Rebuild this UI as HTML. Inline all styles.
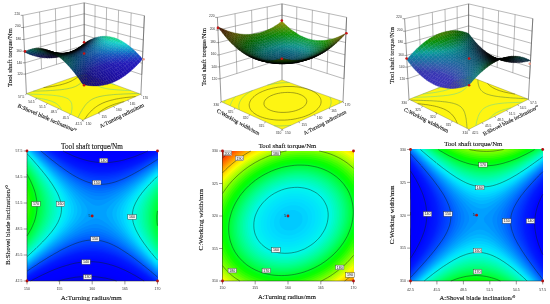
<!DOCTYPE html>
<html><head><meta charset="utf-8"><title>Response surfaces</title>
<style>
html,body{margin:0;padding:0;background:#fff}
body{width:550px;height:304px;overflow:hidden}
svg{display:block}
text{font-family:"Liberation Serif",serif;fill:#111;stroke:#111;stroke-width:.12px}
.sf path{fill:currentColor;stroke:currentColor;stroke-width:.35px}
.tk{font-family:"Liberation Sans",sans-serif;font-size:3.5px;fill:#333;stroke:none}
.tk3{font-family:"Liberation Sans",sans-serif;font-size:3.3px;fill:#333;stroke:none}
.lb{font-family:"Liberation Sans",sans-serif;font-size:3.6px;fill:#222;stroke:none}
</style></head><body>
<svg width="550" height="304" viewBox="0 0 550 304">
<rect width="550" height="304" fill="#fff"/>
<g>
<path d="M25.5,74.1L84.2,55.8L141.8,74.6M25,62.8L84.2,45.5L142.3,63.3M24.5,51.2L84.2,35.1L142.8,51.7M24,39.5L84.2,24.5L143.3,39.9M23.4,27.5L84.2,13.8L143.9,27.9M22.9,15.3L84.2,2.8L144.4,15.7M41.5,69.1L39.6,11.9M56.5,64.4L55.4,8.7M70.7,60L70.2,5.7M84.2,55.8L84.2,2.8M141.8,74.6L144.4,15.7M129.2,70.5L131.2,12.9M117.1,66.6L118.6,10.2M105.6,62.8L106.6,7.6M94.7,59.2L95.1,5.2" fill="none" stroke="#737373" stroke-width=".5"/>
<path d="M26.4,93.6L22.9,15.3M84.2,73.4L84.2,2.8M140.9,94.2L144.4,15.7" fill="none" stroke="#444" stroke-width=".55"/>
<path d="M82.8,120 140.9,94.2 84.2,73.4 26.4,93.6Z" fill="#fdf512" stroke="#6a6a30" stroke-width=".35"/>
<path d="M98.1,113.2l.4-.4 1.1-.9 2.4-1.6 1.1-.7 .1-.1 1.3-.8 2.6-1.4 1.4-.7 4.5-1.8 1.6-.6 1.7-.5 .6-.2 1.1-.3 1.7-.5 1.8-.5 1.9-.4 .8-.2" fill="none" stroke="#585816" stroke-width=".55"/>
<path d="M84.6,119.2l.7-1 2.4-3.3 .8-1 .9-1 .2-.2 .7-.8 1.9-1.9 1-.9 1-.8 .9-.7 .2-.2 1.1-.8 1.2-.8 1.2-.7 1.3-.7 2.8-1.4 3-1.2 3.2-1 1.8-.5 1.8-.4 1.1-.3 .7-.2 1.9-.4 2-.3 .8-.2 1.2-.2 2.1-.3 1.3-.2 .8-.1 2.2-.3 1.2-.1 1-.1 2.3-.2 .6-.1 1.6-.2 2.1-.1M80.4,74.8l-.1,0-.7,.7-.8,.7-.2,.1-.6,.5-.9,.7-.7,.5-.2,.1-.9,.7-1,.6-1.1,.6-.4,.2-.7,.4-1.1,.6-1.2,.5-1.3,.6-2.8,1-1.5,.5-1.5,.4-1.7,.5-1.7,.4-.5,.1-1.2,.3-1.8,.3-1.9,.4-1.2,.2-.8,.1-4,.6-.1,0-2.1,.3-2.1,.2" fill="none" stroke="#585816" stroke-width=".55"/>
<path d="M77.9,117.7l.6-1.2 .3-.5 .3-.7 .6-1.1 .6-1.2 .4-.6 .2-.5 .7-1.1 .1-.1 .5-1 .5-.8 .2-.3 .7-1 .4-.5 .3-.5 .7-1 .3-.4 .5-.6 .8-.9 1.8-1.8 1-.8 .3-.2 .8-.6 1.1-.7 1.3-.7 1.3-.6 1.5-.6 1.6-.5 1.7-.5 1.9-.4 .1,0 1.8-.4 2-.3 1.1-.2 1-.1 2.2-.3 .9,0 1.4-.2 2.3-.2 2.4-.2 1.1,0 1.3-.1 2.1-.1 .4,0 2.5-.2 .4,0 2.1-.1 1.1,0 1.5-.1 1.7,0 .9-.1 2.3-.1 3.1,0 2.4-.1M87.5,74.6l-.3,.5-.2,.3-.5,.8-.1,.1-.4,.6-.4,.7-.1,.1-.5,.8-.4,.4-.2,.3-.6,.8-.2,.2-.5,.6-2.2,2.2-.5,.4-.3,.3-1,.7-2,1.2-.1,.1-1.2,.6-1.3,.5-3,1-1.3,.3-.4,.1-1.8,.4-1.9,.4-1.7,.2-.4,.1-2.1,.3-1.8,.2-.4,0-2.2,.2-1.2,.1-1.1,.1-2.4,.2-.1,0-2.3,.1-1.1,.1-1.4,.1-2,.1-.5,0-2.6,.1-.1,0-2.4,.1-.8,0-1.8,.1-1.4,0-1.2,.1-1.9,0" fill="none" stroke="#64b273" stroke-width=".55"/>
<path d="M71,114.5l.2-.8 .1-.5 .2-.9 0-.5 .2-.9 0-.4 .2-1 0-.3 .1-1 0-1.7-.1-.9 0-.5-.1-.6-.2-.9-.1-.2-.4-1.1-.5-1-.7-.9-.3-.2-.6-.6-1-.8-1.3-.6-1.4-.6-1.6-.5-1.8-.5-.8-.1-1.1-.3-2.1-.3-1.3-.2-.8-.1-2.3-.2-.7-.1-1.6-.2-2-.1-.4,0-2.5-.2-.4,0-2.1-.1-1.1-.1-1.5-.1-1.7,0-.9-.1-2.2-.1-.4,0-2.6-.1-3.1,0-2.4-.1-.6,0M94.2,77.1l0,1.2 .1,.7 0,.3 .1,.8 0,.1 .2,.9 .3,.9 .1,.2 .3,.7 .4,.6 .1,.3 .7,.8 .5,.4 .3,.3 1,.7 1.1,.6 1.4,.6 1.5,.5 1.7,.4 1.8,.4 .7,.1 1.3,.3 2.1,.3 1,.1 1.2,.1 2.3,.2 .3,0 2,.2 1.5,.1 1,.1 2.3,.1 .1,0 2.6,.2 .5,0 2.1,.1 1,0 1.6,.1 1.5,0" fill="none" stroke="#69d496" stroke-width=".55"/>
<path d="M61.5,110.1l0-.2-.5-1.1-.5-1-.7-1-.5-.6-.3-.3-.8-.9-1-.8-1.1-.8-.8-.4-.4-.3-2.8-1.2-.6-.3-.9-.3-3.4-1-1.8-.4-1.2-.3-.7-.1-2-.4-2-.3-.1,0-2.1-.3-1.9-.2M108.7,82.4l.7,.3 1.3,.6 1.4,.5 1.5,.5 1.6,.5" fill="none" stroke="#69d496" stroke-width=".55"/>
<text x="22.7" y="75.2" class="tk3" text-anchor="end">120</text>
<text x="22.2" y="63.5" class="tk3" text-anchor="end">140</text>
<text x="21.7" y="51.6" class="tk3" text-anchor="end">160</text>
<text x="21.2" y="39.5" class="tk3" text-anchor="end">180</text>
<text x="20.6" y="27.2" class="tk3" text-anchor="end">200</text>
<text x="20.1" y="14.6" class="tk3" text-anchor="end">220</text>
<path d="M25.5,74.1h-2.2M25,62.8h-2.2M24.5,51.2h-2.2M24,39.5h-2.2M23.4,27.5h-2.2M22.9,15.3h-2.2" stroke="#444" stroke-width=".5"/>
<g class="sf">
<path color="#040604" d="M84.2,43.9l2-1.7-2,1.4-2,1.6z"/>
<path color="#040604" d="M82.1,45.5l2.1-1.6-2,1.3-2.1,1.6z"/>
<path color="#040706" d="M86.2,42.7l2-1.8-2,1.3-2,1.7z"/>
<path color="#040604" d="M80,47l2.1-1.5-2,1.3-2.1,1.5z"/>
<path color="#040604" d="M84.1,44.3l2.1-1.6-2,1.2-2.1,1.6z"/>
<path color="#040604" d="M77.9,48.4l2.1-1.4-2,1.3-2,1.4z"/>
<path color="#060b11" d="M88.2,41.6l2.1-1.8-2.1,1.1-2,1.8z"/>
<path color="#040604" d="M82,45.8l2.1-1.5-2,1.2-2.1,1.5z"/>
<path color="#040604" d="M75.8,49.7l2.1-1.3-1.9,1.3-2.1,1.2z"/>
<path color="#05080a" d="M86.1,43.2l2.1-1.6-2,1.1-2.1,1.6z"/>
<path color="#040604" d="M79.9,47.2l2.1-1.4-2,1.2-2.1,1.4z"/>
<path color="#091927" d="M90.3,40.6l2-1.7-2,.9-2.1,1.8z"/>
<path color="#040604" d="M73.7,50.9l2.1-1.2-1.9,1.2-2.2,1.2z"/>
<path color="#040706" d="M84.1,44.8l2-1.6-2,1.1-2.1,1.5z"/>
<path color="#040604" d="M77.8,48.5l2.1-1.3-2,1.2-2.1,1.3z"/>
<path color="#08111c" d="M88.2,42.3l2.1-1.7-2.1,1-2.1,1.6z"/>
<path color="#040604" d="M82,46.2l2.1-1.4-2.1,1-2.1,1.4z"/>
<path color="#040604" d="M71.6,51.9l2.1-1-2,1.2-2.1,1.1z"/>
<path color="#0c2f42" d="M92.4,39.9l2-1.8-2.1,.8-2,1.7z"/>
<path color="#040604" d="M75.7,49.7l2.1-1.2-2,1.2-2.1,1.2z"/>
<path color="#070c13" d="M86.1,43.9l2.1-1.6-2.1,.9-2,1.6z"/>
<path color="#040604" d="M79.9,47.5l2.1-1.3-2.1,1-2.1,1.3z"/>
<path color="#0b2337" d="M90.3,41.5l2.1-1.6-2.1,.7-2.1,1.7z"/>
<path color="#040604" d="M69.4,52.9l2.2-1-2,1.3-2.2,1z"/>
<path color="#05080b" d="M84,45.3l2.1-1.4-2,.9-2.1,1.4z"/>
<path color="#040604" d="M73.6,50.8l2.1-1.1-2,1.2-2.1,1z"/>
<path color="#104c5d" d="M94.5,39.2l2-1.8-2.1,.7-2,1.8z"/>
<path color="#0a192b" d="M88.2,43.1l2.1-1.6-2.1,.8-2.1,1.6z"/>
<path color="#040604" d="M77.7,48.8l2.2-1.3-2.1,1-2.1,1.2z"/>
<path color="#040605" d="M67.2,53.8l2.2-.9-2,1.3-2.1,.8z"/>
<path color="#0e3c53" d="M92.4,40.9l2.1-1.7-2.1,.7-2.1,1.6z"/>
<path color="#050707" d="M81.9,46.7l2.1-1.4-2,.9-2.1,1.3z"/>
<path color="#040604" d="M71.4,51.8l2.2-1-2,1.1-2.2,1z"/>
<path color="#091120" d="M86.1,44.6l2.1-1.5-2.1,.8-2.1,1.4z"/>
<path color="#136b76" d="M96.6,38.7l2.1-1.8-2.2,.5-2,1.8z"/>
<path color="#040604" d="M75.6,49.9l2.1-1.1-2,.9-2.1,1.1z"/>
<path color="#050608" d="M65,54.6l2.2-.8-1.9,1.2-2.2,.8z"/>
<path color="#0d2e47" d="M90.3,42.5l2.1-1.6-2.1,.6-2.1,1.6z"/>
<path color="#040604" d="M79.8,47.9l2.1-1.2-2,.8-2.2,1.3z"/>
<path color="#040604" d="M69.2,52.7l2.2-.9-2,1.1-2.2,.9z"/>
<path color="#12586d" d="M94.5,40.5l2.1-1.8-2.1,.5-2.1,1.7z"/>
<path color="#070c15" d="M84,46l2.1-1.4-2.1,.7-2.1,1.4z"/>
<path color="#040604" d="M73.4,50.9l2.2-1-2,.9-2.2,1z"/>
<path color="#168a8b" d="M98.8,38.4l2-1.9-2.1,.4-2.1,1.8z"/>
<path color="#0c223b" d="M88.2,44l2.1-1.5-2.1,.6-2.1,1.5z"/>
<path color="#06070d" d="M62.8,55.2l2.2-.6-1.9,1.2-2.2,.6z"/>
<path color="#040604" d="M77.6,49.1l2.2-1.2-2.1,.9-2.1,1.1z"/>
<path color="#104763" d="M92.4,42.1l2.1-1.6-2.1,.4-2.1,1.6z"/>
<path color="#040604" d="M67,53.5l2.2-.8-2,1.1-2.2,.8z"/>
<path color="#06090d" d="M81.8,47.2l2.2-1.2-2.1,.7-2.1,1.2z"/>
<path color="#040604" d="M71.2,51.8l2.2-.9-2,.9-2.2,.9z"/>
<path color="#147583" d="M96.7,40.2l2.1-1.8-2.2,.3-2.1,1.8z"/>
<path color="#0b192f" d="M86.1,45.4l2.1-1.4-2.1,.6-2.1,1.4z"/>
<path color="#070713" d="M60.6,55.8l2.2-.6-1.9,1.2-2.3,.6z"/>
<path color="#040604" d="M75.4,50.1l2.2-1-2,.8-2.2,1z"/>
<path color="#18a296" d="M100.9,38.2l2.1-1.9-2.2,.2-2,1.9z"/>
<path color="#0f3958" d="M90.3,43.6l2.1-1.5-2.1,.4-2.1,1.5z"/>
<path color="#040606" d="M64.8,54.2l2.2-.7-2,1.1-2.2,.6z"/>
<path color="#050707" d="M79.7,48.4l2.1-1.2-2,.7-2.2,1.2z"/>
<path color="#13627b" d="M94.6,41.8l2.1-1.6-2.2,.3-2.1,1.6z"/>
<path color="#040604" d="M69,52.6l2.2-.8-2,.9-2.2,.8z"/>
<path color="#091223" d="M83.9,46.7l2.2-1.3-2.1,.6-2.2,1.2z"/>
<path color="#179096" d="M98.8,40l2.1-1.8-2.1,.2-2.1,1.8z"/>
<path color="#040604" d="M73.3,51l2.1-.9-2,.8-2.2,.9z"/>
<path color="#0e2c4c" d="M88.2,45l2.1-1.4-2.1,.4-2.1,1.4z"/>
<path color="#08081b" d="M58.3,56.2l2.3-.4-2,1.2-2.2,.4z"/>
<path color="#19b192" d="M103.1,38.2l2.1-1.9-2.2,0-2.1,1.9z"/>
<path color="#040605" d="M77.5,49.5l2.2-1.1-2.1,.7-2.2,1z"/>
<path color="#050609" d="M62.5,54.8l2.3-.6-2,1-2.2,.6z"/>
<path color="#125171" d="M92.5,43.4l2.1-1.6-2.2,.3-2.1,1.5z"/>
<path color="#070d17" d="M81.8,47.9l2.1-1.2-2.1,.5-2.1,1.2z"/>
<path color="#040604" d="M66.8,53.3l2.2-.7-2,.9-2.2,.7z"/>
<path color="#157c8f" d="M96.7,41.7l2.1-1.7-2.1,.2-2.1,1.6z"/>
<path color="#0d223f" d="M86,46.3l2.2-1.3-2.1,.4-2.2,1.3z"/>
<path color="#040604" d="M71,51.9l2.3-.9-2.1,.8-2.2,.8z"/>
<path color="#18a8a5" d="M101,40l2.1-1.8-2.2,0-2.1,1.8z"/>
<path color="#0a0823" d="M56,56.6l2.3-.4-1.9,1.2-2.3,.3z"/>
<path color="#104367" d="M90.3,44.8l2.2-1.4-2.2,.2-2.1,1.4z"/>
<path color="#040604" d="M75.3,50.4l2.2-.9-2.1,.6-2.1,.9z"/>
<path color="#1abc8e" d="M105.3,38.4l2.1-2-2.2-.1-2.1,1.9z"/>
<path color="#06070f" d="M60.3,55.2l2.2-.4-1.9,1-2.3,.4z"/>
<path color="#06090e" d="M79.6,49l2.2-1.1-2.1,.5-2.2,1.1z"/>
<path color="#146a87" d="M94.6,43.3l2.1-1.6-2.1,.1-2.1,1.6z"/>
<path color="#040604" d="M64.5,53.9l2.3-.6-2,.9-2.3,.6z"/>
<path color="#0b1932" d="M83.9,47.5l2.1-1.2-2.1,.4-2.1,1.2z"/>
<path color="#17939f" d="M98.9,41.7l2.1-1.7-2.2,0-2.1,1.7z"/>
<path color="#040604" d="M68.8,52.6l2.2-.7-2,.7-2.2,.7z"/>
<path color="#0f365c" d="M88.2,46.1l2.1-1.3-2.1,.2-2.2,1.3z"/>
<path color="#19b8aa" d="M103.2,40.2l2.1-1.8-2.2-.2-2.1,1.8z"/>
<path color="#0b092a" d="M53.7,56.8l2.3-.2-1.9,1.1-2.3,.2z"/>
<path color="#040604" d="M73.1,51.2l2.2-.8-2,.6-2.3,.9z"/>
<path color="#13597e" d="M92.5,44.7l2.1-1.4-2.1,.1-2.2,1.4z"/>
<path color="#070816" d="M58,55.6l2.3-.4-2,1-2.3,.4z"/>
<path color="#1bc58a" d="M107.6,38.7l2-2-2.2-.3-2.1,2z"/>
<path color="#050708" d="M77.4,49.9l2.2-.9-2.1,.5-2.2,.9z"/>
<path color="#167f98" d="M96.8,43.3l2.1-1.6-2.2,0-2.1,1.6z"/>
<path color="#040606" d="M62.3,54.4l2.2-.5-2,.9-2.2,.4z"/>
<path color="#091326" d="M81.7,48.6l2.2-1.1-2.1,.4-2.2,1.1z"/>
<path color="#040604" d="M66.6,53.2l2.2-.6-2,.7-2.3,.6z"/>
<path color="#18a6ac" d="M101.1,41.9l2.1-1.7-2.2-.2-2.1,1.7z"/>
<path color="#0e2b50" d="M86,47.4l2.2-1.3-2.2,.2-2.1,1.2z"/>
<path color="#040604" d="M70.9,52l2.2-.8-2.1,.7-2.2,.7z"/>
<path color="#1ac1aa" d="M105.5,40.5l2.1-1.8-2.3-.3-2.1,1.8z"/>
<path color="#0d0a32" d="M51.4,56.9l2.3-.1-1.9,1.1-2.3,.1z"/>
<path color="#114b74" d="M90.3,46.1l2.2-1.4-2.2,.1-2.1,1.3z"/>
<path color="#040605" d="M75.2,50.8l2.2-.9-2.1,.5-2.2,.8z"/>
<path color="#09081e" d="M55.7,55.8l2.3-.2-2,1-2.3,.2z"/>
<path color="#1bcc88" d="M109.8,39.2l2.1-2-2.3-.5-2,2z"/>
<path color="#156e91" d="M94.7,44.8l2.1-1.5-2.2,0-2.1,1.4z"/>
<path color="#080e1a" d="M79.5,49.6l2.2-1-2.1,.4-2.2,.9z"/>
<path color="#05070b" d="M60,54.7l2.3-.3-2,.8-2.3,.4z"/>
<path color="#1792a7" d="M99,43.5l2.1-1.6-2.2-.2-2.1,1.6z"/>
<path color="#0d2243" d="M83.8,48.5l2.2-1.1-2.1,.1-2.2,1.1z"/>
<path color="#040604" d="M64.3,53.6l2.3-.4-2.1,.7-2.2,.5z"/>
<path color="#19b5b6" d="M103.3,42.3l2.2-1.8-2.3-.3-2.1,1.7z"/>
<path color="#113f6a" d="M88.2,47.3l2.1-1.2-2.1,0-2.2,1.3z"/>
<path color="#040604" d="M68.6,52.6l2.3-.6-2.1,.6-2.2,.6z"/>
<path color="#1ac8aa" d="M107.7,41.1l2.1-1.9-2.2-.5-2.1,1.8z"/>
<path color="#0e0b39" d="M49,56.9l2.4,0-1.9,1.1-2.4,0z"/>
<path color="#135f89" d="M92.5,46.2l2.2-1.4-2.2-.1-2.2,1.4z"/>
<path color="#040604" d="M72.9,51.5l2.3-.7-2.1,.4-2.2,.8z"/>
<path color="#1ad18a" d="M112.1,39.8l2.1-2-2.3-.6-2.1,2z"/>
<path color="#0a0926" d="M53.3,55.9l2.4-.1-2,1-2.3,.1z"/>
<path color="#060a0f" d="M77.3,50.5l2.2-.9-2.1,.3-2.2,.9z"/>
<path color="#1680a0" d="M96.9,45.1l2.1-1.6-2.2-.2-2.1,1.5z"/>
<path color="#060711" d="M57.7,55l2.3-.3-2,.9-2.3,.2z"/>
<path color="#0b1b35" d="M81.6,49.5l2.2-1-2.1,.1-2.2,1z"/>
<path color="#18a0b1" d="M101.2,43.9l2.1-1.6-2.2-.4-2.1,1.6z"/>
<path color="#040605" d="M62,54l2.3-.4-2,.8-2.3,.3z"/>
<path color="#10345e" d="M86,48.5l2.2-1.2-2.2,.1-2.2,1.1z"/>
<path color="#19bfbe" d="M105.6,42.8l2.1-1.7-2.2-.6-2.2,1.8z"/>
<path color="#040604" d="M66.3,53.1l2.3-.5-2,.6-2.3,.4z"/>
<path color="#125280" d="M90.3,47.5l2.2-1.3-2.2-.1-2.1,1.2z"/>
<path color="#1acead" d="M110,41.7l2.1-1.9-2.3-.6-2.1,1.9z"/>
<path color="#040604" d="M70.7,52.2l2.2-.7-2,.5-2.3,.6z"/>
<path color="#157099" d="M94.7,46.5l2.2-1.4-2.2-.3-2.2,1.4z"/>
<path color="#0f0c3f" d="M46.6,56.7l2.4,.2-1.9,1.1-2.4-.2z"/>
<path color="#1ad48f" d="M114.3,40.6l2.1-2-2.2-.8-2.1,2z"/>
<path color="#050708" d="M75,51.3l2.3-.8-2.1,.3-2.3,.7z"/>
<path color="#0c0a2e" d="M51,55.9l2.3,0-1.9,1-2.4,0z"/>
<path color="#178eac" d="M99.1,45.5l2.1-1.6-2.2-.4-2.1,1.6z"/>
<path color="#091428" d="M79.4,50.4l2.2-.9-2.1,.1-2.2,.9z"/>
<path color="#080819" d="M55.3,55.1l2.4-.1-2,.8-2.4,.1z"/>
<path color="#18aaba" d="M103.5,44.5l2.1-1.7-2.3-.5-2.1,1.6z"/>
<path color="#0e2b52" d="M83.8,49.5l2.2-1-2.2,0-2.2,1z"/>
<path color="#050607" d="M59.7,54.3l2.3-.3-2,.7-2.3,.3z"/>
<path color="#19c5c4" d="M107.8,43.5l2.2-1.8-2.3-.6-2.1,1.7z"/>
<path color="#114676" d="M88.1,48.6l2.2-1.1-2.1-.2-2.2,1.2z"/>
<path color="#040604" d="M64,53.5l2.3-.4-2,.5-2.3,.4z"/>
<path color="#19d1b4" d="M112.2,42.6l2.1-2-2.2-.8-2.1,1.9z"/>
<path color="#146291" d="M92.5,47.8l2.2-1.3-2.2-.3-2.2,1.3z"/>
<path color="#040604" d="M68.4,52.7l2.3-.5-2.1,.4-2.3,.5z"/>
<path color="#19d698" d="M116.6,41.6l2.1-2-2.3-1-2.1,2z"/>
<path color="#167da6" d="M96.9,46.9l2.2-1.4-2.2-.4-2.2,1.4z"/>
<path color="#040605" d="M72.8,51.9l2.2-.6-2.1,.2-2.2,.7z"/>
<path color="#100d45" d="M44.2,56.5l2.4,.2-1.9,1.1-2.4-.2z"/>
<path color="#1797b5" d="M101.3,46.1l2.2-1.6-2.3-.6-2.1,1.6z"/>
<path color="#070f1b" d="M77.2,51.2l2.2-.8-2.1,.1-2.3,.8z"/>
<path color="#0d0b35" d="M48.6,55.8l2.4,.1-2,1-2.4-.2z"/>
<path color="#0d2345" d="M81.6,50.4l2.2-.9-2.2,0-2.2,.9z"/>
<path color="#18afc0" d="M105.7,45.2l2.1-1.7-2.2-.7-2.1,1.7z"/>
<path color="#090a21" d="M53,55.1l2.3,0-2,.8-2.3,0z"/>
<path color="#103c6b" d="M85.9,49.7l2.2-1.1-2.1-.1-2.2,1z"/>
<path color="#19c6c7" d="M110.1,44.4l2.1-1.8-2.2-.9-2.2,1.8z"/>
<path color="#06070c" d="M57.3,54.4l2.4-.1-2,.7-2.4,.1z"/>
<path color="#125689" d="M90.3,48.9l2.2-1.1-2.2-.3-2.2,1.1z"/>
<path color="#040604" d="M61.7,53.8l2.3-.3-2,.5-2.3,.3z"/>
<path color="#19d3be" d="M114.5,43.6l2.1-2-2.3-1-2.1,2z"/>
<path color="#040604" d="M66.1,53.1l2.3-.4-2.1,.4-2.3,.4z"/>
<path color="#156f9f" d="M94.7,48.2l2.2-1.3-2.2-.4-2.2,1.3z"/>
<path color="#18d6a5" d="M119,42.8l2.1-2.1-2.4-1.1-2.1,2z"/>
<path color="#040604" d="M70.5,52.5l2.3-.6-2.1,.3-2.3,.5z"/>
<path color="#1686af" d="M99.2,47.5l2.1-1.4-2.2-.6-2.2,1.4z"/>
<path color="#060b10" d="M74.9,51.8l2.3-.6-2.2,.1-2.2,.6z"/>
<path color="#179cbb" d="M103.6,46.8l2.1-1.6-2.2-.7-2.2,1.6z"/>
<path color="#110e4a" d="M41.8,56.1l2.4,.4-1.9,1.1-2.4-.4z"/>
<path color="#0b1c37" d="M79.3,51.2l2.3-.8-2.2,0-2.2,.8z"/>
<path color="#18b0c4" d="M108,46.1l2.1-1.7-2.3-.9-2.1,1.7z"/>
<path color="#0e0d3b" d="M46.2,55.5l2.4,.3-2,.9-2.4-.2z"/>
<path color="#0f3460" d="M83.7,50.6l2.2-.9-2.1-.2-2.2,.9z"/>
<path color="#0b0c29" d="M50.6,55l2.4,.1-2,.8-2.4-.1z"/>
<path color="#18c3ca" d="M112.4,45.5l2.1-1.9-2.3-1-2.1,1.8z"/>
<path color="#124b80" d="M88.1,50l2.2-1.1-2.2-.3-2.2,1.1z"/>
<path color="#070913" d="M55,54.4l2.3,0-2,.7-2.3,0z"/>
<path color="#18d4cb" d="M116.9,44.8l2.1-2-2.4-1.2-2.1,2z"/>
<path color="#136298" d="M92.6,49.4l2.1-1.2-2.2-.4-2.2,1.1z"/>
<path color="#040605" d="M59.4,53.9l2.3-.1-2,.5-2.4,.1z"/>
<path color="#17d6b6" d="M121.3,44.2l2.1-2.2-2.3-1.3-2.1,2.1z"/>
<path color="#1577aa" d="M97,48.9l2.2-1.4-2.3-.6-2.2,1.3z"/>
<path color="#040604" d="M63.8,53.4l2.3-.3-2.1,.4-2.3,.3z"/>
<path color="#168bb6" d="M101.4,48.3l2.2-1.5-2.3-.7-2.1,1.4z"/>
<path color="#040604" d="M68.2,52.9l2.3-.4-2.1,.2-2.3,.4z"/>
<path color="#050809" d="M72.6,52.4l2.3-.6-2.1,.1-2.3,.6z"/>
<path color="#179dc0" d="M105.8,47.8l2.2-1.7-2.3-.9-2.1,1.6z"/>
<path color="#091629" d="M77,51.9l2.3-.7-2.1,0-2.3,.6z"/>
<path color="#17adc6" d="M110.3,47.2l2.1-1.7-2.3-1.1-2.1,1.7z"/>
<path color="#12114e" d="M39.3,55.6l2.5,.5-1.9,1.1-2.5-.5z"/>
<path color="#0e2c53" d="M81.5,51.4l2.2-.8-2.1-.2-2.3,.8z"/>
<path color="#17bccb" d="M114.7,46.7l2.2-1.9-2.4-1.2-2.1,1.9z"/>
<path color="#101241" d="M43.7,55.2l2.5,.3-2,1-2.4-.4z"/>
<path color="#114276" d="M85.9,51l2.2-1-2.2-.3-2.2,.9z"/>
<path color="#17cace" d="M119.2,46.2l2.1-2-2.3-1.4-2.1,2z"/>
<path color="#0c1030" d="M48.1,54.7l2.5,.3-2,.8-2.4-.3z"/>
<path color="#125790" d="M90.4,50.5l2.2-1.1-2.3-.5-2.2,1.1z"/>
<path color="#16d5cc" d="M123.6,45.7l2.1-2.2-2.3-1.5-2.1,2.2z"/>
<path color="#070c1b" d="M52.6,54.3l2.4,.1-2,.7-2.4-.1z"/>
<path color="#146aa3" d="M94.8,50.1l2.2-1.2-2.3-.7-2.1,1.2z"/>
<path color="#050708" d="M57,53.9l2.4,0-2.1,.5-2.3,0z"/>
<path color="#157cb1" d="M99.2,49.7l2.2-1.4-2.2-.8-2.2,1.4z"/>
<path color="#040604" d="M61.4,53.6l2.4-.2-2.1,.4-2.3,.1z"/>
<path color="#168cbb" d="M103.7,49.3l2.1-1.5-2.2-1-2.2,1.5z"/>
<path color="#040604" d="M65.9,53.2l2.3-.3-2.1,.2-2.3,.3z"/>
<path color="#169ac3" d="M108.1,48.9l2.2-1.7-2.3-1.1-2.2,1.7z"/>
<path color="#040605" d="M70.3,52.8l2.3-.4-2.1,.1-2.3,.4z"/>
<path color="#16a6c8" d="M112.6,48.5l2.1-1.8-2.3-1.2-2.1,1.7z"/>
<path color="#07111c" d="M74.8,52.5l2.2-.6-2.1-.1-2.3,.6z"/>
<path color="#16b2cb" d="M117.1,48.1l2.1-1.9-2.3-1.4-2.2,1.9z"/>
<path color="#0c2546" d="M79.2,52.2l2.3-.8-2.2-.2-2.3,.7z"/>
<path color="#15bccd" d="M121.5,47.7l2.1-2-2.3-1.5-2.1,2z"/>
<path color="#103b6b" d="M83.7,51.8l2.2-.8-2.2-.4-2.2,.8z"/>
<path color="#15c5ce" d="M126,47.4l2.1-2.2-2.4-1.7-2.1,2.2z"/>
<path color="#111853" d="M36.8,55l2.5,.6-1.9,1.1-2.5-.7z"/>
<path color="#124e87" d="M88.1,51.5l2.3-1-2.3-.5-2.2,1z"/>
<path color="#0e1747" d="M41.2,54.7l2.5,.5-1.9,.9-2.5-.5z"/>
<path color="#135f9c" d="M92.6,51.2l2.2-1.1-2.2-.7-2.2,1.1z"/>
<path color="#0b1437" d="M45.7,54.4l2.4,.3-1.9,.8-2.5-.3z"/>
<path color="#146fac" d="M97,50.9l2.2-1.2-2.2-.8-2.2,1.2z"/>
<path color="#080f23" d="M50.1,54.1l2.5,.2-2,.7-2.5-.3z"/>
<path color="#157cb7" d="M101.5,50.7l2.2-1.4-2.3-1-2.2,1.4z"/>
<path color="#05090d" d="M54.6,53.9l2.4,0-2,.5-2.4-.1z"/>
<path color="#1588bf" d="M106,50.4l2.1-1.5-2.3-1.1-2.1,1.5z"/>
<path color="#040604" d="M59.1,53.6l2.3,0-2,.3-2.4,0z"/>
<path color="#1592c4" d="M110.5,50.2l2.1-1.7-2.3-1.3-2.2,1.7z"/>
<path color="#040604" d="M63.5,53.4l2.4-.2-2.1,.2-2.4,.2z"/>
<path color="#159cc8" d="M114.9,49.9l2.2-1.8-2.4-1.4-2.1,1.8z"/>
<path color="#040604" d="M68,53.2l2.3-.4-2.1,.1-2.3,.3z"/>
<path color="#15a4ca" d="M119.4,49.7l2.1-2-2.3-1.5-2.1,1.9z"/>
<path color="#060c11" d="M72.5,53l2.3-.5-2.2-.1-2.3,.4z"/>
<path color="#14abcc" d="M123.9,49.5l2.1-2.1-2.4-1.7-2.1,2z"/>
<path color="#0a1f38" d="M76.9,52.8l2.3-.6-2.2-.3-2.2,.6z"/>
<path color="#14b1cc" d="M128.4,49.3l2.1-2.2-2.4-1.9-2.1,2.2z"/>
<path color="#0e345f" d="M81.4,52.6l2.3-.8-2.2-.4-2.3,.8z"/>
<path color="#11477e" d="M85.9,52.4l2.2-.9-2.2-.5-2.2,.8z"/>
<path color="#125695" d="M90.4,52.2l2.2-1-2.2-.7-2.3,1z"/>
<path color="#1363a6" d="M94.8,52.1l2.2-1.2-2.2-.8-2.2,1.1z"/>
<path color="#146fb2" d="M99.3,52l2.2-1.3-2.3-1-2.2,1.2z"/>
<path color="#0e1f56" d="M34.2,54.2l2.6,.8-1.9,1-2.6-.7z"/>
<path color="#1478ba" d="M103.8,51.8l2.2-1.4-2.3-1.1-2.2,1.4z"/>
<path color="#0c1d4c" d="M38.7,54l2.5,.7-1.9,.9-2.5-.6z"/>
<path color="#1480c0" d="M108.3,51.7l2.2-1.5-2.4-1.3-2.1,1.5z"/>
<path color="#0a193d" d="M43.2,53.9l2.5,.5-2,.8-2.5-.5z"/>
<path color="#1487c5" d="M112.8,51.6l2.1-1.7-2.3-1.4-2.1,1.7z"/>
<path color="#07142a" d="M47.7,53.8l2.4,.3-2,.6-2.4-.3z"/>
<path color="#148dc7" d="M117.3,51.5l2.1-1.8-2.3-1.6-2.2,1.8z"/>
<path color="#050c14" d="M52.2,53.6l2.4,.3-2,.4-2.5-.2z"/>
<path color="#1492c9" d="M121.8,51.5l2.1-2-2.4-1.8-2.1,2z"/>
<path color="#040605" d="M56.7,53.5l2.4,.1-2.1,.3-2.4,0z"/>
<path color="#1396ca" d="M126.3,51.4l2.1-2.1-2.4-1.9-2.1,2.1z"/>
<path color="#1299ca" d="M130.7,51.4l2.1-2.3-2.3-2-2.1,2.2z"/>
<path color="#040604" d="M61.1,53.4l2.4,0-2.1,.2-2.3,0z"/>
<path color="#040604" d="M65.6,53.4l2.4-.2-2.1,0-2.4,.2z"/>
<path color="#050809" d="M70.1,53.3l2.4-.3-2.2-.2-2.3,.4z"/>
<path color="#08192a" d="M74.6,53.2l2.3-.4-2.1-.3-2.3,.5z"/>
<path color="#0c2d53" d="M79.1,53.2l2.3-.6-2.2-.4-2.3,.6z"/>
<path color="#104074" d="M83.6,53.2l2.3-.8-2.2-.6-2.3,.8z"/>
<path color="#124f8d" d="M88.1,53.1l2.3-.9-2.3-.7-2.2,.9z"/>
<path color="#135b9f" d="M92.6,53.1l2.2-1-2.2-.9-2.2,1z"/>
<path color="#1464ac" d="M97.1,53.1l2.2-1.1-2.3-1.1-2.2,1.2z"/>
<path color="#146bb6" d="M101.6,53.2l2.2-1.4-2.3-1.1-2.2,1.3z"/>
<path color="#1471bc" d="M106.1,53.2l2.2-1.5-2.3-1.3-2.2,1.4z"/>
<path color="#1375c1" d="M110.6,53.2l2.2-1.6-2.3-1.4-2.2,1.5z"/>
<path color="#1379c4" d="M115.1,53.3l2.2-1.8-2.4-1.6-2.1,1.7z"/>
<path color="#137bc6" d="M119.6,53.3l2.2-1.8-2.4-1.8-2.1,1.8z"/>
<path color="#127dc7" d="M124.1,53.4l2.2-2-2.4-1.9-2.1,2z"/>
<path color="#127fc8" d="M128.6,53.5l2.1-2.1-2.3-2.1-2.1,2.1z"/>
<path color="#117fc7" d="M133.1,53.6l2.1-2.3-2.4-2.2-2.1,2.3z"/>
<path color="#0a275a" d="M31.7,53.3l2.5,.9-1.9,1.1-2.5-.9z"/>
<path color="#092550" d="M36.2,53.3l2.5,.7-1.9,1-2.6-.8z"/>
<path color="#082043" d="M40.7,53.3l2.5,.6-2,.8-2.5-.7z"/>
<path color="#061a32" d="M45.2,53.3l2.5,.5-2,.6-2.5-.5z"/>
<path color="#05111c" d="M49.7,53.3l2.5,.3-2.1,.5-2.4-.3z"/>
<path color="#040808" d="M54.2,53.3l2.5,.2-2.1,.4-2.4-.3z"/>
<path color="#040604" d="M58.7,53.4l2.4,0-2,.2-2.4-.1z"/>
<path color="#040604" d="M63.3,53.4l2.3,0-4.5,0z"/>
<path color="#040705" d="M67.8,53.5l2.3-.2-2.1-.1-2.4,.2z"/>
<path color="#06131d" d="M72.3,53.6l2.3-.4-2.1-.2-2.4,.3z"/>
<path color="#0a2745" d="M76.8,53.7l2.3-.5-2.2-.4-2.3,.4z"/>
<path color="#0e3a69" d="M81.3,53.8l2.3-.6-2.2-.6-2.3,.6z"/>
<path color="#114984" d="M85.8,53.9l2.3-.8-2.2-.7-2.3,.8z"/>
<path color="#125398" d="M90.4,54.1l2.2-1-2.2-.9-2.3,.9z"/>
<path color="#145ba6" d="M94.9,54.2l2.2-1.1-2.3-1-2.2,1z"/>
<path color="#1460b1" d="M99.4,54.4l2.2-1.2-2.3-1.2-2.2,1.1z"/>
<path color="#1564b8" d="M103.9,54.5l2.2-1.3-2.3-1.4-2.2,1.4z"/>
<path color="#1567bd" d="M108.4,54.7l2.2-1.5-2.3-1.5-2.2,1.5z"/>
<path color="#1568c1" d="M113,54.9l2.1-1.6-2.3-1.7-2.2,1.6z"/>
<path color="#1568c3" d="M117.5,55.1l2.1-1.8-2.3-1.8-2.2,1.8z"/>
<path color="#1568c4" d="M122,55.3l2.1-1.9-2.3-1.9-2.2,1.8z"/>
<path color="#1567c5" d="M126.5,55.6l2.1-2.1-2.3-2.1-2.2,2z"/>
<path color="#1465c5" d="M131,55.8l2.1-2.2-2.4-2.2-2.1,2.1z"/>
<path color="#1463c4" d="M135.5,56.1l2.1-2.4-2.4-2.4-2.1,2.3z"/>
<path color="#05345d" d="M29.1,52.3l2.6,1-1.9,1.1-2.6-1.1z"/>
<path color="#053054" d="M33.6,52.4l2.6,.9-2,.9-2.5-.9z"/>
<path color="#052a48" d="M38.1,52.5l2.6,.8-2,.7-2.5-.7z"/>
<path color="#052239" d="M42.7,52.7l2.5,.6-2,.6-2.5-.6z"/>
<path color="#041724" d="M47.2,52.8l2.5,.5-2,.5-2.5-.5z"/>
<path color="#040b0e" d="M51.8,53l2.4,.3-2,.3-2.5-.3z"/>
<path color="#040604" d="M56.3,53.2l2.4,.2-2,.1-2.5-.2z"/>
<path color="#040604" d="M60.8,53.4l2.5,0-4.6,0z"/>
<path color="#040604" d="M65.4,53.6l2.4-.1-2.2-.1-2.3,0z"/>
<path color="#1a49c1" d="M138,58.7l2.1-2.4-2.5-2.6-2.1,2.4z"/>
<path color="#050d12" d="M69.9,53.8l2.4-.2-2.2-.3-2.3,.2z"/>
<path color="#194dc2" d="M133.4,58.3l2.1-2.2-2.4-2.5-2.1,2.2z"/>
<path color="#092238" d="M74.5,54.1l2.3-.4-2.2-.5-2.3,.4z"/>
<path color="#194fc3" d="M128.9,57.9l2.1-2.1-2.4-2.3-2.1,2.1z"/>
<path color="#0c355d" d="M79,54.3l2.3-.5-2.2-.6-2.3,.5z"/>
<path color="#1952c2" d="M124.4,57.5l2.1-1.9-2.4-2.2-2.1,1.9z"/>
<path color="#0f437b" d="M83.6,54.6l2.2-.7-2.2-.7-2.3,.6z"/>
<path color="#1855c2" d="M119.9,57.1l2.1-1.8-2.4-2-2.1,1.8z"/>
<path color="#124d90" d="M88.1,54.9l2.3-.8-2.3-1-2.3,.8z"/>
<path color="#1857c0" d="M115.3,56.8l2.2-1.7-2.4-1.8-2.1,1.6z"/>
<path color="#1354a0" d="M92.6,55.2l2.3-1-2.3-1.1-2.2,1z"/>
<path color="#1759bd" d="M110.8,56.4l2.2-1.5-2.4-1.7-2.2,1.5z"/>
<path color="#1558ab" d="M97.2,55.5l2.2-1.1-2.3-1.3-2.2,1.1z"/>
<path color="#175ab9" d="M106.3,56.1l2.1-1.4-2.3-1.5-2.2,1.3z"/>
<path color="#165ab3" d="M101.7,55.8l2.2-1.3-2.3-1.3-2.2,1.2z"/>
<path color="#2134bf" d="M140.4,61.5l2.1-2.4-2.4-2.8-2.1,2.4z"/>
<path color="#1f38bf" d="M135.9,60.9l2.1-2.2-2.5-2.6-2.1,2.2z"/>
<path color="#1e3cc0" d="M131.3,60.4l2.1-2.1-2.4-2.5-2.1,2.1z"/>
<path color="#1d41c0" d="M126.8,59.9l2.1-2-2.4-2.3-2.1,1.9z"/>
<path color="#1c44bf" d="M122.2,59.3l2.2-1.8-2.4-2.2-2.1,1.8z"/>
<path color="#1b48be" d="M117.7,58.8l2.2-1.7-2.4-2-2.2,1.7z"/>
<path color="#1a4bbd" d="M113.1,58.3l2.2-1.5-2.3-1.9-2.2,1.5z"/>
<path color="#194db9" d="M108.6,57.8l2.2-1.4-2.4-1.7-2.1,1.4z"/>
<path color="#184fb5" d="M104,57.4l2.3-1.3-2.4-1.6-2.2,1.3z"/>
<path color="#1651af" d="M99.5,56.9l2.2-1.1-2.3-1.4-2.2,1.1z"/>
<path color="#1451a6" d="M94.9,56.4l2.3-.9-2.3-1.3-2.3,1z"/>
<path color="#134e99" d="M90.4,56l2.2-.8-2.2-1.1-2.3,.8z"/>
<path color="#104988" d="M85.8,55.6l2.3-.7-2.3-1-2.2,.7z"/>
<path color="#0e3f71" d="M81.2,55.1l2.4-.5-2.3-.8-2.3,.5z"/>
<path color="#0a3051" d="M76.7,54.7l2.3-.4-2.2-.6-2.3,.4z"/>
<path color="#071b2a" d="M72.1,54.3l2.4-.2-2.2-.5-2.4,.2z"/>
<path color="#04435f" d="M26.4,51.1l2.7,1.2-1.9,1-2.7-1.1z"/>
<path color="#040909" d="M67.6,54l2.3-.2-2.1-.3-2.4,.1z"/>
<path color="#043d57" d="M31,51.4l2.6,1-1.9,.9-2.6-1z"/>
<path color="#040604" d="M63,53.6l2.4,0-2.1-.2-2.5,0z"/>
<path color="#04364d" d="M35.6,51.7l2.5,.8-1.9,.8-2.6-.9z"/>
<path color="#040604" d="M58.4,53.2l2.4,.2-2.1,0-2.4-.2z"/>
<path color="#042c3f" d="M40.1,51.9l2.6,.8-2,.6-2.6-.8z"/>
<path color="#040705" d="M53.8,52.9l2.5,.3-2.1,.1-2.4-.3z"/>
<path color="#041f2c" d="M44.7,52.3l2.5,.5-2,.5-2.5-.6z"/>
<path color="#041015" d="M49.3,52.6l2.5,.4-2.1,.3-2.5-.5z"/>
<path color="#2422bd" d="M138.3,63.8l2.1-2.3-2.4-2.8-2.1,2.2z"/>
<path color="#2428bd" d="M133.7,63.1l2.2-2.2-2.5-2.6-2.1,2.1z"/>
<path color="#232ebd" d="M129.2,62.4l2.1-2-2.4-2.5-2.1,2z"/>
<path color="#2133bd" d="M124.6,61.7l2.2-1.8-2.4-2.4-2.2,1.8z"/>
<path color="#1f39bc" d="M120.1,61.1l2.1-1.8-2.3-2.2-2.2,1.7z"/>
<path color="#1d3dbb" d="M115.5,60.4l2.2-1.6-2.4-2-2.2,1.5z"/>
<path color="#1c42b9" d="M111,59.8l2.1-1.5-2.3-1.9-2.2,1.4z"/>
<path color="#1a45b5" d="M106.4,59.1l2.2-1.3-2.3-1.7-2.3,1.3z"/>
<path color="#1848b0" d="M101.8,58.5l2.2-1.1-2.3-1.6-2.2,1.1z"/>
<path color="#164aa9" d="M97.2,57.9l2.3-1-2.3-1.4-2.3,.9z"/>
<path color="#144b9f" d="M92.7,57.3l2.2-.9-2.3-1.2-2.2,.8z"/>
<path color="#114a92" d="M88.1,56.7l2.3-.7-2.3-1.1-2.3,.7z"/>
<path color="#0f457f" d="M83.5,56.1l2.3-.5-2.2-1-2.4,.5z"/>
<path color="#0c3b66" d="M78.9,55.6l2.3-.5-2.2-.8-2.3,.4z"/>
<path color="#092b44" d="M74.3,55l2.4-.3-2.2-.6-2.4,.2z"/>
<path color="#06151d" d="M69.7,54.5l2.4-.2-2.2-.5-2.3,.2z"/>
<path color="#040705" d="M65.1,54l2.5,0-2.2-.4-2.4,0z"/>
<path color="#231bbb" d="M136.2,66l2.1-2.2-2.4-2.9-2.2,2.2z"/>
<path color="#040604" d="M60.5,53.5l2.5,.1-2.2-.2-2.4-.2z"/>
<path color="#040604" d="M56,53l2.4,.2-2.1,0-2.5-.3z"/>
<path color="#040909" d="M51.4,52.5l2.4,.4-2,.1-2.5-.4z"/>
<path color="#04181d" d="M46.8,52l2.5,.6-2.1,.2-2.5-.5z"/>
<path color="#231cba" d="M131.6,65.1l2.1-2-2.4-2.7-2.1,2z"/>
<path color="#042933" d="M42.2,51.5l2.5,.8-2,.4-2.6-.8z"/>
<path color="#043744" d="M37.5,51.1l2.6,.8-2,.6-2.5-.8z"/>
<path color="#044351" d="M32.9,50.6l2.7,1.1-2,.7-2.6-1z"/>
<path color="#044c5b" d="M28.3,50.2l2.7,1.2-1.9,.9-2.7-1.2z"/>
<path color="#2320bb" d="M127,64.3l2.2-1.9-2.4-2.5-2.2,1.8z"/>
<path color="#2328ba" d="M122.5,63.5l2.1-1.8-2.4-2.4-2.1,1.8z"/>
<path color="#222eb9" d="M117.9,62.7l2.2-1.6-2.4-2.3-2.2,1.6z"/>
<path color="#1f34b8" d="M113.3,61.9l2.2-1.5-2.4-2.1-2.1,1.5z"/>
<path color="#1d3ab5" d="M108.7,61.1l2.3-1.3-2.4-2-2.2,1.3z"/>
<path color="#1b3fb1" d="M104.2,60.3l2.2-1.2-2.4-1.7-2.2,1.1z"/>
<path color="#1843ac" d="M99.6,59.5l2.2-1-2.3-1.6-2.3,1z"/>
<path color="#1645a4" d="M95,58.8l2.2-.9-2.3-1.5-2.2,.9z"/>
<path color="#134799" d="M90.4,58l2.3-.7-2.3-1.3-2.3,.7z"/>
<path color="#2218b9" d="M134,68.1l2.2-2.1-2.5-2.9-2.1,2z"/>
<path color="#10478a" d="M85.8,57.3l2.3-.6-2.3-1.1-2.3,.5z"/>
<path color="#0d4276" d="M81.2,56.6l2.3-.5-2.3-1-2.3,.5z"/>
<path color="#2219b8" d="M129.5,67.1l2.1-2-2.4-2.7-2.2,1.9z"/>
<path color="#0a375a" d="M76.6,55.9l2.3-.3-2.2-.9-2.4,.3z"/>
<path color="#072537" d="M71.9,55.2l2.4-.2-2.2-.7-2.4,.2z"/>
<path color="#231bb8" d="M124.9,66.1l2.1-1.8-2.4-2.6-2.1,1.8z"/>
<path color="#050f12" d="M67.3,54.5l2.4,0-2.1-.5-2.5,0z"/>
<path color="#040604" d="M62.7,53.8l2.4,.2-2.1-.4-2.5-.1z"/>
<path color="#231db7" d="M120.3,65.1l2.2-1.6-2.4-2.4-2.2,1.6z"/>
<path color="#040604" d="M58.1,53.2l2.4,.3-2.1-.3-2.4-.2z"/>
<path color="#2325b6" d="M115.7,64.2l2.2-1.5-2.4-2.3-2.2,1.5z"/>
<path color="#040604" d="M53.5,52.5l2.5,.5-2.2-.1-2.4-.4z"/>
<path color="#040e0e" d="M48.8,51.9l2.6,.6-2.1,.1-2.5-.6z"/>
<path color="#042124" d="M44.2,51.3l2.6,.7-2.1,.3-2.5-.8z"/>
<path color="#212db4" d="M111.1,63.2l2.2-1.3-2.3-2.1-2.3,1.3z"/>
<path color="#043439" d="M39.6,50.7l2.6,.8-2.1,.4-2.6-.8z"/>
<path color="#044549" d="M34.9,50.1l2.6,1-1.9,.6-2.7-1.1z"/>
<path color="#1e34b1" d="M106.5,62.3l2.2-1.2-2.3-2-2.2,1.2z"/>
<path color="#045255" d="M30.3,49.5l2.6,1.1-1.9,.8-2.7-1.2z"/>
<path color="#1b3aad" d="M101.9,61.4l2.3-1.1-2.4-1.8-2.2,1z"/>
<path color="#183ea6" d="M97.3,60.5l2.3-1-2.4-1.6-2.2,.9z"/>
<path color="#2216b6" d="M131.9,70l2.1-1.9-2.4-3-2.1,2z"/>
<path color="#15429e" d="M92.7,59.6l2.3-.8-2.3-1.5-2.3,.7z"/>
<path color="#2217b5" d="M127.3,68.9l2.2-1.8-2.5-2.8-2.1,1.8z"/>
<path color="#114592" d="M88.1,58.7l2.3-.7-2.3-1.3-2.3,.6z"/>
<path color="#0e4582" d="M83.4,57.8l2.4-.5-2.3-1.2-2.3,.5z"/>
<path color="#2219b5" d="M122.7,67.8l2.2-1.7-2.4-2.6-2.2,1.6z"/>
<path color="#0b3f6c" d="M78.8,56.9l2.4-.3-2.3-1-2.3,.3z"/>
<path color="#221ab4" d="M118.1,66.7l2.2-1.6-2.4-2.4-2.2,1.5z"/>
<path color="#08334e" d="M74.2,56.1l2.4-.2-2.3-.9-2.4,.2z"/>
<path color="#061f29" d="M69.5,55.2l2.4,0-2.2-.7-2.4,0z"/>
<path color="#221db2" d="M113.5,65.6l2.2-1.4-2.4-2.3-2.2,1.3z"/>
<path color="#040a0a" d="M64.9,54.4l2.4,.1-2.2-.5-2.4-.2z"/>
<path color="#2127b0" d="M108.9,64.5l2.2-1.3-2.4-2.1-2.2,1.2z"/>
<path color="#040604" d="M60.2,53.6l2.5,.2-2.2-.3-2.4-.3z"/>
<path color="#040604" d="M55.6,52.8l2.5,.4-2.1-.2-2.5-.5z"/>
<path color="#1e2fad" d="M104.3,63.4l2.2-1.1-2.3-2-2.3,1.1z"/>
<path color="#040705" d="M50.9,52l2.6,.5-2.1,0-2.6-.6z"/>
<path color="#2114b3" d="M129.7,71.9l2.2-1.9-2.4-2.9-2.2,1.8z"/>
<path color="#1b36a8" d="M99.7,62.3l2.2-.9-2.3-1.9-2.3,1z"/>
<path color="#041515" d="M46.3,51.2l2.5,.7-2,.1-2.6-.7z"/>
<path color="#042c2c" d="M41.6,50.4l2.6,.9-2,.2-2.6-.8z"/>
<path color="#173ca1" d="M95,61.3l2.3-.8-2.3-1.7-2.3,.8z"/>
<path color="#2116b2" d="M125.1,70.6l2.2-1.7-2.4-2.8-2.2,1.7z"/>
<path color="#04413e" d="M36.9,49.7l2.7,1-2.1,.4-2.6-1z"/>
<path color="#045047" d="M32.3,48.9l2.6,1.2-2,.5-2.6-1.1z"/>
<path color="#133f98" d="M90.4,60.2l2.3-.6-2.3-1.6-2.3,.7z"/>
<path color="#2117b2" d="M120.5,69.3l2.2-1.5-2.4-2.7-2.2,1.6z"/>
<path color="#10438b" d="M85.7,59.2l2.4-.5-2.3-1.4-2.4,.5z"/>
<path color="#2119b1" d="M115.9,68.1l2.2-1.4-2.4-2.5-2.2,1.4z"/>
<path color="#0c4379" d="M81.1,58.1l2.3-.3-2.2-1.2-2.4,.3z"/>
<path color="#093d61" d="M76.4,57.1l2.4-.2-2.2-1-2.4,.2z"/>
<path color="#211aaf" d="M111.3,66.8l2.2-1.2-2.4-2.4-2.2,1.3z"/>
<path color="#072e41" d="M71.8,56.1l2.4,0-2.3-.9-2.4,0z"/>
<path color="#2022ac" d="M106.7,65.6l2.2-1.1-2.4-2.2-2.2,1.1z"/>
<path color="#05181d" d="M67.1,55.1l2.4,.1-2.2-.7-2.4-.1z"/>
<path color="#2112b1" d="M127.6,73.6l2.1-1.7-2.4-3-2.2,1.7z"/>
<path color="#1e2ba8" d="M102,64.4l2.3-1-2.4-2-2.2,.9z"/>
<path color="#040705" d="M62.4,54.2l2.5,.2-2.2-.6-2.5-.2z"/>
<path color="#040604" d="M57.8,53.2l2.4,.4-2.1-.4-2.5-.4z"/>
<path color="#1a33a3" d="M97.4,63.1l2.3-.8-2.4-1.8-2.3,.8z"/>
<path color="#2014af" d="M123,72.2l2.1-1.6-2.4-2.8-2.2,1.5z"/>
<path color="#040604" d="M53.1,52.2l2.5,.6-2.1-.3-2.6-.5z"/>
<path color="#163a9b" d="M92.7,61.9l2.3-.6-2.3-1.7-2.3,.6z"/>
<path color="#040a08" d="M48.4,51.3l2.5,.7-2.1-.1-2.5-.7z"/>
<path color="#2016ae" d="M118.3,70.8l2.2-1.5-2.4-2.6-2.2,1.4z"/>
<path color="#041f1b" d="M43.7,50.4l2.6,.8-2.1,.1-2.6-.9z"/>
<path color="#123f91" d="M88.1,60.7l2.3-.5-2.3-1.5-2.4,.5z"/>
<path color="#2017ad" d="M113.7,69.4l2.2-1.3-2.4-2.5-2.2,1.2z"/>
<path color="#04352b" d="M39,49.4l2.6,1-2,.3-2.7-1z"/>
<path color="#0e4383" d="M83.4,59.6l2.3-.4-2.3-1.4-2.3,.3z"/>
<path color="#044734" d="M34.3,48.5l2.6,1.2-2,.4-2.6-1.2z"/>
<path color="#2019ab" d="M109.1,68l2.2-1.2-2.4-2.3-2.2,1.1z"/>
<path color="#0a4270" d="M78.7,58.4l2.4-.3-2.3-1.2-2.4,.2z"/>
<path color="#083a56" d="M74,57.2l2.4-.1-2.2-1-2.4,0z"/>
<path color="#201ea8" d="M104.4,66.6l2.3-1-2.4-2.2-2.3,1z"/>
<path color="#2011ae" d="M125.4,75.3l2.2-1.7-2.5-3-2.1,1.6z"/>
<path color="#062935" d="M69.3,56.1l2.5,0-2.3-.9-2.4-.1z"/>
<path color="#1d29a4" d="M99.7,65.2l2.3-.8-2.3-2.1-2.3,.8z"/>
<path color="#2013ac" d="M120.8,73.7l2.2-1.5-2.5-2.9-2.2,1.5z"/>
<path color="#051112" d="M64.6,54.9l2.5,.2-2.2-.7-2.5-.2z"/>
<path color="#19329e" d="M95.1,63.9l2.3-.8-2.4-1.8-2.3,.6z"/>
<path color="#040604" d="M59.9,53.8l2.5,.4-2.2-.6-2.4-.4z"/>
<path color="#2014ab" d="M116.1,72.1l2.2-1.3-2.4-2.7-2.2,1.3z"/>
<path color="#040604" d="M55.2,52.7l2.6,.5-2.2-.4-2.5-.6z"/>
<path color="#143995" d="M90.4,62.5l2.3-.6-2.3-1.7-2.3,.5z"/>
<path color="#1f16a9" d="M111.5,70.6l2.2-1.2-2.4-2.6-2.2,1.2z"/>
<path color="#040604" d="M50.5,51.6l2.6,.6-2.2-.2-2.5-.7z"/>
<path color="#103f8a" d="M85.7,61.2l2.4-.5-2.4-1.5-2.3,.4z"/>
<path color="#04100c" d="M45.8,50.5l2.6,.8-2.1-.1-2.6-.8z"/>
<path color="#1f18a7" d="M106.8,69l2.3-1-2.4-2.4-2.3,1z"/>
<path color="#0c437b" d="M81,59.8l2.4-.2-2.3-1.5-2.4,.3z"/>
<path color="#04261b" d="M41.1,49.4l2.6,1-2.1,0-2.6-1z"/>
<path color="#1f10ab" d="M123.2,76.8l2.2-1.5-2.4-3.1-2.2,1.5z"/>
<path color="#043b24" d="M36.3,48.3l2.7,1.1-2.1,.3-2.6-1.2z"/>
<path color="#094166" d="M76.3,58.5l2.4-.1-2.3-1.3-2.4,.1z"/>
<path color="#1f1ca4" d="M102.1,67.5l2.3-.9-2.4-2.2-2.3,.8z"/>
<path color="#07374a" d="M71.6,57.2l2.4,0-2.2-1.1-2.5,0z"/>
<path color="#1f11a9" d="M118.6,75.1l2.2-1.4-2.5-2.9-2.2,1.3z"/>
<path color="#1c279f" d="M97.4,66l2.3-.8-2.3-2.1-2.3,.8z"/>
<path color="#062228" d="M66.9,55.9l2.4,.2-2.2-1-2.5-.2z"/>
<path color="#1f13a8" d="M113.9,73.4l2.2-1.3-2.4-2.7-2.2,1.2z"/>
<path color="#173198" d="M92.7,64.5l2.4-.6-2.4-2-2.3,.6z"/>
<path color="#040b0a" d="M62.1,54.6l2.5,.3-2.2-.7-2.5-.4z"/>
<path color="#12388f" d="M88,62.9l2.4-.4-2.3-1.8-2.4,.5z"/>
<path color="#040604" d="M57.4,53.3l2.5,.5-2.1-.6-2.6-.5z"/>
<path color="#1f15a6" d="M109.2,71.7l2.3-1.1-2.4-2.6-2.3,1z"/>
<path color="#040604" d="M52.7,52l2.5,.7-2.1-.5-2.6-.6z"/>
<path color="#0e4083" d="M83.3,61.4l2.4-.2-2.3-1.6-2.4,.2z"/>
<path color="#1e17a3" d="M104.5,70l2.3-1-2.4-2.4-2.3,.9z"/>
<path color="#1f0fa8" d="M121,78.2l2.2-1.4-2.4-3.1-2.2,1.4z"/>
<path color="#040705" d="M47.9,50.8l2.6,.8-2.1-.3-2.6-.8z"/>
<path color="#094372" d="M78.6,60l2.4-.2-2.3-1.4-2.4,.1z"/>
<path color="#04160e" d="M43.2,49.5l2.6,1-2.1-.1-2.6-1z"/>
<path color="#1e1b9f" d="M99.8,68.3l2.3-.8-2.4-2.3-2.3,.8z"/>
<path color="#1e10a6" d="M116.3,76.3l2.3-1.2-2.5-3-2.2,1.3z"/>
<path color="#08405c" d="M73.9,58.5l2.4,0-2.3-1.3-2.4,0z"/>
<path color="#042d17" d="M38.4,48.3l2.7,1.1-2.1,0-2.7-1.1z"/>
<path color="#1b279a" d="M95.1,66.6l2.3-.6-2.3-2.1-2.4,.6z"/>
<path color="#07333e" d="M69.1,57l2.5,.2-2.3-1.1-2.4-.2z"/>
<path color="#1e13a4" d="M111.6,74.5l2.3-1.1-2.4-2.8-2.3,1.1z"/>
<path color="#153192" d="M90.4,64.9l2.3-.4-2.3-2-2.4,.4z"/>
<path color="#051b1c" d="M64.4,55.5l2.5,.4-2.3-1-2.5-.3z"/>
<path color="#1e15a2" d="M106.9,72.6l2.3-.9-2.4-2.7-2.3,1z"/>
<path color="#040705" d="M59.6,54.1l2.5,.5-2.2-.8-2.5-.5z"/>
<path color="#103989" d="M85.7,63.3l2.3-.4-2.3-1.7-2.4,.2z"/>
<path color="#1e0fa4" d="M118.8,79.5l2.2-1.3-2.4-3.1-2.3,1.2z"/>
<path color="#040604" d="M54.9,52.7l2.5,.6-2.2-.6-2.5-.7z"/>
<path color="#1d169f" d="M102.2,70.8l2.3-.8-2.4-2.5-2.3,.8z"/>
<path color="#0b417c" d="M80.9,61.6l2.4-.2-2.3-1.6-2.4,.2z"/>
<path color="#040604" d="M50.1,51.2l2.6,.8-2.2-.4-2.6-.8z"/>
<path color="#1d1b9a" d="M97.5,68.9l2.3-.6-2.4-2.3-2.3,.6z"/>
<path color="#08446a" d="M76.2,60l2.4,0-2.3-1.5-2.4,0z"/>
<path color="#1e10a2" d="M114.1,77.5l2.2-1.2-2.4-2.9-2.3,1.1z"/>
<path color="#040a06" d="M45.3,49.8l2.6,1-2.1-.3-2.6-1z"/>
<path color="#073e51" d="M71.4,58.3l2.5,.2-2.3-1.3-2.5-.2z"/>
<path color="#192895" d="M92.8,67.1l2.3-.5-2.4-2.1-2.3,.4z"/>
<path color="#041e0d" d="M40.5,48.4l2.7,1.1-2.1-.1-2.7-1.1z"/>
<path color="#1d12a0" d="M109.4,75.5l2.2-1-2.4-2.8-2.3,.9z"/>
<path color="#062d32" d="M66.6,56.7l2.5,.3-2.2-1.1-2.5-.4z"/>
<path color="#13328d" d="M88,65.3l2.4-.4-2.4-2-2.3,.4z"/>
<path color="#1d149e" d="M104.6,73.5l2.3-.9-2.4-2.6-2.3,.8z"/>
<path color="#051311" d="M61.9,55.1l2.5,.4-2.3-.9-2.5-.5z"/>
<path color="#0e3b82" d="M83.3,63.5l2.4-.2-2.4-1.9-2.4,.2z"/>
<path color="#1e0fa1" d="M116.5,80.7l2.3-1.2-2.5-3.2-2.2,1.2z"/>
<path color="#1d169a" d="M99.9,71.5l2.3-.7-2.4-2.5-2.3,.6z"/>
<path color="#040604" d="M57.1,53.5l2.5,.6-2.2-.8-2.5-.6z"/>
<path color="#094374" d="M78.5,61.6l2.4,0-2.3-1.6-2.4,0z"/>
<path color="#1d0f9f" d="M111.8,78.5l2.3-1-2.5-3-2.2,1z"/>
<path color="#040604" d="M52.3,51.9l2.6,.8-2.2-.7-2.6-.8z"/>
<path color="#1c1c96" d="M95.2,69.5l2.3-.6-2.4-2.3-2.3,.5z"/>
<path color="#074460" d="M73.7,59.8l2.5,.2-2.3-1.5-2.5-.2z"/>
<path color="#040604" d="M47.4,50.3l2.7,.9-2.2-.4-2.6-1z"/>
<path color="#1d119d" d="M107.1,76.4l2.3-.9-2.5-2.9-2.3,.9z"/>
<path color="#17298f" d="M90.4,67.5l2.4-.4-2.4-2.2-2.4,.4z"/>
<path color="#040f07" d="M42.6,48.7l2.7,1.1-2.1-.3-2.7-1.1z"/>
<path color="#063b46" d="M68.9,58.1l2.5,.2-2.3-1.3-2.5-.3z"/>
<path color="#1c149a" d="M102.3,74.2l2.3-.7-2.4-2.7-2.3,.7z"/>
<path color="#113487" d="M85.6,65.5l2.4-.2-2.3-2-2.4,.2z"/>
<path color="#052626" d="M64.1,56.3l2.5,.4-2.2-1.2-2.5-.4z"/>
<path color="#1d0f9e" d="M114.3,81.8l2.2-1.1-2.4-3.2-2.3,1z"/>
<path color="#040c09" d="M59.3,54.5l2.6,.6-2.3-1-2.5-.6z"/>
<path color="#0b3e7b" d="M80.8,63.5l2.5,0-2.4-1.9-2.4,0z"/>
<path color="#1c1696" d="M97.6,72l2.3-.5-2.4-2.6-2.3,.6z"/>
<path color="#1c0f9b" d="M109.5,79.4l2.3-.9-2.4-3-2.3,.9z"/>
<path color="#040604" d="M54.5,52.7l2.6,.8-2.2-.8-2.6-.8z"/>
<path color="#07456b" d="M76,61.6l2.5,0-2.3-1.6-2.5-.2z"/>
<path color="#1b1e91" d="M92.8,69.9l2.4-.4-2.4-2.4-2.4,.4z"/>
<path color="#040604" d="M49.6,51l2.7,.9-2.2-.7-2.7-.9z"/>
<path color="#1c1199" d="M104.8,77.1l2.3-.7-2.5-2.9-2.3,.7z"/>
<path color="#074456" d="M71.2,59.6l2.5,.2-2.3-1.5-2.5-.2z"/>
<path color="#152b8a" d="M88,67.7l2.4-.2-2.4-2.2-2.4,.2z"/>
<path color="#040704" d="M44.8,49.2l2.6,1.1-2.1-.5-2.7-1.1z"/>
<path color="#06373b" d="M66.4,57.6l2.5,.5-2.3-1.4-2.5-.4z"/>
<path color="#1c1396" d="M100,74.8l2.3-.6-2.4-2.7-2.3,.5z"/>
<path color="#1c0e9a" d="M112,82.7l2.3-.9-2.5-3.3-2.3,.9z"/>
<path color="#0e3680" d="M83.2,65.6l2.4-.1-2.3-2-2.5,0z"/>
<path color="#051d1a" d="M61.6,55.7l2.5,.6-2.2-1.2-2.6-.6z"/>
<path color="#1b1591" d="M95.2,72.5l2.4-.5-2.4-2.5-2.4,.4z"/>
<path color="#084174" d="M78.4,63.5l2.4,0-2.3-1.9-2.5,0z"/>
<path color="#1c0e97" d="M107.2,80.2l2.3-.8-2.4-3-2.3,.7z"/>
<path color="#040705" d="M56.7,53.8l2.6,.7-2.2-1-2.6-.8z"/>
<path color="#19218b" d="M90.4,70.2l2.4-.3-2.4-2.4-2.4,.2z"/>
<path color="#074763" d="M73.6,61.3l2.4,.3-2.3-1.8-2.5-.2z"/>
<path color="#040604" d="M51.8,51.8l2.7,.9-2.2-.8-2.7-.9z"/>
<path color="#1b1195" d="M102.4,77.7l2.4-.6-2.5-2.9-2.3,.6z"/>
<path color="#06434c" d="M68.7,59.2l2.5,.4-2.3-1.5-2.5-.5z"/>
<path color="#122e84" d="M85.6,67.9l2.4-.2-2.4-2.2-2.4,.1z"/>
<path color="#040604" d="M47,49.9l2.6,1.1-2.2-.7-2.6-1.1z"/>
<path color="#1b1391" d="M97.6,75.3l2.4-.5-2.4-2.8-2.4,.5z"/>
<path color="#1c0e97" d="M109.7,83.5l2.3-.8-2.5-3.3-2.3,.8z"/>
<path color="#05312f" d="M63.8,57.1l2.6,.5-2.3-1.3-2.5-.6z"/>
<path color="#0b3a7a" d="M80.8,65.6l2.4,0-2.4-2.1-2.4,0z"/>
<path color="#1a158c" d="M92.8,72.8l2.4-.3-2.4-2.6-2.4,.3z"/>
<path color="#04130e" d="M59,55l2.6,.7-2.3-1.2-2.6-.7z"/>
<path color="#1b0e94" d="M104.9,80.9l2.3-.7-2.4-3.1-2.4,.6z"/>
<path color="#07456c" d="M75.9,63.3l2.5,.2-2.4-1.9-2.4-.3z"/>
<path color="#040604" d="M54.1,52.9l2.6,.9-2.2-1.1-2.7-.9z"/>
<path color="#172486" d="M88,70.3l2.4-.1-2.4-2.5-2.4,.2z"/>
<path color="#1b1191" d="M100.1,78.3l2.3-.6-2.4-2.9-2.4,.5z"/>
<path color="#06485a" d="M71,61l2.6,.3-2.4-1.7-2.5-.4z"/>
<path color="#040604" d="M49.2,50.8l2.6,1-2.2-.8-2.6-1.1z"/>
<path color="#0f317e" d="M83.1,67.8l2.5,.1-2.4-2.3-2.4,0z"/>
<path color="#064042" d="M66.2,58.7l2.5,.5-2.3-1.6-2.6-.5z"/>
<path color="#1b0e93" d="M107.4,84.3l2.3-.8-2.5-3.3-2.3,.7z"/>
<path color="#1a138d" d="M95.3,75.6l2.3-.3-2.4-2.8-2.4,.3z"/>
<path color="#083f73" d="M78.3,65.4l2.5,.2-2.4-2.1-2.5-.2z"/>
<path color="#05261f" d="M61.3,56.4l2.5,.7-2.2-1.4-2.6-.7z"/>
<path color="#191888" d="M90.4,73l2.4-.2-2.4-2.6-2.4,.1z"/>
<path color="#1b0e90" d="M102.5,81.5l2.4-.6-2.5-3.2-2.3,.6z"/>
<path color="#040c07" d="M56.4,54.1l2.6,.9-2.3-1.2-2.6-.9z"/>
<path color="#064864" d="M73.4,62.9l2.5,.4-2.3-2-2.6-.3z"/>
<path color="#142881" d="M85.5,70.3l2.5,0-2.4-2.4-2.5-.1z"/>
<path color="#1a118d" d="M97.7,78.6l2.4-.3-2.5-3-2.3,.3z"/>
<path color="#040604" d="M51.4,51.9l2.7,1-2.3-1.1-2.6-1z"/>
<path color="#064951" d="M68.5,60.5l2.5,.5-2.3-1.8-2.5-.5z"/>
<path color="#1b0e90" d="M105,84.8l2.4-.5-2.5-3.4-2.4,.6z"/>
<path color="#0c3578" d="M80.7,67.7l2.4,.1-2.3-2.2-2.5-.2z"/>
<path color="#191388" d="M92.8,75.8l2.5-.2-2.5-2.8-2.4,.2z"/>
<path color="#053933" d="M63.6,58l2.6,.7-2.4-1.6-2.5-.7z"/>
<path color="#06436c" d="M75.8,65.1l2.5,.3-2.4-2.1-2.5-.4z"/>
<path color="#1a0f8c" d="M100.2,81.9l2.3-.4-2.4-3.2-2.4,.3z"/>
<path color="#191d83" d="M88,73l2.4,0-2.4-2.7-2.5,0z"/>
<path color="#041c12" d="M58.6,55.6l2.7,.8-2.3-1.4-2.6-.9z"/>
<path color="#064b5c" d="M70.8,62.5l2.6,.4-2.4-1.9-2.5-.5z"/>
<path color="#040805" d="M53.7,53.1l2.7,1-2.3-1.2-2.7-1z"/>
<path color="#1a1189" d="M95.3,78.9l2.4-.3-2.4-3-2.5,.2z"/>
<path color="#102c7b" d="M83.1,70.2l2.4,.1-2.4-2.5-2.4-.1z"/>
<path color="#054847" d="M65.9,59.8l2.6,.7-2.3-1.8-2.6-.7z"/>
<path color="#1a0d8c" d="M102.7,85.3l2.3-.5-2.5-3.3-2.3,.4z"/>
<path color="#093b72" d="M78.2,67.4l2.5,.3-2.4-2.3-2.5-.3z"/>
<path color="#191484" d="M90.4,75.9l2.4-.1-2.4-2.8-2.4,0z"/>
<path color="#052f21" d="M61,57.2l2.6,.8-2.3-1.6-2.7-.8z"/>
<path color="#1a0f88" d="M97.8,82.2l2.4-.3-2.5-3.3-2.4,.3z"/>
<path color="#064865" d="M73.2,64.6l2.6,.5-2.4-2.2-2.6-.4z"/>
<path color="#16227e" d="M85.5,73l2.5,0-2.5-2.7-2.4-.1z"/>
<path color="#041309" d="M56,54.6l2.6,1-2.2-1.5-2.7-1z"/>
<path color="#191284" d="M92.9,79l2.4-.1-2.5-3.1-2.4,.1z"/>
<path color="#054d54" d="M68.3,61.8l2.5,.7-2.3-2-2.6-.7z"/>
<path color="#0d3076" d="M80.6,70l2.5,.2-2.4-2.5-2.5-.3z"/>
<path color="#1a0d88" d="M100.3,85.6l2.4-.3-2.5-3.4-2.4,.3z"/>
<path color="#054035" d="M63.3,59.1l2.6,.7-2.3-1.8-2.6-.8z"/>
<path color="#18157f" d="M88,75.9l2.4,0-2.4-2.9-2.5,0z"/>
<path color="#05416b" d="M75.6,67l2.6,.4-2.4-2.3-2.6-.5z"/>
<path color="#190f84" d="M95.4,82.3l2.4-.1-2.5-3.3-2.4,.1z"/>
<path color="#042413" d="M58.3,56.3l2.7,.9-2.4-1.6-2.6-1z"/>
<path color="#122679" d="M83,72.8l2.5,.2-2.4-2.8-2.5-.2z"/>
<path color="#054d5e" d="M70.7,64.1l2.5,.5-2.4-2.1-2.5-.7z"/>
<path color="#181280" d="M90.4,79l2.5,0-2.5-3.1-2.4,0z"/>
<path color="#054e4b" d="M65.7,61.1l2.6,.7-2.4-2-2.6-.7z"/>
<path color="#093770" d="M78,69.6l2.6,.4-2.4-2.6-2.6-.4z"/>
<path color="#190d85" d="M97.8,85.9l2.5-.3-2.5-3.4-2.4,.1z"/>
<path color="#181b7b" d="M85.5,75.7l2.5,.2-2.5-2.9-2.5-.2z"/>
<path color="#053622" d="M60.6,58.1l2.7,1-2.3-1.9-2.7-.9z"/>
<path color="#054765" d="M73.1,66.5l2.5,.5-2.4-2.4-2.5-.5z"/>
<path color="#191080" d="M92.9,82.4l2.5-.1-2.5-3.3-2.5,0z"/>
<path color="#0e2c73" d="M80.5,72.4l2.5,.4-2.4-2.8-2.6-.4z"/>
<path color="#055056" d="M68,63.3l2.7,.8-2.4-2.3-2.6-.7z"/>
<path color="#18137c" d="M87.9,78.9l2.5,.1-2.4-3.1-2.5-.2z"/>
<path color="#053e6a" d="M75.5,69.1l2.5,.5-2.4-2.6-2.5-.5z"/>
<path color="#054535" d="M63,60.2l2.7,.9-2.4-2-2.7-1z"/>
<path color="#190d81" d="M95.4,85.9l2.4,0-2.4-3.6-2.5,.1z"/>
<path color="#142176" d="M82.9,75.4l2.6,.3-2.5-2.9-2.5-.4z"/>
<path color="#054d5e" d="M70.5,65.8l2.6,.7-2.4-2.4-2.7-.8z"/>
<path color="#18107c" d="M90.4,82.3l2.5,.1-2.5-3.4-2.5-.1z"/>
<path color="#0a326e" d="M77.9,71.9l2.6,.5-2.5-2.8-2.5-.5z"/>
<path color="#05514b" d="M65.4,62.5l2.6,.8-2.3-2.2-2.7-.9z"/>
<path color="#171377" d="M85.4,78.6l2.5,.3-2.4-3.2-2.6-.3z"/>
<path color="#180e7d" d="M92.9,85.9l2.5,0-2.5-3.5-2.5-.1z"/>
<path color="#054564" d="M72.9,68.5l2.6,.6-2.4-2.6-2.6-.7z"/>
<path color="#102771" d="M80.4,75l2.5,.4-2.4-3-2.6-.5z"/>
<path color="#055258" d="M67.8,65l2.7,.8-2.5-2.5-2.6-.8z"/>
<path color="#181178" d="M87.9,82.1l2.5,.2-2.5-3.4-2.5-.3z"/>
<path color="#063a69" d="M75.3,71.3l2.6,.6-2.4-2.8-2.6-.6z"/>
<path color="#171b73" d="M82.9,78.2l2.5,.4-2.5-3.2-2.5-.4z"/>
<path color="#180f79" d="M90.4,85.7l2.5,.2-2.5-3.6-2.5-.2z"/>
<path color="#054d5f" d="M70.3,67.7l2.6,.8-2.4-2.7-2.7-.8z"/>
<path color="#0c2d6c" d="M77.8,74.4l2.6,.6-2.5-3.1-2.6-.6z"/>
<path color="#171274" d="M85.4,81.7l2.5,.4-2.5-3.5-2.5-.4z"/>
<path color="#044364" d="M72.7,70.6l2.6,.7-2.4-2.8-2.6-.8z"/>
<path color="#12226e" d="M80.3,77.7l2.6,.5-2.5-3.2-2.6-.6z"/>
<path color="#181076" d="M87.9,85.4l2.5,.3-2.5-3.6-2.5-.4z"/>
<path color="#073668" d="M75.2,73.7l2.6,.7-2.5-3.1-2.6-.7z"/>
<path color="#171470" d="M82.8,81.2l2.6,.5-2.5-3.5-2.6-.5z"/>
<path color="#0e286a" d="M77.7,77l2.6,.7-2.5-3.3-2.6-.7z"/>
<path color="#171172" d="M85.3,84.9l2.6,.5-2.5-3.7-2.6-.5z"/>
<path color="#151d6c" d="M80.2,80.5l2.6,.7-2.5-3.5-2.6-.7z"/>
<path color="#17126e" d="M82.7,84.3l2.6,.6-2.5-3.7-2.6-.7z"/>
</g>
<circle cx="25" cy="51.4" r="1.3" fill="#c81414"/>
<circle cx="84.1" cy="42.2" r="1.3" fill="#c81414"/>
<circle cx="84.1" cy="53.5" r="1.3" fill="#c81414"/>
<circle cx="84.1" cy="85.2" r="1.3" fill="#c81414"/>
<circle cx="143.5" cy="59.3" r="1.3" fill="#e89a8a"/>
<text transform="translate(12.4,57.5) rotate(-90)" font-size="6.85" text-anchor="middle">Tool shaft torque/Nm</text>
<text x="82" y="124.9" class="tk3" text-anchor="end">42.5</text>
<text x="69.2" y="119" class="tk3" text-anchor="end">45.5</text>
<text x="57.1" y="113.3" class="tk3" text-anchor="end">48.5</text>
<text x="45.7" y="108" class="tk3" text-anchor="end">51.5</text>
<text x="34.7" y="102.9" class="tk3" text-anchor="end">54.5</text>
<text x="24.4" y="98.1" class="tk3" text-anchor="end">57.5</text>
<text x="85.8" y="124.8" class="tk3" text-anchor="start">150</text>
<text x="101.4" y="117.6" class="tk3" text-anchor="start">155</text>
<text x="116.1" y="110.8" class="tk3" text-anchor="start">160</text>
<text x="129.8" y="104.5" class="tk3" text-anchor="start">165</text>
<text x="142.7" y="98.5" class="tk3" text-anchor="start">170</text>
<path d="M82.8,120l-.9,1.5M70.3,114.1l-.9,1.5M58.4,108.6l-.9,1.5M47.2,103.4l-.9,1.5M36.5,98.4l-.9,1.5M26.4,93.6l-.9,1.5M82.8,120l.9,1.5M98.7,112.9l.9,1.5M113.7,106.3l.9,1.5M127.7,100l.9,1.5M140.9,94.2l.9,1.5" stroke="#444" stroke-width=".5"/>
<text transform="translate(121.9,115.8) rotate(-26.5)" font-size="5.6" text-anchor="middle" y="1.5">A:Turning radius/mm</text>
<text transform="translate(47,118.3) rotate(23.5)" font-size="5.6" text-anchor="middle" y="1.5">B:Shovel blade inclination/°</text>
</g>
<g>
<path d="M220.1,78.8L282,59.1L344,78.8M219.6,66.9L282,48.4L344.5,66.9M219.1,54.9L282,37.5L345,54.8M218.5,42.6L282,26.4L345.5,42.5M218,30.1L282,15.2L346.1,30.1M217.4,17.4L282,3.8L346.6,17.3M236.9,73.5L235,13.7M252.8,68.4L251.6,10.2M267.8,63.7L267.2,6.9M282,59.1L282,3.8M344,78.8L346.6,17.3M327.1,73.4L329,13.7M311.2,68.4L312.4,10.2M296.2,63.6L296.8,6.9" fill="none" stroke="#737373" stroke-width=".5"/>
<path d="M221.1,101.7L217.4,17.4M282,79.9L282,3.8M343,101.7L346.6,17.3" fill="none" stroke="#444" stroke-width=".55"/>
<path d="M282.1,129.3 343,101.7 282,79.9 221.1,101.7Z" fill="#fdf512" stroke="#6a6a30" stroke-width=".35"/>
<path d="M293.3,111.3l-.4,.1-1.7,.3-2.4,.4-1,.1-1.6,.1-2.2,.1-3.1,0-1.1-.1-1.5-.1-2.4-.4-.9-.2-1.2-.2-1.9-.6-1.7-.6-1.4-.7-1.3-.7-1.1-.8-.9-.9-.8-1-.5-1-.2-.7 0-1.6 .2-.9 .2-.5 .3-.6 .6-.9 0-.1 .9-.9 .9-.8 1.1-.8 1.1-.7 1.3-.7 1.4-.6 1.5-.6 1.5-.5 1.8-.5 1.8-.4 1.9-.3 .1-.1 2.2-.2 1.8-.2 .6,0 2.5-.1 .2,0 2.5,.1 .9,.1 1.5,.1 2.1,.3 1.2,.3 .7,.1 1.7,.5 3,1.2 1.2,.7 .1,0 1,.7 1,.8 .5,.5 .3,.4 .6,1 .1,.1 .3,1 .1,.3 .1,.9-.1,.3-.2,1.1-.4,1-.5,.7-.1,.3-.8,.9-.9,.8-.4,.3-.7,.5-1.2,.8-1.4,.7-1.5,.7-1.6,.6-1.8,.6-1.9,.5" fill="none" stroke="#585816" stroke-width=".55"/>
<path d="M303.5,116.8l-1.2,.4-.7,.2-2,.5-2.1,.5-2.2,.5-.2,0-2.1,.4-2.5,.3-.3,0-2.4,.3-1.8,.1-1.1,.1-6.6,0-2.1-.1-1.9-.2-.8-.1-2.6-.3-1.4-.2-.9-.2-2.2-.5-2-.5-1.9-.6-1.8-.6-1.6-.7-1.5-.7-1.3-.7-.1-.1-1.3-.8-1.1-.8-1.1-.9-.9-.9-.7-.9-.7-1 0-.1-.5-.9-.3-.8-.1-.3-.2-1.1 0-.1-.1-1.1 0-.3 .1-.9 .1-.3 .3-1 0-.2 .5-1.1 0-.1 .6-.9 .3-.5 .4-.5 .8-.9 .2-.2 .6-.7 1-.9 .3-.3 .7-.5 1-.7 1.1-.8 .6-.3 .6-.4 1.3-.7 2.6-1.2 1.4-.6 1.5-.5 1.5-.6 1.6-.5 1.7-.4 1.7-.5 1.7-.4 .1,0 1.9-.3 1.9-.4 1.4-.2 .7,0 2.2-.3 1.1-.1 1.2-.1 2.1-.1 6.1,0 2,.1 1.5,.2 .8,0 2.2,.3 1.4,.2 .6,.1 1.9,.4 1.8,.4 1.7,.4 1.6,.5 1.6,.6 1.4,.5 1.4,.6 1.2,.7 1.3,.7 1.1,.7 2,1.6 .3,.3 .5,.6 .8,.9 .1,.1 .6,.9 .2,.5 .3,.5 .3,.8 .1,.3 .2,.9 0,.3 .1,.9 0,.4-.2,1.4-.1,.3-.3,1.1-.5,1-.6,.9 0,.1-1.4,1.8-.9,.9-.9,.8-1.1,.9-1.1,.8-.2,.1-1,.7-1.4,.7-1.4,.8-1.5,.7-1.5,.6-1.7,.7-1.8,.6" fill="none" stroke="#585816" stroke-width=".55"/>
<path d="M291,125.3l-.7,.1-2.8,.2-.7,.1-2.3,.1-1.5,0-1.8,.1-1.7,0-1.7-.1-1.5,0-2.3-.1M329.8,97l.5,.9 .1,.4 .3,.7 .1,.5 .2,.7 0,.4 .1,.9 0,1.4-.2,1.1-.1,.4-.2,.6-.3,1-.9,1.8M239.4,110l0-.1-.3-1.1-.1-.4-.1-.7-.1-.8 0-1.4 .1-.2 .1-1.1 .1-.1 .3-1.1 .1-.2 .3-.9 .2-.4 .4-.7 .4-.8 .2-.2 .7-1 .2-.3 .6-.7 .8-.9 .9-.8 1-.9 2-1.6 .8-.5 .3-.2 3.6-2.1 .7-.4M267.4,85.1l.7-.2 1.8-.3 1.8-.4 1.9-.4 .2,0 1.8-.3 2-.2 2.1-.3 2.2-.2 .2,0 2.2-.1 1.1-.1 1.3,0 1.7-.1 1,0" fill="none" stroke="#66be80" stroke-width=".55"/>
<path d="M339.1,100.3l.1,.3 .1,.8 0,1.9M230.3,105.9l.2-.9 .1-.4 .4-1.2 .4-1 .1-.2 .5-1.1 .1-.1 .6-.9 .3-.5 .4-.5 .7-1 .8-.9 .6-.7" fill="none" stroke="#69d496" stroke-width=".55"/>
<path d="M224,103l.1-.2 .4-.9 .2-.4 .4-.7 .5-.7" fill="none" stroke="#69d496" stroke-width=".55"/>
<text x="217.3" y="79.9" class="tk3" text-anchor="end">120</text>
<text x="216.8" y="67.7" class="tk3" text-anchor="end">140</text>
<text x="216.3" y="55.2" class="tk3" text-anchor="end">160</text>
<text x="215.7" y="42.6" class="tk3" text-anchor="end">180</text>
<text x="215.2" y="29.7" class="tk3" text-anchor="end">200</text>
<text x="214.6" y="16.7" class="tk3" text-anchor="end">220</text>
<path d="M220.1,78.8h-2.2M219.6,66.9h-2.2M219.1,54.9h-2.2M218.5,42.6h-2.2M218,30.1h-2.2M217.4,17.4h-2.2" stroke="#444" stroke-width=".5"/>
<g class="sf">
<path color="#8d8d06" d="M282,25.1l2.2-1.7-2.2-2.2-2.2,1.6z"/>
<path color="#748e06" d="M284.2,27.3l2.2-1.8-2.2-2.1-2.2,1.7z"/>
<path color="#798b06" d="M279.8,26.7l2.2-1.6-2.2-2.3-2.2,1.6z"/>
<path color="#5c9107" d="M286.4,29.3l2.2-1.8-2.2-2-2.2,1.8z"/>
<path color="#608c06" d="M282,28.9l2.2-1.6-2.2-2.2-2.2,1.6z"/>
<path color="#688806" d="M277.6,28.2l2.2-1.5-2.2-2.3-2.2,1.4z"/>
<path color="#479307" d="M288.7,31.1l2.1-1.7-2.2-1.9-2.2,1.8z"/>
<path color="#488f07" d="M284.2,30.9l2.2-1.6-2.2-2-2.2,1.6z"/>
<path color="#4e8a06" d="M279.8,30.4l2.2-1.5-2.2-2.2-2.2,1.5z"/>
<path color="#598606" d="M275.3,29.5l2.3-1.3-2.2-2.4-2.3,1.4z"/>
<path color="#339607" d="M290.9,32.9l2.2-1.8-2.3-1.7-2.1,1.7z"/>
<path color="#329107" d="M286.5,32.8l2.2-1.7-2.3-1.8-2.2,1.6z"/>
<path color="#368d06" d="M282,32.5l2.2-1.6-2.2-2-2.2,1.5z"/>
<path color="#3f8806" d="M277.5,31.8l2.3-1.4-2.2-2.2-2.3,1.3z"/>
<path color="#4b8406" d="M273.1,30.8l2.2-1.3-2.2-2.3-2.2,1.2z"/>
<path color="#1f9407" d="M288.7,34.6l2.2-1.7-2.2-1.8-2.2,1.7z"/>
<path color="#229807" d="M293.2,34.5l2.2-1.9-2.3-1.5-2.2,1.8z"/>
<path color="#208f07" d="M284.2,34.4l2.3-1.6-2.3-1.9-2.2,1.6z"/>
<path color="#278a06" d="M279.8,33.9l2.2-1.4-2.2-2.1-2.3,1.4z"/>
<path color="#328506" d="M275.3,33.1l2.2-1.3-2.2-2.3-2.2,1.3z"/>
<path color="#418106" d="M270.8,31.9l2.3-1.1-2.2-2.4-2.3,1.1z"/>
<path color="#0f960a" d="M291,36.2l2.2-1.7-2.3-1.6-2.2,1.7z"/>
<path color="#0e9109" d="M286.5,36.2l2.2-1.6-2.2-1.8-2.3,1.6z"/>
<path color="#139a08" d="M295.5,36l2.1-1.9-2.2-1.5-2.2,1.9z"/>
<path color="#118c06" d="M282,35.9l2.2-1.5-2.2-1.9-2.2,1.4z"/>
<path color="#1a8806" d="M277.5,35.2l2.3-1.3-2.3-2.1-2.2,1.3z"/>
<path color="#278306" d="M273,34.3l2.3-1.2-2.2-2.3-2.3,1.1z"/>
<path color="#387e05" d="M268.5,33l2.3-1.1-2.2-2.4-2.3,1z"/>
<path color="#0e931f" d="M288.8,37.9l2.2-1.7-2.3-1.6-2.2,1.6z"/>
<path color="#10981e" d="M293.3,37.7l2.2-1.7-2.3-1.5-2.2,1.7z"/>
<path color="#0d8f1a" d="M284.3,37.7l2.2-1.5-2.3-1.8-2.2,1.5z"/>
<path color="#119b16" d="M297.8,37.3l2.1-1.9-2.3-1.3-2.1,1.9z"/>
<path color="#0c8a10" d="M279.8,37.2l2.2-1.3-2.2-2-2.3,1.3z"/>
<path color="#0f8506" d="M275.2,36.4l2.3-1.2-2.2-2.1-2.3,1.2z"/>
<path color="#1e8006" d="M270.7,35.3l2.3-1-2.2-2.4-2.3,1.1z"/>
<path color="#317c05" d="M266.2,33.9l2.3-.9-2.2-2.5-2.3,.9z"/>
<path color="#0f9533" d="M291,39.4l2.3-1.7-2.3-1.5-2.2,1.7z"/>
<path color="#0e9131" d="M286.5,39.4l2.3-1.5-2.3-1.7-2.2,1.5z"/>
<path color="#11992f" d="M295.6,39.1l2.2-1.8-2.3-1.3-2.2,1.7z"/>
<path color="#0c8c29" d="M282,39.1l2.3-1.4-2.3-1.8-2.2,1.3z"/>
<path color="#129d23" d="M300.1,38.5l2.2-2-2.4-1.1-2.1,1.9z"/>
<path color="#0b871c" d="M277.5,38.5l2.3-1.3-2.3-2-2.3,1.2z"/>
<path color="#0a820a" d="M273,37.5l2.2-1.1-2.2-2.1-2.3,1z"/>
<path color="#177d05" d="M268.4,36.3l2.3-1-2.2-2.3-2.3,.9z"/>
<path color="#2c7905" d="M263.9,34.7l2.3-.8-2.2-2.5-2.3,.8z"/>
<path color="#0f9345" d="M288.8,41l2.2-1.6-2.2-1.5-2.3,1.5z"/>
<path color="#109744" d="M293.3,40.8l2.3-1.7-2.3-1.4-2.3,1.7z"/>
<path color="#0d8e40" d="M284.3,40.8l2.2-1.4-2.2-1.7-2.3,1.4z"/>
<path color="#129b3c" d="M297.9,40.3l2.2-1.8-2.3-1.2-2.2,1.8z"/>
<path color="#0c8935" d="M279.7,40.4l2.3-1.3-2.2-1.9-2.3,1.3z"/>
<path color="#139e2e" d="M302.4,39.5l2.2-1.9-2.3-1.1-2.2,2z"/>
<path color="#0a8425" d="M275.2,39.6l2.3-1.1-2.3-2.1-2.2,1.1z"/>
<path color="#097f11" d="M270.7,38.5l2.3-1-2.3-2.2-2.3,1z"/>
<path color="#137a05" d="M266.1,37.1l2.3-.8-2.2-2.4-2.3,.8z"/>
<path color="#0e9054" d="M286.6,42.4l2.2-1.4-2.3-1.6-2.2,1.4z"/>
<path color="#109457" d="M291.1,42.4l2.2-1.6-2.3-1.4-2.2,1.6z"/>
<path color="#297605" d="M261.5,35.4l2.4-.7-2.2-2.5-2.4,.7z"/>
<path color="#0d8b4c" d="M282,42.1l2.3-1.3-2.3-1.7-2.3,1.3z"/>
<path color="#119853" d="M295.7,42.1l2.2-1.8-2.3-1.2-2.3,1.7z"/>
<path color="#0b863e" d="M277.5,41.5l2.2-1.1-2.2-1.9-2.3,1.1z"/>
<path color="#129c47" d="M300.2,41.4l2.2-1.9-2.3-1-2.2,1.8z"/>
<path color="#0a812c" d="M272.9,40.6l2.3-1-2.2-2.1-2.3,1z"/>
<path color="#149f35" d="M304.8,40.4l2.2-2-2.4-.8-2.2,1.9z"/>
<path color="#097c15" d="M268.3,39.4l2.4-.9-2.3-2.2-2.3,.8z"/>
<path color="#107705" d="M263.7,37.9l2.4-.8-2.2-2.4-2.4,.7z"/>
<path color="#0f9166" d="M288.9,43.9l2.2-1.5-2.3-1.4-2.2,1.4z"/>
<path color="#0d8d60" d="M284.3,43.8l2.3-1.4-2.3-1.6-2.3,1.3z"/>
<path color="#109565" d="M293.4,43.7l2.3-1.6-2.4-1.3-2.2,1.6z"/>
<path color="#0c8855" d="M279.7,43.3l2.3-1.2-2.3-1.7-2.2,1.1z"/>
<path color="#12995e" d="M298,43.2l2.2-1.8-2.3-1.1-2.2,1.8z"/>
<path color="#277305" d="M259.1,36l2.4-.6-2.2-2.5-2.4,.5z"/>
<path color="#0b8345" d="M275.2,42.6l2.3-1.1-2.3-1.9-2.3,1z"/>
<path color="#139c4f" d="M302.6,42.3l2.2-1.9-2.4-.9-2.2,1.9z"/>
<path color="#097e30" d="M270.6,41.5l2.3-.9-2.2-2.1-2.4,.9z"/>
<path color="#149f39" d="M307.2,41.2l2.2-2-2.4-.8-2.2,2z"/>
<path color="#087918" d="M266,40.2l2.3-.8-2.2-2.3-2.4,.8z"/>
<path color="#0f7405" d="M261.4,38.5l2.3-.6-2.2-2.5-2.4,.6z"/>
<path color="#0e8e72" d="M286.6,45.3l2.3-1.4-2.3-1.5-2.3,1.4z"/>
<path color="#109375" d="M291.2,45.2l2.2-1.5-2.3-1.3-2.2,1.5z"/>
<path color="#0d8a6a" d="M282,45l2.3-1.2-2.3-1.7-2.3,1.2z"/>
<path color="#119671" d="M295.8,44.8l2.2-1.6-2.3-1.1-2.3,1.6z"/>
<path color="#0b855c" d="M277.4,44.4l2.3-1.1-2.2-1.8-2.3,1.1z"/>
<path color="#139a66" d="M300.4,44.1l2.2-1.8-2.4-.9-2.2,1.8z"/>
<path color="#0a8049" d="M272.8,43.5l2.4-.9-2.3-2-2.3,.9z"/>
<path color="#287005" d="M256.8,36.5l2.3-.5-2.2-2.6-2.4,.4z"/>
<path color="#149d53" d="M305,43.1l2.2-1.9-2.4-.8-2.2,1.9z"/>
<path color="#097b32" d="M268.2,42.3l2.4-.8-2.3-2.1-2.3,.8z"/>
<path color="#159f3a" d="M309.6,41.8l2.2-2-2.4-.6-2.2,2z"/>
<path color="#087618" d="M263.6,40.8l2.4-.6-2.3-2.3-2.3,.6z"/>
<path color="#0f8f81" d="M288.9,46.6l2.3-1.4-2.3-1.3-2.3,1.4z"/>
<path color="#0e8b7c" d="M284.3,46.5l2.3-1.2-2.3-1.5-2.3,1.2z"/>
<path color="#119381" d="M293.5,46.4l2.3-1.6-2.4-1.1-2.2,1.5z"/>
<path color="#0c8670" d="M279.7,46.1l2.3-1.1-2.3-1.7-2.3,1.1z"/>
<path color="#0f7105" d="M259,39l2.4-.5-2.3-2.5-2.3,.5z"/>
<path color="#129779" d="M298.1,45.8l2.3-1.7-2.4-.9-2.2,1.6z"/>
<path color="#0b8260" d="M275.1,45.4l2.3-1-2.2-1.8-2.4,.9z"/>
<path color="#139a6a" d="M302.8,45l2.2-1.9-2.4-.8-2.2,1.8z"/>
<path color="#097d4b" d="M270.5,44.4l2.3-.9-2.2-2-2.4,.8z"/>
<path color="#159c54" d="M307.4,43.8l2.2-2-2.4-.6-2.2,1.9z"/>
<path color="#296d05" d="M254.3,36.8l2.5-.3-2.3-2.7-2.4,.4z"/>
<path color="#087832" d="M265.9,43l2.3-.7-2.2-2.1-2.4,.6z"/>
<path color="#159e37" d="M312,42.3l2.2-2.1-2.4-.4-2.2,2z"/>
<path color="#077316" d="M261.2,41.4l2.4-.6-2.2-2.3-2.4,.5z"/>
<path color="#0e8b88" d="M286.6,47.9l2.3-1.3-2.3-1.3-2.3,1.2z"/>
<path color="#108f8c" d="M291.3,47.8l2.2-1.4-2.3-1.2-2.3,1.4z"/>
<path color="#0d8882" d="M282,47.7l2.3-1.2-2.3-1.5-2.3,1.1z"/>
<path color="#119489" d="M295.9,47.4l2.2-1.6-2.3-1-2.3,1.6z"/>
<path color="#0b8374" d="M277.4,47.1l2.3-1-2.3-1.7-2.3,1z"/>
<path color="#13977e" d="M300.5,46.7l2.3-1.7-2.4-.9-2.3,1.7z"/>
<path color="#116e05" d="M256.6,39.4l2.4-.4-2.2-2.5-2.5,.3z"/>
<path color="#0a7e61" d="M272.8,46.3l2.3-.9-2.3-1.9-2.3,.9z"/>
<path color="#14996c" d="M305.2,45.7l2.2-1.9-2.4-.7-2.2,1.9z"/>
<path color="#09794a" d="M268.1,45.1l2.4-.7-2.3-2.1-2.3,.7z"/>
<path color="#159b52" d="M309.8,44.3l2.2-2-2.4-.5-2.2,2z"/>
<path color="#2c6a05" d="M251.9,37.1l2.4-.3-2.2-2.6-2.4,.2z"/>
<path color="#087430" d="M263.5,43.6l2.4-.6-2.3-2.2-2.4,.6z"/>
<path color="#169c31" d="M314.5,42.6l2.2-2.1-2.5-.3-2.2,2.1z"/>
<path color="#0f8589" d="M289,49.1l2.3-1.3-2.4-1.2-2.3,1.3z"/>
<path color="#0e8185" d="M284.3,49.1l2.3-1.2-2.3-1.4-2.3,1.2z"/>
<path color="#118b8c" d="M293.6,48.9l2.3-1.5-2.4-1-2.2,1.4z"/>
<path color="#076f13" d="M258.8,41.8l2.4-.4-2.2-2.4-2.4,.4z"/>
<path color="#0c8180" d="M279.7,48.7l2.3-1-2.3-1.6-2.3,1z"/>
<path color="#12948e" d="M298.3,48.3l2.2-1.6-2.4-.9-2.2,1.6z"/>
<path color="#0b7f75" d="M275,48l2.4-.9-2.3-1.7-2.3,.9z"/>
<path color="#13967f" d="M302.9,47.4l2.3-1.7-2.4-.7-2.3,1.7z"/>
<path color="#0a7a60" d="M270.4,47l2.4-.7-2.3-1.9-2.4,.7z"/>
<path color="#146b05" d="M254.1,39.6l2.5-.2-2.3-2.6-2.4,.3z"/>
<path color="#149869" d="M307.6,46.2l2.2-1.9-2.4-.5-2.2,1.9z"/>
<path color="#087648" d="M265.7,45.7l2.4-.6-2.2-2.1-2.4,.6z"/>
<path color="#159a4c" d="M312.3,44.7l2.2-2.1-2.5-.3-2.2,2z"/>
<path color="#306704" d="M249.4,37.2l2.5-.1-2.2-2.7-2.5,0z"/>
<path color="#07712c" d="M261,44.1l2.5-.5-2.3-2.2-2.4,.4z"/>
<path color="#0e7b85" d="M286.7,50.4l2.3-1.3-2.4-1.2-2.3,1.2z"/>
<path color="#108089" d="M291.3,50.2l2.3-1.3-2.3-1.1-2.3,1.3z"/>
<path color="#169a29" d="M317,42.8l2.2-2.2-2.5-.1-2.2,2.1z"/>
<path color="#0d7981" d="M282,50.2l2.3-1.1-2.3-1.4-2.3,1z"/>
<path color="#11878c" d="M296,49.8l2.3-1.5-2.4-.9-2.3,1.5z"/>
<path color="#0b7b7d" d="M277.4,49.6l2.3-.9-2.3-1.6-2.4,.9z"/>
<path color="#066c0e" d="M256.4,42.1l2.4-.3-2.2-2.4-2.5,.2z"/>
<path color="#13928e" d="M300.7,49l2.2-1.6-2.4-.7-2.2,1.6z"/>
<path color="#0a7c74" d="M272.7,48.8l2.3-.8-2.2-1.7-2.4,.7z"/>
<path color="#14957d" d="M305.4,48l2.2-1.8-2.4-.5-2.3,1.7z"/>
<path color="#09775d" d="M268,47.7l2.4-.7-2.3-1.9-2.4,.6z"/>
<path color="#196705" d="M251.6,39.8l2.5-.2-2.2-2.5-2.5,.1z"/>
<path color="#159764" d="M310.1,46.6l2.2-1.9-2.5-.4-2.2,1.9z"/>
<path color="#087243" d="M263.3,46.2l2.4-.5-2.2-2.1-2.5,.5z"/>
<path color="#159744" d="M314.8,44.9l2.2-2.1-2.5-.2-2.2,2.1z"/>
<path color="#0f7685" d="M289,51.5l2.3-1.3-2.3-1.1-2.3,1.3z"/>
<path color="#076d27" d="M258.6,44.4l2.4-.3-2.2-2.3-2.4,.3z"/>
<path color="#0e7381" d="M284.4,51.5l2.3-1.1-2.4-1.3-2.3,1.1z"/>
<path color="#356404" d="M246.9,37.2l2.5,0-2.2-2.8-2.5,0z"/>
<path color="#107c88" d="M293.7,51.2l2.3-1.4-2.4-.9-2.3,1.3z"/>
<path color="#0c737d" d="M279.7,51.1l2.3-.9-2.3-1.5-2.3,.9z"/>
<path color="#12858b" d="M298.4,50.6l2.3-1.6-2.4-.7-2.3,1.5z"/>
<path color="#0b7579" d="M275,50.5l2.4-.9-2.4-1.6-2.3,.8z"/>
<path color="#16981d" d="M319.5,42.8l2.2-2.2-2.5,0-2.2,2.2z"/>
<path color="#13918d" d="M303.1,49.6l2.3-1.6-2.5-.6-2.2,1.6z"/>
<path color="#0a7871" d="M270.3,49.5l2.4-.7-2.3-1.8-2.4,.7z"/>
<path color="#066908" d="M253.9,42.3l2.5-.2-2.3-2.5-2.5,.2z"/>
<path color="#149378" d="M307.8,48.4l2.3-1.8-2.5-.4-2.2,1.8z"/>
<path color="#087358" d="M265.6,48.2l2.4-.5-2.3-2-2.4,.5z"/>
<path color="#15945b" d="M312.6,46.8l2.2-1.9-2.5-.2-2.2,1.9z"/>
<path color="#1f6404" d="M249.1,39.8l2.5,0-2.2-2.6-2.5,0z"/>
<path color="#076e3d" d="M260.9,46.6l2.4-.4-2.3-2.1-2.4,.3z"/>
<path color="#0e6e81" d="M286.7,52.6l2.3-1.1-2.3-1.1-2.3,1.1z"/>
<path color="#107284" d="M291.4,52.5l2.3-1.3-2.4-1-2.3,1.3z"/>
<path color="#0d6c7d" d="M282,52.5l2.4-1-2.4-1.3-2.3,.9z"/>
<path color="#159438" d="M317.3,44.9l2.2-2.1-2.5,0-2.2,2.1z"/>
<path color="#117987" d="M296.1,52l2.3-1.4-2.4-.8-2.3,1.4z"/>
<path color="#0b6d79" d="M277.3,52l2.4-.9-2.3-1.5-2.4,.9z"/>
<path color="#066920" d="M256.1,44.6l2.5-.2-2.2-2.3-2.5,.2z"/>
<path color="#3b6004" d="M244.4,37l2.5,.2-2.2-2.8-2.6-.2z"/>
<path color="#128489" d="M300.9,51.2l2.2-1.6-2.4-.6-2.3,1.6z"/>
<path color="#0a7175" d="M272.6,51.2l2.4-.7-2.3-1.7-2.4,.7z"/>
<path color="#138f88" d="M305.6,50.1l2.2-1.7-2.4-.4-2.3,1.6z"/>
<path color="#16940f" d="M322.1,42.7l2.2-2.2-2.6,.1-2.2,2.2z"/>
<path color="#09746b" d="M267.9,50l2.4-.5-2.3-1.8-2.4,.5z"/>
<path color="#0a6505" d="M251.4,42.3l2.5,0-2.3-2.5-2.5,0z"/>
<path color="#14916f" d="M310.3,48.7l2.3-1.9-2.5-.2-2.3,1.8z"/>
<path color="#086f52" d="M263.2,48.6l2.4-.4-2.3-2-2.4,.4z"/>
<path color="#15914f" d="M315.1,46.9l2.2-2-2.5,0-2.2,1.9z"/>
<path color="#256104" d="M246.6,39.7l2.5,.1-2.2-2.6-2.5-.2z"/>
<path color="#076a36" d="M258.4,46.8l2.5-.2-2.3-2.2-2.5,.2z"/>
<path color="#0f6a80" d="M289.1,53.6l2.3-1.1-2.4-1-2.3,1.1z"/>
<path color="#0d677d" d="M284.4,53.6l2.3-1-2.3-1.1-2.4,1z"/>
<path color="#106f83" d="M293.8,53.3l2.3-1.3-2.4-.8-2.3,1.3z"/>
<path color="#0c6779" d="M279.7,53.3l2.3-.8-2.3-1.4-2.4,.9z"/>
<path color="#117885" d="M298.6,52.7l2.3-1.5-2.5-.6-2.3,1.4z"/>
<path color="#0b6975" d="M274.9,52.7l2.4-.7-2.3-1.5-2.4,.7z"/>
<path color="#159129" d="M319.9,44.8l2.2-2.1-2.6,.1-2.2,2.1z"/>
<path color="#066617" d="M253.6,44.7l2.5-.1-2.2-2.3-2.5,0z"/>
<path color="#128387" d="M303.3,51.7l2.3-1.6-2.5-.5-2.2,1.6z"/>
<path color="#096e71" d="M270.2,51.7l2.4-.5-2.3-1.7-2.4,.5z"/>
<path color="#425d04" d="M241.8,36.8l2.6,.2-2.3-2.8-2.5-.3z"/>
<path color="#138d7f" d="M308.1,50.4l2.2-1.7-2.5-.3-2.2,1.7z"/>
<path color="#086f64" d="M265.5,50.5l2.4-.5-2.3-1.8-2.4,.4z"/>
<path color="#1f9009" d="M324.7,42.4l2.2-2.3-2.6,.4-2.2,2.2z"/>
<path color="#116104" d="M248.9,42.3l2.5,0-2.3-2.5-2.5-.1z"/>
<path color="#148d63" d="M312.8,48.8l2.3-1.9-2.5-.1-2.3,1.9z"/>
<path color="#076b4a" d="M260.7,48.9l2.5-.3-2.3-2-2.5,.2z"/>
<path color="#0e627c" d="M286.8,54.7l2.3-1.1-2.4-1-2.3,1z"/>
<path color="#0f667e" d="M291.5,54.5l2.3-1.2-2.4-.8-2.3,1.1z"/>
<path color="#0d6178" d="M282,54.5l2.4-.9-2.4-1.1-2.3,.8z"/>
<path color="#158d41" d="M317.6,46.8l2.3-2-2.6,.1-2.2,2z"/>
<path color="#06662d" d="M255.9,46.9l2.5-.1-2.3-2.2-2.5,.1z"/>
<path color="#106d81" d="M296.3,54l2.3-1.3-2.5-.7-2.3,1.3z"/>
<path color="#0b6275" d="M277.3,54.1l2.4-.8-2.4-1.3-2.4,.7z"/>
<path color="#2c5d04" d="M244.1,39.5l2.5,.2-2.2-2.7-2.6-.2z"/>
<path color="#127782" d="M301,53.2l2.3-1.5-2.4-.5-2.3,1.5z"/>
<path color="#0a6671" d="M272.5,53.3l2.4-.6-2.3-1.5-2.4,.5z"/>
<path color="#138483" d="M305.8,52l2.3-1.6-2.5-.3-2.3,1.6z"/>
<path color="#158c19" d="M322.4,44.6l2.3-2.2-2.6,.3-2.2,2.1z"/>
<path color="#096b6c" d="M267.8,52.2l2.4-.5-2.3-1.7-2.4,.5z"/>
<path color="#06620e" d="M251.1,44.7l2.5,0-2.2-2.4-2.5,0z"/>
<path color="#495a04" d="M239.2,36.4l2.6,.4-2.2-2.9-2.6-.4z"/>
<path color="#138973" d="M310.6,50.5l2.2-1.7-2.5-.1-2.2,1.7z"/>
<path color="#086b5b" d="M263,50.8l2.5-.3-2.3-1.9-2.5,.3z"/>
<path color="#2e8b09" d="M327.3,41.9l2.2-2.3-2.6,.5-2.2,2.3z"/>
<path color="#185e04" d="M246.3,42.1l2.6,.2-2.3-2.6-2.5-.2z"/>
<path color="#148954" d="M315.4,48.7l2.2-1.9-2.5,.1-2.3,1.9z"/>
<path color="#076740" d="M258.2,49l2.5-.1-2.3-2.1-2.5,.1z"/>
<path color="#0d5c77" d="M284.4,55.6l2.4-.9-2.4-1.1-2.4,.9z"/>
<path color="#0e5f7a" d="M289.2,55.6l2.3-1.1-2.4-.9-2.3,1.1z"/>
<path color="#0c5c74" d="M279.6,55.3l2.4-.8-2.3-1.2-2.4,.8z"/>
<path color="#10647c" d="M293.9,55.2l2.4-1.2-2.5-.7-2.3,1.2z"/>
<path color="#0b5e70" d="M274.9,54.7l2.4-.6-2.4-1.4-2.4,.6z"/>
<path color="#116c7e" d="M298.7,54.5l2.3-1.3-2.4-.5-2.3,1.3z"/>
<path color="#148830" d="M320.2,46.6l2.2-2-2.5,.2-2.3,2z"/>
<path color="#066223" d="M253.4,46.9l2.5,0-2.3-2.2-2.5,0z"/>
<path color="#09636c" d="M270.1,53.8l2.4-.5-2.3-1.6-2.4,.5z"/>
<path color="#345a04" d="M241.5,39.1l2.6,.4-2.3-2.7-2.6-.4z"/>
<path color="#12777f" d="M303.5,53.5l2.3-1.5-2.5-.3-2.3,1.5z"/>
<path color="#086968" d="M265.3,52.5l2.5-.3-2.3-1.7-2.5,.3z"/>
<path color="#12847f" d="M308.3,52.2l2.3-1.7-2.5-.1-2.3,1.6z"/>
<path color="#168709" d="M325,44.1l2.3-2.2-2.6,.5-2.3,2.2z"/>
<path color="#065e04" d="M248.6,44.5l2.5,.2-2.2-2.4-2.6-.2z"/>
<path color="#076751" d="M260.5,50.9l2.5-.1-2.3-1.9-2.5,.1z"/>
<path color="#138464" d="M313.1,50.5l2.3-1.8-2.6,.1-2.2,1.7z"/>
<path color="#515704" d="M236.6,35.9l2.6,.5-2.2-2.9-2.7-.6z"/>
<path color="#0d5875" d="M286.8,56.5l2.4-.9-2.4-.9-2.4,.9z"/>
<path color="#0c5772" d="M282,56.4l2.4-.8-2.4-1.1-2.4,.8z"/>
<path color="#3d8509" d="M329.9,41.3l2.2-2.3-2.6,.6-2.2,2.3z"/>
<path color="#0f5c77" d="M291.6,56.3l2.3-1.1-2.4-.7-2.3,1.1z"/>
<path color="#215a04" d="M243.7,41.7l2.6,.4-2.2-2.6-2.6-.4z"/>
<path color="#066236" d="M255.7,49l2.5,0-2.3-2.1-2.5,0z"/>
<path color="#148343" d="M317.9,48.5l2.3-1.9-2.6,.2-2.2,1.9z"/>
<path color="#0b586e" d="M277.2,56l2.4-.7-2.3-1.2-2.4,.6z"/>
<path color="#106278" d="M296.4,55.8l2.3-1.3-2.4-.5-2.4,1.2z"/>
<path color="#0a5c6b" d="M272.4,55.2l2.5-.5-2.4-1.4-2.4,.5z"/>
<path color="#116b7a" d="M301.2,54.9l2.3-1.4-2.5-.3-2.3,1.3z"/>
<path color="#096167" d="M267.6,54.2l2.5-.4-2.3-1.6-2.5,.3z"/>
<path color="#065e18" d="M250.9,46.8l2.5,.1-2.3-2.2-2.5-.2z"/>
<path color="#12777a" d="M306,53.7l2.3-1.5-2.5-.2-2.3,1.5z"/>
<path color="#14821e" d="M322.8,46.2l2.2-2.1-2.6,.5-2.2,2z"/>
<path color="#3d5704" d="M238.8,38.6l2.7,.5-2.3-2.7-2.6-.5z"/>
<path color="#086660" d="M262.8,52.8l2.5-.3-2.3-1.7-2.5,.1z"/>
<path color="#127f6f" d="M310.8,52.2l2.3-1.7-2.5,0-2.3,1.7z"/>
<path color="#0f5a04" d="M246,44.2l2.6,.3-2.3-2.4-2.6-.4z"/>
<path color="#268009" d="M327.7,43.5l2.2-2.2-2.6,.6-2.3,2.2z"/>
<path color="#076246" d="M258,51l2.5-.1-2.3-1.9-2.5,0z"/>
<path color="#137e52" d="M315.7,50.4l2.2-1.9-2.5,.2-2.3,1.8z"/>
<path color="#0d536f" d="M284.4,57.4l2.4-.9-2.4-.9-2.4,.8z"/>
<path color="#0e5571" d="M289.2,57.3l2.4-1-2.4-.7-2.4,.9z"/>
<path color="#524e04" d="M233.9,35.2l2.7,.7-2.3-3-2.6-.7z"/>
<path color="#0b536c" d="M279.6,57.1l2.4-.7-2.4-1.1-2.4,.7z"/>
<path color="#0f5a73" d="M294.1,56.9l2.3-1.1-2.5-.6-2.3,1.1z"/>
<path color="#0a5569" d="M274.8,56.6l2.4-.6-2.3-1.3-2.5,.5z"/>
<path color="#106174" d="M298.9,56.2l2.3-1.3-2.5-.4-2.3,1.3z"/>
<path color="#065e2a" d="M253.2,48.9l2.5,.1-2.3-2.1-2.5-.1z"/>
<path color="#2a5704" d="M241.1,41.3l2.6,.4-2.2-2.6-2.7-.5z"/>
<path color="#137d30" d="M320.6,48.2l2.2-2-2.6,.4-2.3,1.9z"/>
<path color="#4d7e09" d="M332.6,40.5l2.2-2.3-2.7,.8-2.2,2.3z"/>
<path color="#095a66" d="M270,55.6l2.4-.4-2.3-1.4-2.5,.4z"/>
<path color="#116b74" d="M303.7,55.2l2.3-1.5-2.5-.2-2.3,1.4z"/>
<path color="#086062" d="M265.2,54.4l2.4-.2-2.3-1.7-2.5,.3z"/>
<path color="#117774" d="M308.6,53.8l2.2-1.6-2.5,0-2.3,1.5z"/>
<path color="#055a0d" d="M248.3,46.5l2.6,.3-2.3-2.3-2.6-.3z"/>
<path color="#137b0a" d="M325.4,45.7l2.3-2.2-2.7,.6-2.2,2.1z"/>
<path color="#076154" d="M260.3,52.8l2.5,0-2.3-1.9-2.5,.1z"/>
<path color="#455304" d="M236.2,38l2.6,.6-2.2-2.7-2.7-.7z"/>
<path color="#12785e" d="M313.4,52.1l2.3-1.7-2.6,.1-2.3,1.7z"/>
<path color="#185604" d="M243.4,43.8l2.6,.4-2.3-2.5-2.6-.4z"/>
<path color="#065d3a" d="M255.5,50.9l2.5,.1-2.3-2-2.5-.1z"/>
<path color="#0d4f6b" d="M286.9,58.2l2.3-.9-2.4-.8-2.4,.9z"/>
<path color="#0c4e69" d="M282,58.1l2.4-.7-2.4-1-2.4,.7z"/>
<path color="#357909" d="M330.4,42.8l2.2-2.3-2.7,.8-2.2,2.2z"/>
<path color="#0e536d" d="M291.7,58l2.4-1.1-2.5-.6-2.4,1z"/>
<path color="#127740" d="M318.3,50l2.3-1.8-2.7,.3-2.2,1.9z"/>
<path color="#0b5067" d="M277.2,57.7l2.4-.6-2.4-1.1-2.4,.6z"/>
<path color="#0f586e" d="M296.5,57.4l2.4-1.2-2.5-.4-2.3,1.1z"/>
<path color="#095364" d="M272.4,57l2.4-.4-2.4-1.4-2.4,.4z"/>
<path color="#10606e" d="M301.4,56.5l2.3-1.3-2.5-.3-2.3,1.3z"/>
<path color="#4e4304" d="M231.2,34.4l2.7,.8-2.2-3-2.7-.8z"/>
<path color="#06591e" d="M250.6,48.7l2.6,.2-2.3-2.1-2.6-.3z"/>
<path color="#085860" d="M267.5,55.9l2.5-.3-2.4-1.4-2.4,.2z"/>
<path color="#335304" d="M238.5,40.7l2.6,.6-2.3-2.7-2.6-.6z"/>
<path color="#12751d" d="M323.2,47.7l2.2-2-2.6,.5-2.2,2z"/>
<path color="#106a6e" d="M306.2,55.2l2.4-1.4-2.6-.1-2.3,1.5z"/>
<path color="#5b7708" d="M335.3,39.6l2.2-2.4-2.7,1-2.2,2.3z"/>
<path color="#075f5d" d="M262.7,54.5l2.5-.1-2.4-1.6-2.5,0z"/>
<path color="#117266" d="M311.1,53.7l2.3-1.6-2.6,.1-2.2,1.6z"/>
<path color="#085604" d="M245.7,46.1l2.6,.4-2.3-2.3-2.6-.4z"/>
<path color="#217308" d="M328.1,44.9l2.3-2.1-2.7,.7-2.3,2.2z"/>
<path color="#075c47" d="M257.8,52.8l2.5,0-2.3-1.8-2.5-.1z"/>
<path color="#4e5004" d="M233.5,37.3l2.7,.7-2.3-2.8-2.7-.8z"/>
<path color="#11714b" d="M316,51.8l2.3-1.8-2.6,.4-2.3,1.7z"/>
<path color="#0c4a65" d="M284.5,59l2.4-.8-2.5-.8-2.4,.7z"/>
<path color="#0d4c66" d="M289.3,58.9l2.4-.9-2.5-.7-2.3,.9z"/>
<path color="#0b4b63" d="M279.6,58.7l2.4-.6-2.4-1-2.4,.6z"/>
<path color="#0e5167" d="M294.2,58.4l2.3-1-2.4-.5-2.4,1.1z"/>
<path color="#0a4d60" d="M274.8,58.2l2.4-.5-2.4-1.1-2.4,.4z"/>
<path color="#06582d" d="M252.9,50.8l2.6,.1-2.3-2-2.6-.2z"/>
<path color="#215204" d="M240.7,43.2l2.7,.6-2.3-2.5-2.6-.6z"/>
<path color="#0e5768" d="M299,57.7l2.4-1.2-2.5-.3-2.4,1.2z"/>
<path color="#116f2c" d="M320.9,49.5l2.3-1.8-2.6,.5-2.3,1.8z"/>
<path color="#09515e" d="M269.9,57.3l2.5-.3-2.4-1.4-2.5,.3z"/>
<path color="#447108" d="M333.1,41.9l2.2-2.3-2.7,.9-2.2,2.3z"/>
<path color="#0f5f67" d="M303.9,56.6l2.3-1.4-2.5,0-2.3,1.3z"/>
<path color="#08575b" d="M265,56.1l2.5-.2-2.3-1.5-2.5,.1z"/>
<path color="#4b3704" d="M228.5,33.5l2.7,.9-2.2-3-2.7-1z"/>
<path color="#055512" d="M248,48.4l2.6,.3-2.3-2.2-2.6-.4z"/>
<path color="#106966" d="M308.8,55.2l2.3-1.5-2.5,.1-2.4,1.4z"/>
<path color="#3c4f04" d="M235.8,40l2.7,.7-2.3-2.7-2.7-.7z"/>
<path color="#116d0a" d="M325.9,47l2.2-2.1-2.7,.8-2.2,2z"/>
<path color="#075a51" d="M260.1,54.5l2.6,0-2.4-1.7-2.5,0z"/>
<path color="#686e08" d="M338.1,38.5l2.2-2.5-2.8,1.2-2.2,2.4z"/>
<path color="#106952" d="M313.7,53.4l2.3-1.6-2.6,.3-2.3,1.6z"/>
<path color="#125204" d="M243,45.6l2.7,.5-2.3-2.3-2.7-.6z"/>
<path color="#06573a" d="M255.2,52.6l2.6,.2-2.3-1.9-2.6-.1z"/>
<path color="#0c475f" d="M286.9,59.6l2.4-.7-2.4-.7-2.4,.8z"/>
<path color="#0b465e" d="M282,59.6l2.5-.6-2.5-.9-2.4,.6z"/>
<path color="#2f6a08" d="M330.8,44l2.3-2.1-2.7,.9-2.3,2.1z"/>
<path color="#0d4960" d="M291.8,59.4l2.4-1-2.5-.4-2.4,.9z"/>
<path color="#0a475c" d="M277.2,59.2l2.4-.5-2.4-1-2.4,.5z"/>
<path color="#106837" d="M318.6,51.3l2.3-1.8-2.6,.5-2.3,1.8z"/>
<path color="#0d4e60" d="M296.7,58.7l2.3-1-2.5-.3-2.3,1z"/>
<path color="#4a4404" d="M230.8,36.4l2.7,.9-2.3-2.9-2.7-.9z"/>
<path color="#094a5a" d="M272.3,58.5l2.5-.3-2.4-1.2-2.5,.3z"/>
<path color="#0e5560" d="M301.6,57.8l2.3-1.2-2.5-.1-2.4,1.2z"/>
<path color="#065420" d="M250.3,50.4l2.6,.4-2.3-2.1-2.6-.3z"/>
<path color="#2b4e04" d="M238.1,42.5l2.6,.7-2.2-2.5-2.7-.7z"/>
<path color="#084f58" d="M267.4,57.5l2.5-.2-2.4-1.4-2.5,.2z"/>
<path color="#106518" d="M323.6,48.9l2.3-1.9-2.7,.7-2.3,1.8z"/>
<path color="#0e5d5f" d="M306.5,56.5l2.3-1.3-2.6,0-2.3,1.4z"/>
<path color="#506808" d="M335.8,40.8l2.3-2.3-2.8,1.1-2.2,2.3z"/>
<path color="#075555" d="M262.5,56.1l2.5,0-2.3-1.6-2.6,0z"/>
<path color="#055005" d="M245.3,47.9l2.7,.5-2.3-2.3-2.7-.5z"/>
<path color="#0f6255" d="M311.4,54.9l2.3-1.5-2.6,.3-2.3,1.5z"/>
<path color="#482c04" d="M225.8,32.4l2.7,1.1-2.2-3.1-2.8-1.1z"/>
<path color="#065443" d="M257.6,54.4l2.5,.1-2.3-1.7-2.6-.2z"/>
<path color="#454b04" d="M233.1,39.1l2.7,.9-2.3-2.7-2.7-.9z"/>
<path color="#1e6308" d="M328.6,46.1l2.2-2.1-2.7,.9-2.2,2.1z"/>
<path color="#0f603e" d="M316.3,53l2.3-1.7-2.6,.5-2.3,1.6z"/>
<path color="#0b4258" d="M284.5,60.3l2.4-.7-2.4-.6-2.5,.6z"/>
<path color="#695e08" d="M340.9,37.2l2.2-2.5-2.8,1.3-2.2,2.5z"/>
<path color="#0c4358" d="M289.4,60.2l2.4-.8-2.5-.5-2.4,.7z"/>
<path color="#0a4257" d="M279.6,60.1l2.4-.5-2.4-.9-2.4,.5z"/>
<path color="#1c4d04" d="M240.4,45l2.6,.6-2.3-2.4-2.6-.7z"/>
<path color="#0c4658" d="M294.3,59.7l2.4-1-2.5-.3-2.4,1z"/>
<path color="#06512c" d="M252.6,52.4l2.6,.2-2.3-1.8-2.6-.4z"/>
<path color="#094455" d="M274.7,59.6l2.5-.4-2.4-1-2.5,.3z"/>
<path color="#0d4b58" d="M299.2,58.9l2.4-1.1-2.6-.1-2.3,1z"/>
<path color="#084853" d="M269.8,58.7l2.5-.2-2.4-1.2-2.5,.2z"/>
<path color="#0f5d23" d="M321.3,50.7l2.3-1.8-2.7,.6-2.3,1.8z"/>
<path color="#3b6008" d="M333.6,43l2.2-2.2-2.7,1.1-2.3,2.1z"/>
<path color="#0d5157" d="M304.1,57.8l2.4-1.3-2.6,.1-2.3,1.2z"/>
<path color="#473804" d="M228,35.3l2.8,1.1-2.3-2.9-2.7-1.1z"/>
<path color="#074d51" d="M264.9,57.5l2.5,0-2.4-1.4-2.5,0z"/>
<path color="#054e13" d="M247.7,50l2.6,.4-2.3-2-2.7-.5z"/>
<path color="#344a04" d="M235.4,41.7l2.7,.8-2.3-2.5-2.7-.9z"/>
<path color="#0d5955" d="M309.1,56.3l2.3-1.4-2.6,.3-2.3,1.3z"/>
<path color="#105b07" d="M326.3,48.1l2.3-2-2.7,.9-2.3,1.9z"/>
<path color="#07514a" d="M259.9,56l2.6,.1-2.4-1.6-2.5-.1z"/>
<path color="#5a5e07" d="M338.6,39.5l2.3-2.3-2.8,1.3-2.3,2.3z"/>
<path color="#0e5740" d="M314,54.5l2.3-1.5-2.6,.4-2.3,1.5z"/>
<path color="#0e4c04" d="M242.7,47.2l2.6,.7-2.3-2.3-2.6-.6z"/>
<path color="#064f35" d="M255,54.1l2.6,.3-2.4-1.8-2.6-.2z"/>
<path color="#442104" d="M223,31.2l2.8,1.2-2.3-3.1-2.8-1.2z"/>
<path color="#0a3d50" d="M287,60.9l2.4-.7-2.5-.6-2.4,.7z"/>
<path color="#0a3d50" d="M282,60.9l2.5-.6-2.5-.7-2.4,.5z"/>
<path color="#464204" d="M230.3,38.1l2.8,1-2.3-2.7-2.8-1.1z"/>
<path color="#0b3f50" d="M291.9,60.6l2.4-.9-2.5-.3-2.4,.8z"/>
<path color="#2a5807" d="M331.3,45.1l2.3-2.1-2.8,1-2.2,2.1z"/>
<path color="#093e4f" d="M277.1,60.5l2.5-.4-2.4-.9-2.5,.4z"/>
<path color="#0e542a" d="M319,52.4l2.3-1.7-2.7,.6-2.3,1.7z"/>
<path color="#0c424f" d="M296.8,59.9l2.4-1-2.5-.2-2.4,1z"/>
<path color="#08414e" d="M272.2,59.8l2.5-.2-2.4-1.1-2.5,.2z"/>
<path color="#054c1f" d="M250,51.9l2.6,.5-2.3-2-2.6-.4z"/>
<path color="#254904" d="M237.7,44.2l2.7,.8-2.3-2.5-2.7-.8z"/>
<path color="#0c474d" d="M301.8,58.9l2.3-1.1-2.5,0-2.4,1.1z"/>
<path color="#5f4807" d="M343.7,35.7l2.2-2.5-2.8,1.5-2.2,2.5z"/>
<path color="#07464c" d="M267.2,58.8l2.6-.1-2.4-1.2-2.5,0z"/>
<path color="#0e5211" d="M324,49.9l2.3-1.8-2.7,.8-2.3,1.8z"/>
<path color="#0c4c4c" d="M306.7,57.6l2.4-1.3-2.6,.2-2.4,1.3z"/>
<path color="#074b4a" d="M262.3,57.5l2.6,0-2.4-1.4-2.6-.1z"/>
<path color="#455607" d="M336.4,41.7l2.2-2.2-2.8,1.3-2.2,2.2z"/>
<path color="#054907" d="M245,49.4l2.7,.6-2.4-2.1-2.6-.7z"/>
<path color="#432c04" d="M225.2,34.1l2.8,1.2-2.2-2.9-2.8-1.2z"/>
<path color="#0c4d40" d="M311.7,55.9l2.3-1.4-2.6,.4-2.3,1.4z"/>
<path color="#3d4604" d="M232.6,40.7l2.8,1-2.3-2.6-2.8-1z"/>
<path color="#064b3b" d="M257.3,55.8l2.6,.2-2.3-1.6-2.6-.3z"/>
<path color="#1b4f07" d="M329,47l2.3-1.9-2.7,1-2.3,2z"/>
<path color="#0c4b2c" d="M316.7,53.9l2.3-1.5-2.7,.6-2.3,1.5z"/>
<path color="#184704" d="M240,46.5l2.7,.7-2.3-2.2-2.7-.8z"/>
<path color="#093747" d="M284.5,61.4l2.5-.5-2.5-.6-2.5,.6z"/>
<path color="#564c07" d="M341.5,38.1l2.2-2.4-2.8,1.5-2.3,2.3z"/>
<path color="#0a3846" d="M289.5,61.3l2.4-.7-2.5-.4-2.4,.7z"/>
<path color="#093847" d="M279.6,61.3l2.4-.4-2.4-.8-2.5,.4z"/>
<path color="#064927" d="M252.3,53.7l2.7,.4-2.4-1.7-2.6-.5z"/>
<path color="#0a3a45" d="M294.4,60.8l2.4-.9-2.5-.2-2.4,.9z"/>
<path color="#083a47" d="M274.6,60.8l2.5-.3-2.4-.9-2.5,.2z"/>
<path color="#411604" d="M220.1,29.8l2.9,1.4-2.3-3.1-2.9-1.4z"/>
<path color="#0b3c43" d="M299.4,59.9l2.4-1-2.6,0-2.4,1z"/>
<path color="#073e46" d="M269.7,59.9l2.5-.1-2.4-1.1-2.6,.1z"/>
<path color="#423604" d="M227.5,37l2.8,1.1-2.3-2.8-2.8-1.2z"/>
<path color="#324c07" d="M334.1,43.9l2.3-2.2-2.8,1.3-2.3,2.1z"/>
<path color="#0c4818" d="M321.7,51.6l2.3-1.7-2.7,.8-2.3,1.7z"/>
<path color="#0b4042" d="M304.4,58.8l2.3-1.2-2.6,.2-2.3,1.1z"/>
<path color="#054612" d="M247.3,51.4l2.7,.5-2.3-1.9-2.7-.6z"/>
<path color="#074345" d="M264.7,58.8l2.5,0-2.3-1.3-2.6,0z"/>
<path color="#2e4404" d="M234.9,43.2l2.8,1-2.3-2.5-2.8-1z"/>
<path color="#0b433b" d="M309.4,57.2l2.3-1.3-2.6,.4-2.4,1.3z"/>
<path color="#06463e" d="M259.7,57.3l2.6,.2-2.4-1.5-2.6-.2z"/>
<path color="#104506" d="M326.7,48.9l2.3-1.9-2.7,1.1-2.3,1.8z"/>
<path color="#0d4404" d="M242.3,48.7l2.7,.7-2.3-2.2-2.7-.7z"/>
<path color="#4a4a07" d="M339.2,40.3l2.3-2.2-2.9,1.4-2.2,2.2z"/>
<path color="#0b402c" d="M314.4,55.4l2.3-1.5-2.7,.6-2.3,1.4z"/>
<path color="#402104" d="M222.4,32.8l2.8,1.3-2.2-2.9-2.9-1.4z"/>
<path color="#06442d" d="M254.7,55.4l2.6,.4-2.3-1.7-2.7-.4z"/>
<path color="#403f04" d="M229.8,39.6l2.8,1.1-2.3-2.6-2.8-1.1z"/>
<path color="#09313c" d="M287,61.9l2.5-.6-2.5-.4-2.5,.5z"/>
<path color="#08313d" d="M282,61.9l2.5-.5-2.5-.5-2.4,.4z"/>
<path color="#09313b" d="M292,61.5l2.4-.7-2.5-.2-2.4,.7z"/>
<path color="#234306" d="M331.8,45.9l2.3-2-2.8,1.2-2.3,1.9z"/>
<path color="#08333e" d="M277.1,61.6l2.5-.3-2.5-.8-2.5,.3z"/>
<path color="#0b3d1b" d="M319.4,53.2l2.3-1.6-2.7,.8-2.3,1.5z"/>
<path color="#093339" d="M297,60.8l2.4-.9-2.6,0-2.4,.9z"/>
<path color="#07363e" d="M272.1,60.9l2.5-.1-2.4-1-2.5,.1z"/>
<path color="#214204" d="M237.2,45.6l2.8,.9-2.3-2.3-2.8-1z"/>
<path color="#05421a" d="M249.7,53.2l2.6,.5-2.3-1.8-2.7-.5z"/>
<path color="#093537" d="M302,59.8l2.4-1-2.6,.1-2.4,1z"/>
<path color="#073a3d" d="M267.1,59.9l2.6,0-2.5-1.1-2.5,0z"/>
<path color="#0b3b09" d="M324.4,50.7l2.3-1.8-2.7,1-2.3,1.7z"/>
<path color="#093734" d="M307,58.4l2.4-1.2-2.7,.4-2.3,1.2z"/>
<path color="#3e2b04" d="M224.7,35.7l2.8,1.3-2.3-2.9-2.8-1.3z"/>
<path color="#063f3d" d="M262.1,58.6l2.6,.2-2.4-1.3-2.6-.2z"/>
<path color="#364006" d="M336.9,42.5l2.3-2.2-2.8,1.4-2.3,2.2z"/>
<path color="#054106" d="M244.6,50.7l2.7,.7-2.3-2-2.7-.7z"/>
<path color="#374004" d="M232.1,42.2l2.8,1-2.3-2.5-2.8-1.1z"/>
<path color="#093527" d="M312,56.7l2.4-1.3-2.7,.5-2.3,1.3z"/>
<path color="#063e2f" d="M257.1,56.9l2.6,.4-2.4-1.5-2.6-.4z"/>
<path color="#173806" d="M329.5,47.8l2.3-1.9-2.8,1.1-2.3,1.9z"/>
<path color="#163f04" d="M239.6,47.8l2.7,.9-2.3-2.2-2.8-.9z"/>
<path color="#09321a" d="M317.1,54.7l2.3-1.5-2.7,.7-2.3,1.5z"/>
<path color="#053d20" d="M252,54.9l2.7,.5-2.4-1.7-2.6-.5z"/>
<path color="#082a31" d="M284.6,62.3l2.4-.4-2.5-.5-2.5,.5z"/>
<path color="#072b33" d="M279.5,62.2l2.5-.3-2.4-.6-2.5,.3z"/>
<path color="#082930" d="M289.6,62.1l2.4-.6-2.5-.2-2.5,.6z"/>
<path color="#072e34" d="M274.5,61.7l2.6-.1-2.5-.8-2.5,.1z"/>
<path color="#08292e" d="M294.6,61.6l2.4-.8-2.6,0-2.4,.7z"/>
<path color="#3c3304" d="M227,38.4l2.8,1.2-2.3-2.6-2.8-1.3z"/>
<path color="#073135" d="M269.5,60.9l2.6,0-2.4-1-2.6,0z"/>
<path color="#082a2b" d="M299.6,60.7l2.4-.9-2.6,.1-2.4,.9z"/>
<path color="#263506" d="M334.6,44.5l2.3-2-2.8,1.4-2.3,2z"/>
<path color="#092f0d" d="M322.1,52.3l2.3-1.6-2.7,.9-2.3,1.6z"/>
<path color="#053c0e" d="M247,52.5l2.7,.7-2.4-1.8-2.7-.7z"/>
<path color="#293d04" d="M234.5,44.5l2.7,1.1-2.3-2.4-2.8-1z"/>
<path color="#063635" d="M264.5,59.8l2.6,.1-2.4-1.1-2.6-.2z"/>
<path color="#082b29" d="M304.6,59.5l2.4-1.1-2.6,.4-2.4,1z"/>
<path color="#06372e" d="M259.5,58.3l2.6,.3-2.4-1.3-2.6-.4z"/>
<path color="#082920" d="M309.6,57.9l2.4-1.2-2.6,.5-2.4,1.2z"/>
<path color="#0e2d05" d="M327.2,49.5l2.3-1.7-2.8,1.1-2.3,1.8z"/>
<path color="#0d3b04" d="M241.9,49.8l2.7,.9-2.3-2-2.7-.9z"/>
<path color="#053722" d="M254.4,56.5l2.7,.4-2.4-1.5-2.7-.5z"/>
<path color="#082617" d="M314.7,56l2.4-1.3-2.7,.7-2.4,1.3z"/>
<path color="#3a3904" d="M229.3,40.9l2.8,1.3-2.3-2.6-2.8-1.2z"/>
<path color="#072227" d="M282.1,62.7l2.5-.4-2.6-.4-2.5,.3z"/>
<path color="#072124" d="M287.1,62.6l2.5-.5-2.6-.2-2.4,.4z"/>
<path color="#062428" d="M277,62.4l2.5-.2-2.4-.6-2.6,.1z"/>
<path color="#072022" d="M292.1,62.3l2.5-.7-2.6-.1-2.4,.6z"/>
<path color="#192a05" d="M332.3,46.4l2.3-1.9-2.8,1.4-2.3,1.9z"/>
<path color="#1e3904" d="M236.8,46.8l2.8,1-2.4-2.2-2.7-1.1z"/>
<path color="#053614" d="M249.4,54.3l2.6,.6-2.3-1.7-2.7-.7z"/>
<path color="#08240d" d="M319.8,53.8l2.3-1.5-2.7,.9-2.3,1.5z"/>
<path color="#06272a" d="M272,61.8l2.5-.1-2.4-.8-2.6,0z"/>
<path color="#071f20" d="M297.1,61.5l2.5-.8-2.6,.1-2.4,.8z"/>
<path color="#062b2b" d="M266.9,60.8l2.6,.1-2.4-1-2.6-.1z"/>
<path color="#071f1d" d="M302.2,60.5l2.4-1-2.6,.3-2.4,.9z"/>
<path color="#062e29" d="M261.9,59.5l2.6,.3-2.4-1.2-2.6-.3z"/>
<path color="#053504" d="M244.3,51.7l2.7,.8-2.4-1.8-2.7-.9z"/>
<path color="#082105" d="M324.9,51.2l2.3-1.7-2.8,1.2-2.3,1.6z"/>
<path color="#071d18" d="M307.3,59l2.3-1.1-2.6,.5-2.4,1.1z"/>
<path color="#313804" d="M231.6,43.4l2.9,1.1-2.4-2.3-2.8-1.3z"/>
<path color="#052f20" d="M256.8,57.8l2.7,.5-2.4-1.4-2.7-.4z"/>
<path color="#061b11" d="M312.3,57.3l2.4-1.3-2.7,.7-2.4,1.2z"/>
<path color="#143504" d="M239.1,48.9l2.8,.9-2.3-2-2.8-1z"/>
<path color="#101f05" d="M330,48.2l2.3-1.8-2.8,1.4-2.3,1.7z"/>
<path color="#052f16" d="M251.7,55.8l2.7,.7-2.4-1.6-2.6-.6z"/>
<path color="#06180b" d="M317.4,55.2l2.4-1.4-2.7,.9-2.4,1.3z"/>
<path color="#06181a" d="M284.6,63l2.5-.4-2.5-.3-2.5,.4z"/>
<path color="#061a1c" d="M279.5,62.9l2.6-.2-2.6-.5-2.5,.2z"/>
<path color="#061717" d="M289.6,62.8l2.5-.5-2.5-.2-2.5,.5z"/>
<path color="#061d1e" d="M274.5,62.5l2.5-.1-2.5-.7-2.5,.1z"/>
<path color="#061515" d="M294.7,62.2l2.4-.7-2.5,.1-2.5,.7z"/>
<path color="#052020" d="M269.4,61.7l2.6,.1-2.5-.9-2.6-.1z"/>
<path color="#051412" d="M299.8,61.3l2.4-.8-2.6,.2-2.5,.8z"/>
<path color="#052f09" d="M246.6,53.5l2.8,.8-2.4-1.8-2.7-.8z"/>
<path color="#253404" d="M234,45.6l2.8,1.2-2.3-2.3-2.9-1.1z"/>
<path color="#061606" d="M322.5,52.7l2.4-1.5-2.8,1.1-2.3,1.5z"/>
<path color="#052421" d="M264.3,60.6l2.6,.2-2.4-1-2.6-.3z"/>
<path color="#05130f" d="M304.8,60l2.5-1-2.7,.5-2.4,1z"/>
<path color="#05251c" d="M259.2,59.1l2.7,.4-2.4-1.2-2.7-.5z"/>
<path color="#05110b" d="M309.9,58.4l2.4-1.1-2.7,.6-2.3,1.1z"/>
<path color="#0d2f04" d="M241.5,50.8l2.8,.9-2.4-1.9-2.8-.9z"/>
<path color="#091505" d="M327.7,49.9l2.3-1.7-2.8,1.3-2.3,1.7z"/>
<path color="#052615" d="M254.1,57.3l2.7,.5-2.4-1.3-2.7-.7z"/>
<path color="#050f08" d="M315.1,56.5l2.3-1.3-2.7,.8-2.4,1.3z"/>
<path color="#051010" d="M282.1,63.3l2.5-.3-2.5-.3-2.6,.2z"/>
<path color="#050f0e" d="M287.1,63.2l2.5-.4-2.5-.2-2.5,.4z"/>
<path color="#1a2f04" d="M236.3,47.7l2.8,1.2-2.3-2.1-2.8-1.2z"/>
<path color="#051312" d="M277,63l2.5-.1-2.5-.5-2.5,.1z"/>
<path color="#050d0c" d="M292.2,62.8l2.5-.6-2.6,.1-2.5,.5z"/>
<path color="#05270c" d="M249,55.1l2.7,.7-2.3-1.5-2.8-.8z"/>
<path color="#051514" d="M271.9,62.4l2.6,.1-2.5-.7-2.6-.1z"/>
<path color="#050e05" d="M320.2,54.1l2.3-1.4-2.7,1.1-2.4,1.4z"/>
<path color="#050c0a" d="M297.3,62l2.5-.7-2.7,.2-2.4,.7z"/>
<path color="#051916" d="M266.8,61.5l2.6,.2-2.5-.9-2.6-.2z"/>
<path color="#040b08" d="M302.4,60.9l2.4-.9-2.6,.5-2.4,.8z"/>
<path color="#072804" d="M243.9,52.6l2.7,.9-2.3-1.8-2.8-.9z"/>
<path color="#051b15" d="M261.7,60.2l2.6,.4-2.4-1.1-2.7-.4z"/>
<path color="#060d04" d="M325.4,51.5l2.3-1.6-2.8,1.3-2.4,1.5z"/>
<path color="#040a07" d="M307.5,59.4l2.4-1-2.6,.6-2.5,1z"/>
<path color="#051d11" d="M256.6,58.5l2.6,.6-2.4-1.3-2.7-.5z"/>
<path color="#040905" d="M312.7,57.6l2.4-1.1-2.8,.8-2.4,1.1z"/>
<path color="#122904" d="M238.7,49.7l2.8,1.1-2.4-1.9-2.8-1.2z"/>
<path color="#051e0c" d="M251.4,56.5l2.7,.8-2.4-1.5-2.7-.7z"/>
<path color="#040805" d="M317.8,55.4l2.4-1.3-2.8,1.1-2.3,1.3z"/>
<path color="#040907" d="M284.6,63.5l2.5-.3-2.5-.2-2.5,.3z"/>
<path color="#040a09" d="M279.5,63.4l2.6-.1-2.6-.4-2.5,.1z"/>
<path color="#040806" d="M289.7,63.2l2.5-.4-2.6,0-2.5,.4z"/>
<path color="#040c0a" d="M274.4,63l2.6,0-2.5-.5-2.6-.1z"/>
<path color="#040705" d="M294.8,62.6l2.5-.6-2.6,.2-2.5,.6z"/>
<path color="#040e0c" d="M269.3,62.2l2.6,.2-2.5-.7-2.6-.2z"/>
<path color="#042005" d="M246.3,54.2l2.7,.9-2.4-1.6-2.7-.9z"/>
<path color="#040705" d="M300,61.6l2.4-.7-2.6,.4-2.5,.7z"/>
<path color="#040804" d="M323,52.9l2.4-1.4-2.9,1.2-2.3,1.4z"/>
<path color="#04100d" d="M264.1,61.1l2.7,.4-2.5-.9-2.6-.4z"/>
<path color="#040704" d="M305.1,60.3l2.4-.9-2.7,.6-2.4,.9z"/>
<path color="#04130c" d="M259,59.6l2.7,.6-2.5-1.1-2.6-.6z"/>
<path color="#0c2104" d="M241.1,51.5l2.8,1.1-2.4-1.8-2.8-1.1z"/>
<path color="#040604" d="M310.2,58.6l2.5-1-2.8,.8-2.4,1z"/>
<path color="#04150a" d="M253.8,57.8l2.8,.7-2.5-1.2-2.7-.8z"/>
<path color="#040604" d="M315.4,56.6l2.4-1.2-2.7,1.1-2.4,1.1z"/>
<path color="#040604" d="M282.1,63.6l2.5-.1-2.5-.2-2.6,.1z"/>
<path color="#040604" d="M287.2,63.5l2.5-.3-2.6,0-2.5,.3z"/>
<path color="#041706" d="M248.7,55.7l2.7,.8-2.4-1.4-2.7-.9z"/>
<path color="#040705" d="M276.9,63.4l2.6,0-2.5-.4-2.6,0z"/>
<path color="#040604" d="M292.3,63l2.5-.4-2.6,.2-2.5,.4z"/>
<path color="#040806" d="M271.8,62.8l2.6,.2-2.5-.6-2.6-.2z"/>
<path color="#040604" d="M320.6,54.2l2.4-1.3-2.8,1.2-2.4,1.3z"/>
<path color="#040604" d="M297.5,62.2l2.5-.6-2.7,.4-2.5,.6z"/>
<path color="#040906" d="M266.6,61.9l2.7,.3-2.5-.7-2.7-.4z"/>
<path color="#040604" d="M302.6,61l2.5-.7-2.7,.6-2.4,.7z"/>
<path color="#071804" d="M243.5,53.2l2.8,1-2.4-1.6-2.8-1.1z"/>
<path color="#040a07" d="M261.5,60.6l2.6,.5-2.4-.9-2.7-.6z"/>
<path color="#040604" d="M307.8,59.5l2.4-.9-2.7,.8-2.4,.9z"/>
<path color="#040c07" d="M256.3,59l2.7,.6-2.4-1.1-2.8-.7z"/>
<path color="#040604" d="M313,57.7l2.4-1.1-2.7,1-2.5,1z"/>
<path color="#040e06" d="M251.1,57l2.7,.8-2.4-1.3-2.7-.8z"/>
<path color="#040604" d="M284.6,63.6l2.6-.1-2.6,0-2.5,.1z"/>
<path color="#040604" d="M318.2,55.4l2.4-1.2-2.8,1.2-2.4,1.2z"/>
<path color="#040604" d="M279.5,63.6l2.6,0-2.6-.2-2.6,0z"/>
<path color="#040604" d="M289.8,63.3l2.5-.3-2.6,.2-2.5,.3z"/>
<path color="#040604" d="M274.3,63.2l2.6,.2-2.5-.4-2.6-.2z"/>
<path color="#040604" d="M295,62.7l2.5-.5-2.7,.4-2.5,.4z"/>
<path color="#051004" d="M245.9,54.7l2.8,1-2.4-1.5-2.8-1z"/>
<path color="#040604" d="M269.1,62.5l2.7,.3-2.5-.6-2.7-.3z"/>
<path color="#040604" d="M300.2,61.7l2.4-.7-2.6,.6-2.5,.6z"/>
<path color="#040604" d="M264,61.4l2.6,.5-2.5-.8-2.6-.5z"/>
<path color="#040604" d="M305.4,60.3l2.4-.8-2.7,.8-2.5,.7z"/>
<path color="#040705" d="M258.8,60l2.7,.6-2.5-1-2.7-.6z"/>
<path color="#040604" d="M310.6,58.6l2.4-.9-2.8,.9-2.4,.9z"/>
<path color="#040805" d="M253.5,58.2l2.8,.8-2.5-1.2-2.7-.8z"/>
<path color="#040604" d="M315.8,56.5l2.4-1.1-2.8,1.2-2.4,1.1z"/>
<path color="#040904" d="M248.3,56l2.8,1-2.4-1.3-2.8-1z"/>
<path color="#040604" d="M282.1,63.7l2.5-.1-5.1,0z"/>
<path color="#040604" d="M287.3,63.5l2.5-.2-2.6,.2-2.6,.1z"/>
<path color="#040604" d="M276.9,63.5l2.6,.1-5.2-.4z"/>
<path color="#040604" d="M292.5,63l2.5-.3-2.7,.3-2.5,.3z"/>
<path color="#040604" d="M271.7,62.9l2.6,.3-2.5-.4-2.7-.3z"/>
<path color="#040604" d="M297.7,62.2l2.5-.5-2.7,.5-2.5,.5z"/>
<path color="#040604" d="M266.5,62l2.6,.5-2.5-.6-2.6-.5z"/>
<path color="#040604" d="M302.9,60.9l2.5-.6-2.8,.7-2.4,.7z"/>
<path color="#040604" d="M261.2,60.8l2.8,.6-2.5-.8-2.7-.6z"/>
<path color="#040604" d="M308.1,59.4l2.5-.8-2.8,.9-2.4,.8z"/>
<path color="#040604" d="M256,59.2l2.8,.8-2.5-1-2.8-.8z"/>
<path color="#040604" d="M313.4,57.5l2.4-1-2.8,1.2-2.4,.9z"/>
<path color="#040604" d="M250.8,57.2l2.7,1-2.4-1.2-2.8-1z"/>
<path color="#040604" d="M284.7,63.6l2.6-.1-2.7,.1-2.5,.1z"/>
<path color="#040604" d="M279.5,63.6l2.6,.1-5.2-.2z"/>
<path color="#040604" d="M289.9,63.2l2.6-.2-2.7,.3-2.5,.2z"/>
<path color="#040604" d="M274.2,63.2l2.7,.3-5.2-.6z"/>
<path color="#040604" d="M295.1,62.5l2.6-.3-2.7,.5-2.5,.3z"/>
<path color="#040604" d="M269,62.5l2.7,.4-2.6-.4-2.6-.5z"/>
<path color="#040604" d="M300.4,61.5l2.5-.6-2.7,.8-2.5,.5z"/>
<path color="#040604" d="M263.8,61.4l2.7,.6-2.5-.6-2.8-.6z"/>
<path color="#040604" d="M305.6,60.1l2.5-.7-2.7,.9-2.5,.6z"/>
<path color="#040604" d="M258.5,60l2.7,.8-2.4-.8-2.8-.8z"/>
<path color="#040604" d="M310.9,58.3l2.5-.8-2.8,1.1-2.5,.8z"/>
<path color="#040604" d="M253.2,58.2l2.8,1-2.5-1-2.7-1z"/>
<path color="#040604" d="M282.1,63.5l2.6,.1-2.6,.1-2.6-.1z"/>
<path color="#040604" d="M287.3,63.3l2.6-.1-2.6,.3-2.6,.1z"/>
<path color="#040604" d="M276.8,63.3l2.7,.3-2.6-.1-2.7-.3z"/>
<path color="#040604" d="M292.6,62.8l2.5-.3-2.6,.5-2.6,.2z"/>
<path color="#040604" d="M271.6,62.8l2.6,.4-2.5-.3-2.7-.4z"/>
<path color="#040604" d="M297.8,61.9l2.6-.4-2.7,.7-2.6,.3z"/>
<path color="#040604" d="M266.3,61.9l2.7,.6-2.5-.5-2.7-.6z"/>
<path color="#040604" d="M303.1,60.6l2.5-.5-2.7,.8-2.5,.6z"/>
<path color="#040604" d="M261,60.7l2.8,.7-2.6-.6-2.7-.8z"/>
<path color="#040604" d="M308.4,59l2.5-.7-2.8,1.1-2.5,.7z"/>
<path color="#040604" d="M255.7,59.1l2.8,.9-2.5-.8-2.8-1z"/>
<path color="#040604" d="M284.7,63.2l2.6,.1-2.6,.3-2.6-.1z"/>
<path color="#040604" d="M279.4,63.3l2.7,.2-2.6,.1-2.7-.3z"/>
<path color="#040604" d="M290,62.8l2.6,0-2.7,.4-2.6,.1z"/>
<path color="#040604" d="M274.1,62.9l2.7,.4-2.6-.1-2.6-.4z"/>
<path color="#040604" d="M295.3,62.1l2.5-.2-2.7,.6-2.5,.3z"/>
<path color="#040604" d="M268.8,62.3l2.8,.5-2.6-.3-2.7-.6z"/>
<path color="#040604" d="M300.6,61l2.5-.4-2.7,.9-2.6,.4z"/>
<path color="#040604" d="M263.5,61.2l2.8,.7-2.5-.5-2.8-.7z"/>
<path color="#040704" d="M305.9,59.5l2.5-.5-2.8,1.1-2.5,.5z"/>
<path color="#040604" d="M258.2,59.8l2.8,.9-2.5-.7-2.8-.9z"/>
<path color="#040704" d="M282.1,63l2.6,.2-2.6,.3-2.7-.2z"/>
<path color="#040704" d="M276.8,62.9l2.6,.4-2.6,0-2.7-.4z"/>
<path color="#040805" d="M287.4,62.8l2.6,0-2.7,.5-2.6-.1z"/>
<path color="#040604" d="M271.4,62.4l2.7,.5-2.5-.1-2.8-.5z"/>
<path color="#040905" d="M292.7,62.2l2.6-.1-2.7,.7-2.6,0z"/>
<path color="#040604" d="M266.1,61.6l2.7,.7-2.5-.4-2.8-.7z"/>
<path color="#040905" d="M298,61.3l2.6-.3-2.8,.9-2.5,.2z"/>
<path color="#040604" d="M260.8,60.3l2.7,.9-2.5-.5-2.8-.9z"/>
<path color="#040a04" d="M303.4,60l2.5-.5-2.8,1.1-2.5,.4z"/>
<path color="#040b05" d="M279.4,62.7l2.7,.3-2.7,.3-2.6-.4z"/>
<path color="#040c06" d="M284.8,62.6l2.6,.2-2.7,.4-2.6-.2z"/>
<path color="#040905" d="M274.1,62.4l2.7,.5-2.7,0-2.7-.5z"/>
<path color="#040e06" d="M290.1,62.2l2.6,0-2.7,.6-2.6,0z"/>
<path color="#040804" d="M268.7,61.7l2.7,.7-2.6-.1-2.7-.7z"/>
<path color="#040f05" d="M295.5,61.4l2.5-.1-2.7,.8-2.6,.1z"/>
<path color="#040704" d="M263.3,60.7l2.8,.9-2.6-.4-2.7-.9z"/>
<path color="#040f04" d="M300.8,60.3l2.6-.3-2.8,1-2.6,.3z"/>
<path color="#041305" d="M282.1,62.3l2.7,.3-2.7,.4-2.7-.3z"/>
<path color="#041105" d="M276.7,62.2l2.7,.5-2.6,.2-2.7-.5z"/>
<path color="#041505" d="M287.5,62l2.6,.2-2.7,.6-2.6-.2z"/>
<path color="#040e04" d="M271.3,61.7l2.8,.7-2.7,0-2.7-.7z"/>
<path color="#041604" d="M292.8,61.4l2.7,0-2.8,.8-2.6,0z"/>
<path color="#040c04" d="M265.9,60.9l2.8,.8-2.6-.1-2.8-.9z"/>
<path color="#061704" d="M298.2,60.4l2.6-.1-2.8,1-2.5,.1z"/>
<path color="#051a04" d="M279.4,61.8l2.7,.5-2.7,.4-2.7-.5z"/>
<path color="#051c04" d="M284.8,61.7l2.7,.3-2.7,.6-2.7-.3z"/>
<path color="#051804" d="M274,61.6l2.7,.6-2.6,.2-2.8-.7z"/>
<path color="#061e04" d="M290.2,61.3l2.6,.1-2.7,.8-2.6-.2z"/>
<path color="#061504" d="M268.5,60.9l2.8,.8-2.6,0-2.8-.8z"/>
<path color="#091f04" d="M295.6,60.4l2.6,0-2.7,1-2.7,0z"/>
<path color="#0a2404" d="M282.1,61.3l2.7,.4-2.7,.6-2.7-.5z"/>
<path color="#092104" d="M276.6,61.2l2.8,.6-2.7,.4-2.7-.6z"/>
<path color="#0b2504" d="M287.5,61l2.7,.3-2.7,.7-2.7-.3z"/>
<path color="#0a1f04" d="M271.2,60.8l2.8,.8-2.7,.1-2.8-.8z"/>
<path color="#0d2604" d="M293,60.3l2.6,.1-2.8,1-2.6-.1z"/>
<path color="#102a04" d="M279.3,60.7l2.8,.6-2.7,.5-2.8-.6z"/>
<path color="#112c04" d="M284.8,60.5l2.7,.5-2.7,.7-2.7-.4z"/>
<path color="#102804" d="M273.9,60.5l2.7,.7-2.6,.4-2.8-.8z"/>
<path color="#142d04" d="M290.3,60l2.7,.3-2.8,1-2.7-.3z"/>
<path color="#1a3204" d="M282.1,60l2.7,.5-2.7,.8-2.8-.6z"/>
<path color="#193104" d="M276.6,59.9l2.7,.8-2.7,.5-2.7-.7z"/>
<path color="#1c3304" d="M287.6,59.6l2.7,.4-2.8,1-2.7-.5z"/>
<path color="#243804" d="M279.3,59.2l2.8,.8-2.8,.7-2.7-.8z"/>
<path color="#263904" d="M284.9,59.1l2.7,.5-2.8,.9-2.7-.5z"/>
<path color="#323e04" d="M282.1,58.3l2.8,.8-2.8,.9-2.8-.8z"/>
</g>
<circle cx="217.9" cy="27.9" r="1.3" fill="#c81414"/>
<circle cx="281.8" cy="20.6" r="1.3" fill="#c81414"/>
<circle cx="281.8" cy="58.8" r="1.3" fill="#c81414"/>
<circle cx="346.4" cy="33.2" r="1.3" fill="#c81414"/>
<text transform="translate(206.4,57.1) rotate(-90)" font-size="6.75" text-anchor="middle">Tool shaft torque/Nm</text>
<text x="281.3" y="134.2" class="tk3" text-anchor="end">310</text>
<text x="264.3" y="126.6" class="tk3" text-anchor="end">315</text>
<text x="248.3" y="119.4" class="tk3" text-anchor="end">320</text>
<text x="233.3" y="112.6" class="tk3" text-anchor="end">325</text>
<text x="219.1" y="106.2" class="tk3" text-anchor="end">330</text>
<text x="285.1" y="134.1" class="tk3" text-anchor="start">150</text>
<text x="301.5" y="126.4" class="tk3" text-anchor="start">155</text>
<text x="316.8" y="119.2" class="tk3" text-anchor="start">160</text>
<text x="331.2" y="112.4" class="tk3" text-anchor="start">165</text>
<text x="344.8" y="106" class="tk3" text-anchor="start">170</text>
<path d="M282.1,129.3l-.9,1.5M265.4,121.8l-.9,1.5M249.7,114.7l-.9,1.5M235,108l-.9,1.5M221.1,101.7l-.9,1.5M282.1,129.3l.9,1.5M298.8,121.7l.9,1.5M314.4,114.6l.9,1.5M329.1,107.9l.9,1.5M343,101.7l.9,1.5" stroke="#444" stroke-width=".5"/>
<text transform="translate(325.1,122.7) rotate(-27.9)" font-size="5.45" text-anchor="middle" y="1.5">A:Turning radius/mm</text>
<text transform="translate(238.1,122.3) rotate(29)" font-size="5.5" text-anchor="middle" y="1.5">C:Working width/mm</text>
</g>
<g>
<path d="M407.9,78.6L468.6,57.5L529.5,78.5M407.3,67.1L468.6,47.2L530.1,67M406.6,55.4L468.6,36.6L530.8,55.3M406,43.4L468.6,25.9L531.4,43.3M405.3,31.2L468.6,15L532.1,31.1M404.6,18.7L468.6,3.9L532.8,18.6M421.3,74L418.8,15.4M434,69.5L432.3,12.3M446.1,65.3L445,9.4M457.6,61.3L457.1,6.6M468.6,57.5L468.6,3.9M529.5,78.5L532.8,18.6M512.8,72.8L515.1,14.6M497.2,67.4L498.6,10.8M482.5,62.3L483.1,7.2" fill="none" stroke="#737373" stroke-width=".5"/>
<path d="M409,99.3L404.6,18.7M468.6,76.1L468.6,3.9M528.4,99.2L532.8,18.6" fill="none" stroke="#444" stroke-width=".55"/>
<path d="M468.9,129.3 528.4,99.2 468.6,76.1 409,99.3Z" fill="#fdf512" stroke="#6a6a30" stroke-width=".35"/>
<path d="M435.4,112.5l1.5,.8" fill="none" stroke="#585816" stroke-width=".55"/>
<path d="M515.1,94.1l-2-.3-2.1-.4-1-.2-1.1-.2-2-.4-1.9-.4-1.6-.4-.3-.1-1.8-.5-1.7-.5-1.6-.6-1.5-.6-1.4-.6-2.6-1.3-.2-.2-.9-.6-1.1-.7-1-.8-1.9-1.9M417.7,103.7l3.6,.3 .3,.1 2.1,.2 2,.3 .3,0 2.2,.3 1.9,.4 .3,0 2.2,.4 2,.4 2,.5 1.9,.5 1.8,.6 1.7,.6 1.6,.6 1.5,.7 1.5,.8 1.3,.8 1.2,.8 1.2,1 1.1,.9 .2,.3 .7,.7 .9,1.1 .7,.9 .2,.2 .7,1.2 .6,.9 .1,.3 .7,1.2 .2,.7 .3,.6 .6,1.4 0,.1" fill="none" stroke="#585816" stroke-width=".55"/>
<path d="M527.5,98.8l-1.2,0-2.3-.2-.4,0-2.7-.1-.4-.1-2.2-.1-1.4-.1-1.2-.1-2.3-.1-.3,0-2.6-.2-.8-.1-1.7-.1-2-.2-.5,0-2.5-.3-1-.1-1.4-.1-2.3-.3-.5-.1-1.7-.2-2.2-.4-2-.4-2-.5-1.7-.5-1.6-.5-1.5-.7-1.3-.7-1.1-.8-.6-.5-1.2-1.2-.6-.9-.6-1-.5-1-.2-.6-.1-.4-.3-.9 0-.1-.3-1.1-.2-1 0-.1-.1-1 0-.2-.1-.9 0-.2-.1-.8 0-.3M410.7,100.2l3.2,0 1.7,.1 2.8,0 1.8,.1 1,0 2.2,.1 .6,0 2.6,.1 .1,0 2.7,.1 .5,0 2.2,.1 1.2,.1 1.5,.1 2,.1 .6,.1 2.5,.1 .5,.1 2,.2 1.8,.2 .6,0 2.3,.3 1.4,.3 .8,.1 2.1,.4 1.9,.4 1.1,.4 .8,.2 1.6,.6 1.5,.7 1.3,.8 .4,.2 .8,.6 1,1 .8,1 .1,.1 .7,1 .5,1.1 .1,.1 .5,1.2 .2,.5 .2,.7 .3,1.1 .1,.3 .3,1.3 0,.1 .3,1.4 .1,.3 .2,1.1 0,.6 .2,.9 0,.8 .1,.7 .1,1.1 .1,.5 .1,1.2 0,.3 .1,1.4 .1,.2 .1,1.6" fill="none" stroke="#5d7f3e" stroke-width=".55"/>
<path d="M522.2,102.3l-.8,0-2.3,.1-.7,0-2.5,.1-.3,0-2.8,.1-.1,0-2.7,.1-.7,0-2,.1-1.4,.1-1.2,.1-2.5,.2-4.8,.6-2.2,.3-1.7,.4-.3,.1-2,.4-1.8,.6-1.6,.6-1.5,.7-1.4,.8-1.2,.8-1,.9-1,1-.8,1.1-.6,.8-.2,.3-.7,1.1-.3,.7-.3,.5-.5,1.3-.1,.2-.4,1.1-.2,.8-.2,.5-.4,1.4-.3,1.4-.1,.5-.4,1.8-.1,.6-.2,1.3M414,97.4l2.8-.1 .4,0 2.4-.1 .9-.1 1.8,0 1.4-.1 1.4,0 1.9-.1 .8-.1 2.6-.1 2.7-.1 .7-.1 1.9-.1 1.6-.1 .9-.1 2.5-.2 .2,0 2.3-.2 2.4-.3 2.2-.2 1.3-.2 .9-.2 2.1-.4 2-.4 .6-.1 1.2-.4 1.7-.5 1.5-.6 1.4-.6 1.3-.7 1-.6 .1-.1 1.1-.8 .9-.8 .8-.8 .8-.9 .5-.7 .1-.2 .6-.8 .3-.6 .3-.3 .5-1 .1-.1 .7-1.4 .1-.3 .4-.9 .1-.1 .3-.8 .2-.5 .2-.4 .3-.9 .4-.9" fill="none" stroke="#69d496" stroke-width=".55"/>
<path d="M511.1,107.9l-.4,.1-2.1,.4-2,.5-1.1,.3-.9,.2-1.8,.6-1.7,.6-1.7,.7-3,1.4-1.3,.8-1.3,.9-1.2,.9-.9,.8-1.2,1.2-.9,1-.7,.9M422.8,94l1.5-.2 2.3-.2 .1-.1 2.2-.2 2-.3 .3,0 2.2-.3 2.1-.3 .1-.1 2.1-.3 2-.4 1.2-.3 .7-.1 1.9-.4 1.8-.5 3.4-1 3-1.2 1.4-.6 1.3-.6 2.4-1.4 1.1-.7 .6-.5 .4-.2 .9-.8 .9-.7 .4-.4 .5-.4 .7-.8 .8-.8 .7-.8 .5-.6 .1-.2 .7-.8 .3-.4" fill="none" stroke="#69d496" stroke-width=".55"/>
<path d="M437.3,88.3l.4-.1 1.8-.5 1.6-.5 1.7-.5 1.5-.5 1.5-.6 2.8-1.2 1.3-.6 1.2-.6 1.2-.7 .2-.1" fill="none" stroke="#69d496" stroke-width=".55"/>
<text x="405.1" y="79.7" class="tk3" text-anchor="end">120</text>
<text x="404.5" y="67.9" class="tk3" text-anchor="end">140</text>
<text x="403.8" y="55.8" class="tk3" text-anchor="end">160</text>
<text x="403.2" y="43.4" class="tk3" text-anchor="end">180</text>
<text x="402.5" y="30.9" class="tk3" text-anchor="end">200</text>
<text x="401.8" y="18" class="tk3" text-anchor="end">220</text>
<path d="M407.9,78.6h-2.2M407.3,67.1h-2.2M406.6,55.4h-2.2M406,43.4h-2.2M405.3,31.2h-2.2M404.6,18.7h-2.2" stroke="#444" stroke-width=".5"/>
<g class="sf">
<path color="#04432c" d="M468.6,35.5l2.1,.8-2.1-2.8-2.1-.8z"/>
<path color="#043f3c" d="M470.8,38.2l2.1,.8-2.2-2.7-2.1-.8z"/>
<path color="#04333a" d="M472.9,40.7l2.1,.9-2.1-2.6-2.1-.8z"/>
<path color="#044921" d="M466.5,34.8l2.1,.7-2.1-2.8-2.1-.7z"/>
<path color="#044635" d="M468.6,37.5l2.2,.7-2.2-2.7-2.1-.7z"/>
<path color="#072935" d="M475.1,43.1l2.1,.8-2.2-2.3-2.1-.9z"/>
<path color="#044f16" d="M464.3,34.3l2.2,.5-2.1-2.8-2.2-.6z"/>
<path color="#044041" d="M470.8,40.1l2.1,.6-2.1-2.5-2.2-.7z"/>
<path color="#0b222f" d="M477.2,45.3l2.1,.9-2.1-2.3-2.1-.8z"/>
<path color="#044d2d" d="M466.5,37l2.1,.5-2.1-2.7-2.2-.5z"/>
<path color="#04343d" d="M473,42.4l2.1,.7-2.2-2.4-2.1-.6z"/>
<path color="#0d1c28" d="M479.4,47.4l2.1,.8-2.2-2-2.1-.9z"/>
<path color="#04550a" d="M462.1,33.9l2.2,.4-2.1-2.9-2.2-.4z"/>
<path color="#044a40" d="M468.6,39.5l2.2,.6-2.2-2.6-2.1-.5z"/>
<path color="#082b38" d="M475.1,44.7l2.1,.6-2.1-2.2-2.1-.7z"/>
<path color="#0d1620" d="M481.7,49.4l2,.8-2.2-2-2.1-.8z"/>
<path color="#045323" d="M464.3,36.6l2.2,.4-2.2-2.7-2.2-.4z"/>
<path color="#044245" d="M470.8,41.9l2.2,.5-2.2-2.3-2.2-.6z"/>
<path color="#0b2432" d="M477.3,46.7l2.1,.7-2.2-2.1-2.1-.6z"/>
<path color="#0a0f17" d="M483.9,51.1l2.1,.9-2.3-1.8-2-.8z"/>
<path color="#0a5a04" d="M459.9,33.6l2.2,.3-2.1-2.9-2.2-.3z"/>
<path color="#055139" d="M466.5,39.1l2.1,.4-2.1-2.5-2.2-.4z"/>
<path color="#053541" d="M473,44.1l2.1,.6-2.1-2.3-2.2-.5z"/>
<path color="#0d1d2b" d="M479.6,48.7l2.1,.7-2.3-2-2.1-.7z"/>
<path color="#055919" d="M462.1,36.3l2.2,.3-2.2-2.7-2.2-.3z"/>
<path color="#054f4b" d="M468.6,41.5l2.2,.4-2.2-2.4-2.1-.4z"/>
<path color="#070a0f" d="M486.1,52.8l2.1,.8-2.2-1.6-2.1-.9z"/>
<path color="#092d3c" d="M475.2,46.2l2.1,.5-2.2-2-2.1-.6z"/>
<path color="#146004" d="M457.7,33.4l2.2,.2-2.1-2.9-2.3-.1z"/>
<path color="#055831" d="M464.3,38.8l2.2,.3-2.2-2.5-2.2-.3z"/>
<path color="#0d1722" d="M481.8,50.5l2.1,.6-2.2-1.7-2.1-.7z"/>
<path color="#05434a" d="M470.8,43.7l2.2,.4-2.2-2.2-2.2-.4z"/>
<path color="#050708" d="M488.4,54.3l2.1,.8-2.3-1.5-2.1-.8z"/>
<path color="#0c2636" d="M477.4,48.1l2.2,.6-2.3-2-2.1-.5z"/>
<path color="#055f0f" d="M459.9,36.1l2.2,.2-2.2-2.7-2.2-.2z"/>
<path color="#055645" d="M466.5,41.2l2.1,.3-2.1-2.4-2.2-.3z"/>
<path color="#0b1119" d="M484,52.1l2.1,.7-2.2-1.7-2.1-.6z"/>
<path color="#053746" d="M473.1,45.8l2.1,.4-2.2-2.1-2.2-.4z"/>
<path color="#1e6504" d="M455.4,33.4l2.3,0-2.2-2.8-2.2,0z"/>
<path color="#055e28" d="M462,38.7l2.3,.1-2.2-2.5-2.2-.2z"/>
<path color="#0d1f2e" d="M479.7,49.9l2.1,.6-2.2-1.8-2.2-.6z"/>
<path color="#040604" d="M490.7,55.6l2.1,.9-2.3-1.4-2.1-.8z"/>
<path color="#055152" d="M468.7,43.4l2.1,.3-2.2-2.2-2.1-.3z"/>
<path color="#056505" d="M457.6,36.1l2.3,0-2.2-2.7-2.3,0z"/>
<path color="#080b10" d="M486.3,53.6l2.1,.7-2.3-1.5-2.1-.7z"/>
<path color="#0a3040" d="M475.3,47.7l2.1,.4-2.2-1.9-2.1-.4z"/>
<path color="#055d3f" d="M464.2,41.1l2.3,.1-2.2-2.4-2.3-.1z"/>
<path color="#0d1825" d="M481.9,51.5l2.1,.6-2.2-1.6-2.1-.6z"/>
<path color="#05444e" d="M470.9,45.5l2.2,.3-2.3-2.1-2.1-.3z"/>
<path color="#276a04" d="M453.2,33.6l2.2-.2-2.1-2.8-2.3,.1z"/>
<path color="#040604" d="M493,56.9l2.1,.8-2.3-1.2-2.1-.9z"/>
<path color="#056421" d="M459.8,38.7l2.2,0-2.1-2.6-2.3,0z"/>
<path color="#0c293a" d="M477.5,49.5l2.2,.4-2.3-1.8-2.1-.4z"/>
<path color="#050808" d="M488.6,54.9l2.1,.7-2.3-1.3-2.1-.7z"/>
<path color="#055b53" d="M466.4,43.3l2.3,.1-2.2-2.2-2.3-.1z"/>
<path color="#0c6a04" d="M455.3,36.3l2.3-.2-2.2-2.7-2.2,.2z"/>
<path color="#073a4a" d="M473.1,47.4l2.2,.3-2.2-1.9-2.2-.3z"/>
<path color="#0b121b" d="M484.2,53l2.1,.6-2.3-1.5-2.1-.6z"/>
<path color="#066439" d="M462,41l2.2,.1-2.2-2.4-2.2,0z"/>
<path color="#040604" d="M495.4,57.9l2,.9-2.3-1.1-2.1-.8z"/>
<path color="#2f6f04" d="M450.9,33.8l2.3-.2-2.2-2.9-2.3,.3z"/>
<path color="#065257" d="M468.7,45.4l2.2,.1-2.2-2.1-2.3-.1z"/>
<path color="#0d2131" d="M479.8,51.1l2.1,.4-2.2-1.6-2.2-.4z"/>
<path color="#066a19" d="M457.5,38.8l2.3-.1-2.2-2.6-2.3,.2z"/>
<path color="#040604" d="M490.9,56.1l2.1,.8-2.3-1.3-2.1-.7z"/>
<path color="#0a3344" d="M475.4,49.2l2.1,.3-2.2-1.8-2.2-.3z"/>
<path color="#06634f" d="M464.2,43.3l2.2,0-2.2-2.2-2.2-.1z"/>
<path color="#080c11" d="M486.5,54.4l2.1,.5-2.3-1.3-2.1-.6z"/>
<path color="#136f05" d="M453.1,36.5l2.2-.2-2.1-2.7-2.3,.2z"/>
<path color="#040604" d="M497.7,58.9l2.1,.8-2.4-.9-2-.9z"/>
<path color="#064653" d="M470.9,47.3l2.2,.1-2.2-1.9-2.2-.1z"/>
<path color="#066a34" d="M459.7,41.2l2.3-.2-2.2-2.3-2.3,.1z"/>
<path color="#0d1a28" d="M482.1,52.6l2.1,.4-2.3-1.5-2.1-.4z"/>
<path color="#357305" d="M448.6,34.3l2.3-.5-2.2-2.8-2.3,.4z"/>
<path color="#040604" d="M493.3,57.2l2.1,.7-2.4-1-2.1-.8z"/>
<path color="#06605e" d="M466.4,45.3l2.3,.1-2.3-2.1-2.2,0z"/>
<path color="#0d2b3d" d="M477.6,50.8l2.2,.3-2.3-1.6-2.1-.3z"/>
<path color="#066f13" d="M455.2,39.1l2.3-.3-2.2-2.5-2.2,.2z"/>
<path color="#050808" d="M488.8,55.6l2.1,.5-2.3-1.2-2.1-.5z"/>
<path color="#06694b" d="M461.9,43.4l2.3-.1-2.2-2.3-2.3,.2z"/>
<path color="#083d4f" d="M473.2,49l2.2,.2-2.3-1.8-2.2-.1z"/>
<path color="#187405" d="M450.7,37l2.4-.5-2.2-2.7-2.3,.5z"/>
<path color="#040604" d="M500.1,59.7l2,.8-2.3-.8-2.1-.8z"/>
<path color="#0b131d" d="M484.4,53.9l2.1,.5-2.3-1.4-2.1-.4z"/>
<path color="#06702f" d="M457.4,41.5l2.3-.3-2.2-2.4-2.3,.3z"/>
<path color="#06535c" d="M468.7,47.3l2.2,0-2.2-1.9-2.3-.1z"/>
<path color="#3a7805" d="M446.2,34.8l2.4-.5-2.2-2.9-2.4,.6z"/>
<path color="#040604" d="M495.7,58.1l2,.8-2.3-1-2.1-.7z"/>
<path color="#0d2435" d="M479.9,52.3l2.2,.3-2.3-1.5-2.2-.3z"/>
<path color="#07685f" d="M464.2,45.5l2.2-.2-2.2-2-2.3,.1z"/>
<path color="#07750f" d="M452.9,39.5l2.3-.4-2.1-2.6-2.4,.5z"/>
<path color="#040604" d="M491.2,56.6l2.1,.6-2.4-1.1-2.1-.5z"/>
<path color="#0b3649" d="M475.4,50.7l2.2,.1-2.2-1.6-2.2-.2z"/>
<path color="#077048" d="M459.7,43.7l2.2-.3-2.2-2.2-2.3,.3z"/>
<path color="#080d12" d="M486.7,55.1l2.1,.5-2.3-1.2-2.1-.5z"/>
<path color="#1c7805" d="M448.4,37.6l2.3-.6-2.1-2.7-2.4,.5z"/>
<path color="#074858" d="M470.9,49l2.3,0-2.3-1.7-2.2,0z"/>
<path color="#040604" d="M502.5,60.3l2.1,.9-2.5-.7-2-.8z"/>
<path color="#0c1c2a" d="M482.2,53.6l2.2,.3-2.3-1.3-2.2-.3z"/>
<path color="#07752c" d="M455.1,41.9l2.3-.4-2.2-2.4-2.3,.4z"/>
<path color="#040604" d="M498.1,58.9l2,.8-2.4-.8-2-.8z"/>
<path color="#076064" d="M466.4,47.4l2.3-.1-2.3-2-2.2,.2z"/>
<path color="#3c7c05" d="M443.9,35.6l2.3-.8-2.2-2.8-2.3,.7z"/>
<path color="#0d2e41" d="M477.7,52.1l2.2,.2-2.3-1.5-2.2-.1z"/>
<path color="#040604" d="M493.6,57.6l2.1,.5-2.4-.9-2.1-.6z"/>
<path color="#077a0c" d="M450.6,40.1l2.3-.6-2.2-2.5-2.3,.6z"/>
<path color="#076f5e" d="M461.9,45.8l2.3-.3-2.3-2.1-2.2,.3z"/>
<path color="#094054" d="M473.2,50.7l2.2,0-2.2-1.7-2.3,0z"/>
<path color="#050809" d="M489.1,56.2l2.1,.4-2.4-1-2.1-.5z"/>
<path color="#1e7d05" d="M446,38.3l2.4-.7-2.2-2.8-2.3,.8z"/>
<path color="#077646" d="M457.4,44.1l2.3-.4-2.3-2.2-2.3,.4z"/>
<path color="#050706" d="M505,60.9l2,.9-2.4-.6-2.1-.9z"/>
<path color="#075461" d="M468.7,49.2l2.2-.2-2.2-1.7-2.3,.1z"/>
<path color="#0b151f" d="M484.6,54.8l2.1,.3-2.3-1.2-2.2-.3z"/>
<path color="#077b2b" d="M452.8,42.5l2.3-.6-2.2-2.4-2.3,.6z"/>
<path color="#3d8005" d="M441.5,36.4l2.4-.8-2.2-2.9-2.4,.9z"/>
<path color="#040604" d="M500.5,59.6l2,.7-2.4-.6-2-.8z"/>
<path color="#086b6b" d="M464.1,47.7l2.3-.3-2.2-1.9-2.3,.3z"/>
<path color="#0d2738" d="M480,53.5l2.2,.1-2.3-1.3-2.2-.2z"/>
<path color="#040604" d="M496,58.3l2.1,.6-2.4-.8-2.1-.5z"/>
<path color="#077e0c" d="M448.2,40.8l2.4-.7-2.2-2.5-2.4,.7z"/>
<path color="#0c394d" d="M475.5,52.1l2.2,0-2.3-1.4-2.2,0z"/>
<path color="#08765d" d="M459.6,46.2l2.3-.4-2.2-2.1-2.3,.4z"/>
<path color="#040605" d="M491.4,57.1l2.2,.5-2.4-1-2.1-.4z"/>
<path color="#1d8105" d="M443.7,39.2l2.3-.9-2.1-2.7-2.4,.8z"/>
<path color="#084a5d" d="M471,50.8l2.2-.1-2.3-1.7-2.2,.2z"/>
<path color="#087c46" d="M455,44.7l2.4-.6-2.3-2.2-2.3,.6z"/>
<path color="#080e13" d="M486.9,55.9l2.2,.3-2.4-1.1-2.1-.3z"/>
<path color="#07090d" d="M507.5,61.3l2,.9-2.5-.4-2-.9z"/>
<path color="#086069" d="M466.4,49.5l2.3-.3-2.3-1.8-2.3,.3z"/>
<path color="#3a8405" d="M439.1,37.5l2.4-1.1-2.2-2.8-2.4,1z"/>
<path color="#08802b" d="M450.5,43.2l2.3-.7-2.2-2.4-2.4,.7z"/>
<path color="#0c1f2d" d="M482.4,54.7l2.2,.1-2.4-1.2-2.2-.1z"/>
<path color="#040604" d="M502.9,60.1l2.1,.8-2.5-.6-2-.7z"/>
<path color="#087571" d="M461.8,48.1l2.3-.4-2.2-1.9-2.3,.4z"/>
<path color="#0d3146" d="M477.8,53.5l2.2,0-2.3-1.4-2.2,0z"/>
<path color="#040604" d="M498.4,59l2.1,.6-2.4-.7-2.1-.6z"/>
<path color="#08830e" d="M445.9,41.7l2.3-.9-2.2-2.5-2.3,.9z"/>
<path color="#087c5f" d="M457.3,46.8l2.3-.6-2.2-2.1-2.4,.6z"/>
<path color="#0b4358" d="M473.3,52.3l2.2-.2-2.3-1.4-2.2,.1z"/>
<path color="#040604" d="M493.9,57.9l2.1,.4-2.4-.7-2.2-.5z"/>
<path color="#1a8505" d="M441.3,40.2l2.4-1-2.2-2.8-2.4,1.1z"/>
<path color="#098148" d="M452.7,45.5l2.3-.8-2.2-2.2-2.3,.7z"/>
<path color="#050909" d="M489.3,56.8l2.1,.3-2.3-.9-2.2-.3z"/>
<path color="#085667" d="M468.7,51.1l2.3-.3-2.3-1.6-2.3,.3z"/>
<path color="#368705" d="M436.7,38.7l2.4-1.2-2.2-2.9-2.4,1.2z"/>
<path color="#0a0d15" d="M510,61.5l2,1-2.5-.3-2-.9z"/>
<path color="#0a1721" d="M484.7,55.7l2.2,.2-2.3-1.1-2.2-.1z"/>
<path color="#09852f" d="M448.1,44.1l2.4-.9-2.3-2.4-2.3,.9z"/>
<path color="#096b71" d="M464.1,49.9l2.3-.4-2.3-1.8-2.3,.4z"/>
<path color="#050707" d="M505.4,60.5l2.1,.8-2.5-.4-2.1-.8z"/>
<path color="#0d2a3c" d="M480.2,54.6l2.2,.1-2.4-1.2-2.2,0z"/>
<path color="#097c74" d="M459.5,48.7l2.3-.6-2.2-1.9-2.3,.6z"/>
<path color="#098714" d="M443.5,42.8l2.4-1.1-2.2-2.5-2.4,1z"/>
<path color="#040604" d="M500.9,59.5l2,.6-2.4-.5-2.1-.6z"/>
<path color="#0d3c52" d="M475.6,53.6l2.2-.1-2.3-1.4-2.2,.2z"/>
<path color="#098262" d="M454.9,47.5l2.4-.7-2.3-2.1-2.3,.8z"/>
<path color="#158905" d="M438.8,41.4l2.5-1.2-2.2-2.7-2.4,1.2z"/>
<path color="#040604" d="M496.3,58.5l2.1,.5-2.4-.7-2.1-.4z"/>
<path color="#0a4d63" d="M471,52.5l2.3-.2-2.3-1.5-2.3,.3z"/>
<path color="#09864c" d="M450.3,46.3l2.4-.8-2.2-2.3-2.4,.9z"/>
<path color="#040605" d="M491.7,57.5l2.2,.4-2.5-.8-2.1-.3z"/>
<path color="#2e8b05" d="M434.2,40l2.5-1.3-2.2-2.9-2.5,1.3z"/>
<path color="#09606f" d="M466.4,51.5l2.3-.4-2.3-1.6-2.3,.4z"/>
<path color="#080f14" d="M487.1,56.6l2.2,.2-2.4-.9-2.2-.2z"/>
<path color="#098935" d="M445.7,45.2l2.4-1.1-2.2-2.4-2.4,1.1z"/>
<path color="#0e101e" d="M512.5,61.7l2,.9-2.5-.1-2-1z"/>
<path color="#0a7478" d="M461.8,50.5l2.3-.6-2.3-1.8-2.3,.6z"/>
<path color="#0c2130" d="M482.5,55.7l2.2,0-2.3-1-2.2-.1z"/>
<path color="#098b1c" d="M441.1,44l2.4-1.2-2.2-2.6-2.5,1.2z"/>
<path color="#070a0d" d="M507.9,60.7l2.1,.8-2.5-.2-2.1-.8z"/>
<path color="#0a8278" d="M457.2,49.5l2.3-.8-2.2-1.9-2.4,.7z"/>
<path color="#0d354a" d="M477.9,54.8l2.3-.2-2.4-1.1-2.2,.1z"/>
<path color="#040604" d="M503.3,59.9l2.1,.6-2.5-.4-2-.6z"/>
<path color="#0c8d06" d="M436.4,42.7l2.4-1.3-2.1-2.7-2.5,1.3z"/>
<path color="#0a8767" d="M452.5,48.4l2.4-.9-2.2-2-2.4,.8z"/>
<path color="#0c475d" d="M473.3,53.9l2.3-.3-2.3-1.3-2.3,.2z"/>
<path color="#040604" d="M498.7,59l2.2,.5-2.5-.5-2.1-.5z"/>
<path color="#0a8b53" d="M447.9,47.4l2.4-1.1-2.2-2.2-2.4,1.1z"/>
<path color="#238e06" d="M431.8,41.5l2.4-1.5-2.2-2.9-2.4,1.5z"/>
<path color="#09576c" d="M468.7,53l2.3-.5-2.3-1.4-2.3,.4z"/>
<path color="#040604" d="M494.1,58.2l2.2,.3-2.4-.6-2.2-.4z"/>
<path color="#0a6977" d="M464.1,52.1l2.3-.6-2.3-1.6-2.3,.6z"/>
<path color="#0a8d3e" d="M443.3,46.4l2.4-1.2-2.2-2.4-2.4,1.2z"/>
<path color="#05090a" d="M489.5,57.4l2.2,.1-2.4-.7-2.2-.2z"/>
<path color="#0a7b7f" d="M459.4,51.2l2.4-.7-2.3-1.8-2.3,.8z"/>
<path color="#0a1923" d="M484.9,56.6l2.2,0-2.4-.9-2.2,0z"/>
<path color="#0a8f27" d="M438.6,45.3l2.5-1.3-2.3-2.6-2.4,1.3z"/>
<path color="#111527" d="M515.1,61.7l2,.9-2.6,0-2-.9z"/>
<path color="#0b887f" d="M454.8,50.3l2.4-.8-2.3-2-2.4,.9z"/>
<path color="#0d2d3f" d="M480.3,55.8l2.2-.1-2.3-1.1-2.3,.2z"/>
<path color="#0a900f" d="M434,44.3l2.4-1.6-2.2-2.7-2.4,1.5z"/>
<path color="#0b0f16" d="M510.5,60.9l2,.8-2.5-.2-2.1-.8z"/>
<path color="#0d4056" d="M475.7,55l2.2-.2-2.3-1.2-2.3,.3z"/>
<path color="#0b8c6f" d="M450.2,49.5l2.3-1.1-2.2-2.1-2.4,1.1z"/>
<path color="#050807" d="M505.9,60.1l2,.6-2.5-.2-2.1-.6z"/>
<path color="#169106" d="M429.3,43.2l2.5-1.7-2.2-2.9-2.5,1.7z"/>
<path color="#0c5068" d="M471,54.3l2.3-.4-2.3-1.4-2.3,.5z"/>
<path color="#0b8f5d" d="M445.5,48.6l2.4-1.2-2.2-2.2-2.4,1.2z"/>
<path color="#040604" d="M501.2,59.4l2.1,.5-2.4-.4-2.2-.5z"/>
<path color="#0a6075" d="M466.4,53.6l2.3-.6-2.3-1.5-2.3,.6z"/>
<path color="#040604" d="M496.6,58.7l2.1,.3-2.4-.5-2.2-.3z"/>
<path color="#0b914a" d="M440.8,47.7l2.5-1.3-2.2-2.4-2.5,1.3z"/>
<path color="#0b717e" d="M461.7,52.8l2.4-.7-2.3-1.6-2.4,.7z"/>
<path color="#040605" d="M492,58l2.1,.2-2.4-.7-2.2-.1z"/>
<path color="#0a9336" d="M436.2,46.8l2.4-1.5-2.2-2.6-2.4,1.6z"/>
<path color="#0b8085" d="M457.1,52.1l2.3-.9-2.2-1.7-2.4,.8z"/>
<path color="#071116" d="M487.3,57.3l2.2,.1-2.4-.8-2.2,0z"/>
<path color="#0a9321" d="M431.5,45.9l2.5-1.6-2.2-2.8-2.5,1.7z"/>
<path color="#0b8e88" d="M452.4,51.4l2.4-1.1-2.3-1.9-2.3,1.1z"/>
<path color="#0b2533" d="M482.7,56.7l2.2-.1-2.4-.9-2.2,.1z"/>
<path color="#141b2e" d="M517.7,61.5l2,1-2.6,.1-2-.9z"/>
<path color="#0a940b" d="M426.8,45l2.5-1.8-2.2-2.9-2.5,1.8z"/>
<path color="#0d394e" d="M478,56.1l2.3-.3-2.4-1-2.2,.2z"/>
<path color="#0b917a" d="M447.7,50.7l2.5-1.2-2.3-2.1-2.4,1.2z"/>
<path color="#0e151f" d="M513.1,60.8l2,.9-2.6,0-2-.8z"/>
<path color="#0d4a62" d="M473.4,55.5l2.3-.5-2.4-1.1-2.3,.4z"/>
<path color="#0b946b" d="M443.1,50l2.4-1.4-2.2-2.2-2.5,1.3z"/>
<path color="#080c0e" d="M508.4,60.2l2.1,.7-2.6-.2-2-.6z"/>
<path color="#0c5971" d="M468.7,54.9l2.3-.6-2.3-1.3-2.3,.6z"/>
<path color="#0b955a" d="M438.4,49.2l2.4-1.5-2.2-2.4-2.4,1.5z"/>
<path color="#040604" d="M503.8,59.6l2.1,.5-2.6-.2-2.1-.5z"/>
<path color="#0b687c" d="M464,54.3l2.4-.7-2.3-1.5-2.4,.7z"/>
<path color="#0b9648" d="M433.7,48.5l2.5-1.7-2.2-2.5-2.5,1.6z"/>
<path color="#040604" d="M499.1,59l2.1,.4-2.5-.4-2.1-.3z"/>
<path color="#0c7685" d="M459.4,53.7l2.3-.9-2.3-1.6-2.3,.9z"/>
<path color="#040604" d="M494.4,58.5l2.2,.2-2.5-.5-2.1-.2z"/>
<path color="#0b9636" d="M429,47.8l2.5-1.9-2.2-2.7-2.5,1.8z"/>
<path color="#0c848b" d="M454.7,53.2l2.4-1.1-2.3-1.8-2.4,1.1z"/>
<path color="#050a0a" d="M489.8,57.9l2.2,.1-2.5-.6-2.2-.1z"/>
<path color="#0c908f" d="M450,52.6l2.4-1.2-2.2-1.9-2.5,1.2z"/>
<path color="#0b9723" d="M424.3,47l2.5-2-2.2-2.9-2.5,2z"/>
<path color="#091b25" d="M485.1,57.4l2.2-.1-2.4-.7-2.2,.1z"/>
<path color="#0c9688" d="M445.3,52l2.4-1.3-2.2-2.1-2.4,1.4z"/>
<path color="#0d3143" d="M480.4,56.9l2.3-.2-2.4-.9-2.3,.3z"/>
<path color="#0c987b" d="M440.6,51.5l2.5-1.5-2.3-2.3-2.4,1.5z"/>
<path color="#0e435b" d="M475.7,56.5l2.3-.4-2.3-1.1-2.3,.5z"/>
<path color="#172235" d="M520.3,61.2l2,1-2.6,.3-2-1z"/>
<path color="#0c996d" d="M435.9,50.9l2.5-1.7-2.2-2.4-2.5,1.7z"/>
<path color="#0e536d" d="M471.1,56l2.3-.5-2.4-1.2-2.3,.6z"/>
<path color="#111c27" d="M515.7,60.7l2,.8-2.6,.2-2-.9z"/>
<path color="#0c617a" d="M466.4,55.6l2.3-.7-2.3-1.3-2.4,.7z"/>
<path color="#0c995e" d="M431.2,50.3l2.5-1.8-2.2-2.6-2.5,1.9z"/>
<path color="#0a1116" d="M511,60.2l2.1,.6-2.6,.1-2.1-.7z"/>
<path color="#0c6e84" d="M461.7,55.2l2.3-.9-2.3-1.5-2.3,.9z"/>
<path color="#0b994f" d="M426.5,49.8l2.5-2-2.2-2.8-2.5,2z"/>
<path color="#050807" d="M506.3,59.7l2.1,.5-2.5-.1-2.1-.5z"/>
<path color="#0d7a8b" d="M457,54.8l2.4-1.1-2.3-1.6-2.4,1.1z"/>
<path color="#0b9a3f" d="M421.8,49.2l2.5-2.2-2.2-2.9-2.5,2.1z"/>
<path color="#040604" d="M501.6,59.2l2.2,.4-2.6-.2-2.1-.4z"/>
<path color="#0d8590" d="M452.3,54.4l2.4-1.2-2.3-1.8-2.4,1.2z"/>
<path color="#040604" d="M496.9,58.8l2.2,.2-2.5-.3-2.2-.2z"/>
<path color="#0d8f94" d="M447.6,54l2.4-1.4-2.3-1.9-2.4,1.3z"/>
<path color="#040605" d="M492.2,58.4l2.2,.1-2.4-.5-2.2-.1z"/>
<path color="#0d9896" d="M442.9,53.6l2.4-1.6-2.2-2-2.5,1.5z"/>
<path color="#071217" d="M487.5,58l2.3-.1-2.5-.6-2.2,.1z"/>
<path color="#0d9b8f" d="M438.2,53.2l2.4-1.7-2.2-2.3-2.5,1.7z"/>
<path color="#0b2836" d="M482.8,57.7l2.3-.3-2.4-.7-2.3,.2z"/>
<path color="#0c9c84" d="M433.4,52.8l2.5-1.9-2.2-2.4-2.5,1.8z"/>
<path color="#0d3c52" d="M478.1,57.4l2.3-.5-2.4-.8-2.3,.4z"/>
<path color="#0c9c78" d="M428.7,52.3l2.5-2-2.2-2.5-2.5,2z"/>
<path color="#0e4e67" d="M473.4,57.1l2.3-.6-2.3-1-2.3,.5z"/>
<path color="#0e5b76" d="M468.7,56.8l2.4-.8-2.4-1.1-2.3,.7z"/>
<path color="#0c9c6c" d="M424,51.9l2.5-2.1-2.2-2.8-2.5,2.2z"/>
<path color="#0d6782" d="M464,56.5l2.4-.9-2.4-1.3-2.3,.9z"/>
<path color="#18283b" d="M523,60.8l2,1-2.7,.4-2-1z"/>
<path color="#0c9c5f" d="M419.3,51.5l2.5-2.3-2.2-3-2.5,2.3z"/>
<path color="#0d718a" d="M459.3,56.2l2.4-1-2.3-1.5-2.4,1.1z"/>
<path color="#12212f" d="M518.3,60.4l2,.8-2.6,.3-2-.8z"/>
<path color="#0e7b90" d="M454.6,56l2.4-1.2-2.3-1.6-2.4,1.2z"/>
<path color="#0e8395" d="M449.8,55.7l2.5-1.3-2.3-1.8-2.4,1.4z"/>
<path color="#0c171f" d="M513.6,60l2.1,.7-2.6,.1-2.1-.6z"/>
<path color="#0e8b98" d="M445.1,55.5l2.5-1.5-2.3-2-2.4,1.6z"/>
<path color="#060c0e" d="M508.9,59.6l2.1,.6-2.6,0-2.1-.5z"/>
<path color="#0e929a" d="M440.4,55.3l2.5-1.7-2.3-2.1-2.4,1.7z"/>
<path color="#040604" d="M504.2,59.3l2.1,.4-2.5-.1-2.2-.4z"/>
<path color="#0d989b" d="M435.7,55l2.5-1.8-2.3-2.3-2.5,1.9z"/>
<path color="#040604" d="M499.5,59l2.1,.2-2.5-.2-2.2-.2z"/>
<path color="#0d9d9b" d="M430.9,54.8l2.5-2-2.2-2.5-2.5,2z"/>
<path color="#040604" d="M494.8,58.7l2.1,.1-2.5-.3-2.2-.1z"/>
<path color="#0d9f96" d="M426.2,54.5l2.5-2.2-2.2-2.5-2.5,2.1z"/>
<path color="#050b0b" d="M490,58.5l2.2-.1-2.4-.5-2.3,.1z"/>
<path color="#0c9f8c" d="M421.5,54.3l2.5-2.4-2.2-2.7-2.5,2.3z"/>
<path color="#091e27" d="M485.3,58.3l2.2-.3-2.4-.6-2.3,.3z"/>
<path color="#0c9f83" d="M416.7,54l2.6-2.5-2.2-3-2.6,2.5z"/>
<path color="#0c3546" d="M480.6,58.1l2.2-.4-2.4-.8-2.3,.5z"/>
<path color="#0e475f" d="M475.8,57.9l2.3-.5-2.4-.9-2.3,.6z"/>
<path color="#0f5671" d="M471.1,57.8l2.3-.7-2.3-1.1-2.4,.8z"/>
<path color="#10627f" d="M466.4,57.7l2.3-.9-2.3-1.2-2.4,.9z"/>
<path color="#0f6b89" d="M461.6,57.6l2.4-1.1-2.3-1.3-2.4,1z"/>
<path color="#0f7390" d="M456.9,57.5l2.4-1.3-2.3-1.4-2.4,1.2z"/>
<path color="#0f7a96" d="M452.1,57.4l2.5-1.4-2.3-1.6-2.5,1.3z"/>
<path color="#0f8099" d="M447.4,57.3l2.4-1.6-2.2-1.7-2.5,1.5z"/>
<path color="#0f859c" d="M442.7,57.2l2.4-1.7-2.2-1.9-2.5,1.7z"/>
<path color="#0e899d" d="M437.9,57.1l2.5-1.8-2.2-2.1-2.5,1.8z"/>
<path color="#142c40" d="M525.8,60.3l1.9,1-2.7,.5-2-1z"/>
<path color="#0e8c9e" d="M433.2,57l2.5-2-2.3-2.2-2.5,2z"/>
<path color="#0e909e" d="M428.4,56.9l2.5-2.1-2.2-2.5-2.5,2.2z"/>
<path color="#102636" d="M521,60l2,.8-2.7,.4-2-.8z"/>
<path color="#0d939e" d="M423.7,56.9l2.5-2.4-2.2-2.6-2.5,2.4z"/>
<path color="#0d959d" d="M418.9,56.8l2.6-2.5-2.2-2.8-2.6,2.5z"/>
<path color="#0c1e28" d="M516.3,59.7l2,.7-2.6,.3-2.1-.7z"/>
<path color="#0c999d" d="M414.2,56.6l2.5-2.6-2.2-3-2.5,2.7z"/>
<path color="#071317" d="M511.5,59.4l2.1,.6-2.6,.2-2.1-.6z"/>
<path color="#050807" d="M506.8,59.2l2.1,.4-2.6,.1-2.1-.4z"/>
<path color="#040604" d="M502,59l2.2,.3-2.6-.1-2.1-.2z"/>
<path color="#040604" d="M497.3,58.9l2.2,.1-2.6-.2-2.1-.1z"/>
<path color="#040705" d="M492.5,58.8l2.3-.1-2.6-.3-2.2,.1z"/>
<path color="#071418" d="M487.8,58.7l2.2-.2-2.5-.5-2.2,.3z"/>
<path color="#0a2c39" d="M483,58.7l2.3-.4-2.5-.6-2.2,.4z"/>
<path color="#0d4055" d="M478.2,58.7l2.4-.6-2.5-.7-2.3,.5z"/>
<path color="#10516b" d="M473.5,58.7l2.3-.8-2.4-.8-2.3,.7z"/>
<path color="#115e7b" d="M468.7,58.7l2.4-.9-2.4-1-2.3,.9z"/>
<path color="#126787" d="M464,58.7l2.4-1-2.4-1.2-2.4,1.1z"/>
<path color="#126e8f" d="M459.2,58.8l2.4-1.2-2.3-1.4-2.4,1.3z"/>
<path color="#127496" d="M454.4,58.8l2.5-1.3-2.3-1.5-2.5,1.4z"/>
<path color="#12789a" d="M449.7,58.9l2.4-1.5-2.3-1.7-2.4,1.6z"/>
<path color="#117b9d" d="M444.9,59l2.5-1.7-2.3-1.8-2.4,1.7z"/>
<path color="#117d9f" d="M440.2,59l2.5-1.8-2.3-1.9-2.5,1.8z"/>
<path color="#107ea0" d="M435.4,59.1l2.5-2-2.2-2.1-2.5,2z"/>
<path color="#0f7fa1" d="M430.6,59.2l2.6-2.2-2.3-2.2-2.5,2.1z"/>
<path color="#0e80a1" d="M425.9,59.3l2.5-2.4-2.2-2.4-2.5,2.4z"/>
<path color="#0e80a0" d="M421.1,59.4l2.6-2.5-2.2-2.6-2.6,2.5z"/>
<path color="#0d819f" d="M416.4,59.4l2.5-2.6-2.2-2.8-2.5,2.6z"/>
<path color="#0d829f" d="M411.6,59.5l2.6-2.9-2.2-2.9-2.6,2.8z"/>
<path color="#0f3144" d="M528.5,59.6l2,1.1-2.8,.6-1.9-1z"/>
<path color="#0d2c3b" d="M523.8,59.4l2,.9-2.8,.5-2-.8z"/>
<path color="#0a242f" d="M519,59.2l2,.8-2.7,.4-2-.7z"/>
<path color="#071920" d="M514.2,59.1l2.1,.6-2.7,.3-2.1-.6z"/>
<path color="#050d0e" d="M509.4,59l2.1,.4-2.6,.2-2.1-.4z"/>
<path color="#040604" d="M504.6,59l2.2,.2-2.6,.1-2.2-.3z"/>
<path color="#040604" d="M499.9,58.9l2.1,.1-2.5,0-2.2-.1z"/>
<path color="#1872a1" d="M409,62.5l2.6-3-2.2-3-2.5,3z"/>
<path color="#1873a1" d="M413.8,62.3l2.6-2.9-2.2-2.8-2.6,2.9z"/>
<path color="#1874a2" d="M418.6,62l2.5-2.6-2.2-2.6-2.5,2.6z"/>
<path color="#1875a3" d="M423.3,61.8l2.6-2.5-2.2-2.4-2.6,2.5z"/>
<path color="#040604" d="M495.1,59l2.2-.1-2.5-.2-2.3,.1z"/>
<path color="#1876a3" d="M428.1,61.6l2.5-2.4-2.2-2.3-2.5,2.4z"/>
<path color="#1876a3" d="M432.9,61.3l2.5-2.2-2.2-2.1-2.6,2.2z"/>
<path color="#1876a3" d="M437.7,61.1l2.5-2.1-2.3-1.9-2.5,2z"/>
<path color="#050c0c" d="M490.3,59l2.2-.2-2.5-.3-2.2,.2z"/>
<path color="#1776a1" d="M442.4,60.8l2.5-1.8-2.2-1.8-2.5,1.8z"/>
<path color="#08212a" d="M485.5,59.1l2.3-.4-2.5-.4-2.3,.4z"/>
<path color="#17759f" d="M447.2,60.6l2.5-1.7-2.3-1.6-2.5,1.7z"/>
<path color="#16739b" d="M452,60.4l2.4-1.6-2.3-1.4-2.4,1.5z"/>
<path color="#0c3949" d="M480.7,59.2l2.3-.5-2.4-.6-2.4,.6z"/>
<path color="#166f95" d="M456.8,60.1l2.4-1.3-2.3-1.3-2.5,1.3z"/>
<path color="#0f4b63" d="M475.9,59.4l2.3-.7-2.4-.8-2.3,.8z"/>
<path color="#146a8e" d="M461.6,59.9l2.4-1.2-2.4-1.1-2.4,1.2z"/>
<path color="#115976" d="M471.1,59.5l2.4-.8-2.4-.9-2.4,.9z"/>
<path color="#136384" d="M466.3,59.7l2.4-1-2.3-1-2.4,1z"/>
<path color="#2564a3" d="M411.2,65.3l2.6-3-2.2-2.8-2.6,3z"/>
<path color="#2466a4" d="M416,64.9l2.6-2.9-2.2-2.6-2.6,2.9z"/>
<path color="#2368a5" d="M420.8,64.5l2.5-2.7-2.2-2.4-2.5,2.6z"/>
<path color="#226aa6" d="M425.6,64.1l2.5-2.5-2.2-2.3-2.6,2.5z"/>
<path color="#216da6" d="M430.4,63.7l2.5-2.4-2.3-2.1-2.5,2.4z"/>
<path color="#206ea6" d="M435.1,63.3l2.6-2.2-2.3-2-2.5,2.2z"/>
<path color="#1f70a4" d="M439.9,62.9l2.5-2.1-2.2-1.8-2.5,2.1z"/>
<path color="#1d70a3" d="M444.7,62.5l2.5-1.9-2.3-1.6-2.5,1.8z"/>
<path color="#1c709f" d="M449.5,62.1l2.5-1.7-2.3-1.5-2.5,1.7z"/>
<path color="#1a6f9b" d="M454.3,61.7l2.5-1.6-2.4-1.3-2.4,1.6z"/>
<path color="#186c94" d="M459.1,61.3l2.5-1.4-2.4-1.1-2.4,1.3z"/>
<path color="#083240" d="M526.5,58.7l2,.9-2.7,.7-2-.9z"/>
<path color="#16678b" d="M463.9,60.9l2.4-1.2-2.3-1-2.4,1.2z"/>
<path color="#135f7f" d="M468.7,60.6l2.4-1.1-2.4-.8-2.4,1z"/>
<path color="#062b36" d="M521.7,58.6l2.1,.8-2.8,.6-2-.8z"/>
<path color="#11546f" d="M473.5,60.3l2.4-.9-2.4-.7-2.4,.8z"/>
<path color="#052128" d="M516.9,58.6l2.1,.6-2.7,.5-2.1-.6z"/>
<path color="#0d4559" d="M478.4,59.9l2.3-.7-2.5-.5-2.3,.7z"/>
<path color="#051417" d="M512.1,58.7l2.1,.4-2.7,.3-2.1-.4z"/>
<path color="#0a2f3b" d="M483.2,59.7l2.3-.6-2.5-.4-2.3,.5z"/>
<path color="#040807" d="M507.3,58.7l2.1,.3-2.6,.2-2.2-.2z"/>
<path color="#06171a" d="M488,59.4l2.3-.4-2.5-.3-2.3,.4z"/>
<path color="#040604" d="M502.5,58.8l2.1,.2-2.6,0-2.1-.1z"/>
<path color="#040705" d="M492.8,59.2l2.3-.2-2.6-.2-2.2,.2z"/>
<path color="#040604" d="M497.6,59l2.3-.1-2.6,0-2.2,.1z"/>
<path color="#3159a6" d="M413.4,67.9l2.6-3-2.2-2.6-2.6,3z"/>
<path color="#2f5ca7" d="M418.2,67.3l2.6-2.8-2.2-2.5-2.6,2.9z"/>
<path color="#2d5ea8" d="M423,66.8l2.6-2.7-2.3-2.3-2.5,2.7z"/>
<path color="#2b61a8" d="M427.8,66.2l2.6-2.5-2.3-2.1-2.5,2.5z"/>
<path color="#2964a8" d="M432.6,65.6l2.5-2.3-2.2-2-2.5,2.4z"/>
<path color="#2767a8" d="M437.4,65.1l2.5-2.2-2.2-1.8-2.6,2.2z"/>
<path color="#246aa6" d="M442.2,64.5l2.5-2-2.3-1.7-2.5,2.1z"/>
<path color="#226ba4" d="M447,63.9l2.5-1.8-2.3-1.5-2.5,1.9z"/>
<path color="#1f6ca0" d="M451.8,63.4l2.5-1.7-2.3-1.3-2.5,1.7z"/>
<path color="#1c6b9a" d="M456.7,62.8l2.4-1.5-2.3-1.2-2.5,1.6z"/>
<path color="#196992" d="M461.5,62.3l2.4-1.4-2.3-1-2.5,1.4z"/>
<path color="#166488" d="M466.3,61.8l2.4-1.2-2.4-.9-2.4,1.2z"/>
<path color="#344ca9" d="M415.6,70.3l2.6-3-2.2-2.4-2.6,3z"/>
<path color="#135c7a" d="M471.2,61.3l2.3-1-2.4-.8-2.4,1.1z"/>
<path color="#0f4f66" d="M476,60.8l2.4-.9-2.5-.5-2.4,.9z"/>
<path color="#3452aa" d="M420.4,69.6l2.6-2.8-2.2-2.3-2.6,2.8z"/>
<path color="#0b3d4c" d="M480.8,60.4l2.4-.7-2.5-.5-2.3,.7z"/>
<path color="#08252c" d="M485.7,60l2.3-.6-2.5-.3-2.3,.6z"/>
<path color="#050d0d" d="M490.5,59.6l2.3-.4-2.5-.2-2.3,.4z"/>
<path color="#3557ab" d="M425.2,68.9l2.6-2.7-2.2-2.1-2.6,2.7z"/>
<path color="#040604" d="M495.4,59.2l2.2-.2-2.5,0-2.3,.2z"/>
<path color="#040604" d="M500.2,58.9l2.3-.1-2.6,.1-2.3,.1z"/>
<path color="#040604" d="M505.1,58.6l2.2,.1-2.7,.3-2.1-.2z"/>
<path color="#04333b" d="M524.5,57.9l2,.8-2.7,.7-2.1-.8z"/>
<path color="#040e0e" d="M509.9,58.4l2.2,.3-2.7,.3-2.1-.3z"/>
<path color="#04292f" d="M519.7,58l2,.6-2.7,.6-2.1-.6z"/>
<path color="#041c1f" d="M514.8,58.2l2.1,.4-2.7,.5-2.1-.4z"/>
<path color="#335bab" d="M430.1,68.2l2.5-2.6-2.2-1.9-2.6,2.5z"/>
<path color="#305eaa" d="M434.9,67.4l2.5-2.3-2.3-1.8-2.5,2.3z"/>
<path color="#2c61a9" d="M439.7,66.7l2.5-2.2-2.3-1.6-2.5,2.2z"/>
<path color="#2964a7" d="M444.5,66l2.5-2.1-2.3-1.4-2.5,2z"/>
<path color="#2567a4" d="M449.4,65.2l2.4-1.8-2.3-1.3-2.5,1.8z"/>
<path color="#22699f" d="M454.2,64.5l2.5-1.7-2.4-1.1-2.5,1.7z"/>
<path color="#353dab" d="M417.9,72.6l2.5-3-2.2-2.3-2.6,3z"/>
<path color="#1e6999" d="M459,63.8l2.5-1.5-2.4-1-2.4,1.5z"/>
<path color="#3545ac" d="M422.7,71.8l2.5-2.9-2.2-2.1-2.6,2.8z"/>
<path color="#1a6690" d="M463.9,63.2l2.4-1.4-2.4-.9-2.4,1.4z"/>
<path color="#166183" d="M468.7,62.5l2.5-1.2-2.5-.7-2.4,1.2z"/>
<path color="#354dad" d="M427.5,70.9l2.6-2.7-2.3-2-2.6,2.7z"/>
<path color="#115872" d="M473.6,61.9l2.4-1.1-2.5-.5-2.3,1z"/>
<path color="#3654ad" d="M432.3,70l2.6-2.6-2.3-1.8-2.5,2.6z"/>
<path color="#0d495c" d="M478.5,61.2l2.3-.8-2.4-.5-2.4,.9z"/>
<path color="#09333e" d="M483.4,60.7l2.3-.7-2.5-.3-2.4,.7z"/>
<path color="#355aac" d="M437.1,69.1l2.6-2.4-2.3-1.6-2.5,2.3z"/>
<path color="#06191c" d="M488.2,60.1l2.3-.5-2.5-.2-2.3,.6z"/>
<path color="#040705" d="M493.1,59.6l2.3-.4-2.6,0-2.3,.4z"/>
<path color="#315dab" d="M442,68.2l2.5-2.2-2.3-1.5-2.5,2.2z"/>
<path color="#040604" d="M498,59.1l2.2-.2-2.6,.1-2.2,.2z"/>
<path color="#040604" d="M502.9,58.6l2.2,0-2.6,.2-2.3,.1z"/>
<path color="#040907" d="M507.8,58.2l2.1,.2-2.6,.3-2.2-.1z"/>
<path color="#2c60a8" d="M446.8,67.3l2.6-2.1-2.4-1.3-2.5,2.1z"/>
<path color="#041716" d="M512.7,57.9l2.1,.3-2.7,.5-2.2-.3z"/>
<path color="#042728" d="M517.6,57.5l2.1,.5-2.8,.6-2.1-.4z"/>
<path color="#043536" d="M522.4,57.3l2.1,.6-2.8,.7-2-.6z"/>
<path color="#3636ae" d="M420.1,74.8l2.6-3-2.3-2.2-2.5,3z"/>
<path color="#2864a4" d="M451.7,66.4l2.5-1.9-2.4-1.1-2.4,1.8z"/>
<path color="#363aaf" d="M424.9,73.7l2.6-2.8-2.3-2-2.5,2.9z"/>
<path color="#23669e" d="M456.6,65.5l2.4-1.7-2.3-1-2.5,1.7z"/>
<path color="#1e6796" d="M461.4,64.7l2.5-1.5-2.4-.9-2.5,1.5z"/>
<path color="#3643af" d="M429.7,72.7l2.6-2.7-2.2-1.8-2.6,2.7z"/>
<path color="#19648c" d="M466.3,63.9l2.4-1.4-2.4-.7-2.4,1.4z"/>
<path color="#364caf" d="M434.6,71.6l2.5-2.5-2.2-1.7-2.6,2.6z"/>
<path color="#145e7d" d="M471.2,63.1l2.4-1.2-2.4-.6-2.5,1.2z"/>
<path color="#0f5369" d="M476.1,62.3l2.4-1.1-2.5-.4-2.4,1.1z"/>
<path color="#3655ae" d="M439.4,70.5l2.6-2.3-2.3-1.5-2.6,2.4z"/>
<path color="#0b414f" d="M481,61.5l2.4-.8-2.6-.3-2.3,.8z"/>
<path color="#345bac" d="M444.3,69.5l2.5-2.2-2.3-1.3-2.5,2.2z"/>
<path color="#08292e" d="M485.9,60.8l2.3-.7-2.5-.1-2.3,.7z"/>
<path color="#3735b1" d="M422.3,76.8l2.6-3.1-2.2-1.9-2.6,3z"/>
<path color="#050f0e" d="M490.8,60.1l2.3-.5-2.6,0-2.3,.5z"/>
<path color="#2f5ea8" d="M449.2,68.4l2.5-2-2.3-1.2-2.6,2.1z"/>
<path color="#040604" d="M495.7,59.4l2.3-.3-2.6,.1-2.3,.4z"/>
<path color="#3736b1" d="M427.2,75.5l2.5-2.8-2.2-1.8-2.6,2.8z"/>
<path color="#040604" d="M500.6,58.8l2.3-.2-2.7,.3-2.2,.2z"/>
<path color="#2962a3" d="M454.1,67.4l2.5-1.9-2.4-1-2.5,1.9z"/>
<path color="#040604" d="M505.6,58.2l2.2,0-2.7,.4-2.2,0z"/>
<path color="#040f0d" d="M510.5,57.7l2.2,.2-2.8,.5-2.1-.2z"/>
<path color="#23659d" d="M459,66.4l2.4-1.7-2.4-.9-2.4,1.7z"/>
<path color="#373bb1" d="M432,74.3l2.6-2.7-2.3-1.6-2.6,2.7z"/>
<path color="#04211d" d="M515.4,57.2l2.2,.3-2.8,.7-2.1-.3z"/>
<path color="#04312b" d="M520.3,56.8l2.1,.5-2.7,.7-2.1-.5z"/>
<path color="#1e6593" d="M463.9,65.4l2.4-1.5-2.4-.7-2.5,1.5z"/>
<path color="#3746b0" d="M436.9,73.1l2.5-2.6-2.3-1.4-2.5,2.5z"/>
<path color="#186287" d="M468.8,64.4l2.4-1.3-2.5-.6-2.4,1.4z"/>
<path color="#3750af" d="M441.8,71.9l2.5-2.4-2.3-1.3-2.6,2.3z"/>
<path color="#125b75" d="M473.7,63.5l2.4-1.2-2.5-.4-2.4,1.2z"/>
<path color="#3834b3" d="M424.6,78.6l2.6-3.1-2.3-1.8-2.6,3.1z"/>
<path color="#0d4d5e" d="M478.6,62.6l2.4-1.1-2.5-.3-2.4,1.1z"/>
<path color="#3659ac" d="M446.6,70.7l2.6-2.3-2.4-1.1-2.5,2.2z"/>
<path color="#0a3940" d="M483.5,61.7l2.4-.9-2.5-.1-2.4,.8z"/>
<path color="#305ca8" d="M451.5,69.5l2.6-2.1-2.4-1-2.5,2z"/>
<path color="#3836b3" d="M429.4,77.2l2.6-2.9-2.3-1.6-2.5,2.8z"/>
<path color="#061d1d" d="M488.5,60.8l2.3-.7-2.6,0-2.3,.7z"/>
<path color="#040806" d="M493.4,60l2.3-.6-2.6,.2-2.3,.5z"/>
<path color="#2961a2" d="M456.5,68.3l2.5-1.9-2.4-.9-2.5,1.9z"/>
<path color="#3837b3" d="M434.3,75.8l2.6-2.7-2.3-1.5-2.6,2.7z"/>
<path color="#040604" d="M498.4,59.2l2.2-.4-2.6,.3-2.3,.3z"/>
<path color="#23649a" d="M461.4,67.1l2.5-1.7-2.5-.7-2.4,1.7z"/>
<path color="#040604" d="M503.3,58.4l2.3-.2-2.7,.4-2.3,.2z"/>
<path color="#3841b2" d="M439.2,74.4l2.6-2.5-2.4-1.4-2.5,2.6z"/>
<path color="#040806" d="M508.3,57.7l2.2,0-2.7,.5-2.2,0z"/>
<path color="#1c648f" d="M466.3,66l2.5-1.6-2.5-.5-2.4,1.5z"/>
<path color="#041712" d="M513.2,57.1l2.2,.1-2.7,.7-2.2-.2z"/>
<path color="#04291e" d="M518.2,56.4l2.1,.4-2.7,.7-2.2-.3z"/>
<path color="#374daf" d="M444.1,73l2.5-2.3-2.3-1.2-2.5,2.4z"/>
<path color="#166080" d="M471.2,64.8l2.5-1.3-2.5-.4-2.4,1.3z"/>
<path color="#3833b5" d="M426.8,80.3l2.6-3.1-2.2-1.7-2.6,3.1z"/>
<path color="#0f576c" d="M476.2,63.7l2.4-1.1-2.5-.3-2.4,1.2z"/>
<path color="#3657ac" d="M449,71.7l2.5-2.2-2.3-1.1-2.6,2.3z"/>
<path color="#3935b5" d="M431.7,78.7l2.6-2.9-2.3-1.5-2.6,2.9z"/>
<path color="#0c4751" d="M481.1,62.7l2.4-1-2.5-.2-2.4,1.1z"/>
<path color="#305ca7" d="M453.9,70.3l2.6-2-2.4-.9-2.6,2.1z"/>
<path color="#082e30" d="M486.1,61.6l2.4-.8-2.6,0-2.4,.9z"/>
<path color="#3937b4" d="M436.6,77.1l2.6-2.7-2.3-1.3-2.6,2.7z"/>
<path color="#2861a0" d="M458.9,69l2.5-1.9-2.4-.7-2.5,1.9z"/>
<path color="#05110f" d="M491.1,60.6l2.3-.6-2.6,.1-2.3,.7z"/>
<path color="#040604" d="M496.1,59.7l2.3-.5-2.7,.2-2.3,.6z"/>
<path color="#383eb2" d="M441.5,75.6l2.6-2.6-2.3-1.1-2.6,2.5z"/>
<path color="#216496" d="M463.8,67.7l2.5-1.7-2.4-.6-2.5,1.7z"/>
<path color="#040604" d="M501,58.8l2.3-.4-2.7,.4-2.2,.4z"/>
<path color="#1a6389" d="M468.8,66.4l2.4-1.6-2.4-.4-2.5,1.6z"/>
<path color="#040604" d="M506,57.9l2.3-.2-2.7,.5-2.3,.2z"/>
<path color="#3933b7" d="M429.1,81.8l2.6-3.1-2.3-1.5-2.6,3.1z"/>
<path color="#384baf" d="M446.4,74.1l2.6-2.4-2.4-1-2.5,2.3z"/>
<path color="#040e0a" d="M511,57l2.2,.1-2.7,.6-2.2,0z"/>
<path color="#135e78" d="M473.7,65.1l2.5-1.4-2.5-.2-2.5,1.3z"/>
<path color="#042013" d="M516,56.3l2.2,.1-2.8,.8-2.2-.1z"/>
<path color="#3657ab" d="M451.4,72.5l2.5-2.2-2.4-.8-2.5,2.2z"/>
<path color="#3935b6" d="M434,80l2.6-2.9-2.3-1.3-2.6,2.9z"/>
<path color="#0e5361" d="M478.7,63.9l2.4-1.2-2.5-.1-2.4,1.1z"/>
<path color="#2f5ba5" d="M456.3,71l2.6-2-2.4-.7-2.6,2z"/>
<path color="#0a3f42" d="M483.7,62.7l2.4-1.1-2.6,.1-2.4,1z"/>
<path color="#3937b5" d="M438.9,78.3l2.6-2.7-2.3-1.2-2.6,2.7z"/>
<path color="#27619d" d="M461.3,69.5l2.5-1.8-2.4-.6-2.5,1.9z"/>
<path color="#07211f" d="M488.7,61.5l2.4-.9-2.6,.2-2.4,.8z"/>
<path color="#393db3" d="M443.9,76.6l2.5-2.5-2.3-1.1-2.6,2.6z"/>
<path color="#040806" d="M493.7,60.3l2.4-.6-2.7,.3-2.3,.6z"/>
<path color="#1e6492" d="M466.3,68.1l2.5-1.7-2.5-.4-2.5,1.7z"/>
<path color="#3a32b8" d="M431.4,83.1l2.6-3.1-2.3-1.3-2.6,3.1z"/>
<path color="#040604" d="M498.7,59.2l2.3-.4-2.6,.4-2.3,.5z"/>
<path color="#384baf" d="M448.8,74.9l2.6-2.4-2.4-.8-2.6,2.4z"/>
<path color="#176283" d="M471.3,66.6l2.4-1.5-2.5-.3-2.4,1.6z"/>
<path color="#040604" d="M503.8,58.2l2.2-.3-2.7,.5-2.3,.4z"/>
<path color="#3a35b7" d="M436.3,81.2l2.6-2.9-2.3-1.2-2.6,2.9z"/>
<path color="#040805" d="M508.8,57.2l2.2-.2-2.7,.7-2.3,.2z"/>
<path color="#3657aa" d="M453.8,73.3l2.5-2.3-2.4-.7-2.5,2.2z"/>
<path color="#105b6e" d="M476.3,65.2l2.4-1.3-2.5-.2-2.5,1.4z"/>
<path color="#04160b" d="M513.8,56.2l2.2,.1-2.8,.8-2.2-.1z"/>
<path color="#0d4d54" d="M481.3,63.8l2.4-1.1-2.6,0-2.4,1.2z"/>
<path color="#3a37b5" d="M441.3,79.4l2.6-2.8-2.4-1-2.6,2.7z"/>
<path color="#2d5ca3" d="M458.8,71.6l2.5-2.1-2.4-.5-2.6,2z"/>
<path color="#093332" d="M486.3,62.5l2.4-1-2.6,.1-2.4,1.1z"/>
<path color="#246299" d="M463.8,70l2.5-1.9-2.5-.4-2.5,1.8z"/>
<path color="#393cb2" d="M446.2,77.5l2.6-2.6-2.4-.8-2.5,2.5z"/>
<path color="#05120f" d="M491.4,61.2l2.3-.9-2.6,.3-2.4,.9z"/>
<path color="#3b32b9" d="M433.7,84.3l2.6-3.1-2.3-1.2-2.6,3.1z"/>
<path color="#1b648c" d="M468.8,68.3l2.5-1.7-2.5-.2-2.5,1.7z"/>
<path color="#040604" d="M496.4,59.9l2.3-.7-2.6,.5-2.4,.6z"/>
<path color="#384cae" d="M451.2,75.6l2.6-2.3-2.4-.8-2.6,2.4z"/>
<path color="#040604" d="M501.5,58.7l2.3-.5-2.8,.6-2.3,.4z"/>
<path color="#3a35b8" d="M438.7,82.3l2.6-2.9-2.4-1.1-2.6,2.9z"/>
<path color="#13617a" d="M473.8,66.8l2.5-1.6-2.6-.1-2.4,1.5z"/>
<path color="#3558a8" d="M456.2,73.8l2.6-2.2-2.5-.6-2.5,2.3z"/>
<path color="#040604" d="M506.5,57.5l2.3-.3-2.8,.7-2.2,.3z"/>
<path color="#0f5863" d="M478.8,65.2l2.5-1.4-2.6,.1-2.4,1.3z"/>
<path color="#3a36b5" d="M443.6,80.2l2.6-2.7-2.3-.9-2.6,2.8z"/>
<path color="#040d06" d="M511.6,56.3l2.2-.1-2.8,.8-2.2,.2z"/>
<path color="#2b5e9f" d="M461.2,72l2.6-2-2.5-.5-2.5,2.1z"/>
<path color="#0b4445" d="M483.9,63.7l2.4-1.2-2.6,.2-2.4,1.1z"/>
<path color="#393eb1" d="M448.6,78.2l2.6-2.6-2.4-.7-2.6,2.6z"/>
<path color="#216494" d="M466.3,70.2l2.5-1.9-2.5-.2-2.5,1.9z"/>
<path color="#07241f" d="M489,62.2l2.4-1-2.7,.3-2.4,1z"/>
<path color="#3b32ba" d="M436.1,85.4l2.6-3.1-2.4-1.1-2.6,3.1z"/>
<path color="#040906" d="M494,60.7l2.4-.8-2.7,.4-2.3,.9z"/>
<path color="#176485" d="M471.3,68.5l2.5-1.7-2.5-.2-2.5,1.7z"/>
<path color="#374eac" d="M453.7,76.2l2.5-2.4-2.4-.5-2.6,2.3z"/>
<path color="#3b35b8" d="M441,83.2l2.6-3-2.3-.8-2.6,2.9z"/>
<path color="#040604" d="M499.1,59.3l2.4-.6-2.8,.5-2.3,.7z"/>
<path color="#115f70" d="M476.4,66.7l2.4-1.5-2.5,0-2.5,1.6z"/>
<path color="#3259a5" d="M458.7,74.2l2.5-2.2-2.4-.4-2.6,2.2z"/>
<path color="#040604" d="M504.2,57.9l2.3-.4-2.7,.7-2.3,.5z"/>
<path color="#3a37b5" d="M446,81l2.6-2.8-2.4-.7-2.6,2.7z"/>
<path color="#0d5356" d="M481.4,65l2.5-1.3-2.6,.1-2.5,1.4z"/>
<path color="#040704" d="M509.3,56.6l2.3-.3-2.8,.9-2.3,.3z"/>
<path color="#27609b" d="M463.7,72.3l2.6-2.1-2.5-.2-2.6,2z"/>
<path color="#093731" d="M486.5,63.3l2.5-1.1-2.7,.3-2.4,1.2z"/>
<path color="#3941b0" d="M451.1,78.8l2.6-2.6-2.5-.6-2.6,2.6z"/>
<path color="#3b32ba" d="M438.4,86.3l2.6-3.1-2.3-.9-2.6,3.1z"/>
<path color="#1d658e" d="M468.8,70.3l2.5-1.8-2.5-.2-2.5,1.9z"/>
<path color="#05140e" d="M491.6,61.7l2.4-1-2.6,.5-2.4,1z"/>
<path color="#3752aa" d="M456.1,76.6l2.6-2.4-2.5-.4-2.5,2.4z"/>
<path color="#3b35b7" d="M443.4,83.9l2.6-2.9-2.4-.8-2.6,3z"/>
<path color="#13647c" d="M473.9,68.4l2.5-1.7-2.6,.1-2.5,1.7z"/>
<path color="#040604" d="M496.8,60.1l2.3-.8-2.7,.6-2.4,.8z"/>
<path color="#2e5aa1" d="M461.2,74.5l2.5-2.2-2.5-.3-2.5,2.2z"/>
<path color="#040604" d="M501.9,58.6l2.3-.7-2.7,.8-2.4,.6z"/>
<path color="#0f5d65" d="M479,66.5l2.4-1.5-2.6,.2-2.4,1.5z"/>
<path color="#3a37b3" d="M448.5,81.5l2.6-2.7-2.5-.6-2.6,2.8z"/>
<path color="#040604" d="M507,57.1l2.3-.5-2.8,.9-2.3,.4z"/>
<path color="#0c4a46" d="M484.1,64.7l2.4-1.4-2.6,.4-2.5,1.3z"/>
<path color="#236396" d="M466.3,72.4l2.5-2.1-2.5-.1-2.6,2.1z"/>
<path color="#3c33ba" d="M440.8,87l2.6-3.1-2.4-.7-2.6,3.1z"/>
<path color="#3845ae" d="M453.5,79.2l2.6-2.6-2.4-.4-2.6,2.6z"/>
<path color="#07261c" d="M489.2,62.9l2.4-1.2-2.6,.5-2.5,1.1z"/>
<path color="#186686" d="M471.4,70.3l2.5-1.9-2.6,.1-2.5,1.8z"/>
<path color="#3656a7" d="M458.6,76.9l2.6-2.4-2.5-.3-2.6,2.4z"/>
<path color="#040a06" d="M494.4,61.1l2.4-1-2.8,.6-2.4,1z"/>
<path color="#3b35b6" d="M445.8,84.5l2.7-3-2.5-.5-2.6,2.9z"/>
<path color="#116472" d="M476.5,68.2l2.5-1.7-2.6,.2-2.5,1.7z"/>
<path color="#040604" d="M499.5,59.4l2.4-.8-2.8,.7-2.3,.8z"/>
<path color="#2a5e9d" d="M463.7,74.6l2.6-2.2-2.6-.1-2.5,2.2z"/>
<path color="#3937b2" d="M450.9,82l2.6-2.8-2.4-.4-2.6,2.7z"/>
<path color="#0e5958" d="M481.6,66.2l2.5-1.5-2.7,.3-2.4,1.5z"/>
<path color="#040604" d="M504.7,57.7l2.3-.6-2.8,.8-2.3,.7z"/>
<path color="#1e658f" d="M468.8,72.3l2.6-2-2.6,0-2.5,2.1z"/>
<path color="#3c33b9" d="M443.2,87.6l2.6-3.1-2.4-.6-2.6,3.1z"/>
<path color="#0a392d" d="M486.8,64.2l2.4-1.3-2.7,.4-2.4,1.4z"/>
<path color="#374aab" d="M456,79.5l2.6-2.6-2.5-.3-2.6,2.6z"/>
<path color="#06160d" d="M491.9,62.3l2.5-1.2-2.8,.6-2.4,1.2z"/>
<path color="#13667e" d="M473.9,70.1l2.6-1.9-2.6,.2-2.5,1.9z"/>
<path color="#3a35b5" d="M448.3,84.9l2.6-2.9-2.4-.5-2.7,3z"/>
<path color="#3158a3" d="M461.1,77l2.6-2.4-2.5-.1-2.6,2.4z"/>
<path color="#040604" d="M497.1,60.4l2.4-1-2.7,.7-2.4,1z"/>
<path color="#106367" d="M479.1,67.9l2.5-1.7-2.6,.3-2.5,1.7z"/>
<path color="#246297" d="M466.2,74.6l2.6-2.3-2.5,.1-2.6,2.2z"/>
<path color="#393baf" d="M453.4,82.3l2.6-2.8-2.5-.3-2.6,2.8z"/>
<path color="#040604" d="M502.3,58.5l2.4-.8-2.8,.9-2.4,.8z"/>
<path color="#0c4c40" d="M484.3,65.7l2.5-1.5-2.7,.5-2.5,1.5z"/>
<path color="#3b33b8" d="M445.6,88l2.7-3.1-2.5-.4-2.6,3.1z"/>
<path color="#186888" d="M471.4,72.2l2.5-2.1-2.5,.2-2.6,2z"/>
<path color="#3750a8" d="M458.5,79.6l2.6-2.6-2.5-.1-2.6,2.6z"/>
<path color="#082819" d="M489.5,63.6l2.4-1.3-2.7,.6-2.4,1.3z"/>
<path color="#126874" d="M476.6,69.8l2.5-1.9-2.6,.3-2.6,1.9z"/>
<path color="#3a36b3" d="M450.7,85.2l2.7-2.9-2.5-.3-2.6,2.9z"/>
<path color="#050b06" d="M494.7,61.5l2.4-1.1-2.7,.7-2.5,1.2z"/>
<path color="#2c5c9e" d="M463.6,77l2.6-2.4-2.5,0-2.6,2.4z"/>
<path color="#040604" d="M499.9,59.4l2.4-.9-2.8,.9-2.4,1z"/>
<path color="#0e5d56" d="M481.8,67.4l2.5-1.7-2.7,.5-2.5,1.7z"/>
<path color="#3842ac" d="M455.9,82.4l2.6-2.8-2.5-.1-2.6,2.8z"/>
<path color="#1f6691" d="M468.8,74.4l2.6-2.2-2.6,.1-2.6,2.3z"/>
<path color="#0a3b28" d="M487,65.1l2.5-1.5-2.7,.6-2.5,1.5z"/>
<path color="#3b34b6" d="M448.1,88.3l2.6-3.1-2.4-.3-2.7,3.1z"/>
<path color="#14697f" d="M474,71.8l2.6-2-2.7,.3-2.5,2.1z"/>
<path color="#3456a4" d="M461,79.6l2.6-2.6-2.5,0-2.6,2.6z"/>
<path color="#06180b" d="M492.2,62.8l2.5-1.3-2.8,.8-2.4,1.3z"/>
<path color="#3936b0" d="M453.2,85.3l2.7-2.9-2.5-.1-2.7,2.9z"/>
<path color="#116868" d="M479.2,69.3l2.6-1.9-2.7,.5-2.5,1.9z"/>
<path color="#266198" d="M466.2,76.8l2.6-2.4-2.6,.2-2.6,2.4z"/>
<path color="#040604" d="M497.5,60.6l2.4-1.2-2.8,1-2.4,1.1z"/>
<path color="#0d4e3b" d="M484.5,66.8l2.5-1.7-2.7,.6-2.5,1.7z"/>
<path color="#374aa9" d="M458.4,82.4l2.6-2.8-2.5,0-2.6,2.8z"/>
<path color="#196989" d="M471.4,74.1l2.6-2.3-2.6,.4-2.6,2.2z"/>
<path color="#3a34b4" d="M450.5,88.5l2.7-3.2-2.5-.1-2.6,3.1z"/>
<path color="#082a15" d="M489.7,64.3l2.5-1.5-2.7,.8-2.5,1.5z"/>
<path color="#2e599f" d="M463.6,79.4l2.6-2.6-2.6,.2-2.6,2.6z"/>
<path color="#126d75" d="M476.7,71.3l2.5-2-2.6,.5-2.6,2z"/>
<path color="#050c05" d="M495,61.9l2.5-1.3-2.8,.9-2.5,1.3z"/>
<path color="#393bad" d="M455.7,85.3l2.7-2.9-2.5,0-2.7,2.9z"/>
<path color="#0f5f50" d="M481.9,68.6l2.6-1.8-2.7,.6-2.6,1.9z"/>
<path color="#206691" d="M468.8,76.5l2.6-2.4-2.6,.3-2.6,2.4z"/>
<path color="#3652a4" d="M461,82.2l2.6-2.8-2.6,.2-2.6,2.8z"/>
<path color="#0b3e23" d="M487.2,66l2.5-1.7-2.7,.8-2.5,1.7z"/>
<path color="#146d80" d="M474.1,73.6l2.6-2.3-2.7,.5-2.6,2.3z"/>
<path color="#3a35b1" d="M453.1,88.5l2.6-3.2-2.5,0-2.7,3.2z"/>
<path color="#061a09" d="M492.5,63.4l2.5-1.5-2.8,.9-2.5,1.5z"/>
<path color="#276099" d="M466.2,79.1l2.6-2.6-2.6,.3-2.6,2.6z"/>
<path color="#116e69" d="M479.4,70.7l2.5-2.1-2.7,.7-2.5,2z"/>
<path color="#3744a9" d="M458.3,85.1l2.7-2.9-2.6,.2-2.7,2.9z"/>
<path color="#196a8a" d="M471.5,76l2.6-2.4-2.7,.5-2.6,2.4z"/>
<path color="#0d5035" d="M484.7,67.9l2.5-1.9-2.7,.8-2.6,1.8z"/>
<path color="#30579f" d="M463.6,81.9l2.6-2.8-2.6,.3-2.6,2.8z"/>
<path color="#092d11" d="M490,65.1l2.5-1.7-2.8,.9-2.5,1.7z"/>
<path color="#137176" d="M476.8,72.9l2.6-2.2-2.7,.6-2.6,2.3z"/>
<path color="#3936ae" d="M455.6,88.3l2.7-3.2-2.6,.2-2.6,3.2z"/>
<path color="#206692" d="M468.8,78.6l2.7-2.6-2.7,.5-2.6,2.6z"/>
<path color="#0f614a" d="M482.1,69.9l2.6-2-2.8,.7-2.5,2.1z"/>
<path color="#364ea5" d="M460.9,84.8l2.7-2.9-2.6,.3-2.7,2.9z"/>
<path color="#157081" d="M474.2,75.3l2.6-2.4-2.7,.7-2.6,2.4z"/>
<path color="#0b401d" d="M487.5,66.9l2.5-1.8-2.8,.9-2.5,1.9z"/>
<path color="#285e99" d="M466.2,81.4l2.6-2.8-2.6,.5-2.6,2.8z"/>
<path color="#383eaa" d="M458.2,88l2.7-3.2-2.6,.3-2.7,3.2z"/>
<path color="#117064" d="M479.5,72.1l2.6-2.2-2.7,.8-2.6,2.2z"/>
<path color="#196c8b" d="M471.5,78l2.7-2.7-2.7,.7-2.7,2.6z"/>
<path color="#0e522e" d="M484.9,69l2.6-2.1-2.8,1-2.6,2z"/>
<path color="#3256a0" d="M463.5,84.4l2.7-3-2.6,.5-2.7,2.9z"/>
<path color="#137677" d="M476.9,74.6l2.6-2.5-2.7,.8-2.6,2.4z"/>
<path color="#216693" d="M468.9,80.7l2.6-2.7-2.7,.6-2.6,2.8z"/>
<path color="#364aa5" d="M460.8,87.5l2.7-3.1-2.6,.4-2.7,3.2z"/>
<path color="#106344" d="M482.3,71.2l2.6-2.2-2.8,.9-2.6,2.2z"/>
<path color="#157382" d="M474.2,77.2l2.7-2.6-2.7,.7-2.7,2.7z"/>
<path color="#2a5d9a" d="M466.2,83.7l2.7-3-2.7,.7-2.7,3z"/>
<path color="#12715e" d="M479.7,73.6l2.6-2.4-2.8,.9-2.6,2.5z"/>
<path color="#196d8b" d="M471.6,80l2.6-2.8-2.7,.8-2.6,2.7z"/>
<path color="#3354a0" d="M463.5,86.9l2.7-3.2-2.7,.7-2.7,3.1z"/>
<path color="#147a78" d="M477,76.2l2.7-2.6-2.8,1-2.7,2.6z"/>
<path color="#216693" d="M468.9,83l2.7-3-2.7,.7-2.7,3z"/>
<path color="#157683" d="M474.3,79l2.7-2.8-2.8,1-2.6,2.8z"/>
<path color="#2a5c9a" d="M466.1,86.1l2.8-3.1-2.7,.7-2.7,3.2z"/>
<path color="#196e8c" d="M471.6,82l2.7-3-2.7,1-2.7,3z"/>
<path color="#216693" d="M468.9,85.2l2.7-3.2-2.7,1-2.8,3.1z"/>
</g>
<circle cx="406.6" cy="58.5" r="1.3" fill="#c81414"/>
<circle cx="469.1" cy="58.5" r="1.3" fill="#c81414"/>
<circle cx="469.1" cy="85.2" r="1.3" fill="#c81414"/>
<circle cx="529.8" cy="63.8" r="1.3" fill="#e89a8a"/>
<text transform="translate(394.2,55.4) rotate(-90)" font-size="6.6" text-anchor="middle">Tool shaft torque/Nm</text>
<text x="468.1" y="134.2" class="tk3" text-anchor="end">310</text>
<text x="451.2" y="125.8" class="tk3" text-anchor="end">315</text>
<text x="435.5" y="118" class="tk3" text-anchor="end">320</text>
<text x="420.8" y="110.7" class="tk3" text-anchor="end">325</text>
<text x="407" y="103.8" class="tk3" text-anchor="end">330</text>
<text x="471.9" y="134.1" class="tk3" text-anchor="start">42.5</text>
<text x="484.9" y="127.3" class="tk3" text-anchor="start">45.5</text>
<text x="497.2" y="120.8" class="tk3" text-anchor="start">48.5</text>
<text x="508.8" y="114.7" class="tk3" text-anchor="start">51.5</text>
<text x="519.8" y="109" class="tk3" text-anchor="start">54.5</text>
<text x="530.2" y="103.5" class="tk3" text-anchor="start">57.5</text>
<path d="M468.9,129.3l-.9,1.5M452.3,121l-.9,1.5M436.9,113.3l-.9,1.5M422.5,106.1l-.9,1.5M409,99.3l-.9,1.5M468.9,129.3l.9,1.5M482.2,122.6l.9,1.5M494.7,116.2l.9,1.5M506.6,110.2l.9,1.5M517.8,104.6l.9,1.5M528.4,99.2l.9,1.5" stroke="#444" stroke-width=".5"/>
<text transform="translate(510.9,120.6) rotate(-26.6)" font-size="5.45" text-anchor="middle" y="1.5">B:Shovel blade inclination/°</text>
<text transform="translate(426.2,120.4) rotate(26.7)" font-size="5.6" text-anchor="middle" y="1.5">C:Working width/mm</text>
</g>
<g>
<rect x="27" y="151" width="130.5" height="130" fill="#0000f0"/>
<path d="M27,281l44.3,0 1.4-.2 3.2-.5 3.3-.3 3.3-.2 3.2-.2 3.3,0 3.2,.1 6.6,.6 3.2,.5 1.4,.2 54.1,0 0-130-130.5,0 0,126.8z" fill="#0000f0"/>
<path d="M27,281l36.8,0 2.4-.5 3.2-.7 3.3-.6 3.2-.4 3.3-.4 3.3-.2 3.2-.1 3.3,0 3.2,.1 3.3,.2 3.3,.3 3.2,.5 3.3,.5 3.3,.7 2.3,.6 46.6,0 0-130-130.5,0 0,126.8z" fill="#0000f3"/>
<path d="M27,281l31.2,0 1.4-.4 3.3-.9 3.3-.8 3.2-.6 3-.5 .3-.1 3.2-.5 6.6-.6 3.2-.1 3.3-.1 3.2,.1 6.6,.6 3.2,.5 1.1,.2 2.2,.3 3.3,.7 3.2,.8 3.3,.9 1.4,.5 41,0 0-130-130.5,0 0,126.8z" fill="#0000f7"/>
<path d="M27,281l26.5,0 2.9-.9 3.2-1 3.3-.9 1.9-.4 1.4-.4 3.2-.7 3.3-.6 3.2-.5 3.3-.4 3.3-.2 3.2-.2 3.3,0 3.2,.1 3.3,.2 3.3,.3 3.2,.5 3.3,.6 3.3,.7 2.2,.6 1,.2 3.3,.9 3.3,1.1 2.8,1 36.3,0 0-130-130.5,0 0,126.8z" fill="#0000fa"/>
<path d="M27,281l22.4,0 .4-.2 3.3-1.2 3.3-1 2.7-.8 .5-.2 3.3-1 3.3-.8 3.2-.7 3.3-.6 3.2-.5 3.3-.4 3.3-.3 3.2-.2 3.3,0 3.2,.1 3.3,.2 3.3,.3 3.2,.5 1.7,.3 1.6,.3 3.3,.7 3.2,.8 3.3,1 1.4,.5 1.9,.5 3.2,1.2 3.3,1.3 .4,.2 32.2,0 0-130-46.4,0-2.5,.1-3.3,.1-3.3-.1-2.1-.1-72.9,0 0,126.8z" fill="#0000fd"/>
<path d="M27,281l18.7,0 .9-.4 3.2-1.3 4.5-1.5 2.1-.8 3.2-1 6.6-1.8 3.2-.7 3.3-.7 3.2-.5 3.3-.4 3.3-.3 3.2-.2 6.5,0 3.3,.2 3.3,.4 3.2,.4 3.3,.6 3.3,.7 2.8,.8 .4,.1 6.6,2 2.9,1.2 .3,.1 3.3,1.2 3.2,1.5 .9,.4 28.5,0 0-130-34,0-1.9,.4-3.2,.6-3.3,.4-3.3,.3-3.2,.2-3.3,.1-3.3-.1-3.2-.2-3.3-.3-3.3-.5-4.8-.9-60.4,0 0,126.8z" fill="#00f"/>
<path d="M27,281l15.3,0 1-.5 3.3-1.4 3.2-1.2 .3-.1 3-1.2 6.3-2.1 .2-.1 3.3-1 3.3-.8 3.2-.8 2.7-.6 .6-.1 3.2-.5 3.3-.5 3.3-.3 3.2-.2 3.3-.1 3.2,.1 3.3,.2 3.3,.3 3.2,.5 3.3,.6 .1,0 6.4,1.6 3.3,1 2,.7 1.3,.4 3.2,1.2 3.3,1.4 .6,.3 2.6,1.1 3.3,1.6 1,.5 25.1,0 0-130-27.1,0-2.3,.6-3.2,.8-3.3,.7-3.2,.6-3.3,.4-1.3,.1-2,.3-3.2,.2-3.3,.1-3.3-.1-3.2-.2-2.6-.3-.7,0-3.3-.5-3.2-.5-3.3-.8-3.2-.8-2-.6-53.5,0 0,126.8z" fill="#0001ff"/>
<path d="M27,281l12.1,0 .9-.5 3.3-1.4 3.1-1.3 .2-.1 3.2-1.4 3.3-1.2 1.6-.6 1.7-.6 3.2-1.1 3.3-1 1.9-.6 1.4-.3 3.2-.9 3.3-.7 3.2-.5 3.3-.5 3.1-.3 .2,0 3.2-.2 3.3-.1 3.2,0 3.3,.2 .5,.1 2.8,.3 3.2,.4 6.6,1.4 3.2,.9 .8,.2 2.5,.8 3.3,1.1 3.2,1.3 .3,.1 3,1.2 3.2,1.5 1.1,.6 2.2,1 3.3,1.7 .9,.5 21.9,0 0-130-21.7,0-1.1,.4-3.3,1-3.3,.9-3.2,.8-.5,.1-2.8,.7-3.2,.6-3.3,.5-3.3,.3-3.2,.2-3.3,.1-3.3,0-3.2-.2-3.3-.3-3.3-.5-3.2-.6-3.3-.7 0-.1-3.2-.8-3.3-1-3.3-1.1-.7-.3-48.2,0 0,126.8z" fill="#0001ff"/>
<path d="M27,281l9.1,0 .7-.3 3.2-1.6 3-1.3 .3-.2 3.3-1.5 3.2-1.3 .7-.3 2.6-1 3.3-1.3 2.8-1 .4-.1 6.6-2 3.2-.8 1.3-.3 2-.5 3.2-.6 3.3-.5 3.3-.3 3.2-.3 6.5,0 3.3,.2 3.3,.3 3.2,.5 3.3,.6 2.3,.6 1,.2 3.2,.9 3.3,1 3.1,1.1 .2,.1 3.2,1.3 3.3,1.4 1.1,.5 2.1,1 3.3,1.6 1.2,.7 2.1,1 3.2,1.8 .7,.4 18.9,0 0-130-17.2,0-5.6,2.1-3.3,1-.5,.1-2.8,.9-3.2,.8-3.3,.8-3.2,.6-1.4,.2-1.9,.3-3.3,.4-3.2,.2-3.3,.1-3.3,0-3.2-.2-3.3-.3-3.3-.5-.1,0-3.1-.6-3.3-.7-3.2-.9-3.3-1-.1-.1-3.2-1-3.2-1.3-2.1-.9-43.6,0 0,126.8z" fill="#0002ff"/>
<path d="M27,281l6.3,0 .2-.1 3.3-1.7 3-1.4 .2-.2 6.6-3 .2-.1 3-1.3 3.3-1.4 1.5-.6 1.8-.6 3.2-1.2 3.3-1.1 1-.3 2.3-.7 3.2-.9 3.3-.7 3.2-.7 1.9-.2 1.4-.3 3.3-.4 3.2-.2 3.3-.1 3.2,0 3.3,.2 3.3,.3 2.7,.5 .5,0 3.3,.6 3.3,.8 3.2,.9 2.6,.9 .7,.2 3.3,1.2 3.2,1.3 1.2,.5 2.1,.9 4.8,2.4 1.7,.8 3.3,1.8 1.1,.7 2.1,1.1 3.3,2 .2,.1 16.1,0 0-130-13.1,0-3.2,1.3-3.3,1.3-1.8,.6-1.4,.6-3.3,1.1-3.3,1-2.3,.6-.9,.3-3.3,.7-3.2,.7-3.3,.5-3.3,.4-3.2,.3-3.3,.1-3.3,0-3.2-.2-3.3-.3-3.3-.4-3.2-.7-3.3-.7-2.3-.7-.9-.2-6.6-2.2-1.9-.9-1.3-.5-3.3-1.4-2.8-1.3-39.6,0 0,126.8z" fill="#0003ff"/>
<path d="M27,281l3.6,0 2.9-1.6 3.3-1.6 3.2-1.7 3.3-1.6 .1,0 6.4-3 .7-.3 2.6-1.1 3.3-1.3 2.2-.8 1-.4 3.3-1.1 3.3-1 2.5-.7 .7-.3 3.3-.8 3.2-.7 3.3-.5 3.3-.4 3.2-.3 3.3-.1 3.2,0 3.3,.2 3.3,.3 3.2,.5 3.3,.7 3.3,.8 1.9,.6 1.3,.3 3.3,1.1 3.3,1.2 1.3,.6 1.9,.8 3.3,1.4 3.2,1.6 3.3,1.7 1.7,1 1.6,.8 3.2,1.9 .9,.6 2.4,1.4 2.9,1.8 13.4,0 0-130-9.5,0-.3,.1-3.3,1.5-3.2,1.4-.7,.2-2.6,1.1-3.2,1.3-2.8,.9-.5,.2-3.3,1-3.2,1-3.3,.8-1.4,.3-1.8,.4-6.6,1-3.2,.3-3.3,.1-3.3,0-3.2-.2-3.3-.3-3.3-.5-3.2-.6-1-.2-2.3-.6-3.2-.9-3.3-1.1-1.9-.7-1.4-.5-3.2-1.3-3.2-1.5-.1,0-3.2-1.5-3.2-1.7-36,0 0,126.8z" fill="#0006ff"/>
<path d="M27,281l1.1,0 2.2-1.2 3.2-1.8 .5-.2 2.8-1.6 3.4-1.7 3.1-1.6 3.3-1.5 .2-.2 3-1.4 3.3-1.4 1-.4 2.3-1 3.2-1.2 2.9-1 .4-.2 3.3-1.1 3.2-.9 3.3-.9 1.1-.2 2.1-.5 3.3-.6 3.3-.4 3.2-.3 3.3-.2 3.2,0 3.3,.2 3.3,.3 3.2,.5 3.3,.7 1.1,.3 2.2,.5 3.2,1 3.3,1.1 1.6,.7 1.7,.6 3.2,1.4 2.6,1.2 .7,.3 3.2,1.6 2.5,1.3 .8,.5 3.3,1.8 1.6,1 1.6,.9 3.3,2.1 .4,.3 2.8,1.7 2.2,1.5 10.9,0 0-130-6.2,0-.3,.2-3.3,1.6-3.2,1.4-.1,.1-3.2,1.4-3.3,1.4-1.1,.4-2.1,.9-3.3,1.2-3.3,1-.4,.2-2.8,.8-3.3,.9-3.2,.7-3.3,.6-1.4,.2-1.9,.3-3.2,.3-3.3,.2-3.3,0-3.2-.2-3.3-.3-1.8-.3-1.5-.2-3.2-.6-3.3-.8-3.2-1-1.9-.6-1.4-.5-3.3-1.2-3.2-1.4-.4-.2-2.9-1.3-3.2-1.6-.6-.4-2.7-1.3-3.3-1.9-32.6,0 0,126.8z" fill="#000bff"/>
<path d="M27,277.8l0,3.1 3.3-1.9 2.3-1.2 .9-.6 3.3-1.7 1.9-1 1.3-.7 3.3-1.7 1.8-.9 1.5-.7 3.2-1.5 2.3-1 1-.5 3.3-1.4 3.2-1.2 .3-.1 3-1.2 3.3-1.1 3.2-.9 .3-.1 3-.8 3.2-.8 3.3-.6 3.3-.4 3.2-.3 3.3-.2 3.2,0 3.3,.2 3.3,.3 3.2,.5 3.3,.7 3.3,.8 1.8,.6 1.4,.4 3.3,1.1 3.3,1.3 .9,.5 2.3,.9 3.3,1.6 3.2,1.6 3.3,1.8 .9,.5 2.4,1.4 3.2,1.9 3.3,2.1 1.8,1.2 1.4,.9 3.3,2.2 .2,.1 9.6,0 0-130-4.6,0-1.9,1-3.3,1.6-1.4,.6-1.9,.9-3.2,1.5-2.1,.9-1.2,.5-3.2,1.3-3.3,1.2-.7,.3-2.6,.8-3.2,1-3.3,.9-2.2,.5-1,.3-3.3,.6-3.3,.5-3.2,.3-3.3,.2-3.3,0-3.2-.2-3.3-.3-3.3-.5-3.2-.6-1.1-.3-2.2-.5-3.2-1-3.3-1.1-1.6-.6-1.7-.7-3.2-1.4-2.6-1.2-.7-.3-3.2-1.6-2.4-1.4-.9-.4-3.3-1.8-1.5-1-31.1,0 0,123.5z" fill="#000eff"/>
<path d="M27,277.8l0,2.4 3.3-1.9 1-.5 2.2-1.3 3.3-1.8 .4-.2 2.8-1.5 3.3-1.7 .1-.1 3.2-1.5 3.2-1.6 .3-.1 3-1.4 3.3-1.4 1.2-.4 2-.9 3.3-1.2 3.3-1.1 .2-.1 3-1 3.3-.9 3.2-.7 3.3-.6 .1-.1 6.4-.8 3.3-.1 3.2,0 3.3,.1 3.3,.4 2.9,.4 .3,.1 3.3,.7 3.3,.8 3.2,1 2,.7 1.3,.5 3.3,1.2 3.2,1.5 .1,.1 3.2,1.4 3.2,1.7 .1,.1 3.2,1.7 2.6,1.5 .7,.4 3.2,2 1.4,.9 1.9,1.2 3.1,2.1 .1,0 3.3,2.2 1.3,1 8.5,0 0-130-3.1,0-.2,.1-3.2,1.7-2.9,1.4-.4,.2-3.3,1.6-3.2,1.5-3.3,1.4-3.2,1.3-1.4,.6-1.9,.7-3.3,1.1-3.2,1-1.3,.4-2,.6-3.2,.8-3.3,.6-3.3,.5-3.2,.3-3.3,.2-3.3,0-3.2-.1-3.3-.3-3.3-.5-3.2-.7-3.3-.8-1.9-.6-1.3-.4-3.3-1.1-3.3-1.3-1-.4-2.2-1-3.3-1.6-3.2-1.6-3.3-1.8-.9-.6-2.4-1.3-3.1-1.9-29.5,0 0,123.5z" fill="#01f"/>
<path d="M27,277.8l0,1.7 3-1.7 .3-.2 3.2-1.9 2.3-1.2 1-.6 3.2-1.7 1.8-1 1.5-.7 3.3-1.7 1.7-.8 1.5-.8 3.3-1.5 2.2-.9 1.1-.5 3.2-1.4 3.3-1.2 .5-.2 2.8-1 3.2-1 3.3-.9 1.3-.4 1.9-.4 3.3-.7 3.3-.5 3.2-.3 3.3-.2 3.2,0 3.3,.1 3.3,.4 3.2,.5 3.3,.7 1.7,.4 1.6,.4 3.2,1 3.3,1.2 1.6,.7 1.7,.7 3.2,1.4 2.3,1.2 1,.4 3.2,1.7 2,1.1 1.3,.7 3.3,2 .9,.5 2.3,1.5 2.8,1.8 .5,.3 3.2,2.1 1.2,.9 2.1,1.4 2.5,1.8 7.3,0 0-130-1.6,0-1.7,.9-3.2,1.7-1.3,.6-2,1.1-3.3,1.6-1.3,.6-1.9,.9-3.3,1.5-2.2,.9-1,.4-3.3,1.3-3.3,1.1-1.1,.4-2.1,.7-3.3,.9-3.2,.8-3.3,.7-1,.1-2.3,.4-3.2,.4-3.3,.2-3.3,0-3.2-.1-3.3-.3-3.3-.6-3.2-.6-3.3-.8-3.2-1-2.1-.8-1.2-.4-3.3-1.3-3.2-1.5-.2,0-3.1-1.5-3.2-1.7-.2-.1-3.1-1.7-2.6-1.6-.7-.3-3.2-2-1.4-.9-28,0 0,123.5z" fill="#0014ff"/>
<path d="M27,277.8l0,1 1.8-1 1.5-1 3.2-1.8 .9-.5 2.4-1.4 3.2-1.7 .3-.2 3-1.6 3.2-1.6 .1,0 3.2-1.7 3.3-1.5 .1,0 3.2-1.5 3.2-1.4 1.2-.4 2.1-.8 3.3-1.2 3.2-1.1 .6-.2 2.7-.7 3.2-.9 6.6-1.2 3.2-.3 1.7-.1 1.6-.1 3.2,0 2.4,.1 .9,0 3.3,.4 3.2,.5 3.3,.7 3.3,.8 2.4,.8 .8,.3 3.3,1.2 3.3,1.3 .9,.5 2.3,1 3.3,1.6 1.1,.7 2.1,1.1 3.3,1.8 .4,.3 2.9,1.7 3.2,2 3.3,2.1 .9,.7 2.3,1.5 2.5,1.8 .8,.5 3.3,2.4 .4,.3 6.1,0 0-130-.1,0-3.2,1.7-2.8,1.5-.4,.3-3.3,1.7-2.7,1.3-.6,.3-6.4,3-.1,0-3.2,1.4-3.3,1.3-1.4,.5-1.9,.7-3.2,1.1-3.3,.9-2.1,.5-1.1,.4-3.3,.7-3.3,.5-3.2,.4-3.3,.2-3.3,0-3.2-.1-3.3-.3-3.3-.5-3.2-.7-2.1-.6-1.2-.3-3.2-.9-3.3-1.2-1.8-.8-1.5-.6-3.2-1.4-2.4-1.2-.9-.4-3.2-1.8-2-1.1-1.3-.7-3.3-1.9-.9-.7-2.3-1.4-2.8-1.8-26.6,0 0,123.5z" fill="#0017ff"/>
<path d="M27,277.8l0,.2 .5-.2 2.8-1.7 2.7-1.6 .5-.3 3.3-1.9 2-1.1 1.2-.7 3.3-1.7 1.5-.8 1.8-.9 3.2-1.7 1.5-.6 1.8-1 3.3-1.5 2-.8 1.2-.6 3.3-1.3 3.3-1.2 .5-.2 2.7-.9 3.3-1 3.2-.8 2.4-.5 .9-.2 3.3-.6 3.2-.4 3.3-.2 3.2,0 3.3,.2 3.3,.3 3.2,.5 1.7,.4 1.6,.3 3.3,.9 3.2,1.1 2.6,.9 .7,.3 3.3,1.4 3.2,1.5 .2,.1 3.1,1.5 3.1,1.8 .1,0 3.3,1.9 2.1,1.3 1.2,.7 3.2,2.1 .8,.4 2.5,1.7 2.3,1.6 .9,.6 3.3,2.4 .4,.3 2.9,2 1.5,1.2 5,0 0-129.3-3.3,1.9-1.3,.6-1.9,1.1-3.3,1.7-.9,.5-5.6,2.8-3.3,1.5-3.2,1.4-2.1,.8-1.2,.5-3.3,1.3-3.2,1.1-1.4,.3-1.9,.7-3.2,.8-3.3,.7-3.3,.6-3.2,.4-1.7,.1-1.6,.1-3.3,.1-3.2-.2-.4,0-2.9-.3-3.3-.5-3.2-.6-3.3-.9-2.9-1-3.6-1.2-3.3-1.4-1.2-.6-2-.9-3.3-1.6-1.3-.7-1.9-1.1-3.3-1.9-.5-.3-2.8-1.6-2.5-1.7-.7-.4-4.2-2.8-25.2,0 0,123.5z" fill="#001aff"/>
<path d="M149.3,277.8l1.7,1.1 2.7,2.1 3.8,0 0-128.4-3,1.6-.3,.2-3.2,1.8-2.5,1.3-.8,.4-3.3,1.7-2.3,1.2-.9,.4-3.3,1.6-2.8,1.2-.4,.2-3.3,1.4-3.3,1.2-1.2,.4-2,.8-3.3,1-3.2,.9-2.7,.6-.6,.1-3.3,.6-3.2,.5-3.3,.2-3.3,.1-3.2-.1-3.3-.4-3.3-.5-2.3-.5-.9-.2-3.3-.8-3.2-1.1-3-1.2-.3-.1-3.3-1.3-3.2-1.6-.5-.2-2.8-1.4-3.2-1.8-.1,0-3.2-1.9-2.2-1.4-1.1-.6-3.2-2.1-.8-.6-2.5-1.6-2.3-1.6-23.8,0 0,126.3 3.3-2 1.4-.8 1.8-1.1 3.3-1.9 .5-.3 2.7-1.5 3.2-1.7 .1-.1 3.3-1.7 2.8-1.4 .4-.3 3.3-1.6 3-1.4 .3-.1 3.2-1.5 3.3-1.3 .9-.4 2.4-.9 3.2-1.1 3.3-1 .7-.2 2.5-.7 3.3-.7 3.3-.6 3.2-.4 3.3-.2 3.2-.1 3.3,.2 3.3,.3 3.2,.5 3.3,.8 3.3,.9 3.2,1 3.3,1.3 2.2,.9 1.1,.5 3.2,1.5 2.4,1.3 .9,.4 3.2,1.8 1.8,1.1 1.5,.8 3.3,2.1 .5,.3 2.7,1.8 2.2,1.4 1.1,.8 3.2,2.2 .4,.3 2.9,2z" fill="#001fff"/>
<path d="M150.5,277.8l.5,.3 3.2,2.5 .6,.4 2.7,0 0-127.6-1.6,.8-1.7,1-3.2,1.9-.9,.4-2.4,1.3-3.3,1.7-.4,.3-2.8,1.4-3.3,1.6-.5,.2-2.7,1.3-3.3,1.4-1.6,.5-1.7,.8-3.2,1.1-3.3,1.1-1.1,.3-2.1,.6-3.3,.8-3.3,.6-3.2,.5-3.3,.2-3.3,.1-3.2-.1-3.3-.3-3.3-.5-3.2-.7-3.3-1-.7-.2-2.5-.8-3.3-1.3-2.6-1.2-.7-.2-3.2-1.6-2.7-1.4-.6-.3-3.2-1.8-2-1.1-1.3-.8-3.3-2.1-.6-.4-2.6-1.7-2.3-1.6-1-.6-3.3-2.3-.3-.3-22.5,0 0,125.6 3.3-2 .1-.1 3.1-1.9 2.4-1.4 .9-.5 3.2-1.9 1.6-.8 1.7-1 3.3-1.7 1-.5 2.2-1.3 3.3-1.6 .9-.4 2.4-1.2 3.2-1.4 1.5-.7 1.8-.7 3.3-1.3 3.2-1.2 .2,0 3.1-1 3.2-.9 3.3-.8 3.2-.5 .1-.1 3.2-.4 3.3-.3 3.2,0 3.3,.1 3.3,.4 1.5,.3 1.7,.2 3.3,.7 3.3,1 3.2,1.1 .6,.2 2.7,1 3.3,1.5 1.5,.7 1.7,.8 3.3,1.8 1.2,.7 2,1.1 3.3,2 .3,.2 3,1.8 2,1.4 4.8,3.2 2.9,2.1 1.7,1.2 1.6,1.1z" fill="#0026ff"/>
<path d="M151.7,277.8l2.5,1.9 1.7,1.3 1.6,0 0-126.8-.1,0-3.2,1.9-2.5,1.4-.7,.4-3.3,1.9-1.9,1-1.4,.7-3.2,1.7-1.7,.8-1.6,.8-3.2,1.5-2.2,.9-1.1,.6-3.3,1.3-3.2,1.2-3.3,1.1-3.2,1-3.3,.8-3,.6-.3,0-3.2,.5-3.3,.3-3.3,.1-3.2-.1-3.3-.3-3-.5-.3-.1-3.2-.7-3.3-.9-3.2-1.1-1.2-.5-2.1-.8-3.3-1.4-2-1.1-1.2-.5-3.3-1.8-1.5-.9-1.7-.9-3.3-2-.5-.3-2.8-1.8-2.2-1.5-1-.7-3.3-2.2-.4-.4-2.9-2-1.6-1.2-21.2,0 0,124.8 2.2-1.3 1.1-.7 3.2-2 1-.6 2.3-1.3 3.2-1.9 3.3-1.9 2.6-1.3 .7-.5 3.2-1.7 2.2-1.1 1.1-.6 3.3-1.6 2.3-1.1 .9-.4 3.3-1.4 3.3-1.3 .2-.1 3-1.2 3.3-1 3.2-1 .4,0 2.9-.8 3.3-.6 3.2-.5 3.3-.2 3.2-.1 3.3,.1 3.3,.4 3.2,.5 3.3,.8 1.2,.4 2.1,.5 3.2,1.1 3.3,1.4 .5,.2 2.8,1.2 3.2,1.6 .7,.4 2.6,1.4 3.2,1.9 .1,0 3.2,2 2,1.3 1.3,.7 3.2,2.2 .4,.3 2.9,2 1.7,1.2 4.5,3.3 .3,.2 3.3,2.5z" fill="#002cff"/>
<path d="M152.8,277.8l1.4,1 2.7,2.2 .6,0 0-126-3.3,2-.9,.5-2.3,1.4-3.3,1.8-.1,.1-3.2,1.7-2.9,1.5-.3,.2-3.3,1.6-3,1.4-.2,.2-3.3,1.5-3.3,1.3-.6,.3-2.6,1-3.3,1.2-3.2,.9-.5,.2-2.8,.7-3.3,.7-3.2,.5-3.3,.3-3.3,.1-3.2-.1-3.3-.3-3.3-.5-3.2-.8-2.3-.6-1-.3-3.2-1.1-3.3-1.4-1.1-.5-2.2-.9-3.2-1.7-1.2-.7-2.1-1.1-3.2-1.9-.4-.2-2.9-1.8-3.3-2.1-3.2-2.2-.5-.4-2.8-1.9-1.8-1.4-1.5-1-2.9-2.2-19.9,0 0,124.1 .9-.6 2.4-1.5 2.9-1.8 .3-.2 3.3-2 1.8-1 1.4-.9 3.3-1.9 .9-.4 2.4-1.4 3.2-1.8 .3-.1 3-1.6 3.3-1.6 .1-.1 3.1-1.5 3.3-1.4 .6-.3 2.7-1.1 3.2-1.3 2.7-.8 .6-.3 3.2-1 3.3-.8 3.3-.7 3.2-.4 .9-.1 2.4-.2 3.2-.1 3.3,.1 1.6,.2 1.7,.2 3.2,.5 3.3,.8 3.3,.9 2.2,.9 1,.3 3.3,1.3 3.3,1.5 0,.1 3.2,1.6 3,1.6 .3,.2 3.2,1.9 1.9,1.2 1.4,.8 3.3,2.2 .3,.3 2.9,1.9 1.8,1.3 1.5,1 3.1,2.2 .1,.2 3.3,2.4 .9,.7 2.4,1.8z" fill="#03f"/>
<path d="M154,277.8l.2,.2 3.3,2.6 0-124.7-2.7,1.6-.6,.3-3.2,2-1.8,1-1.5,.8-3.3,1.9-1,.5-2.2,1.2-3.3,1.7-.7,.3-2.5,1.3-6.6,3-3.2,1.3-2.8,1-.5,.1-3.2,1.1-3.3,.9-3.3,.7-2.6,.4-.6,.1-3.3,.4-3.3,.1-3.2-.1-3.3-.3-1-.2-2.3-.4-3.2-.7-3.3-1-3.2-1.1 0-.1-3.3-1.3-3.3-1.5-.7-.4-2.5-1.3-3.3-1.8-.2-.2-3-1.8-2.3-1.4-1-.6-3.9-2.6-2.6-1.9-2-1.4-1.3-.9-3.2-2.4-.1,0-3.2-2.5-.9-.7-18.7,0 0,123.3 3.3-2.1 3.2-2 3.3-2 .3-.2 2.9-1.8 2.6-1.4 .7-.5 3.3-1.9 1.7-.9 1.5-.9 3.3-1.7 1.3-.7 5.2-2.6 1.4-.6 1.9-.9 3.3-1.4 2.4-.9 .8-.4 3.3-1.2 3.2-1 2.7-.7 .6-.2 3.3-.7 3.2-.5 3.3-.3 3.2-.1 3.3,.1 3.3,.3 3.2,.6 3.2,.8 .1,0 3.3,1 3.2,1.2 2.5,1.1 .8,.3 3.3,1.5 2.6,1.4 .6,.3 3.3,1.8 1.8,1.1 1.4,.9 3.3,2.1 .4,.3 2.9,1.8 1.9,1.5 1.3,.8 3.3,2.4 3.2,2.4 1.2,.8 2.1,1.6 2.1,1.7 1.2,.9z" fill="#0039ff"/>
<path d="M155.1,277.8l2.4,1.9 0-123-1.3,.8-2,1.2-3.2,2-.1,.1-3.2,1.8-2.5,1.4-.8,.5-3.2,1.8-1.9,.9-1.4,.8-3.2,1.7-1.9,.8-1.4,.7-3.3,1.5-2.6,1.1-.6,.2-3.3,1.3-3.2,1.1-2.3,.6-1,.3-3.3,.8-3.2,.6-3.3,.3-3.3,.2-3.2-.1-3.3-.3-3.3-.6-3.2-.8-1.3-.4-2-.6-3.2-1.2-3.3-1.4-.1,0-3.2-1.5-3.2-1.8-.1,0-3.2-1.8-2.2-1.5-1-.5-3.3-2.2-.8-.5-2.5-1.7-2.2-1.5-1-.8-3.3-2.4-.2-.1-3.1-2.3-1.2-1-2-1.5-2.2-1.7-17.4,0 0,122.5 3.3-2.1 .3-.2 2.9-1.8 3.3-2.1 3.2-2 1.1-.5 2.2-1.4 3.3-1.9 3.2-1.9 2.6-1.4 .7-.4 3.3-1.7 3.2-1.6 3.3-1.6 2.6-1.1 .7-.3 3.2-1.4 3.3-1.2 1.2-.4 2-.7 3.3-.9 3.3-.8 3.2-.5 4.4-.4 4.6,0 .8,.1 3.3,.3 3.2,.6 3.3,.8 3.3,1 1.3,.5 1.9,.7 3.3,1.4 2.2,1.2 1.1,.4 3.2,1.8 1.7,1 1.6,.9 3.2,2 .6,.3 2.7,1.8 2.2,1.5 1.1,.7 3.2,2.3 .3,.3 3,2.1 1.4,1.1 1.8,1.4 2.5,1.8 .8,.7 3.3,2.6 3.2,2.6z" fill="#0040ff"/>
<path d="M156.1,277.8l1.4,1 0-121.2-3.3,2-1.8,1.2-1.4,.8-3.3,2-.7,.4-2.6,1.5-3.1,1.7-.1,.1-3.3,1.8-2.7,1.4-.5,.3-3.3,1.6-2.9,1.4-.4,.1-3.2,1.5-3.3,1.2-1,.4-2.2,.8-3.3,1-3.3,.8-3.2,.6-.6,0-2.7,.4-3.3,.2-3.2-.1-3.3-.3-.7-.2-2.6-.4-3.2-.7-3.3-1.1-2.6-1-.6-.2-3.3-1.5-3.1-1.5-.2-.1-3.2-1.8-2.4-1.4-.9-.5-3.2-2.1-1-.7-2.3-1.4-2.5-1.8-.8-.5-3.2-2.3-.6-.4-2.7-2.1-1.6-1.2-1.7-1.3-2.5-2-.7-.5-3.3-2.6-.1-.1-16.2,0 0,121.7 2.3-1.5 1-.6 3.2-2.1 .9-.5 2.4-1.6 2.8-1.6 .4-.4 3.3-2 1.6-.9 1.7-1 3.2-1.9 .7-.4 2.6-1.5 3.3-1.7 3.2-1.7 3.2-1.5 .1-.1 3.3-1.5 3.2-1.4 .8-.3 2.5-1 3.2-1.1 3.3-1 .8-.2 2.5-.6 3.2-.6 3.3-.4 3.2-.1 3.3,.1 3.3,.3 3.2,.6 2.7,.7 .6,.2 3.3,1 3.2,1.3 1.8,.8 1.5,.6 3.3,1.7 1.6,1 1.6,.8 3.3,1.9 .7,.5 5,3.2 .8,.6 3.3,2.3 .5,.4 2.7,1.9 1.8,1.4 1.5,1 2.8,2.2 .4,.4 3.3,2.5 .4,.3 2.9,2.3 1.2,1 2,1.6z" fill="#0046ff"/>
<path d="M157.2,277.8l.3,.2 0-119.5-3.3,2.1-.3,.2-2.9,1.8-2.4,1.4-.9,.6-3.3,1.9-1.2,.7-2,1.2-3.3,1.8-.5,.3-2.7,1.5-3.3,1.7-.2,.1-3.1,1.5-3.2,1.4-.7,.3-2.6,1.1-3.2,1.2-3.1,.9-.2,.1-3.3,.9-3.2,.7-3.3,.4-3.3,.2-3.2,0-3.3-.4-3.3-.5-3.2-.9-1.4-.5-1.9-.5-3.2-1.3-3-1.4-.3-.1-3.3-1.7-2.5-1.4-.7-.5-3.3-1.9-1.3-.9-1.9-1.2-3-2.1-.3-.2-3.3-2.3-.9-.7-2.3-1.7-2.1-1.5-1.2-1-3-2.3-.3-.2-3.2-2.6-.6-.5-2.7-2.1-1.2-1.1-15.1,0 0,120.9 3.3-2.1 2.7-1.8 .5-.3 3.3-2.1 1.3-.8 1.9-1.3 6.6-4 2.1-1.3 1.1-.7 3.3-1.8 1.2-.7 2.1-1.2 3.2-1.7 .7-.3 2.6-1.4 3.3-1.5 .8-.4 2.4-1.1 3.3-1.3 2.3-.9 4.2-1.4 3.3-.8 3.2-.6 3.2-.4 .1,0 3.2-.2 3.3,.1 .9,.1 2.4,.2 3.2,.6 3.3,.9 3.3,1.1 1.1,.4 2.1,.9 3.3,1.5 1.7,.9 1.6,.8 3.2,1.9 .9,.6 2.4,1.4 2.7,1.8 .5,.3 3.3,2.2 1,.7 2.3,1.6 2.1,1.7 1.1,.8 6.6,5 .8,.7 2.4,1.9 1.6,1.3 1.7,1.3 2.3,2 .9,.7z" fill="#004dff"/>
<path d="M154.5,274.5l3,2.6 0-117.7-2.1,1.4-1.2,.7-3.2,2.1-.7,.4-2.6,1.6-2.7,1.6-.6,.4-3.2,1.9-1.7,1-4.8,2.7-3.3,1.8-3.3,1.6-3.2,1.6-3.3,1.4-1.8,.6-1.4,.6-3.3,1.2-3.3,.9-2.9,.6-.3,.1-3.3,.5-3.3,.2-3.2,0-3.3-.3-2.4-.5-.9-.1-3.2-.9-3.3-1.1-2.7-1.2-.5-.2-3.3-1.5-2.8-1.5-.5-.3-3.2-1.8-1.7-1.1-1.6-1-3.2-2.2-.2-.1-3.1-2.2-1.4-1.1-1.9-1.2-2.5-2-.7-.5-3.3-2.6-.2-.1-3.1-2.4-1-.9-2.2-1.8-1.8-1.5-1.5-1.2-2.4-2-13.9,0 0,120.2 3.3-2.2 1.4-1 1.8-1.2 3.2-2 .1-.1 3.2-2.2 1.8-1 1.5-1 3.3-2 .3-.3 2.9-1.7 2.6-1.5 .7-.5 3.3-1.8 1.7-.9 1.5-1 3.3-1.7 1.3-.6 2-1 3.2-1.5 1.8-.8 1.5-.6 3.2-1.3 3.3-1.1 .9-.2 2.4-.7 3.2-.7 3.3-.4 3.2-.2 3.3,0 3.3,.4 3.2,.6 3.3,.9 .2,.1 3.1,1 3.2,1.4 1.7,.8 1.6,.8 3.3,1.7 1.2,.8 2,1.2 3.2,2.1 .1,0 3.2,2.1 1.5,1.1 1.8,1.2 2.7,2 .6,.4 3.2,2.5 .5,.4 2.8,2.1 1.3,1.2 1.9,1.4 3.3,2.7 2.9,2.3 .4,.4 3.2,2.7z" fill="#05f"/>
<path d="M155.5,274.5l2,1.6 0-115.8-.7,.5-2.6,1.7-2.4,1.5-.8,.6-3.3,2.1-1,.5-2.3,1.5-2.9,1.8-.3,.2-3.3,1.9-2,1.2-1.2,.7-3.3,1.8-1.4,.7-1.9,1-3.2,1.6-1.4,.6-1.9,.9-3.2,1.4-2.9,1-.4,.1-3.3,1.1-3.2,.8-3.3,.5-3.3,.3-3.2-.1-3.3-.3-3.3-.6-3.2-.9-2.5-.9-.8-.2-3.2-1.4-3.2-1.7-.1,0-3.3-1.8-2.2-1.4-1-.6-3.3-2.1-.7-.5-2.5-1.8-2.1-1.5-1.2-.8-3.2-2.5-.1,0-3.2-2.5-.9-.7-2.4-1.9-1.6-1.3-1.7-1.3-2.3-2-.9-.7-3-2.6-.3-.2-3.3-2.7-.2-.3-12.8,0 0,119.3 3.3-2.2 .2-.1 3-2.1 1.8-1.1 1.5-1.1 3.2-2.1 .2-.1 3.1-2 2-1.3 1.3-.8 3.2-2 .7-.4 2.6-1.6 2.8-1.6 .5-.3 3.2-1.9 2.1-1.1 1.2-.7 3.3-1.7 1.7-.9 1.5-.7 3.3-1.5 2.5-1 .7-.3 3.3-1.2 3.3-1 3.2-.7 .4,0 2.9-.5 3.2-.3 3.3,.1 3.3,.3 1.5,.4 1.7,.3 3.3,.9 3.3,1.2 1.8,.8 1.4,.6 3.3,1.7 1.7,.9 1.6,.9 3.2,2 .5,.4 2.8,1.8 2.1,1.5 1.1,.7 3.3,2.4 .1,.1 3.2,2.4 1.1,.8 2.1,1.7 2,1.6 1.3,1 2.7,2.3 .5,.3 3.3,2.7 .2,.2 3.1,2.6 .7,.6 2.5,2.1z" fill="#0060ff"/>
<path d="M156.6,274.5l.9,.7 0-114-4.2,2.8-2.3,1.6-2.6,1.6-.7,.5-4.4,2.8-2.1,1.4-3.1,1.9-.2,.1-3.2,1.9-2.2,1.2-1.1,.7-3.3,1.8-1.5,.7-1.7,1-3.3,1.6-1.8,.7-1.4,.7-3.3,1.3-3.3,1-.8,.3-2.4,.6-3.3,.7-3.3,.3-3.2,0-3.3-.3-3.3-.7-2.2-.6-1-.3-3.3-1.2-3.2-1.6-.5-.2-2.8-1.4-3-1.9-.3-.1-3.2-2-1.5-1.1-1.8-1.2-2.8-2-.4-.3-3.3-2.4-.7-.6-2.6-2-1.5-1.3-1.7-1.2-2.4-2-.9-.7-3-2.5-.3-.2-3.2-2.8-.4-.3-2.9-2.4-.9-.9-2.4-1.9-1.3-1.3-11.7,0 0,118.5 2.2-1.5 1.1-.7 3.2-2.3 .5-.2 2.8-2 2-1.3 1.2-.9 3.3-2.1 .4-.3 2.9-1.9 2.1-1.3 1.1-.8 3.3-2 .8-.4 2.5-1.6 2.9-1.7 .3-.2 3.3-1.9 3.3-1.8 3.2-1.7 2-.9 1.3-.6 3.2-1.5 3.2-1.1 .1-.1 3.3-1.1 3.2-.8 3.3-.6 3.2-.3 3.3,.1 3.3,.3 3.2,.6 3.3,1 2,.9 1.3,.4 3.2,1.5 2.4,1.3 .9,.5 3.3,1.9 1.2,.8 2,1.3 2.9,2 .4,.2 3.2,2.4 .9,.7 2.4,1.7 1.9,1.5 1.4,1.1 2.7,2.1 .5,.5 3.3,2.6 .2,.2 3,2.5 .9,.8 2.4,2 1.4,1.2 3.8,3.2 1.3,1.2z" fill="#006bff"/>
<path d="M154.1,271.2l.1,.2 3.3,2.9 0-112.1-3.3,2.2-3.2,2.2-1,.6-2.3,1.6-2.6,1.7-.7,.5-3.2,2.1-3.3,2.1-3,1.8-.2,.1-3.3,2-2,1.1-1.3,.8-3.2,1.8-1.5,.7-1.8,1-3.2,1.5-1.9,.8-1.4,.6-3.3,1.2-3.2,1-2.2,.4-1.1,.3-3.3,.4-3.2,0-3.3-.3-1.8-.4-1.5-.3-3.2-.9-3.3-1.4-1.3-.6-1.9-1-3.3-1.8-.7-.5-2.6-1.5-2.5-1.8-.7-.4-3.3-2.3-.6-.5-2.6-2-1.6-1.2-1.7-1.3-2.5-2-.8-.6-3.2-2.7-3.3-2.7-.6-.5-2.7-2.3-1.1-.9-2.1-1.9-1.6-1.4-1.7-1.4-2.1-1.9-1.2-1-2.4-2.2-10.6,0 0,117.7 1-.7 2.3-1.6 2.4-1.6 .8-.7 3.9-2.6 2.6-1.9 3.3-2.2 3.3-2.1 .4-.3 2.8-1.9 2.2-1.3 1.1-.8 3.3-2.1 .7-.4 2.5-1.6 2.9-1.7 .4-.2 3.3-1.9 2-1.1 1.2-.7 3.3-1.7 2-.8 1.2-.7 3.3-1.4 3.6-1.2 2.9-.9 3.3-.7 3.2-.3 3.3,0 3.3,.3 3.2,.7 2.6,.9 .7,.2 3.3,1.3 3.2,1.7 .1,.1 3.2,1.7 2.3,1.5 1,.6 3.2,2.2 .6,.4 2.7,1.9 1.8,1.4 4.2,3.3 .5,.3 3.3,2.6 .3,.3 2.9,2.4 1,.8 2.3,1.9 3.2,2.8 2.2,1.9 1.1,.9 2.6,2.3 .7,.5z" fill="#0075ff"/>
<path d="M155.2,271.2l2.3,2.1 0-110.2-1.3,.9-2,1.4-2.7,1.8-.5,.5-6.6,4.4-2.4,1.7-.8,.5-3.3,2.2-.9,.5-2.3,1.6-2.8,1.6-.5,.4-3.3,2-1.6,.9-1.6,1-3.3,1.8-1,.5-2.2,1.2-3.3,1.5-1.4,.5-1.9,.8-3.2,1.2-3.3,.7-3.3,.5-2.1,0-1.1,.1-.4-.1-2.9-.2-3.3-.7-3.2-1.1-2.7-1.2-.6-.2-3.2-1.7-2.1-1.3-1.2-.7-3.3-2.2-.5-.4-2.7-1.9-1.8-1.4-1.5-1-2.7-2.2-.5-.4-3.3-2.6-.3-.2-3-2.5-.9-.8-2.3-1.9-1.5-1.4-1.8-1.4-2-1.8-1.3-1.1-3.2-2.8-2.9-2.6-.4-.3-3.2-3-.1,0-3.2-2.9-.3-.3-9.5,0 0,116.8 3.3-2.3 1.1-.7 2.1-1.6 2.5-1.7 .8-.6 3.2-2.3 3.3-2.2 2-1.4 1.3-.9 3.2-2.2 .3-.1 3-2.1 1.9-1.2 1.4-.9 3.2-2.1 .5-.3 2.8-1.8 2.5-1.4 .8-.5 3.2-1.9 1.6-.8 1.7-1 3.2-1.7 1.5-.6 1.8-.9 3.3-1.3 3.2-1 .2-.1 3.1-.7 3.2-.5 3.3,0 3.3,.3 3.6,.9 2.9,1 3.3,1.5 1.4,.8 1.8,.9 3.3,2.1 .4,.3 2.9,1.8 1.8,1.4 1.4,.9 3,2.3 .3,.2 3.2,2.6 .6,.5 2.7,2.1 1.3,1.2 2,1.5 1.9,1.7 1.3,1.1 2.5,2.1 .8,.7 3,2.6 .2,.2 3.3,2.9 .2,.2 3.1,2.7 .5,.5 2.7,2.4z" fill="#0080ff"/>
<path d="M156.3,271.2l1.2,1.1 0-108.2-3.3,2.3-1.2,.8-2,1.6-2.5,1.7-.8,.6-3.3,2.2-.6,.5-2.6,1.8-3.3,2.2-3.2,2.2-.5,.2-2.8,2-2.2,1.3-1.1,.8-3.2,2-.9,.5-2.4,1.5-3.2,1.7-3.3,1.8-3.2,1.4-.1,.1-3.2,1.3-3.3,1-3.3,.6-3.2,.1-3.3-.2-3.3-.8-3.2-1.2-1.6-.9-1.7-.7-4-2.5-2.5-1.6-2.2-1.6-1.1-.7-3.2-2.5-.1-.1-3.2-2.5-.8-.8-2.4-1.9-1.5-1.3-1.8-1.4-2.1-1.8-1.2-1-2.5-2.3-.7-.6-3-2.7-.3-.2-3.3-2.9-.1-.1-3.1-2.8-.5-.4-2.8-2.6-.8-.7-2.5-2.2-1-1.1-2.2-1.9-1.4-1.3-8.4,0 0,116 3.1-2.2 .2-.2 3.2-2.3 3.3-2.4 2.4-1.7 .8-.6 3.3-2.3 .4-.3 2.9-2 1.8-1.2 1.4-1.1 3.3-2.2 3.3-2.3 1.5-1 1.7-1.2 3.2-2 .1-.1 3.3-2.1 1.7-1 1.5-1 3.3-1.9 .7-.4 2.5-1.5 3.3-1.6 .3-.2 3-1.4 3.2-1.2 2.2-.6 1.1-.4 3.2-.6 3.3-.1 3.3,.4 2.6,.7 .6,.2 3.3,1.2 3.3,1.7 .2,.1 3,1.8 2.2,1.5 1.1,.7 3.3,2.3 .2,.3 3,2.2 1.2,1 2.1,1.6 1.9,1.6 3.9,3.3 .7,.6 3.1,2.7 .2,.1 3.2,2.8 .3,.3 3,2.6 .7,.6 2.5,2.3 1.1,1 2.2,1.9 1.4,1.4 1.9,1.6 1.7,1.6 1.5,1.4z" fill="#008aff"/>
<path d="M157.4,271.2l.1,.2 0-106.3-3,2.1-.3,.3-3.2,2.4-1,.6-2.3,1.7-3.3,2.4-3.2,2.3-.2,.1-3.1,2.2-1.5,1-1.7,1.3-2.9,2-.4,.3-3.3,2.2-1.1,.8-2.1,1.4-2.8,1.8-.5,.3-3.2,2.1-1.6,.8-1.7,1.1-3.3,1.8-.9,.4-2.3,1.2-3.3,1.3-3.2,.8-.1,0-3.2,.3-3.3-.3-.2,0-3.1-.8-3.2-1.5-1.6-1-1.7-.9-3.2-2.2-.2-.2-3.1-2.2-1.1-1-2.2-1.6-1.9-1.6-3.9-3.3-.7-.6-3-2.7-.2-.1-3.3-2.9-.2-.2-3.1-2.7-.5-.5-2.7-2.5-.9-.8-2.4-2.1-1.2-1.2-2.1-1.8-1.4-1.4-1.8-1.6-1.7-1.6-1.6-1.4-1.9-1.9-1.4-1.2-2.1-2.1-1.1-.9-2.4-2.3-7.4,0 0,115.1 1.9-1.3 1.4-1.1 3-2.2 .2-.2 3.3-2.4 1-.7 2.2-1.7 2.2-1.5 4.4-3.2 .1,0 3.1-2.4 1.4-.9 1.9-1.4 2.7-1.9 .6-.4 3.2-2.3 .8-.5 2.5-1.8 2.2-1.4 1.1-.8 3.2-2.2 .6-.3 2.7-1.8 3.2-2 3.3-2 1.5-.7 1.8-1 3.2-1.6 2.1-.6 1.2-.6 3.2-.8 3.3-.3 3.3,.4 3.2,1 .5,.3 2.8,1.2 3.3,2 3.2,2.1 1.4,1.1 1.9,1.4 2.3,1.9 1,.7 3,2.6 .2,.1 3.3,2.8 .3,.3 2.9,2.5 .8,.7 2.5,2.2 1.1,1.1 2.2,1.8 1.5,1.5 1.7,1.5 1.8,1.7 1.5,1.3 2.1,1.9 1.1,1.1 2.4,2.2 .9,.8 2.7,2.5 .6,.5 2.9,2.7 .3,.3z" fill="#0095ff"/>
<path d="M155,268l2.5,2.3 0-104.2-1.6,1.1-1.7,1.4-2.6,1.9-.6,.5-3.3,2.4-.5,.4-2.8,2.1-1.6,1.1-1.6,1.3-2.7,1.9-.6,.5-3.2,2.4-.6,.4-2.7,2-1.8,1.3-1.5,1.1-2.9,2.1-.3,.3-3.3,2.3-.9,.6-2.3,1.8-2.4,1.5-.9,.8-3.3,2.1-.5,.4-2.7,1.8-2.7,1.4-.6,.5-3.3,1.6-3.2,.7-3.3-.2-3.3-1.3-1.6-1.3-1.6-.9-2.9-2.3-.4-.3-3.2-2.7-.3-.3-3-2.5-.7-.8-2.6-2.2-1-1-2.2-1.9-1.3-1.3-2-1.8-3.2-3-1.9-1.8-1.4-1.2-2-2-1.3-1.1-2.2-2.1-1-1-2.5-2.3-.8-.8-2.6-2.5-.7-.5-2.7-2.7-.5-.4-3-2.8-.3-.3-3.1-3-.2-.1-3.2-3.1-.1-.1-3.2-3-.2-.2-6.3,0 0,114.2 .7-.4 2.6-2 1.7-1.3 1.5-1.2 2.9-2.1 3.6-2.7 .7-.5 2.6-2 1.8-1.2 1.5-1.2 3.2-2.4 3.3-2.5 .7-.5 2.6-1.9 1.8-1.3 1.4-1.1 3-2.1 .3-.3 3.3-2.4 .9-.6 2.3-1.8 2.2-1.5 1.1-.8 3.2-2.3 .2-.1 3.1-2.2 1.7-1 1.6-1.3 3.2-2 .1,0 3.2-1.9 3.2-1.4 3.3-.9 3.3,.5 .7,.4 2.5,1 3.2,2.3 .1,.1 3.3,2.4 .7,.8 2.5,2 1.3,1.2 2,1.7 1.6,1.5 1.7,1.4 1.9,1.9 1.3,1.1 2.3,2.2 1,.8 2.5,2.4 .7,.7 2.8,2.5 .5,.5 2.9,2.8 .4,.3 3.1,3 .1,0 3.3,3.1 .1,.1 3.1,3 .3,.2 3,2.9 .4,.4 2.9,2.7 .6,.6 2.6,2.4z" fill="#00a0ff"/>
<path d="M156.1,268l1.4,1.3 0-102.2-.2,.1-3.1,2.4-1.1,.9-2.1,1.7-2.2,1.6-1.1,.9-3.1,2.3-.2,.2-3.2,2.5-.8,.5-2.5,2-1.7,1.3-1.5,1.3-2.6,2-.7,.5-3.3,2.6-.1,.1-3.1,2.5-1,.7-2.3,2-1.6,1.3-1.6,1.5-2.2,1.8-1.1,1-2.5,2.2-.8,1-2.3,2.2-.9,1.6-1.4,1.7-.9,3.3 .6,3.2 1.7,3 .1,.2 2.3,3.3 .8,.8 1.9,2.5 1.4,1.3 1.6,1.9 1.7,1.6 1.4,1.6 1.8,1.8 1.4,1.5 1.9,1.8 1.3,1.5 1.9,1.8 1.3,1.4 2,1.9 1.3,1.3 2,1.9 1.3,1.4 1.9,1.8 1.5,1.5 1.8,1.7 3.2,3.2 1.6,1.5 1.7,1.6 1.7,1.7 1.6,1.5 1.7,1.8 1.5,1.4zM27,261.5l0,2.8 3.3-2.4 .5-.4 2.7-2.1 1.5-1.2 1.8-1.3 2.5-1.9 .7-.6 3.3-2.5 .2-.1 3.1-2.4 1.1-.9 2.1-1.7 2.2-1.6 1.1-.9 3-2.3 .3-.2 3.2-2.6 .7-.4 2.6-2.2 1.5-1.1 1.8-1.4 2.3-1.9 .9-.8 3.1-2.4 .2-.2 3.2-2.8 .4-.2 2.9-2.7 .8-.6 3.3-3.3 2.4-3.1 .2-.1 1.5-3.2 0-3.3-1.4-3.3-.3-.2-1.8-3-1.4-1.5-1.3-1.7-2-2.2-.9-1.1-2.4-2.4-.6-.9-2.6-2.5-.6-.7-3.2-3.2-2.7-2.8-.5-.5-2.8-2.7-.5-.6-2.8-2.6-.5-.6-2.7-2.6-.6-.6-2.7-2.6-.7-.7-2.6-2.5-.7-.8-2.5-2.4-.8-.8-2.5-2.3-.9-.9-2.4-2.3-.9-1-2.3-2.1-1.1-1.2-2.2-2-1.2-1.2-5.3,0 0,107.2z" fill="#00abff"/>
<path d="M157.2,268l.3,.3 0-100.1-3,2.3-.3,.2-3.2,2.6-.6,.5-2.7,2.1-1.4,1.1-1.9,1.5-2.1,1.7-1.1,1-2.9,2.3-.4,.3-3.2,2.7-.3,.3-3,2.5-.9,.7-2.4,2.1-1.3,1.1-1.9,1.9-1.7,1.4-1.6,1.7-1.6,1.6-1.6,1.9-1.3,1.3-2,2.8-.4,.4-1.7,3.3-.7,3.3 .2,3.2 1,3.2 1.6,3 .1,.3 2.2,3.3 1,1.1 1.4,2.1 1.8,2 .9,1.2 2.4,2.6 .5,.7 2.7,3 .3,.3 3,3.2 3.1,3.2 .2,.2 3,3.1 .2,.2 3,3.1 .3,.2 2.9,3 .3,.3 3,2.9 .3,.4 2.9,2.9 .4,.3 2.9,3 .3,.3zM27,261.5l0,1.9 2.5-1.9 .8-.6 3.2-2.5 .2-.2 3.1-2.4 1.1-.8 2.1-1.8 2-1.4 1.3-1.1 2.8-2.2 .5-.4 3.2-2.6 .3-.3 3-2.4 1.1-.8 2.2-1.9 1.7-1.3 1.5-1.4 2.4-1.9 .9-.8 2.9-2.5 .4-.3 3.1-2.9 .1-.1 3.3-3.1 3.1-3.3 .1-.2 2.5-3.1 .8-1.4 1.2-1.8 1.1-3.2 .1-3.3-.7-3.3-1.5-3.2-.2-.2-1.8-3-1.5-1.9-.9-1.4-2.3-2.8-.3-.5-2.8-3.2-.2-.2-2.8-3-.4-.5-2.6-2.8-.7-.7-2.4-2.6-.9-.8-2.2-2.4-4.3-4.3-2.1-2.2-1.2-1.1-2-2.2-1.2-1.1-2.1-2.1-1.2-1.1-8.7-8.7-1.1-1-2.2-2.2-4.3,0 0,107.2z" fill="#00b7ff"/>
<path d="M155,264.8l2.5,2.4 0-97.9-1.6,1.2-1.7,1.4-2.3,1.9-.9,.8-3,2.4-.3,.2-3.3,2.7-.4,.3-2.8,2.5-1,.8-2.3,2-1.5,1.3-1.7,1.6-1.9,1.6-1.4,1.4-2,1.8-1.3,1.4-2,1.9-1.2,1.5-1.7,1.8-1.6,2.1-1,1.1-2,3.2-.2,.8-1.2,2.5-.7,3.3 0,3.2 .8,3.2 1.1,2.4 .3,.9 1.8,3.3 1.1,1.6 1,1.6 2.3,3 .2,.2 2.6,3.3 .4,.5 2.3,2.8 1,1 1.9,2.2 1.4,1.5 1.5,1.7 1.7,1.8 1.4,1.5 1.9,2 1.1,1.3 3.2,3.2 2.2,2.3 3.3,3.3 .8,.9 2.4,2.4zM27,261.5l0,1 1.3-1 2-1.6 2.1-1.7 1.1-.9 3-2.3 .3-.3 3.2-2.6 .5-.3 2.8-2.4 1.2-.9 2.1-1.8 1.8-1.5 1.4-1.2 2.5-2 .8-.7 3-2.5 .3-.3 3.2-2.9 .1-.1 3.2-2.9 .4-.4 2.9-2.8 .4-.4 2.8-3 .2-.2 2.7-3.3 .4-.5 1.9-2.8 1.3-2.6 .4-.6 1-3.2 .2-3.3-.5-3.3-1.1-2.7-.1-.5-1.6-3.2-1.5-2.3-.6-1-2.3-3.3-.4-.4-2.1-2.8-1.1-1.2-1.7-2-1.6-1.9-1.2-1.4-2.1-2.2-.8-1.1-2.4-2.5-.6-.7-2.7-2.8-.4-.4-2.9-3-.2-.3-3-3.1-3.3-3.3 0-.1-3.3-3.2-6.4-6.6-.1,0-3.2-3.2-3.3,0 0,107.2z" fill="#00c3ff"/>
<path d="M156.2,264.8l1.3,1.3 0-95.7-.2,.1-3.1,2.6-.8,.7-2.4,2-1.5,1.2-1.8,1.6-2,1.6-1.3,1.2-2.4,2.1-.8,.8-2.7,2.5-.6,.5-2.9,2.7-.3,.4-2.9,2.8-.4,.5-2.6,2.8-.7,.8-2.1,2.5-1.1,1.7-1.2,1.5-1.8,3.2-.3,.9-1,2.4-.7,3.3 0,3.2 .6,3.2 1.1,3.1 .1,.2 1.5,3.3 1.7,2.7 .3,.5 2.1,3.2 .8,1 1.7,2.3 1.6,2 .9,1.3 2.4,2.7 .4,.5 2.8,3.2 0,.1 2.9,3.2 .4,.4 2.6,2.9 .6,.6 2.4,2.6 .9,.9 2.2,2.3 1.1,1.1 2,2.2 1.2,1.2zM27,261.5l0,.1 .1-.1 3.2-2.6 .9-.7 2.3-1.9 1.6-1.3 1.7-1.4 2.3-1.8 .9-.9 3-2.4 .3-.3 3.3-2.8 .2-.2 3-2.6 .7-.6 2.6-2.4 1.1-.8 2.2-2.2 1.2-1.1 2-2 1.4-1.3 1.9-2 1.2-1.2 2.1-2.5 .7-.7 2.4-3.3 .1-.1 2-3.2 1.3-2.8 .2-.4 .9-3.2 .2-3.3-.3-3.3-1-3.2-1.4-3.2-1.8-3.3-.1-.1-2-3.2-1.2-1.6-1.1-1.6-2.2-2.7-.4-.5-2.7-3.3-.2-.2-2.5-3.1-.7-.7-2.2-2.5-1.1-1.1-1.9-2.1-1.4-1.5-1.6-1.8-1.6-1.7-1.4-1.6-1.9-1.8-1.2-1.4-2.1-2-1.1-1.2-2.1-2.2-1-1.1-2.3-2.2-.9-1.1-2.3-2.2-1-1-2.3,0 0,107.2z" fill="#00cfff"/>
<path d="M157.3,264.8l.2,.2 0-93.5-2.7,2.3-.6,.5-3.1,2.7-.1,.1-3.3,2.9-.3,.2-3,2.7-.6,.6-2.6,2.5-.8,.8-2.5,2.4-.8,.8-2.4,2.6-.7,.6-2.6,3.1-.2,.2-2.6,3.3-.5,.8-1.6,2.4-1.6,3.2-.1,0-1.2,3.3-.6,3.3-.1,3.2 .5,3.2 1,3.3 .5,1.1 .8,2.2 1.8,3.2 .6,1 1.4,2.2 1.9,2.7 .4,.6 2.4,3.3 .5,.5 2.1,2.7 1.1,1.3 1.6,1.9 1.7,2 1.1,1.3 2.1,2.4 .8,.9 2.5,2.7 .4,.5 2.9,3.1 .1,.1 3.1,3.3zM27,258.2l0,2.4 2.9-2.4 .4-.3 3.2-2.7 .3-.2 3-2.5 .9-.7 2.3-2.1 1.5-1.2 1.8-1.6 1.9-1.7 1.4-1.2 2.2-2 1-1 2.5-2.2 .8-.9 2.5-2.4 .8-.8 2.4-2.5 .8-.9 2.1-2.3 1.2-1.5 1.5-1.7 1.8-2.6 .5-.7 1.9-3.3 .8-2.1 .5-1.1 .9-3.2 .3-3.3-.3-3.3-.8-3.2-.6-1.4-.7-1.8-1.6-3.3-.9-1.5-1-1.8-2.2-3.2-.1-.1-2.3-3.1-1-1.3-1.5-2-1.7-2.1-1-1.2-2.3-2.7-.4-.5-2.9-3.2-2.9-3.3-.3-.3-2.7-3-.6-.5-2.4-2.7-.9-.8-2.2-2.4-1-1.1-2.1-2.2-1.2-1.2-2-2.1-1.2-1.2-1.9-2-1.4,0 0,104z" fill="#00daff"/>
<path d="M155.3,261.5l2.2,2.3 0-91.1-1.3,1.1-2,1.7-1.7,1.5-1.5,1.5-2.1,1.7-1.2,1.3-2.2,2-6.5,6.5-1.1,1.3-1.8,1.9-1.4,1.8-1.3,1.5-2,2.8-.4,.5-2,3.2-1.6,3.2-1.1,3.3-.6,3.3-.1,3.2 .3,3.2 .9,3.3 1.3,3.3 0,.1 1.5,3.1 1.8,3 .2,.2 2,3.3 1.1,1.4 1.3,1.9 1.9,2.5 .5,.7 2.6,3.2 .2,.2 2.5,3.1 .7,.8 2.1,2.5 1.2,1.2 1.7,2 1.6,1.7 1.3,1.5 1.9,2.1zM27,258.2l0,1.5 1.7-1.5 1.6-1.3 2.3-1.9 .9-.9 2.8-2.3 .5-.5 3.2-2.8 3.3-3 .3-.3 3-2.7 .6-.5 2.6-2.6 .7-.6 2.6-2.7 .6-.6 2.7-2.8 .4-.5 2.7-3.2 .1-.1 2.5-3.1 .8-1.4 1.3-1.9 1.8-3.3 .2-.5 1.1-2.7 .8-3.2 .3-3.3-.2-3.3-.7-3.2-1.2-3.2-.1-.4-1.3-2.9-1.8-3.3-.2-.2-1.8-3-1.5-2-.8-1.2-2.4-3.3-2.5-3.3-.8-.8-1.9-2.4-1.4-1.5-1.4-1.7-1.8-2.1-1-1.2-2.3-2.5-.6-.8-2.7-2.8-.3-.4-2.9-3.1-.1-.1-3.1-3.3-.1-.1-3-3.2-.2-.2-2.9-3-.4,0 0,104z" fill="#00e4fb"/>
<path d="M156.4,261.5l1.1,1.1 0-88.8-3.3,3-.2,.2-3,2.8-.5,.4-2.8,2.8-.6,.5-2.7,2.7-.5,.6-2.7,2.9-.3,.3-2.8,3.2-.2,.2-2.4,3.1-.8,1.2-1.5,2.1-1.8,3.1-.1,.1-1.5,3.2-1.1,3.3-.5,3.3-.1,.4-.1,2.8 .1,1.1 .2,2.1 .8,3.3 1.1,3.3 1.2,2.5 .3,.7 1.8,3.2 1.2,1.9 .8,1.4 2.4,3.6 2.1,2.9 1.2,1.5 1.3,1.7 1.9,2.4 .7,.9 2.6,3 .2,.3 2.8,3.2 .3,.3 2.5,2.9 .7,.8zM27,258.2l0,.5 .5-.5 2.8-2.3 1-.9 2.2-2 1.5-1.2 1.8-1.7 1.8-1.6 1.4-1.3 2.2-2 1.1-1.1 2.3-2.1 3.2-3.2 1-1.1 2.1-2.2 1.2-1.3 1.8-2 1.5-1.8 1.1-1.4 2.1-2.9 .3-.3 2-3.3 1-1.9 .7-1.4 1.3-3.2 .7-3.2 .3-3.3-.2-3.3-.5-3.2-1-3.2-1.3-3-.1-.3-1.7-3.3-1.5-2.4-.4-.8-2.1-3.2-.7-1-1.6-2.3-1.7-2.2-.8-1.1-2.5-3.1-.1-.1-2.6-3.2-.5-.6-2.3-2.7-1-1.1-1.8-2.2-1.5-1.5-1.4-1.7-1.8-1.9-1.2-1.3-2.1-2.3-.9-1-2.3-2.5-.7-.8-2.6-2.6 0,103.4z" fill="#00ecf6"/>
<path d="M154.7,258.2l2.8,3.2 0-86.3-2.1,1.9-1.2,1.1-2.2,2.1-1,1.1-2.3,2.2-1,1.1-2.1,2.2-1.2,1.2-1.8,2-1.4,1.8-1.3,1.4-2,2.7-2.6,3.9-.6,1.1-1.2,2.1-1.5,3.2-.6,2.1-.4,1.2-.6,3.3-.2,3.2 .3,3.2 .7,3.3 .2,.5 .9,2.8 1.3,3.2 1.1,1.9 .6,1.3 1.9,3.3 2.1,3.3 1.9,2.6 .4,.6 2.4,3.2 .4,.6 2.1,2.7 1.2,1.4 1.5,1.9 1.8,2.1 .9,1.1 2.3,2.7zM27,255l0,2.7 3.1-2.7 .2-.2 3.2-2.9 .2-.1 3.1-2.9 .5-.4 2.7-2.7 .7-.6 2.6-2.5 3.9-3.9 2.6-2.9 .4-.4 2.8-3.3 .1-.1 2.5-3.1 .8-1.2 1.5-2 1.7-3 .2-.3 1.6-3.3 1.2-3.2 .3-1.4 .4-1.8 .4-3.3-.2-3.3-.5-3.2-.1-.3-.8-2.9-1.3-3.3-1.2-2.4-.4-.9-1.7-3.2-1.1-1.7-3.2-4.8-.1-.1-2.3-3.2-1-1.2-1.4-2-1.8-2.2-.9-1-2.4-3-.3-.3-2.7-3.3-.3-.2-2.6-3-.6-.7-2.3-2.5-1-1.1-1.9-2.2-1.3-1.4-1.7-1.9-1.6-1.6 0,99.2z" fill="#00f4f1"/>
<path d="M155.8,258.2l1.7,1.9 0-83.8-.8,.7-2.5,2.5-.8,.7-2.4,2.6-.8,.7-2.5,2.7-.5,.6-2.8,3.1 0,.1-2.7,3.2-.5,.8-1.9,2.5-1.4,2.3-.6,1-1.8,3.2-.8,2-.6,1.2-1,3.3-.6,3.3-.1,3.2 .2,3.2 .6,3.3 1,3.3 .5,1 .8,2.2 1.6,3.2 .8,1.5 1,1.8 2,3.3 .3,.4 1.9,2.8 1.3,1.9 1,1.3 2.3,3.1 .2,.2 2.5,3.3 .6,.6 2.1,2.6 1.1,1.3zM27,255l0,1.6 1.9-1.6 1.4-1.3 2.1-1.9 1.1-1.1 2.4-2.2 .9-.9 2.5-2.4 3.2-3.2 .8-.9 2.3-2.3 1-1.2 1.9-2.1 1.3-1.6 1.5-1.7 2.4-3.2 2.2-3.2 .5-.9 1.4-2.4 1.5-3.3 .3-.9 .9-2.3 .7-3.2 .3-3.3-.1-3.3-.4-3.2-.9-3.2-.5-1.3-.7-2-1.4-3.3-1.1-2-.7-1.2-1.9-3.2-2.1-3.3-1.9-2.6-.4-.7-2.4-3.2-.4-.5-2.1-2.7-1.2-1.4-1.5-1.9-1.8-2.1-.9-1.2-2.3-2.6-.5-.6-2.8-3.2-2.9-3.3-.3-.3-2.7-3-.6-.6 0,98.2z" fill="#00f8e8"/>
<path d="M157,258.2l.5,.7 0-81.3-2.7,2.6-.6,.7-2.5,2.6-.7,.8-2.3,2.5-1,1.2-1.7,2-1.6,2-1,1.2-2.2,3.3-2.1,3.3-1.2,2.3-.5,.9-1.3,3.2-1,3.3-.4,2.8-.1,.5-.2,3.2 .2,3.2 .1,.4 .4,2.9 .9,3.3 1.3,3.2 .6,1.4 .8,1.8 1.8,3.3 .7,1.2 1.2,2.1 2,3.1 .1,.1 2.3,3.2 .9,1.3 1.5,2 1.8,2.3 .7,1 2.5,3.1 .1,.1zM27,255l0,.6 .7-.6 2.6-2.4 .9-.8 2.3-2.3 1.1-1 3.3-3.3 2.1-2.2 1.1-1 2.2-2.4 .8-.8 2.5-2.9 .3-.4 2.6-3.3 .3-.4 2.2-2.8 1.1-1.8 1-1.4 1.8-3.3 1.5-3.3 1.1-3.2 .7-3.2 .3-3.3-.1-3.3-.4-3.2-.8-3.2-1.1-3.3-.7-1.7-.7-1.6-1.6-3.2-1-1.7-.8-1.5-2.1-3.3-.4-.5-1.8-2.8-1.4-1.9-.9-1.3-2.4-3.1-.1-.1-2.6-3.3-.6-.7-2-2.6-1.2-1.3-1.6-1.9-1.7-1.9-1.1-1.3-2.1-2.5-.7-.8-2.6-2.9 0,97.2z" fill="#00f9dc"/>
<path d="M155.4,255l2.1,2.5 0-78.6-1.3,1.3-2,2.2-1.1,1.1-2.1,2.5-.7,.8-2.6,3-.1,.2-2.5,3.2-.7,1-1.5,2.3-1.7,2.8-.3,.5-1.6,3.2-1.3,3.2-.1,.3-.9,3-.5,3.3-.2,3.2 .1,3.2 .6,3.3 .8,3.3 .1,.2 1.1,3 1.4,3.2 .8,1.6 .8,1.7 1.9,3.3 2,3.2 1.8,2.6 .4,.6 2.3,3.3 .6,.7 1.9,2.6 1.3,1.6zM27,251.8l0,2.7 3-2.7 6.8-6.8 2.9-3 .3-.4 2.6-2.8 .7-.9 2.1-2.4 1.2-1.6 1.3-1.7 1.9-2.7 .4-.5 2.1-3.2 .8-1.6 1-1.7 1.4-3.3 .9-2.7 .1-.5 .8-3.2 .3-3.3 0-3.3-.4-3.2-.8-3.2 0-.2-1-3.1-1.3-3.3-1-1.9-.6-1.3-1.8-3.2-.9-1.5-1-1.8-2.2-3.3-2.2-3.2-1.1-1.4-1.3-1.8-2-2.5-.6-.8-2.6-3.3-2.6-3.2-.7-.7-2.1-2.5-1.1-1.3-1.7-2-1.6-1.8 0,92.8z" fill="#00facf"/>
<path d="M156.6,255l.9,1.1 0-75.8-3,3.2-.3,.4-2.5,2.9-.7,.9-1.9,2.3-1.4,1.9-1,1.3-2.2,3.3-.1,.2-1.8,3.1-1.4,3-.1,.2-1.3,3.2-.9,3.3-.6,3.3-.2,3.2 .1,3.2 .5,3.3 .8,3.3 1.1,3.2 .6,1.4 .7,1.8 1.6,3.3 .9,1.6 .9,1.7 2,3.2 .4,.6 1.7,2.6 1.6,2.2 .7,1.1 2.4,3.3 .1,.1zM27,251.8l0,1.6 1.8-1.6 3.3-3.3 1.4-1.5 1.8-1.8 3-3.2 1.7-2 1.2-1.2 2.1-2.7 .6-.6 2.4-3.3 .3-.3 2-2.9 1.2-2 .8-1.2 1.7-3.3 .8-1.9 .6-1.4 1.1-3.2 .7-3.2 .3-3.3 0-3.3-.4-3.2-.7-3.2-1-3.3-.6-1.6-.6-1.7-1.5-3.2-1.2-2.1-.5-1.1-1.9-3.3-.8-1.2-1.3-2.1-2-2.8-.2-.4-2.4-3.2-.7-.9-1.7-2.4-1.5-1.9-1.1-1.4-2.2-2.7-.4-.5-2.7-3.2-.1-.2-2.7-3.1-.6-.7 0,91.7z" fill="#00fbc3"/>
<path d="M27,251.8l0,.5 .6-.5 3.3-3.3 2.6-2.8 .5-.5 2.8-3 .1-.2 2.9-3.2 .2-.4 2.4-2.9 .9-1.2 1.5-2.1 1.8-2.6 .4-.6 2-3.2 .8-1.8 .8-1.5 1.4-3.3 1-3.2 .1-.5 .6-2.7 .3-3.3 .1-3.3-.4-3.2-.6-3 0-.2-.9-3.3-1.2-3.3-1.2-2.4-.3-.8-1.6-3.2-1.3-2.3-.6-1-2-3.3-.7-.9-1.5-2.3-1.8-2.5-.5-.8-2.7-3.6-2.1-2.9-1.2-1.3-1.4-1.9-1.8-2.2-.9-1-2.4-2.9 0,90.6zM155.2,251.8l2.3,2.9 0-73-1.6,1.8-1.7,2-1.1,1.3-2.1,2.7-.4,.5-2.4,3.2-.5,.9-1.6,2.4-1.7,3-.1,.3-1.6,3.2-1.2,3.2-.3,1.3-.6,2-.6,3.3-.2,3.2 .1,3.2 .5,3.3 .8,3.3 1,3.2 1.3,3.2 .9,2.1 .6,1.2 1.7,3.3 1,1.6 .9,1.6 2.1,3.2 .3,.4 1.9,2.9 1.3,1.8z" fill="#00fcb7"/>
<path d="M156.4,251.8l1.1,1.4 0-70-.3,.3-2.7,3.3-.3,.4-2.2,2.8-1,1.5-1.3,1.7-2,3.3-1.8,3.3-1.5,3.1 0,.1-1.2,3.2-.9,3.3-.6,3.3-.2,3.2 .1,3.2 .4,3.3 .7,3.3 1,3.2 .7,1.9 .6,1.3 1.4,3.3 1.3,2.5 .4,.8 1.8,3.2 1.1,1.6 1,1.6 2.1,3.3 .1,.2zM27,248.5l0,2.7 2.7-2.7 .6-.7 2.4-2.6 .8-.9 2.2-2.3 1.1-1.4 1.6-1.8 1.6-2.2 1-1.1 2.3-3.2 0-.1 2.2-3.2 1.1-1.9 .8-1.3 1.6-3.3 .8-2.1 .5-1.2 1.1-3.2 .6-3.2 .4-3.3 0-3.3-.3-3.2-.6-3.2-.9-3.3-.8-2.1-.4-1.2-1.3-3.2-1.6-3.2-1.8-3.3-1.4-2.2-.6-1.1-2.1-3.2-.6-.8-1.6-2.4-4.8-6.6-.1,0-2.5-3.2-.7-.9-1.9-2.3-1.4-1.7 0,86.1z" fill="#00fdab"/>
<path d="M27,248.5l0,1.5 1.5-1.5 1.8-1.9 1.2-1.4 2-2.3 .9-.9 2.4-2.9 .3-.3 2.5-3.3 .4-.7 1.9-2.6 1.4-2.1 .7-1.1 1.9-3.2 .7-1.5 .9-1.8 1.2-3.3 1-3.2 .1-.6 .6-2.6 .4-3.3 0-3.3-.3-3.2-.6-3.2-.1-.4-.7-2.9-1.1-3.3-1.4-3.2 0-.1-1.5-3.1-1.7-3.3-.1-.1-1.8-3.2-1.5-2.2-.6-1-2.2-3.2-.4-.7-1.9-2.6-1.4-1.9-1-1.4-2.2-2.9-.3-.3-2.6-3.2-.4-.6 0,85zM155.3,248.5l2.2,3.2 0-66.9-1.6,2-1.7,2.2-.8,1-2.2,3.2-.2,.4-1.8,2.9-1.5,2.7-.3,.6-1.5,3.2-1.1,3.2-.4,1.3-.5,2-.6,3.3-.2,3.2 .1,3.2 .4,3.3 .7,3.3 .1,.6 .8,2.6 1.2,3.2 1.3,3.1 .1,.2 1.6,3.3 1.6,2.7 .2,.5 3,4.8z" fill="#00fe9e"/>
<path d="M27,248.5l0,.3 .3-.3 3-3.2 0-.1 2.8-3.2 .4-.5 2.3-2.7 1-1.4 1.5-1.9 1.7-2.6 .5-.7 2.1-3.2 .7-1.4 1.1-1.8 1.5-3.3 .7-1.7 .6-1.6 1-3.2 .6-3.2 .4-3.3 0-3.3-.2-3.2-.5-3.2-.8-3.3-1.1-3.2 0-.1-1.3-3.2-1.5-3.2-.5-.9-1.2-2.4-1.9-3.3-.2-.3-1.7-2.9-1.5-2.2-.7-1-2.3-3.3-.3-.4-2-2.9-1.2-1.5-1.3-1.7-2-2.6 0,83.8zM156.4,248.5l1.1,1.5 0-63.6-2.7,3.6-.6,.9-1.6,2.3-1.6,2.8-.4,.5-1.7,3.3-1.2,2.7-.2,.5-1.2,3.2-.8,3.3-.6,3.3-.2,3.2 0,3.2 .4,3.3 .6,3.3 .9,3.2 1.1,3 .1,.2 1.3,3.3 1.6,3.3 .3,.4 1.5,2.8 1.7,3 .2,.2z" fill="#00ff92"/>
<path d="M27,245.2l0,2.4 2.1-2.4 1.2-1.3 1.6-1.9 1.6-2.1 1-1.1 2.3-3.1 .1-.2 2.3-3.3 .8-1.4 1.2-1.8 1.7-3.2 .4-.9 1.2-2.4 1.2-3.3 .9-3 0-.2 .7-3.2 .4-3.3 0-3.3-.2-3.2-.5-3.2-.4-1.8-.4-1.5-1-3.3-1.2-3.2-.7-1.4-.8-1.8-1.6-3.3-.9-1.4-.9-1.9-2-3.2-.3-.4-1.8-2.8-1.5-2.2-.7-1.1-2.3-3.3-.2-.2-2.2-3-1.1-1.3 0,79.3zM155.6,245.2l1.9,3.2 0-60.3-1.4,1.9-1.9,2.9-.2,.3-2,3.3-1,2.1-.6,1.2-1.5,3.2-1.1,3.2-.1,.5-.7,2.8-.6,3.3-.2,3.2 0,3.2 .4,3.3 .6,3.3 .5,1.9 .3,1.3 1.1,3.2 1.4,3.3 .5,1 1,2.3 1.7,3.2 .5,.9z" fill="#00ff86"/>
<path d="M27,245.2l0,1.1 1-1.1 2.3-2.7 .4-.5 2.5-3.2 .3-.4 2.2-2.9 1.1-1.7 3-4.8 .2-.5 1.6-2.7 1.4-3.3 .3-.8 1-2.5 .9-3.2 .7-3.2 .3-3.3 .1-3.3-.2-3.2-.5-3.2-.7-3.3-1-3.3-.6-1.4-.6-1.8-1.4-3.2-1.3-2.4-.4-.9-1.7-3.3-1.1-1.8-.8-1.4-2.1-3.2-4.4-6.6-2.4-3.2-.1-.1 0,78.1zM156.7,245.2l.8,1.3 0-56.6-.1,.1-2.1,3.2-1.1,1.9-.8,1.4-1.6,3.3-.8,1.9-.6,1.3-1.1,3.2-.9,3.3-.5,3.3-.2,2.5 0,4.2 .3,3 .6,3.3 .8,3.2 1.1,3.2 .5,1.3 .8,2 1.4,3.3 1,1.9 .7,1.3z" fill="#00ff7a"/>
<path d="M27,242l0,3 2.5-3 .8-1 1.7-2.2 1.5-2.1 .9-1.2 2.1-3.3 .3-.4 1.7-2.8 1.5-3 .2-.2 1.5-3.3 1.1-3.3 1-3.2 .6-3.2 .4-3.3 .1-3.3-.2-3.2-.5-3.2-.7-3.3-.2-.6-.7-2.7-1.2-3.2-1.3-3.1-.1-.1-1.5-3.3-1.7-3.1-.1-.2-1.8-3.2-1.4-2.1-2.8-4.4-2.2-3.3-1.5-1.9 0,73.5zM156.1,242l1.4,2.6 0-52.7-.9,1.3-2.4,4.4-1.1,2.2-1.3,3.2-.8,2.4-.3,.8-.8,3.3-.6,3.3-.2,3.2 0,3.2 .3,3.3 .5,3.3 .8,3.2 .3,.7 .8,2.5 1.2,3.3 1.2,2.7 .3,.6z" fill="#00ff6d"/>
<path d="M27,242l0,1.6 1.4-1.6 1.9-2.5 .5-.7 2.3-3.3 2.2-3.3 1.5-2.6 .4-.6 1.7-3.2 1.1-2.8 .3-.5 1.2-3.3 .9-3.2 .6-3.2 .3-2.7 .1-.6 .1-3.3-.2-2.9 0-.3-.4-3.2-.7-3.3-.9-3.3-1.2-3.2-.1-.2-1.2-3-1.5-3.3-.5-.9-1.2-2.4-1.8-3.2-.3-.4-1.7-2.8-1.5-2.4-2.8-4.2-.5-.6 0,72.2zM157.2,242l.3,.5 0-48.5-1.4,2.5-1.6,3.3-.3,.6-1.1,2.6-1,3.2-.8,3.3-.3,1.8-.3,1.5-.3,3.2 .1,3.2 .2,3.3 .3,1.4 .3,1.9 .7,3.2 1,3.2 1.2,3.2 .1,.1 1.3,3.3z" fill="#00ff61"/>
<path d="M27,242l0,.2 .2-.2 2.5-3.2 .6-.9 1.7-2.4 1.5-2.5 .5-.8 1.9-3.2 .9-1.8 .8-1.4 1.4-3.3 1-3.1 .1-.2 .9-3.2 .7-3.2 .4-3.3 .1-3.3-.2-3.2-.4-3.2-.7-3.3-.9-3.1 0-.2-1.1-3.2-1.3-3.2-.8-1.8-.7-1.5-1.6-3.3-1-1.6-.8-1.6-2-3.2-.4-.8-1.6-2.5-1.7-2.5 0,70.8zM156.8,238.8l.7,1.3 0-43.8-.1,.2-1.6,3.3-1.3,3.2-.3,.8-.8,2.4-.8,3.3-.5,3.3-.3,3.2 0,3.2 .2,3.3 .6,3.3 .7,3.2 .9,3.1 .1,.1 1.1,3.3z" fill="#0f5"/>
<path d="M27,238.8l0,2 1.5-2 1.8-2.6 .5-.7 2-3.3 .7-1.2 1.2-2 1.6-3.2 .5-1.3 .9-2 1.1-3.3 .9-3.2 .3-1.8 .3-1.4 .4-3.3 .1-3.3-.1-3.2-.4-3.2-.3-1.2-.4-2.1-.8-3.3-1.1-3.2-.9-2.3-.4-.9-1.4-3.3-1.5-2.9-.1-.4-1.8-3.2-1.3-2.3-.6-.9-2-3.3-.7-1 0,66zM156.6,235.5l.9,2 0-38.6-.4,.9-1.3,3.2-1.1,3.2-.5,2.1-.3,1.2-.5,3.3-.3,3.2 0,3.2 .2,3.3 .5,3.3 .4,1.7 .4,1.5 .9,3.2z" fill="#00ff49"/>
<path d="M27,238.8l0,.5 .4-.5 2.2-3.3 .7-1.1 1.3-2.2 1.8-3.2 1.6-3.2 1.4-3.3 .4-1.1 .7-2.2 .9-3.2 .7-3.2 .3-3.3 .1-3.3-.1-3.2-.4-3.2-.6-3.3-.8-3.3-.8-2.4-1.5-4-1.4-3.3-.4-.7-1.2-2.6-1.7-3.2-.3-.5-1.6-2.7-1.7-2.8 0,64.5zM156.7,232.2l.8,2.4 0-32.7-.4,1.1-1.1,3.2-.8,3.3-.5,3.3-.3,3.2 0,3.2 .2,3.3 .5,3.3 .7,3.2z" fill="#00ff3c"/>
<path d="M27,235.5l0,2.1 1.5-2.1 1.8-3 .1-.3 1.8-3.2 1.3-2.7 .3-.5 1.4-3.3 1.1-3.3 .5-1.8 .4-1.4 .6-3.2 .4-3.3 .1-3.3-.1-3.2-.4-3.2-.6-3.3-.4-1.7-.4-1.6-1-3.2-1.2-3.2-.7-1.5-.7-1.8-1.5-3.3-1-1.8-.8-1.4-1.8-3.2-.7-1.2 0,59.6zM157,229l.5,1.9 0-25.4-.2,.7-.8,3.3-.6,3.3-.2,3.2-.1,3.2 .2,3.3 .5,3.3z" fill="#00ff30"/>
<path d="M27,235.5l0,.5 .3-.5 2-3.3 1-1.8 .8-1.4 1.5-3.2 .9-2.3 .5-1 1.1-3.3 .8-3.2 .6-3.2 .3-2.2 .1-1.1 .2-3.3-.2-3.2-.1-1.4-.2-1.8-.6-3.3-.7-3.3-1-3.2-.8-2-.4-1.2-1.4-3.3-1.4-3.1-.1-.2-1.7-3.2-1.5-2.7 0,57.9zM157.1,222.5l.4,3.2 0-14.8-.3,1.9-.3,3.2 0,3.2z" fill="#00ff25"/>
<path d="M27,232.2l0,2 1.2-2 1.7-3.2 1.6-3.2 1.3-3.3 .7-2.3 .4-1 .8-3.2 .7-3.2 .3-3.3 .2-3.3-.1-3.2-.4-3.2-.5-3.3-.8-3.3-.6-1.9-.4-1.3-1.1-3.2-1.3-3.3-.4-.8-1.1-2.5-1.7-3.2-.5-.9 0,52.9z" fill="#00ff1a"/>
<path d="M27,232.2l0,.1 0-.1 1.8-3.2 1.5-3.2 1.3-3.3 1.1-3.3 .8-3.2 .7-3.2 .3-3.3 .2-3.3-.1-3.2-.3-3.2-.6-3.3-.2-.8-.5-2.5-.9-3.2-1.8-4.8-.7-1.7-1.4-3.3-1.2-2.2 0,51z" fill="#00ff0a"/>
<path d="M27,225.8l0,2.2 1.1-2.2 1.2-3.3 1-2.9 .9-3.6 .6-3.2 .4-3.3 .2-3.3-.1-3.2-.3-3.2-.5-3.3-.7-3.3-.5-1.9-.4-1.3-1.1-3.2-1.2-3.3-.6-1.3 0,40.3z" fill="#0cff00"/>
<path d="M27,222.5l0,.3 1.2-3.6 .8-3.2 .6-3.2 .4-3.3 .1-3.3 0-3.2-.3-3.2-.4-3.3-.7-3.3-.9-3.2-.8-2.6 0,31.8z" fill="#23ff00"/>
<path d="M27,212.8l0,2.3 .4-2.3 .4-3.3 .2-3.3 0-3.2-.3-3.2-.4-3.3-.3-1.3 0,14.3z" fill="#3bff00"/>
<path d="M58.2,281l1.4-.4 3.3-.9 3.3-.8 3.2-.6 3-.5 .3-.1 3.2-.5 6.6-.6 3.2-.1 3.3-.1 3.2,.1 6.6,.6 3.2,.5 1.1,.2 2.2,.3 3.3,.7 3.2,.8 3.3,.9 1.4,.5M30.6,281l2.9-1.6 3.3-1.6 3.2-1.7 3.3-1.6 .1,0 6.4-3 .7-.3 2.6-1.1 3.3-1.3 2.2-.8 1-.4 3.3-1.1 3.3-1 2.5-.7 .7-.3 3.3-.8 3.2-.7 3.3-.5 3.3-.4 3.2-.3 3.3-.1 3.2,0 3.3,.2 3.3,.3 3.2,.5 3.3,.7 3.3,.8 1.9,.6 1.3,.3 3.3,1.1 3.3,1.2 1.3,.6 1.9,.8 3.3,1.4 3.2,1.6 3.3,1.7 1.7,1 1.6,.8 3.2,1.9 .9,.6 2.4,1.4 2.9,1.8M148,151l-.3,.1-3.3,1.5-3.2,1.4-.7,.2-2.6,1.1-3.2,1.3-2.8,.9-.5,.2-3.3,1-3.2,1-3.3,.8-1.4,.3-1.8,.4-6.6,1-3.2,.3-3.3,.1-3.3,0-3.2-.2-3.3-.3-3.3-.5-3.2-.6-1-.2-2.3-.6-3.2-.9-3.3-1.1-1.9-.7-1.4-.5-3.2-1.3-3.2-1.5-.1,0-3.2-1.5-3.2-1.7M27,271.2l3.3-2.2 1.4-1 1.8-1.2 3.2-2 .1-.1 3.2-2.2 1.8-1 1.5-1 3.3-2 .3-.3 2.9-1.7 2.6-1.5 .7-.5 3.3-1.8 1.7-.9 1.5-1 3.3-1.7 1.3-.6 2-1 3.2-1.5 1.8-.8 1.5-.6 3.2-1.3 3.3-1.1 .9-.2 2.4-.7 3.2-.7 3.3-.4 3.2-.2 3.3,0 3.3,.4 3.2,.6 3.3,.9 .2,.1 3.1,1 3.2,1.4 1.7,.8 1.6,.8 3.3,1.7 1.2,.8 2,1.2 3.2,2.1 .1,0 3.2,2.1 1.5,1.1 1.8,1.2 2.7,2 .6,.4 3.2,2.5 .5,.4 2.8,2.1 1.3,1.2 1.9,1.4 3.3,2.7 2.9,2.3 .4,.4 3.2,2.7 .3,.2 3,2.6M157.5,159.4l-2.1,1.4-1.2,.7-3.2,2.1-.7,.4-2.6,1.6-2.7,1.6-.6,.4-3.2,1.9-1.7,1-4.8,2.7-3.3,1.8-3.3,1.6-3.2,1.6-3.3,1.4-1.8,.6-1.4,.6-3.3,1.2-3.3,.9-2.9,.6-.3,.1-3.3,.5-3.3,.2-3.2,0-3.3-.3-2.4-.5-.9-.1-3.2-.9-3.3-1.1-2.7-1.2-.5-.2-3.3-1.5-2.8-1.5-.5-.3-3.2-1.8-1.7-1.1-1.6-1-3.2-2.2-.2-.1-3.1-2.2-1.4-1.1-1.9-1.2-2.5-2-.7-.5-3.3-2.6-.2-.1-3.1-2.4-1-.9-2.2-1.8-1.8-1.5-1.5-1.2-2.4-2M27,256.6l1.9-1.6 1.4-1.3 2.1-1.9 1.1-1.1 2.4-2.2 .9-.9 2.5-2.4 3.2-3.2 .8-.9 2.3-2.3 1-1.2 1.9-2.1 1.3-1.6 1.5-1.7 2.4-3.2 2.2-3.2 .5-.9 1.4-2.4 1.5-3.3 .3-.9 .9-2.3 .7-3.2 .3-3.3-.1-3.3-.4-3.2-.9-3.2-.5-1.3-.7-2-1.4-3.3-1.1-2-.7-1.2-1.9-3.2-2.1-3.3-1.9-2.6-.4-.7-2.4-3.2-.4-.5-2.1-2.7-1.2-1.4-1.5-1.9-1.8-2.1-.9-1.2-2.3-2.6-.5-.6-2.8-3.2-2.9-3.3-.3-.3-2.7-3-.6-.6M157.5,176.3l-.8,.7-2.5,2.5-.8,.7-2.4,2.6-.8,.7-2.5,2.7-.5,.6-2.8,3.1 0,.1-2.7,3.2-.5,.8-1.9,2.5-1.4,2.3-.6,1-1.8,3.2-.8,2-.6,1.2-1,3.3-.6,3.3-.1,3.2 .2,3.2 .6,3.3 1,3.3 .5,1 .8,2.2 1.6,3.2 .8,1.5 1,1.8 2,3.3 .3,.4 1.9,2.8 1.3,1.9 1,1.3 2.3,3.1 .2,.2 2.5,3.3 .6,.6 2.1,2.6 1.1,1.3 1.6,1.9 1.7,1.9M27,236l.3-.5 2-3.3 1-1.8 .8-1.4 1.5-3.2 .9-2.3 .5-1 1.1-3.3 .8-3.2 .6-3.2 .3-2.2 .1-1.1 .2-3.3-.2-3.2-.1-1.4-.2-1.8-.6-3.3-.7-3.3-1-3.2-.8-2-.4-1.2-1.4-3.3-1.4-3.1-.1-.2-1.7-3.2-1.5-2.7M157.5,210.9l-.3,1.9-.3,3.2 0,3.2 .2,3.3 .4,3.2" fill="none" stroke="#10241c" stroke-width=".55" stroke-opacity=".85"/>
<path d="M27,151V281H157.5" fill="none" stroke="#222" stroke-width=".5"/>
<text x="27" y="289.8" class="tk" text-anchor="middle">150</text>
<text x="59.6" y="289.8" class="tk" text-anchor="middle">155</text>
<text x="92.2" y="289.8" class="tk" text-anchor="middle">160</text>
<text x="124.9" y="289.8" class="tk" text-anchor="middle">165</text>
<text x="157.5" y="289.8" class="tk" text-anchor="middle">170</text>
<text x="22.4" y="282.2" class="tk" text-anchor="end">42.5</text>
<text x="22.4" y="256.2" class="tk" text-anchor="end">45.5</text>
<text x="22.4" y="230.2" class="tk" text-anchor="end">48.5</text>
<text x="22.4" y="204.2" class="tk" text-anchor="end">51.5</text>
<text x="22.4" y="178.2" class="tk" text-anchor="end">54.5</text>
<text x="22.4" y="152.2" class="tk" text-anchor="end">57.5</text>
<path d="M27,281v3.4M59.6,281v3.4M92.2,281v3.4M124.9,281v3.4M157.5,281v3.4M27,281h-3.4M27,255h-3.4M27,229h-3.4M27,203h-3.4M27,177h-3.4M27,151h-3.4" stroke="#333" stroke-width=".5"/>
<rect x="31.8" y="201.7" width="8.4" height="4.6" fill="#f2f2f2" stroke="#333" stroke-width=".4"/>
<text x="36" y="205.3" class="lb" text-anchor="middle">170</text>
<rect x="56.3" y="201.7" width="8.4" height="4.6" fill="#f2f2f2" stroke="#333" stroke-width=".4"/>
<text x="60.5" y="205.3" class="lb" text-anchor="middle">160</text>
<rect x="92.6" y="180.3" width="8.4" height="4.6" fill="#f2f2f2" stroke="#333" stroke-width=".4"/>
<text x="96.8" y="183.9" class="lb" text-anchor="middle">150</text>
<rect x="99.4" y="158.2" width="8.4" height="4.6" fill="#f2f2f2" stroke="#333" stroke-width=".4"/>
<text x="103.6" y="161.8" class="lb" text-anchor="middle">140</text>
<rect x="90.8" y="236.7" width="8.4" height="4.6" fill="#f2f2f2" stroke="#333" stroke-width=".4"/>
<text x="95" y="240.3" class="lb" text-anchor="middle">150</text>
<rect x="81.8" y="259.7" width="8.4" height="4.6" fill="#f2f2f2" stroke="#333" stroke-width=".4"/>
<text x="86" y="263.4" class="lb" text-anchor="middle">140</text>
<rect x="83.3" y="274.7" width="8.4" height="4.6" fill="#f2f2f2" stroke="#333" stroke-width=".4"/>
<text x="87.5" y="278.4" class="lb" text-anchor="middle">130</text>
<rect x="127.8" y="214.7" width="8.4" height="4.6" fill="#f2f2f2" stroke="#333" stroke-width=".4"/>
<text x="132" y="218.3" class="lb" text-anchor="middle">160</text>
<circle cx="27" cy="151" r="1.4" fill="#b01010"/>
<circle cx="157.5" cy="151" r="1.4" fill="#b01010"/>
<circle cx="27" cy="281" r="1.4" fill="#b01010"/>
<circle cx="157.5" cy="281" r="1.4" fill="#b01010"/>
<circle cx="92.2" cy="216" r="1.4" fill="#b01010"/>
<text x="90.5" y="217.2" class="lb" text-anchor="end" fill="#333">5</text>
<text x="92" y="148.8" font-size="7.2" text-anchor="middle">Tool shaft torque/Nm</text>
<text x="91.3" y="300.4" font-size="7.0" text-anchor="middle">A:Turning radius/mm</text>
<text transform="translate(9.5,225) rotate(-90)" font-size="7.05" text-anchor="middle">B:Shovel blade inclination/°</text>
</g>
<g>
<rect x="222.5" y="151" width="131" height="130" fill="#00caff"/>
<path d="M222.5,281l131,0 0-130-131,0 0,126.8zM284.7,229.8l-1.4-.8-1.9-1.6-1.1-1.6-.9-3.3 .3-3.3 1.5-3.2 .2-.3 3-2.9 .3-.3 3.3-1.6 3.3-.8 3.3,0 3.2,1.1 2.3,1.6 1,1.2 1.1,2 .4,3.2-.7,3.3-.8,1.4-1.3,1.9-2,1.8-2.1,1.4-1.1,.6-3.3,.8-3.3,.2z" fill="#00d3ff"/>
<path d="M222.5,281l131,0 0-130-131,0 0,126.8zM288,235.5l-.3,0-3-.4-3.3-1.1-2.9-1.8-.3-.2-2.6-3-.7-1.6-.6-1.6-.4-3.3 .4-3.3 1.2-3.2 2.1-3.2 .6-.7 2.8-2.6 .4-.3 3.3-1.9 2.4-1.1 .9-.2 3.3-.7 3.3-.1 3.2,.5 1.8,.5 1.5,.7 3.3,2.3 .3,.3 2.2,3.3 .7,2.1 .3,1.1 .1,3.2-.4,2-.3,1.3-1.5,3.3-1.4,2-1.1,1.2-2.2,2-1.8,1.2-1.5,.9-3.2,1.4-3.3,.8-2.8,.2z" fill="#00daff"/>
<path d="M222.5,281l131,0 0-130-131,0 0,126.8zM284.7,238.9l-.9-.1-2.4-.6-3.2-1.4-2.1-1.3-1.2-1-2.1-2.3-1.2-1.8-.7-1.4-.9-3.2-.1-3.3 .4-3.3 1-3.2 .3-.6 1.6-2.6 1.7-2.3 .9-1 2.4-2.2 1.4-1.1 1.8-1.1 3.3-1.7 1.2-.4 2.1-.6 3.3-.6 3.3-.2 3.2,.3 3.3,.7 .9,.4 2.4,1.2 2.9,2 .3,.4 2.3,2.9 1,2 .5,1.3 .7,3.2-.1,3.2-.6,3.3-.5,1.2-.8,2.1-2,3.2-.5,.5-2.5,2.7-.7,.7-3.3,2.4-.4,.2-2.9,1.4-3.2,1.2-2.7,.7-.6,.1-3.3,.2z" fill="#00dffe"/>
<path d="M222.5,281l131,0 0-130-131,0 0,126.8zM284.7,242l-.3,0-3-.5-3.2-1.1-3.3-1.6-.1,0-3.2-2.6-.7-.7-2.3-3.3-.2-.4-1.2-2.8-.7-3.2 0-3.3 .4-3.3 1-3.2 1.6-3.2 2.1-3.2 .1-.1 3.1-3.3 .1,0 3.3-2.5 1-.7 2.2-1.2 3.3-1.5 1.8-.5 1.5-.5 3.3-.6 3.3-.2 3.2,.2 3.3,.6 1.4,.5 1.9,.7 3.2,1.7 1.1,.8 2.2,2.1 1,1.1 2,3.3 .3,.6 .8,2.7 .5,3.2-.1,3.2-.6,3.3-.6,1.6-.6,1.7-1.8,3.2-.9,1.2-1.7,2-1.6,1.7-1.8,1.6-1.4,1.1-3.3,2-.3,.2-3,1.3-3.2,1.1-3.3,.7-1.5,.1-1.8,.1z" fill="#00e4fb"/>
<path d="M222.5,281l131,0 0-130-131,0 0,126.8zM274.9,242.2l-.3-.2-3-1.9-1.7-1.3-1.5-1.7-1.4-1.6-1.9-3.3-1.1-3.2-.5-3.2 0-3.3 .5-3.3 .9-3.2 .2-.4 1.3-2.8 2-3.3 2.7-3.3 .5-.5 3.1-2.7 .2-.2 3.3-2.1 3.2-1.8 3.3-1.3 3.3-.9 .9-.2 2.4-.4 3.3-.2 3.2,.1 3.3,.4 .3,.1 3,.9 3.2,1.4 1.6,1 1.7,1.2 2.3,2 1,1.2 1.5,2 1.6,3.3 .2,.6 .7,2.7 .3,3.2-.1,3.2-.6,3.3-.3,.9-.9,2.4-1.6,3.2-.8,1.2-1.5,2-1.8,2.1-1.2,1.2-2.1,1.8-1.9,1.5-1.3,.8-3.3,1.8-1.2,.6-2.1,.8-3.2,1-3.3,.7-3.3,.3-3.3-.1-3.3-.4-3.2-.9z" fill="#00e8f8"/>
<path d="M222.5,281l131,0 0-130-131,0 0,126.8zM278.2,246.1l-3.3-1.1-3.3-1.7-2-1.3-1.2-1-2.3-2.2-1-1.3-1.4-2-1.6-3.3-.3-.9-.6-2.3-.4-3.2 0-3.3 .5-3.3 .5-1.9 .4-1.3 1.4-3.2 1.5-2.7 .4-.6 2.4-3.3 .5-.4 2.7-2.8 .5-.5 3.3-2.5 .4-.2 2.9-1.8 3.2-1.6 3.3-1.2 3.3-.9 3.3-.6 3.3-.2 3.2,0 3.3,.4 3.3,.8 3.2,1.2 1.3,.6 2,1.2 2.9,2.1 .4,.4 2.6,2.8 .7,.9 1.4,2.3 1.3,3.3 .6,2.1 .2,1.2 .2,3.2-.1,3.2-.3,1.7-.4,1.6-1.1,3.3-1.5,3.2-.3,.6-1.8,2.6-1.5,2-1.2,1.3-2.1,2.1-1.3,1.2-2,1.4-2.7,1.8-.5,.3-3.3,1.7-3.2,1.2-.1,.1-3.2,.9-3.3,.6-3.3,.3-3.3,0-3.3-.3z" fill="#00edf5"/>
<path d="M222.5,281l131,0 0-130-131,0 0,126.8zM278.2,248.5l-.1,0-3.2-1-3.3-1.4-1.5-.9-1.7-1.1-2.7-2.1-.6-.6-2.3-2.6-1-1.6-1-1.7-1.4-3.3-.8-3.2-.1-.5-.3-2.7 .1-3.3 .2-1.4 .3-1.9 .9-3.2 1.3-3.2 .8-1.5 1-1.8 2.3-3.3 2.9-3.2 .4-.4 3.2-2.8 3.3-2.3 1.7-1 1.6-.9 3.2-1.4 2.5-1 .8-.2 3.3-.9 3.3-.5 3.3-.3 3.2,0 3.3,.4 3.3,.6 3,.9 .2,.1 3.3,1.6 2.7,1.6 .6,.4 3.2,2.9 .1,0 2.4,3.2 .9,1.4 .9,1.8 1.2,3.3 .6,3.3 .2,3.2-.2,3.2-.6,3.3-1.1,3.3-1,2.4-.4,.8-2,3.2-.9,1.4-1.6,1.9-1.7,1.9-1.4,1.4-1.9,1.6-2.1,1.6-1.2,.8-3.2,1.9-1.1,.5-2.2,1.1-3.3,1.2-3.2,.9-.5,.1-2.8,.5-3.3,.3-3.3,0-3.3-.2z" fill="#00f1f2"/>
<path d="M222.5,281l131,0 0-130-131,0 0,126.8zM271.6,248.6l-.2-.1-3-1.7-2.4-1.6-.9-.7-2.7-2.5-.6-.7-1.9-2.5-1.4-2.5-.4-.8-1.1-3.3-.8-3.2-.3-3.2 .2-3.3 .5-3.3 .8-3.2 1.1-2.9 .2-.3 1.7-3.3 2.1-3.3 2.6-3.1 .1-.1 3.2-3.1 .1-.1 3.1-2.5 1.2-.8 2.1-1.3 3.3-1.8 .4-.2 2.8-1.1 3.3-1.2 3.3-.8 .5-.1 2.8-.5 3.3-.2 3.2,0 3.3,.2 2.8,.5 .5,.1 3.2,.9 3.3,1.4 1.7,.8 1.6,1 3.2,2.3 .1,.1 3,3.2 .3,.3 1.9,2.9 1.6,3.2 1,3.3 .6,3.3 .1,3.2-.2,3.2-.7,3.3-.9,3.3-.2,.3-1.3,2.9-1.8,3.2-.1,.3-2.2,3-1.1,1.3-1.8,2-1.5,1.4-2.1,1.8-1.2,.9-3.3,2.2-.2,.1-3,1.7-3.3,1.5-3.3,1.1-3.2,.9-3.3,.6-3.3,.4-3.3,0-3.3-.2-3.2-.5-3.3-.9z" fill="#00f6ef"/>
<path d="M222.5,281l131,0 0-130-131,0 0,126.8zM274.9,251.9l-.6-.1-2.7-1-3.2-1.5-1.4-.8-1.9-1.3-2.5-2-.8-.7-2.3-2.5-1-1.4-1.2-1.8-1.6-3.3-.5-1.3-.6-2-.6-3.2-.2-3.2 .1-3.3 .5-3.3 .8-3.2 1.3-3.2 1.6-3.3 .4-.7 1.7-2.6 1.6-2.1 .9-1.1 2.4-2.6 .7-.6 2.6-2.3 1.2-1 2-1.4 3-1.9 .3-.1 3.3-1.7 3.2-1.3 .2-.1 3.1-1 3.3-.8 3.3-.5 3.3-.3 3.2-.1 3.3,.3 3.3,.5 3.2,.8 3.2,1.1 .1,.1 3.3,1.6 2.5,1.5 .8,.6 3,2.7 .3,.2 2.5,3.1 .7,1.1 1.2,2.1 1.5,3.2 .9,3.3 .5,3.3 .1,3.2-.3,3.2-.6,3.3-1,3.3-1.3,3.2-1,1.8-.8,1.4-2.2,3.3-.2,.4-2.5,2.9-.8,.8-2.5,2.4-.8,.7-3.3,2.5-.1,0-3.2,2-2.3,1.3-.9,.5-3.3,1.3-3.3,1.2-1,.3-2.2,.5-3.3,.6-3.3,.3-3.3,.1-3.3-.2-3.2-.4z" fill="#00f8e8"/>
<path d="M222.5,281l131,0 0-130-131,0 0,126.8zM281.4,255l-.2,0-3-.4-3.3-.7-3.3-1-2.7-1.1-.5-.3-3.3-1.8-1.7-1.2-1.6-1.2-2.2-2.1-1.1-1.2-1.6-2-1.7-2.6-.3-.6-1.4-3.3-1-3.3-.5-2.8-.1-.4-.2-3.2 .2-3.3 .1-.6 .4-2.7 .9-3.2 1.1-3.2 .8-1.8 .8-1.5 1.9-3.3 2.4-3.2 1.5-1.7 1.4-1.5 1.9-1.8 1.7-1.5 4.4-3.3 .4-.2 3.3-1.9 2.2-1.1 1.1-.5 3.2-1.3 3.3-1 1.8-.4 1.5-.4 3.3-.5 3.3-.3 3.2-.1 3.3,.2 3.3,.5 2.7,.6 .5,.1 3.3,1.1 3.3,1.4 1,.6 2.3,1.4 2.5,1.8 .8,.7 2.6,2.6 .6,.8 1.8,2.5 1.5,2.6 .3,.6 1.3,3.2 .8,3.3 .4,3.3 .1,3.2-.3,3.2-.6,3.3-1,3.3-1,2.6-.2,.6-1.7,3.2-2.1,3.3-2.5,3.3-3.3,3.3-3.3,2.8-.4,.3-2.9,2-2,1.3-1.3,.7-3.2,1.7-2.1,.9-4.5,1.5-3.2,.8-3.3,.6-2.6,.3-.7,.1-3.3,.1z" fill="#00f9dc"/>
<path d="M222.5,281l131,0 0-130-131,0 0,126.8zM274.9,255.7l-2.8-.7-.5-.2-3.2-1.3-3.3-1.6-.3-.1-3-2.1-1.6-1.2-1.7-1.6-1.6-1.7-1.7-2.1-.7-1.1-1.8-3.2-.7-1.7-.7-1.6-.8-3.3-.5-3.2-.2-3.2 .2-3.3 .5-3.3 .8-3.2 .7-1.9 .5-1.3 1.5-3.3 1.2-2.3 .6-1 2.3-3.2 .4-.5 2.4-2.7 .9-1 2.4-2.3 .9-.7 3.2-2.6 .1,0 3.2-2.1 1.9-1.1 1.4-.7 3.3-1.6 2.5-.9 .7-.3 3.3-1 3.3-.8 3.3-.5 3.3-.4 3.2,0 3.3,.1 3.3,.5 3.2,.7 3.3,.9 1.9,.8 1.4,.6 3.3,1.7 1.4,.9 1.9,1.4 2.2,1.8 1,1.1 1.9,2.2 1.4,1.9 .8,1.4 1.7,3.2 .8,2.1 .4,1.1 .7,3.3 .4,3.3 0,3.2-.3,3.2-.6,3.3-.6,2.3-.3,1-1.3,3.2-1.6,3.2-.1,.3-1.9,3-1.4,1.9-1,1.4-2.2,2.4-.8,.8-2.5,2.4-1,.8-2.3,1.8-2.1,1.5-1.2,.7-3.3,1.9-1.3,.7-1.9,.9-3.3,1.3-3.2,1-.1,0-3.2,.8-3.3,.6-3.3,.3-3.3,.2-3.3-.2-3.2-.3z" fill="#00facf"/>
<path d="M222.5,281l131,0 0-130-131,0 0,126.8zM281.4,258.4l-1.9-.2-1.3-.1-3.3-.6-3.3-.9-3.2-1.1-1.2-.5-2.1-1-3.3-2-.4-.2-2.9-2.3-1.1-1-2.2-2.3-.7-1-2.3-3.2-1.6-3.2-1.3-3.3-.6-2.5-.2-.8-.4-3.2-.1-3.2 .1-3.3 .5-3.3 .1-.2 .8-3 1.1-3.2 1.4-3.2 0-.1 1.9-3.3 1.3-2.1 .9-1.1 2.4-3.1 .2-.1 3.1-3.3 3.3-2.8 .5-.5 2.8-1.9 1.9-1.3 1.3-.8 3.3-1.7 1.6-.7 1.7-.8 3.2-1.2 3.3-1 1.4-.3 1.9-.4 3.3-.6 3.3-.3 3.2-.1 3.3,.2 3.3,.3 3.2,.7 1,.2 2.3,.7 3.3,1.2 2.8,1.4 .5,.2 3.3,2.1 1.2,.9 2,1.7 1.6,1.5 1.7,2 1,1.3 2.1,3.3 .2,.4 1.2,2.8 1.1,3.2 .7,3.3 .2,1.9 .2,1.4 0,3.2-.2,1.6-.1,1.6-.6,3.3-1,3.3-1.2,3.2-.3,.7-1.3,2.5-1.9,3.3-.1,.2-2.2,3.1-1.1,1.2-1.7,2-1.5,1.5-1.9,1.7-1.4,1.3-2.6,2-.7,.5-3.3,2.1-1.2,.7-2.1,1.1-3.2,1.5-1.6,.6-1.7,.6-3.3,1-3.2,.9-3.3,.5-1.9,.2-1.4,.2-3.3,.1z" fill="#00fbc3"/>
<path d="M222.5,281l131,0 0-130-131,0 0,126.8zM271.6,258.4l-.5-.2-2.7-.9-3.3-1.4-1.7-.9-1.6-.9-3.3-2.3-.1,0-3.2-2.9-.3-.4-2.7-3.3-.2-.2-1.9-3-1.4-2.9-.1-.3-1.2-3.3-.7-3.3-.4-3.2-.1-3.2 .2-3.3 .5-3.3 .8-3.2 1-3 .1-.2 1.4-3.3 1.8-3.3 2.1-3.2 1.1-1.5 1.4-1.7 1.9-2.2 1.1-1.1 2.2-2 1.4-1.3 1.9-1.4 2.4-1.8 .9-.5 3.2-2 1.4-.7 1.9-1 3.3-1.4 3.2-1.2 3.3-.9 3.3-.8 3.3-.5 3.3-.3 3.2-.2 3.3,.2 3.3,.3 3.2,.6 3.3,.8 3.2,1.1 .1,0 3.3,1.6 3,1.7 .3,.1 3.2,2.4 .8,.7 2.5,2.4 .8,.8 2.5,3.3 1.8,3.3 1.4,3.2 1,3.2 .6,3.3 .3,3.3 0,3.2-.3,3.2-.6,3.3-.9,3.3-.1,.2-1.1,3-1.5,3.2-.6,1.1-1.3,2.2-2,2.9-.2,.4-2.7,3.2-3.2,3.2-.4,.5-3.3,2.8-.1,0-3.2,2.3-1.5,1-1.8,1-3.3,1.8-.9,.4-2.3,1-3.3,1.2-3.2,1-.1,.1-3.2,.7-3.3,.6-3.3,.3-3.3,.2-3.3-.1-3.2-.3-3.3-.5z" fill="#00fcb7"/>
<path d="M222.5,281l131,0 0-130-131,0 0,126.8zM281.4,261.6l-.8-.1-2.4-.2-3.3-.5-3.3-.8-3.2-1-2.1-.8-1.2-.5-3.3-1.7-1.7-1-1.6-1.1-2.7-2.1-.6-.5-2.7-2.8-.5-.7-1.9-2.6-1.4-2.2-.6-1-1.4-3.2-1.1-3.3-.2-.8-.5-2.5-.4-3.2 0-3.2 .2-3.3 .5-3.3 .2-.9 .6-2.3 1.1-3.2 1.4-3.3 .2-.5 1.5-2.8 1.8-2.8 .2-.4 2.5-3.2 .5-.8 2.3-2.5 1-1 2.4-2.3 .9-.7 3.2-2.5 .1-.1 3.3-2.2 1.6-.9 1.6-1 3.3-1.6 1.6-.7 1.7-.7 3.2-1.1 3.3-1 2.1-.5 1.2-.2 3.3-.5 3.3-.3 3.2-.1 3.3,0 3.3,.3 3.2,.6 1.3,.2 2,.6 3.3,1 3.3,1.4 .6,.3 2.7,1.5 2.7,1.8 .5,.3 3.3,2.8 .1,.1 3,3.2 2.2,3.3 1.8,3.3 1.3,3.2 .9,3.2 .5,2.8 .1,.5 .3,3.3-.1,3.2-.3,3.2 0,.1-.6,3.2-.9,3.3-1.2,3.2-.6,1.3-.9,1.9-1.8,3.3-.5,.9-1.7,2.4-1.6,2.1-.9,1.1-2.4,2.6-.7,.6-2.5,2.4-3.3,2.7-2.1,1.5-1.2,.7-3.3,2-.9,.5-2.4,1.1-3.2,1.5-1.8,.6-1.5,.6-3.3,.9-3.2,.8-3.3,.6-3.3,.4-.7,0-2.6,.1z" fill="#00fdab"/>
<path d="M222.5,281l131,0 0-130-131,0 0,126.8zM271.6,261.6l-.5-.1-2.7-.8-3.3-1.3-2.6-1.2-.7-.3-3.3-2-1.3-.9-2-1.5-1.9-1.7-1.3-1.4-1.6-1.9-1.7-2.2-.7-1.1-1.8-3.2-.8-1.8-.5-1.4-1-3.3-.7-3.3-.3-3.2-.1-3.2 .3-3.3 .5-3.3 .8-3.2 1-3.2 0-.1 1.4-3.2 1.6-3.3 .3-.4 1.7-2.8 1.6-2.2 3.2-4 3.6-3.6 3-2.5 .8-.7 2.5-1.8 3.3-2.1 3.2-1.8 1.5-.8 1.8-.8 3.3-1.4 3.1-1.1 .1,0 3.3-.9 3.3-.7 3.3-.6 3.3-.3 3.2-.1 3.3,.1 3.3,.2 3.2,.5 3.3,.8 3.3,1 .3,0 3,1.3 3.3,1.6 .7,.4 2.5,1.6 2.2,1.7 1.1,.9 2.4,2.3 .9,.9 1.9,2.3 1.3,2.1 .8,1.2 1.6,3.3 .9,2.2 .4,1 .8,3.2 .6,3.3 .2,3.3 0,3.2-.4,3.2-.6,3.3-.8,3.3-.2,.4-1,2.8-1.5,3.2-.8,1.5-.9,1.8-2.1,3.3-.2,.2-2.3,3-1,1.1-1.9,2.1-1.4,1.4-2.1,1.9-1.1,1-2.9,2.3-.4,.2-3.3,2.2-1.4,.8-1.9,1.1-3.3,1.6-1.2,.5-2,.9-3.3,1.1-3.3,1-1.1,.3-2.1,.5-3.3,.5-3.3,.4-3.3,.1-3.3,0-3.2-.2-3.3-.5z" fill="#00fe9e"/>
<path d="M222.5,281l131,0 0-130-131,0 0,126.8zM268.4,262.3l-2.3-.8-1-.4-3.3-1.5-2.5-1.4-.8-.4-3.3-2.3-.6-.5-2.6-2.3-1-.9-2.3-2.7-2.6-3.9-.7-1.2-1-2-1.3-3.2-.9-3.3 0-.1-.6-3.2-.3-3.2-.1-3.2 .3-3.3 .5-3.3 .2-.6 .6-2.6 1-3.2 1.4-3.3 .2-.6 1.4-2.7 1.9-3.2 2.3-3.2 1-1.3 1.7-2 1.5-1.7 1.6-1.6 1.7-1.5 2-1.7 1.3-1.1 3-2.1 .3-.2 3.3-2.1 1.8-1 1.4-.8 3.3-1.5 2.3-1 1-.3 3.2-1.1 3.3-.9 3.3-.8 .9-.1 2.4-.4 3.3-.3 3.2-.1 3.3,0 3.3,.3 3.2,.4 .4,.1 2.9,.6 3.3,1 3.3,1.2 1,.4 2.3,1.1 3.2,1.9 .5,.3 2.8,2.1 1.4,1.2 1.9,1.8 1.3,1.4 1.9,2.4 .7,.8 2,3.3 .6,1.3 .9,2 1.2,3.2 .8,3.2 .4,2.5 .1,.8 .2,3.3 0,3.2-.3,2.7-.1,.5-.6,3.3-.9,3.3-1.1,3.2-.6,1.4-.8,1.8-1.7,3.3-.8,1.2-1.3,2.1-1.9,2.6-.5,.6-2.8,3.2 0,.1-3.3,3.2-3.2,2.8-.7,.5-2.6,1.9-2,1.3-1.3,.8-3.3,1.8-1.3,.6-2,1-3.2,1.3-2.7,1-.6,.2-3.3,.9-3.2,.8-3.3,.5-3.3,.4-3.3,.2-3.3,0-3.2-.3-3.3-.4-3.3-.7z" fill="#00ff92"/>
<path d="M222.5,281l131,0 0-130-131,0 0,126.8zM274.9,265.2l-2.7-.4-.6-.2-3.2-.8-3.3-1.1-2.8-1.2-.5-.2-3.3-1.7-3.3-2.2-3.1-2.4-.1-.2-3.1-3-.2-.3-2.4-3-.9-1.3-1.1-2-1.6-3.2-.5-1.3-.7-1.9-.9-3.3-.6-3.3-.3-3.2 0-3.2 .3-3.3 .5-3.3 .8-3.2 .9-2.9 .1-.3 1.3-3.3 1.6-3.3 .2-.4 1.7-2.8 1.6-2.4 .6-.8 2.5-3.3 .2-.1 2.9-3.2 .3-.3 3.2-2.9 .1-.1 3.3-2.6 .7-.5 2.6-1.8 2.4-1.5 .9-.5 3.2-1.7 2.2-1.1 1.1-.4 3.3-1.3 3.2-1.1 1.4-.4 1.9-.5 3.3-.7 3.3-.5 3.3-.3 3.2-.2 3.3,0 3.3,.3 3.2,.4 3.3,.7 3.2,.8 .1,0 3.3,1.2 4.4,2 2.1,1.2 3.1,2.1 .2,.1 3.3,2.8 .4,.4 2.8,3 .2,.2 2.4,3.2 .7,1.3 1.2,2 1.4,3.3 .7,1.8 .4,1.4 .8,3.2 .5,3.3 .2,3.3-.1,3.2-.4,3.2-.6,3.3-.8,3.3-1.1,3.2-1.4,3.2-.8,1.5-.9,1.8-2,3.3-.4,.4-2,2.8-1.2,1.6-1.5,1.6-1.8,2-1.3,1.3-2,1.8-1.7,1.5-1.5,1.1-2.9,2.1-.4,.3-3.3,2-1.7,.9-1.6,.9-3.3,1.5-2.1,.9-1.1,.5-3.3,1.1-3.3,.9-3.2,.7-.1,.1-3.2,.5-3.3,.3-3.3,.2-3.3,0-3.2-.2z" fill="#00ff86"/>
<path d="M222.5,281l131,0 0-130-131,0 0,126.8zM268.4,265.2l-1.6-.4-1.7-.6-3.3-1.3-2.8-1.4-.5-.2-3.3-2.1-1.4-1-1.8-1.4-2.1-1.8-1.2-1.2-1.8-2-1.5-1.9-1-1.4-1.9-3.3-.3-.7-1.2-2.5-1.2-3.2-.8-3.3-.1-.7-.4-2.6-.3-3.2 0-3.2 .3-3.3 .4-2.6 .1-.7 .8-3.2 1-3.2 1.3-3.3 .1-.2 1.4-3.1 1.8-3.2 .1,0 2.1-3.2 1.1-1.5 1.4-1.8 1.9-2.1 1-1.2 2.2-2.1 1.2-1.1 2.1-1.8 1.9-1.4 1.4-1.1 3.2-2.2 .1,0 3.3-1.9 2.4-1.4 .8-.4 3.3-1.4 3.3-1.3 .3-.1 2.9-.9 3.3-.9 3.3-.7 3.3-.5 2-.2 1.3-.2 3.2-.1 3.3,0 3.3,.2 .4,.1 2.8,.3 3.3,.7 3.3,.8 3.3,1.1 .8,.3 2.5,1.1 3.2,1.6 .9,.5 2.4,1.6 2.3,1.7 1,.8 3.2,3.2 2.2,2.5 2.2,3.2 1.8,3.3 .4,.9 1,2.4 1,3.2 .8,3.2 .4,3.3 .1,1 .1,2.3-.1,3.2 0,.2-.4,3-.6,3.3-.8,3.3-1.1,3.2-.4,.9-1,2.3-1.7,3.3-.6,1.1-1.3,2.2-2,2.8-.3,.4-2.6,3.2-.3,.4-2.8,2.9-.5,.5-3,2.8-.3,.2-3.2,2.5-.7,.5-2.6,1.8-2.4,1.4-.9,.6-3.3,1.7-2.1,1-1.2,.5-3.2,1.3-4.5,1.5-2.1,.5-3.2,.7-3.3,.6-3.3,.4-3.3,.2-3.3,0-3.2-.2-3.3-.4-3.3-.6z" fill="#00ff7a"/>
<path d="M222.5,281l131,0 0-130-131,0 0,126.8zM278.2,268.3l-3-.3-.3,0-3.3-.6-3.2-.8-3.3-1-2.4-.8-.9-.4-3.3-1.6-2.4-1.3-.9-.5-3.2-2.3-.6-.5-2.7-2.3-.9-.9-2.4-2.7-.5-.5-2.2-3.3-.5-.8-1.4-2.5-1.4-3.2-.5-1.4-.6-1.8-.8-3.3-.5-3.3-.2-3.2 0-3.2 .2-3.3 .6-3.3 .7-3.2 .6-1.8 .4-1.4 1.3-3.3 1.5-3.3 .1,0 1.7-3.2 1.5-2.3 .6-.9 2.5-3.3 .2-.3 2.6-3 3.9-3.9 3.1-2.5 .2-.2 3.3-2.4 1-.7 2.3-1.5 3-1.8 .3-.1 3.2-1.6 3.3-1.5 .1,0 3.2-1.2 3.2-1 3.3-.9 .6-.1 2.7-.6 3.3-.5 3.3-.3 3.2-.2 3.3,0 3.3,.2 3.2,.4 3.3,.6 1.7,.4 1.6,.4 3.3,1 3.3,1.3 3.2,1.6 3.3,1.9 .3,.2 3,2.2 1.2,1.1 2,1.9 1.4,1.4 1.9,2.3 .7,.9 2.2,3.2 .4,.8 1.3,2.5 1.3,3.3 .7,2.1 .3,1.1 .7,3.2 .4,3.3 .1,3.3-.1,3.2-.3,3.2-.6,3.3-.5,2-.4,1.3-1.1,3.2-1.3,3.2-.5,1.1-1.1,2.2-1.9,3.3-.3,.3-2,2.9-1.3,1.7-1.2,1.5-2,2.3-3.3,3.3-1.1,1-2.2,1.8-1.8,1.4-1.4,1.1-3.3,2.1 0,.1-3.3,1.9-2.5,1.3-.8,.4-3.3,1.4-3.2,1.3-.3,.2-3,.9-3.3,.9-3.2,.7-3.3,.6-1,.1-2.3,.3-6.6,.2z" fill="#00ff6d"/>
<path d="M222.5,281l131,0 0-130-131,0 0,126.8zM268.4,268l-.1,0-3.2-1-3.3-1.1-2.5-1.1-.8-.4-3.3-1.8-1.7-1.1-1.5-1.1-2.8-2.2-.5-.4-2.9-2.8-.4-.4-2.3-2.8-.9-1.4-1.3-1.9-1.7-3.3-.3-.6-1.1-2.6-1-3.2-.8-3.3-.4-2.7-.1-.6-.2-3.2 0-3.2 .3-3.1 0-.2 .6-3.3 .7-3.2 1-3.2 1-2.6 .2-.7 1.6-3.3 1.5-2.7 .2-.5 2.1-3.2 .9-1.4 1.5-1.9 2.7-3.3 2.4-2.4 .7-.8 2.5-2.3 1.2-.9 2.1-1.8 2.1-1.5 1.2-.8 3.3-2.1 .6-.4 2.7-1.4 3.2-1.7 .3-.1 3-1.2 3.3-1.3 2.4-.7 .8-.3 3.3-.8 3.3-.7 3.3-.5 3.3-.4 3.2-.2 3.3,0 3.3,.2 3.2,.4 3.3,.5 3.3,.8 3.2,1 .1,0 3.3,1.2 3.2,1.5 .9,.5 2.4,1.4 2.8,1.8 .5,.4 3.2,2.7 .2,.2 3.1,3.2 0,.1 2.5,3.2 .8,1.2 1.3,2 1.6,3.3 .4,1 .8,2.3 1,3.2 .6,3.2 .4,3.3 .2,3.3-.2,3.2-.3,3.2-.6,3.3-.9,3.3-1,3.2-1.4,3.2-1.6,3.3-.3,.6-1.5,2.7-1.8,2.6-.4,.6-2.5,3.2-.4,.5-2.5,2.8-.7,.8-2.6,2.5-.7,.6-3.1,2.6-.2,.2-3.2,2.4-1.1,.6-2.2,1.5-3.2,1.8-.1,.1-3.3,1.6-3.3,1.5-.1,.1-3.1,1.1-3.3,1.1-3.3,.9-.5,.1-2.7,.6-3.3,.5-3.3,.4-3.3,.2-3.3,0-3.2-.1-3.3-.4-3.3-.5z" fill="#00ff61"/>
<path d="M222.5,281l131,0 0-130-131,0 0,126.8zM265.1,268.4l-1.3-.4-2-.7-3.3-1.4-2.2-1.1-1.1-.6-3.2-2.1-.9-.6-2.4-1.9-1.6-1.4-1.7-1.6-1.5-1.6-1.7-2.2-.8-1-2.1-3.3-.4-.7-1.3-2.6-1.3-3.2-.7-2.2-.3-1-.7-3.3-.5-3.3-.2-3.2 .1-3.2 .3-3.3 .5-3.3 .7-3.2 .1-.3 .9-2.9 1.3-3.3 1.1-2.5 .3-.8 1.8-3.2 1.2-1.9 .8-1.3 2.3-3.3 .1-.2 2.6-3.1 .7-.8 2.3-2.4 1-.9 2.5-2.3 .7-.7 3.3-2.6 .1,0 4.8-3.3 1.7-1 3.3-1.8 .8-.4 2.4-1.1 3.3-1.4 1.9-.7 1.4-.5 3.2-1 3.3-.9 3.3-.7 1.5-.2 1.8-.3 3.3-.3 3.2-.2 3.3,0 3.3,.2 3.2,.3 2,.3 1.3,.2 3.3,.8 3.3,.9 3.3,1.2 .3,.2 2.9,1.3 3.3,1.7 .3,.2 3,1.9 1.7,1.3 1.5,1.3 2.2,2 1.1,1.2 1.9,2.1 1.4,1.8 .9,1.4 2,3.2 .4,.8 1.1,2.5 1.2,3.3 1,3.2 .6,3.2 .3,3.3 .1,3.3-.1,3.2-.4,3.2-.5,3.3-.9,3.3-1.1,3.2-1.3,3.2 0,.2-1.5,3.1-1.8,3.2 0,.1-2.2,3.2-1.1,1.5-1.3,1.7-2,2.3-.8,1-2.4,2.5-.8,.8-2.5,2.2-1.2,1-2.1,1.6-2.2,1.6-1,.8-3.3,2.1-.8,.4-2.5,1.4-3.3,1.6-.5,.3-2.8,1.1-3.2,1.3-2.6,.8-.7,.2-3.3,.9-3.2,.7-3.3,.5-3.3,.4-3.3,.2-3.3,.1-3.2-.2-3.3-.3-3.3-.5-3.2-.7z" fill="#0f5"/>
<path d="M222.5,281l131,0 0-130-131,0 0,126.8zM271.6,271.3l-.2-.1-3-.6-3.3-.9-3.3-1-1.7-.7-1.6-.7-3.3-1.6-1.6-.9-4.8-3.3-.1-.1-3.3-2.8-.3-.4-2.9-3.1-.1-.1-2.4-3.2-.8-1.3-1.2-2-1.6-3.3-.5-1.1-.8-2.1-.9-3.2-.7-3.3-.5-3.3-.1-3.2 0-3.2 .3-3.3 .6-3.3 .7-3.2 1-3.2 .4-1.2 .8-2.1 1.4-3.3 1.1-2 .6-1.2 2-3.2 .7-1 1.6-2.3 1.6-2.1 1-1.2 2.3-2.5 .7-.7 2.6-2.5 .8-.7 2.4-2.2 1.5-1.1 1.8-1.4 2.7-1.9 .6-.3 3.3-2 1.6-.9 1.7-.8 3.2-1.6 2-.8 1.3-.6 3.3-1.1 3.2-1 3.3-.9 3.3-.6 3.3-.5 3.3-.4 3.2-.2 3.3,0 3.3,.2 3.2,.3 3.3,.5 3.3,.7 1.3,.3 2,.6 3.3,1.1 3.2,1.4 .3,.2 3,1.5 2.8,1.7 .5,.3 3.2,2.4 .7,.5 2.6,2.5 .8,.8 2.5,2.8 .3,.5 2.3,3.2 .7,1.1 1.2,2.1 1.4,3.3 .7,1.6 .5,1.7 .9,3.2 .5,3.2 .4,3.3 .1,3.3-.2,3.2-.3,3.2-.6,3.3-.8,3.3-.5,1.6-.6,1.6-1.3,3.2-1.4,3.1-.1,.2-1.8,3.3-1.4,2.1-.7,1.1-2.4,3.2-.2,.3-2.5,3-.8,.8-2.3,2.5-3.6,3.2-.6,.5-3.3,2.6-.2,.1-3,2.2-1.8,1.1-1.5,.9-4.4,2.4-2.2,1-3.3,1.4-2.1,.8-1.1,.4-3.3,1-3.3,.9-3.2,.7-1.6,.2-1.7,.3-3.3,.4-3.3,.2-3.3,.1-3.2-.2-3.3-.2z" fill="#00ff49"/>
<path d="M222.5,281l131,0 0-130-131,0 0,126.8zM268.4,271.9l-2.6-.7-.7-.2-3.3-1-3.3-1.3-1.5-.7-1.8-.9-3.2-1.8-.9-.5-4.4-3.3-1.3-1.1-2.2-2.2-1-1.1-1.8-2.1-2.4-3.2-1.9-3.3-1.5-3.3-1.2-3.2-.9-3.2-.2-.7-.5-2.6-.4-3.3-.1-3.2 0-3.2 .3-3.3 .5-3.3 .8-3.2 1-3.2 1.1-3.3 .6-1.3 .9-2 1.7-3.2 .7-1.2 1.2-2 2.1-3.1 .1-.2 2.6-3.3 .5-.6 2.4-2.6 .9-1 2.4-2.2 .9-.9 2.8-2.4 .4-.3 3.3-2.5 .7-.5 5.2-3.2 .7-.4 3.3-1.7 2.4-1.1 .8-.4 3.3-1.3 3.3-1.2 1.2-.4 2-.6 3.3-.8 3.3-.7 3.3-.5 3.3-.4 3.2-.2 3.3,0 3.3,.1 3.2,.4 3.3,.4 3.3,.7 3.3,.9 2.2,.7 1.1,.4 3.2,1.3 3.2,1.6 .1,0 3.3,2 1.8,1.2 1.4,1.1 2.7,2.1 3.3,3.3 .6,.7 2,2.6 1.3,1.8 .9,1.4 1.8,3.2 .6,1.3 .8,2 1.1,3.3 .8,3.2 .5,2.7 .1,.5 .3,3.3 .1,3.3-.1,3.2-.4,3 0,.2-.6,3.3-.8,3.3-1.1,3.2-.7,2-.5,1.2-1.6,3.3-1.2,2.3-.5,1-2.1,3.2-.7,1-1.6,2.2-1.7,2.1-1,1.2-2.3,2.5-.7,.8-2.5,2.4-.9,.8-2.4,2-1.6,1.2-1.7,1.3-2.9,2-.3,.2-3.3,2-2,1.1-1.3,.7-3.3,1.5-2.3,1-1,.4-3.2,1.2-3.3,1-2.5,.6-.8,.3-3.2,.6-3.3,.6-6.6,.6-3.3,0-3.2-.1-3.3-.3-3.3-.4z" fill="#00ff3c"/>
<path d="M222.5,281l131,0 0-130-131,0 0,126.8zM261.8,271.3l-.1-.1-3.2-1.2-3.3-1.4-1-.6-2.2-1.2-3.2-2-.1-.1-3.3-2.6-.7-.6-3.3-3.3-2.5-3-.2-.2-2.2-3.2-.9-1.5-1-1.8-1.4-3.3-.9-2.2-.3-1-.9-3.2-.6-3.3-.4-3.3-.1-3.2 0-3.2 .4-3.3 .5-3.3 .7-3.2 .7-2.5 .3-.7 1.2-3.3 1.4-3.3 1.6-3.2 1.9-3.2 2.2-3.3 1.3-1.7 1.2-1.6 2-2.3 .8-.9 3.2-3.2 2.6-2.4 1.1-.9 2.1-1.7 2.1-1.6 1.2-.8 3.3-2.1 .4-.3 2.9-1.6 3.1-1.6 .2-.1 3.2-1.5 3.3-1.3 1-.4 2.3-.8 3.2-.9 3.3-.9 3.3-.7 6.6-.8 3.2-.2 3.3,0 3.3,.1 3.2,.3 3.3,.4 1.2,.2 2.1,.5 3.3,.8 3.3,1.1 3.2,1.2 3.3,1.6 2.5,1.4 .8,.4 3.2,2.2 .8,.6 2.5,2.1 1.3,1.1 2,2.1 1.1,1.2 2.2,2.7 .4,.6 2.1,3.2 .8,1.5 .9,1.7 1.3,3.3 1.1,3.3 .8,3.2 .5,3.2 .3,3.3 .1,3.3-.2,3.2-.3,3.2-.6,3.3-.7,2.6-.1,.7-1.1,3.2-1.2,3.2-.8,1.8-.7,1.5-1.8,3.3-.8,1.4-1.2,1.8-2.1,3-.1,.2-2.7,3.3-.5,.6-2.4,2.7-.9,.8-2.5,2.4-.7,.7-3.1,2.5-.2,.2-3.3,2.4-.9,.7-2.3,1.5-2.9,1.8-.4,.2-3.3,1.7-2.8,1.3-.5,.2-3.3,1.3-3.2,1.2-1.7,.5-1.6,.5-3.3,.9-3.2,.7-3.3,.5-3.3,.4-3.3,.2-3.3,.1-3.2-.1-3.3-.3-3.3-.4-3.2-.6-3.3-.8z" fill="#00ff30"/>
<path d="M222.5,281l131,0 0-130-131,0 0,126.8zM271.6,274.9l-2.2-.4-1-.2-3.3-.8-3.3-1-3.3-1.1-.2-.2-3.1-1.3-3.2-1.7-.4-.2-2.9-1.8-2-1.4-3.9-3.3-.6-.7-2.5-2.6-.8-.9-1.8-2.3-1.5-2.2-.7-1-1.7-3.3-.9-1.9-.5-1.4-1.2-3.2-.8-3.2-.6-3.3-.2-1-.2-2.3-.1-3.2 .1-3.2 .2-3 .1-.3 .5-3.3 .8-3.2 .9-3.2 1-2.9 .2-.4 1.4-3.3 1.7-3.4 1.8-3 1.5-2.3 .6-1 2.4-3.3 .3-.2 2.5-3 .7-.8 3.3-3.3 2.7-2.4 .6-.5 3.2-2.6 .2-.2 3.1-2.1 1.7-1.1 1.6-1 3.3-1.9 .7-.3 2.6-1.3 3.2-1.5 1.3-.5 2-.8 3.3-1.1 3.2-1 1.5-.4 1.8-.4 3.3-.6 3.3-.5 3.3-.4 3.2-.2 3.3,0 3.3,.1 3.2,.2 3.3,.5 3.3,.6 3.2,.7 .1,.1 3.3,1 3.2,1.2 3.3,1.5 3.3,1.8 1.5,1 1.7,1.1 2.9,2.1 .4,.4 3.2,2.8 .1,.2 2.8,3.1 .5,.6 1.9,2.7 1.4,2 .7,1.2 1.6,3.2 .9,2.3 .4,1 1,3.3 .8,3.2 .5,3.2 .3,3.3 .1,3.3-.2,3.2-.4,3.2-.6,3.3-.8,3.3-1,3.2-.1,.2-1.2,3-1.4,3.3-.6,1.2-1.2,2.1-1.9,3.2-.2,.3-2.1,2.9-1.2,1.7-1.3,1.6-2,2.3-.9,1-2.4,2.3-.8,.9-2.4,2.1-1.4,1.1-1.9,1.6-2.3,1.7-1,.7-3.2,2.1-.8,.5-2.5,1.4-3.3,1.7-.2,.1-3.1,1.4-3.3,1.3-1.4,.5-1.8,.7-3.3,1-3.3,.8-3.2,.7-.7,.1-2.6,.4-3.3,.4-3.3,.2-3.3,.1-3.2-.1-3.3-.2z" fill="#00ff25"/>
<path d="M222.5,281l131,0 0-59.3-.1,.8-.9,3.3-1,3.2-1.2,3.2-.1,.2-1.4,3.1-1.6,3.3-.2,.3-1.8,2.9-1.5,2.3-.7,.9-2.5,3.3-.1,.2-2.7,3.1-3.2,3.2-.7,.6-2.9,2.6-.3,.3-3.3,2.6-.5,.4-2.8,1.9-2,1.4-1.2,.7-3.3,1.9-1.2,.6-2.1,1-3.3,1.5-1.7,.7-4.8,1.8-3.3,1-2,.5-1.3,.3-3.2,.7-3.3,.5-3.3,.4-3.3,.2-3.3,.1-3.2-.1-3.3-.2-3.3-.4-3.2-.6-3.3-.7-.8-.2-2.5-.7-3.3-1.2-3.3-1.4-3.2-1.6-2.7-1.6-.6-.4-3.3-2.3-.7-.5-2.5-2.2-1.2-1.1-2.1-2.3-.9-1-2.4-3.1-.1-.1-2-3.2-1.2-2.2-.5-1.1-1.4-3.3-1.1-3.2-.3-.9-.5-2.3-.6-3.3-.3-3.3-.1-3.2 .1-3.2 .3-3.3 .5-3.3 .6-2.9 .1-.3 1-3.2 1.1-3.3 1.1-2.6 .3-.7 1.6-3.2 1.4-2.5 .5-.7 2.1-3.3 .7-1 1.7-2.3 1.6-1.9 1.1-1.3 2.1-2.3 .9-.9 2.4-2.3 1.1-1 2.2-1.9 1.7-1.4 1.5-1.1 3-2.1 .3-.2 3.3-2 1.8-1 1.5-.8 3.3-1.7 1.8-.8 1.4-.6 3.3-1.3 3.3-1.1 .7-.3 2.5-.7 3.3-.8 3.3-.6 3.3-.5 3.3-.4 3-.2 .2,0 3.3-.1 2.4,.1 .9,0 3.2,.3 3.3,.4 3.3,.6 3.3,.8 3.3,1 .5,.1 2.7,1.1 3.3,1.4 1.6,.8 1.7,.9 3.2,2 .6,.4 2.7,2 1.5,1.2 1.8,1.6 1.6,1.6 1.7,1.9 1.1,1.4 2.2,2.9 .2,.4 1.9,3.2 1.6,3.2 1.3,3.3 1,3.3 .5,2.2 0-51-131,0 0,126.8z" fill="#00ff1a"/>
<path d="M222.5,281l131,0 0-54.4-.8,2.4-1.2,3.2-1.3,3-.1,.3-1.7,3.3-1.4,2.5-.5,.7-2.2,3.2-.6,1-1.8,2.3-1.5,1.8-1.3,1.5-2,2.1-1.1,1.1-2.2,2.1-1.3,1.1-1.9,1.7-2.1,1.6-1.2,.9-3.3,2.3 0,.1-3.2,1.9-2.3,1.3-1,.6-3.3,1.6-2.3,1-1,.5-3.3,1.2-3.2,1.2-1.4,.4-1.9,.5-3.3,.9-3.2,.6-3.3,.6-3.3,.4-3.3,.2-1.5,.1-4.5,0-.5-.1-3.3-.2-3.3-.4-3.2-.5-3.3-.7-3.3-.9-1.4-.5-1.9-.6-3.3-1.4-3.2-1.6-3.3-1.9-1.6-1-1.7-1.2-2.6-2-.6-.6-2.9-2.7-.4-.4-2.5-2.9-.8-1-1.6-2.2-1.7-2.7-.3-.5-1.6-3.3-1.4-3.2 0-.1-1-3.2-.8-3.2-.5-3.3-.4-3.3-.1-3.2 .1-3.2 .4-3.3 .5-3.3 .7-3.2 .9-3.2 .2-.6 1-2.7 1.4-3.3 .9-2 .6-1.2 1.9-3.2 .8-1.4 1.3-1.9 2-2.8 .3-.5 2.6-3.2 .4-.4 2.6-2.8 .6-.7 2.8-2.6 .5-.5 3.3-2.7 0-.1 3.2-2.4 3.3-2.2 3-1.8 .3-.2 3.3-1.8 2.6-1.3 .7-.3 3.2-1.4 3.3-1.3 .7-.3 2.6-.8 3.2-.9 3.3-.9 3.2-.6 .1,0 3.3-.5 3.3-.4 3.2-.2 3.3,0 3.3,.1 3.2,.2 3.3,.4 2.4,.4 .9,.2 3.3,.7 3.3,1 3.2,1.1 .6,.2 2.7,1.2 3.3,1.6 3.2,2 3.3,2.2 3.3,2.7 3.3,3.3 2.7,3.3 .6,.7 1.7,2.6 1.5,2.6 1.9,3.8 1.2,3.3 .2,.6 0-46.1-131,0 0,126.8z" fill="#00ff0a"/>
<path d="M222.5,281l131,0 0-47.8-1,2.3-1.6,3.3-.7,1.1-1.2,2.1-2,3.2-.1,0-2.3,3.3-2.7,3.3-3,3.2-1.8,1.8-1.5,1.4-1.8,1.6-2,1.7-1.2,1-3.1,2.3-.2,.1-3.3,2.2-1.5,.9-1.7,1-3.3,1.8-.9,.4-2.4,1.2-3.3,1.4-1.7,.7-1.6,.6-3.2,1.1-3.3,.9-2.4,.7-.9,.2-3.2,.6-3.3,.5-3.3,.4-3.3,.3-3.3,.1-3.2-.1-3.3-.2-3.3-.3-3.2-.5-3.3-.7-1.6-.3-1.7-.5-3.3-1.1-3.3-1.2-1.1-.5-2.1-1-3.3-1.7-.9-.6-2.4-1.5-2.4-1.7-.8-.7-3-2.5-.3-.3-2.9-3-.4-.4-2.3-2.9-1-1.4-1.2-1.8-1.9-3.2-.2-.4-1.3-2.9-1.2-3.3-.7-2.2-.3-1-.8-3.2-.5-3.3-.2-3.3-.1-3.2 .1-3.2 .3-3.3 .6-3.3 .7-3.2 .2-.8 .7-2.4 1.1-3.3 1.3-3.3 1.6-3.2 1.8-3.2 0-.2 2-3.1 1.3-1.9 1-1.4 2.3-2.9 .2-.3 2.9-3.2 .2-.3 3.2-3.2 3.3-3 .1-.1 3.2-2.5 .9-.7 2.3-1.7 2.4-1.5 .9-.6 3.3-1.9 1.4-.8 1.9-1 3.3-1.5 1.6-.8 1.6-.6 3.3-1.2 4.2-1.4 2.3-.7 6.6-1.4 3.3-.5 3.3-.3 3.2-.3 3.2,0 .1-.1 .1,.1 3.2,0 3.2,.2 3.3,.4 3.3,.6 3.3,.7 3.3,.8 1.4,.5 1.8,.6 3.3,1.3 2.9,1.3 .4,.2 3.2,1.8 2.1,1.3 1.2,.8 3.2,2.5 .1,0 3.3,2.9 .2,.3 3,3.2 .1,.1 2.4,3.2 .8,1.2 1.3,2.1 1.8,3.2 .2,.5 0-39.5-131,0 0,126.8z" fill="#0cff00"/>
<path d="M222.5,281l46.2,0-.3-.1-3.3-.6-3.3-.8-3.3-1-2.2-.7-1.1-.5-3.2-1.4-3-1.4-.3-.2-3.3-1.9-1.7-1.2-1.5-1-2.8-2.2-.5-.4-3.1-2.8-.2-.3-2.7-3-.6-.7-1.9-2.6-1.4-2.1-.7-1.1-1.7-3.2-.8-1.9-.6-1.4-1.2-3.3-.9-3.2-.6-2.6 0,38.4zM292.3,281l61.2,0 0-42.7-.2,.5-1.9,3.2-1.2,2-.8,1.2-2.3,3.3-.1,.2-2.4,3.1-.9,1-2,2.2-1.3,1.4-1.9,1.8-1.4,1.3-2.2,2-1.1,.9-2.9,2.4-.3,.2-3.3,2.3-3.3,2.1-3.2,1.8 0,.1-3.3,1.7-3.2,1.5-.1,.1-6.6,2.6-1.7,.6-1.5,.4-3.3,1-3.3,.8-3.2,.6zM222.5,219.2l0,.5 .1-.5 .7-3.2 .9-3.2 1.1-3.3 .5-1.2 .8-2.1 1.5-3.2 .9-1.7 .9-1.5 1.9-3.3 .5-.8 1.7-2.5 1.6-2 .9-1.2 2.4-2.8 .3-.4 3-3.1 .1-.2 3.1-2.9 .4-.4 2.9-2.4 1-.8 2.3-1.7 2.1-1.5 1.1-.8 3.3-2.1 .7-.4 2.6-1.4 3.3-1.8 .2-.1 3.1-1.3 3.2-1.4 1.3-.5 2-.7 3.3-1.1 3.2-.9 2.4-.5 .9-.3 3.3-.6 3.3-.5 3.3-.3 3.2-.3 3.3-.1 3.3,.1 3.2,.2 3.3,.3 3.3,.5 3.3,.7 1.1,.3 2.2,.5 3.2,1 3.3,1.2 3.3,1.5 3.2,1.7 1.1,.5 2.2,1.4 2.8,1.9 .5,.4 3.3,2.7 .2,.2 3.1,3 .2,.2 2.8,3.2 .2,.4 2.1,2.9 1.2,2 0-34.5-131,0 0,65z" fill="#23ff00"/>
<path d="M222.5,281l37,0-1-.3-3.3-1.1-3.2-1.3-1.2-.5-2.1-1.1-3.3-1.7-.7-.5-2.5-1.6-2.3-1.7-1-.7-2.9-2.5-.4-.4-2.9-2.8-.4-.5-2.3-2.8-1-1.3-1.3-2-1.9-3.1-.1-.1-1.6-3.2-1.4-3.3-.2-.6 0,29.9zM301.6,281l51.9,0 0-38.5-1.7,2.7-2.2,3.3-2.5,3.3-.1,.1-2.7,3.1-.6,.7-2.5,2.5-.8,.9-2.6,2.4-.7,.6-3.1,2.7-.2,0-3.2,2.5-1,.7-2.3,1.5-2.7,1.7-.6,.4-3.2,1.8-2.1,1.1-1.2,.6-3.3,1.5-2.8,1.2-.5,.2-3.3,1.1-3.2,1.1zM222.5,209.5l0,1.8 .6-1.8 1.3-3.3 1.4-3 .1-.2 1.7-3.2 1.4-2.6 .5-.7 2.1-3.3 .7-1 1.7-2.2 1.6-2 1.1-1.2 2.2-2.5 .7-.8 2.6-2.5 .7-.8 2.5-2.2 1.2-1 4.2-3.2 1.2-.9 3.2-2.2 .4-.2 2.9-1.8 2.7-1.5 .6-.3 3.3-1.6 2.8-1.3 .5-.2 3.2-1.3 3.3-1.2 1.7-.5 1.6-.5 3.2-.9 3.3-.8 3.3-.6 3-.5 .3,0 3.3-.4 3.2-.2 3.3-.1 3.3,0 3.2,.2 3.3,.3 1.5,.2 1.8,.3 3.3,.6 3.3,.8 3.2,.9 1.8,.7 1.5,.5 3.3,1.3 3.2,1.6 3.3,1.9 1.9,1.1 1.4,1 3.1,2.3 .2,.2 3.3,2.9 .1,.2 3.1,3.2 2.6,3.2 .7,1.1 0-30.3-131,0 0,55.2z" fill="#3bff00"/>
<path d="M222.5,281l30.7,0-1.2-.5-3.3-1.5-2.6-1.2-.7-.4-3.2-2-1.4-.9-1.9-1.4-2.5-1.9-.8-.7-2.8-2.5-.5-.5-2.5-2.7-.8-1-1.7-2.3-1.5-2.1-.7-1.2-1.9-3.2-.7-1.4 0,24.2zM307.9,281l45.6,0 0-34.8-1.6,2.3-1.7,2.3-.7,1-2.5,3.1-.1,.1-3,3.2-.2,.3-3.1,3-.2,.2-3.3,2.9-.2,.2-3.1,2.4-1.1,.8-2.1,1.5-2.6,1.7-.7,.5-3.3,2-1.4,.8-1.8,1-3.3,1.6-1.4,.7-1.9,.8-3.3,1.3zM222.5,203l0,2.6 1.2-2.6 1.6-3.2 .5-.9 1.4-2.4 1.8-2.9 .3-.4 2.3-3.2 .7-.9 1.9-2.3 1.4-1.7 1.4-1.6 1.9-1.9 1.3-1.4 2-1.7 1.6-1.5 1.6-1.4 2.4-1.8 .9-.8 3.3-2.3 .3-.2 2.9-1.9 2.2-1.4 1.1-.6 3.3-1.7 1.7-.9 1.6-.7 3.3-1.5 2.6-1 .6-.3 6.6-2.2 3.1-.8 .1,0 3.3-.8 3.3-.6 3.3-.5 3.3-.4 3.2-.2 3.3-.1 3.3,0 3.2,.2 3.3,.2 3.3,.5 3.3,.6 3.3,.7 1.4,.4 1.8,.5 3.3,1.1 3.3,1.3 .8,.4 2.4,1.1 3.3,1.7 .7,.4 2.6,1.6 2.4,1.6 .9,.7 3.1,2.6 .2,.1 3.2,3.2 2.9,3.2 .4,.5 0-26.5-131,0 0,48.8z" fill="#53ff00"/>
<path d="M222.5,281l25.6,0-2.7-1.3-3.2-1.9-.2,0-3.1-2.1-1.7-1.2-1.6-1.2-2.4-2.1-.9-.8-3.3-3.3-2-2.3-1.2-1.7-1.2-1.6-2.1-3.3 0,19.6zM313,281l40.5,0 0-31.5-1.6,2.3-1.7,2-.9,1.2-2.3,2.6-.6,.6-2.7,2.8-.5,.5-2.8,2.6-.7,.7-2.6,2.1-1.4,1.1-1.9,1.4-2.6,1.8-.6,.5-3.3,2.1-1.2,.7-2.1,1.2-3.2,1.8-.6,.3-2.7,1.3-3.3,1.4zM222.5,199.8l0,1.2 .6-1.2 1.9-3.3 .8-1.3 1.2-2 2-2.9 .3-.3 2.5-3.2 .5-.7 2.3-2.6 3-3.3 1.3-1.2 3.3-3 2.7-2.2 .5-.5 3.3-2.5 .4-.3 2.9-1.9 2-1.4 1.2-.7 3.3-1.9 1.1-.6 2.2-1.1 3.3-1.6 1.2-.5 2.1-.9 3.2-1.3 3.2-1.1 .1,0 3.3-1 3.2-.9 6.6-1.4 6.6-.8 3.2-.2 3.3-.2 3.3,0 3.2,.2 3.3,.2 3.3,.4 2.4,.4 .9,.2 3.3,.7 3.2,.9 3.3,1 1.4,.5 1.9,.7 3.2,1.5 2.3,1.1 1,.5 3.3,1.9 1.3,.8 2,1.4 2.5,1.8 .8,.7 2.9,2.6 .3,.3 2.9,3 .4,.4 0-23.2-131,0 0,45.5z" fill="#6aff00"/>
<path d="M222.5,281l21.2,0-1.5-.9-3.3-2-.6-.3-2.7-2-1.7-1.3-1.6-1.3-2.1-2-1.2-1.1-1.9-2.1-1.3-1.5-1.4-1.7-1.9-2.7 0,15.7zM317.4,281l36.1,0 0-28.4-1.9,2.4-2.8,3.2-1.8,2-3.3,3.3-1.4,1.3-3.8,3.2-1.4,1.1-2.8,2.1-.5,.3-3.2,2.3-1.1,.7-2.2,1.3-3.3,1.9 0,.1-3.2,1.6-3.3,1.6zM222.5,196.5l0,.6 .3-.6 2-3.3 1-1.4 1.2-1.8 2-2.7 .5-.5 2.7-3.3 .1-.2 2.9-3.1 .4-.4 2.9-2.8 .4-.4 3.2-2.8 .1-.1 3.2-2.6 .8-.6 2.5-1.8 2.1-1.5 1.2-.7 3.2-2 .9-.5 2.4-1.4 3.3-1.7 .4-.1 2.9-1.4 3.3-1.4 1.3-.5 1.9-.7 3.3-1.1 3.3-1 1.6-.5 1.6-.4 3.3-.7 3.3-.6 3.3-.5 3.3-.4 3.2-.2 3.3-.2 3.3,0 3.2,.1 3.3,.3 3.3,.4 3.3,.5 3.3,.7 3.2,.8 .9,.2 2.4,.8 3.3,1.2 3.2,1.3 .1,0 3.2,1.6 3.1,1.7 .2,0 3.3,2.1 1.5,1.1 1.8,1.3 2.4,1.9 .8,.8 2.7,2.5 .6,.7 0-20.2-131,0 0,42.2z" fill="#82ff00"/>
<path d="M222.5,281l17.3,0-.9-.6-3.3-2.1-.7-.5-2.6-2-1.5-1.3-1.8-1.6-1.6-1.7-1.6-1.6-1.4-1.6-1.9-2.4 0,12.2zM321.3,281l32.2,0 0-25.6-2.4,2.8-.9,1.1-2.1,2.2-1.1,1.2-2.2,2.1-1.1,1-2.5,2.2-.8,.6-3.3,2.6-3.3,2.4-1.3,.9-1.9,1.3-3.2,2-.1,0-3.3,1.8zM222.5,193.2l0,.4 .2-.4 2.2-3.2 .9-1.3 1.5-1.9 1.7-2.3 .9-1 2.4-2.8 3.7-3.7 2.9-2.7 .6-.5 2.7-2.3 1.2-1 4.4-3.3 .9-.6 3.3-2.1 3.2-2 3.3-1.7 0-.1 3.3-1.6 3.3-1.5 .1-.1 3.2-1.3 3.2-1.2 2.2-.8 1.1-.3 3.3-1 3.2-.8 3.3-.8 1.8-.3-64,0 0,39zM352.4,167.2l1.1,1.1 0-17.3-34.3,0 1.6,.3 3.2,.8 3.3,.9 3.6,1.2 2.9,1.2 3.3,1.5 1.2,.6 2.1,1.1 3.3,2 3.3,2.2 1.5,1.2 1.7,1.4z" fill="#9f0"/>
<path d="M222.5,281l13.7,0-.6-.4-3.3-2.4-.6-.4-2.7-2.3-1.1-1-2.1-2.1-3.3-3.6 0,9zM324.9,281l28.6,0 0-22.9-.1,.1-2.9,3.3-.3,.3-2.9,3-.3,.3-3.3,2.9 0,.1-3.3,2.7-.6,.4-2.7,2.1-1.7,1.2-1.6,1.1-3.2,2.1 0,.1-3.3,1.9zM222.5,190l0,.4 .3-.4 2.3-3.2 .7-.9 1.9-2.4 1.3-1.6 1.5-1.7 1.8-1.9 3.3-3.3 1.4-1.2 1.9-1.7 1.9-1.6 4.2-3.3 .4-.3 3.3-2.3 1-.6 2.3-1.4 3-1.8 .2-.2 3.3-1.7 2.8-1.4 .5-.2 3.3-1.5 3.3-1.4 .5-.2 6-2 3.3-1 .7-.2-56.4,0 0,35.8zM351.6,164l1.9,1.6 0-14.6-26.7,0 .5,.1 3.3,1.1 3.2,1.2 2,.8 1.3,.7 3.3,1.6 1.8,1 1.5,.8 3.3,2.1 .4,.4 2.8,2.1z" fill="#b1ff00"/>
<path d="M222.5,281l10.4,0-.6-.4-3.3-2.5-.3-.3-2.9-2.7-.7-.6-2.6-2.8 0,6.1zM328.2,281l25.3,0 0-20.4-.8,.9-2.5,2.6-.6,.7-2.6,2.5-.8,.7-2.5,2.2-1.3,1-2,1.6-2.2,1.7-1.1,.8-3.3,2.2-.3,.3-2.9,1.8zM222.5,186.8l0,.6 .5-.6 2.5-3.3 .3-.3 2.5-3 .7-.8 2.3-2.4 1-1.1 2.3-2.1 1-1 2.6-2.3 .7-.5 3.3-2.7 .1-.1 3.1-2.3 1.4-.9 1.9-1.3 3.1-1.9 .2-.1 3.2-1.9 2.5-1.3 .8-.4 3.3-1.6 2.8-1.3 .5-.2 3.3-1.3 3.2-1.2 1.7-.5-50.8,0 0,32.5zM350.6,160.8l2.9,2.3 0-12.1-21,0 1.3,.5 3.3,1.4 3,1.3 .3,.2 3.3,1.8 2.1,1.3 1.2,.7 3.2,2.3z" fill="#c9ff00"/>
<path d="M222.5,281l7.3,0-.8-.6-3.1-2.6-.1-.1-3.3-3.2 0,3.3zM331.3,281l22.2,0 0-18-1.6,1.8-3.4,3.2-1.5,1.4-2.1,1.8-1.2,1.1-2.8,2.2-.5,.3-3.3,2.4-.7,.6-2.6,1.6zM222.5,183.5l0,1.2 .9-1.2 2.4-2.9 .3-.4 2.9-3.2 3.3-3.3 3.3-3 .2-.2 3.1-2.6 .8-.7 2.5-1.8 1.8-1.4 1.4-1 3.3-2.2 .1,0 3.2-1.9 2.4-1.4 .8-.5 3.3-1.7 2.3-1.1 1-.4 6.6-2.8 .1,0-46,0 0,29.2zM349.2,157.5l1,.7 3.3,2.5 0-9.7-16.2,0 3.1,1.4 3.3,1.7 .2,.1 3.1,1.9z" fill="#e0ff00"/>
<path d="M222.5,281l4.4,0-1.1-.9-2.6-2.3-.7-.7 0,.7zM334.2,281l19.3,0 0-15.7-3.3,3.3-2.9,2.6-.3,.3-3.3,2.8-.3,.2-3,2.3-1.4,1-1.9,1.3zM222.5,180.2l0,1.9 1.5-1.9 1.8-2 1.1-1.2 2.1-2.3 1-.9 2.3-2.3 1.2-1 2.1-1.9 1.6-1.4 1.7-1.3 2.5-1.9 .8-.6 3.2-2.3 .6-.3 2.7-1.8 2.5-1.5 .8-.4 3.2-1.8 2-1.1 1.3-.6 3.3-1.5 2.5-1.1-41.8,0 0,26zM352.3,157.5l1.2,.9 0-7.4-12.1,0 2.3,1.1 3.3,1.9 .4,.2 2.8,1.9z" fill="#f8ff00"/>
<path d="M222.5,281l1.6,0-1.6-1.4zM337,281l16.5,0 0-13.5-.5,.5-2.8,2.7-.6,.5-2.6,2.3-1.2,1-2.1,1.7-2.1,1.6-1.2,.8-3.3,2.3zM222.5,177l0,2.6 2.3-2.6 1-1.1 2-2.1 1.2-1.3 3.3-3 2.5-2.3 .8-.6 3.3-2.6 4.4-3.2 2.1-1.5 2.9-1.8 .4-.2 3.3-1.9 2-1.2 1.2-.6 3.3-1.6 2.1-1-38.1,0 0,22.8zM350.7,154.2l2.8,2 0-5.2-8.3,0 1.8,1 3.2,2z" fill="#fff200"/>
<path d="M339.6,281l13.9,0 0-11.4-1.7,1.6-1.6,1.5-2.1,1.8-1.1,1-2.9,2.3-.4,.3-3.3,2.4zM222.5,177l0,.3 .2-.3 3-3.2 3.3-3.3 0-.1 3.3-3 .2-.2 3.1-2.5 .9-.7 2.4-1.9 1.9-1.3 1.4-1 3.2-2.2 .1-.1 3.2-1.9 2.2-1.4 1.1-.5 3.2-1.8 1.9-.9-34.6,0 0,22.8zM348.7,151l1.5,.9 3.3,2.2 0-3.1-3.3,0z" fill="#ffe000"/>
<path d="M342.2,281l11.3,0 0-9.3-3.1,2.8-.2,.1-3.2,2.8-.5,.4-2.8,2.1zM222.5,173.8l0,1.2 1.2-1.2 2.1-2.2 3.2-3.2 1.3-1.2 2-1.7 1.8-1.5 1.5-1.2 2.7-2 .6-.5 3.3-2.3 .7-.5 2.5-1.6 2.6-1.7 .7-.3 3.3-1.9 1.9-1-31.4,0 0,19.5zM351.9,151l1.6,1.1 0-1.1z" fill="#ffce00"/>
<path d="M344.6,281l8.9,0 0-7.3-.9,.8-2.4,2-1.4,1.3-1.8,1.4zM222.5,170.5l0,2.4 2.3-2.4 1-1 2.4-2.3 .8-.7 2.9-2.5 .4-.4 3.3-2.6 .3-.2 4.5-3.3 1.8-1.2 3.1-2.1 .1,0 3.3-2 2.2-1.2-28.4,0 0,16.2z" fill="#ffbc00"/>
<path d="M346.9,281l6.6,0 0-5.4-2.5,2.2-.8,.6-3.2,2.6zM222.5,170.5l0,.3 3.6-3.6 2.9-2.6 .7-.6 2.6-2.2 1.3-1 2-1.6 2.3-1.7 1-.7 3.3-2.2 .5-.4 2.7-1.7 2.6-1.5-25.5,0 0,16.2z" fill="#fa0"/>
<path d="M349.2,281l4.3,0 0-3.6-.4,.4-2.9,2.4zM222.5,167.2l0,1.6 1.6-1.6 1.7-1.6 1.8-1.6 1.4-1.3 2.4-1.9 .9-.8 3.3-2.5 3.3-2.4 1.3-.9 2-1.2 3.1-2-22.8,0 0,13z" fill="#ff9800"/>
<path d="M351.4,281l2.1,0 0-1.8zM222.5,164l0,2.8 3-2.8 .3-.2 3.2-2.9 .2-.1 3.1-2.5 1-.8 2.3-1.7 2.2-1.6 4.4-2.8 .5-.4-20.2,0 0,9.8z" fill="#ff8600"/>
<path d="M222.5,164l0,1 1-1 2.3-2 1.4-1.2 1.8-1.6 2.1-1.7 4.4-3.3 .1-.1 3.3-2.2 1.3-.9-17.7,0 0,9.8z" fill="#ff7400"/>
<path d="M222.5,160.8l0,2.3 2.6-2.3 .7-.6 3.2-2.7 3.3-2.6 .9-.7 2.4-1.6 2.3-1.6-15.4,0 0,6.5z" fill="#ff6200"/>
<path d="M222.5,160.8l0,.5 .7-.5 2.6-2.3 1.1-1 2.1-1.7 2.1-1.6 1.2-.9 3.2-2.3-13,0 0,6.5z" fill="#ff5000"/>
<path d="M222.5,157.5l0,2.1 2.4-2.1 .9-.7 3.1-2.6 .1,0 3.3-2.5 1-.7-10.8,0 0,3.2z" fill="#ff3e00"/>
<path d="M222.5,157.5l0,.4 .5-.4 2.8-2.3 1.1-1 2.1-1.6 2.2-1.6-8.7,0 0,3.2z" fill="#ff2c00"/>
<path d="M222.5,154.2l0,2.1 2.4-2.1 .9-.6 3.2-2.6 .1,0-6.6,0z" fill="#ff1a00"/>
<path d="M222.5,154.2l0,.4 .5-.4 2.8-2.2 1.2-1-4.5,0z" fill="#ff0a00"/>
<path d="M222.5,151l0,2.1 2.6-2.1z" fill="#fb0700"/>
<path d="M222.5,151l0,.5 .6-.5z" fill="#f70500"/>
<path d="M274.9,251.9l-.6-.1-2.7-1-3.2-1.5-1.4-.8-1.9-1.3-2.5-2-.8-.7-2.3-2.5-1-1.4-1.2-1.8-1.6-3.3-.5-1.3-.6-2-.6-3.2-.2-3.2 .1-3.3 .5-3.3 .8-3.2 1.3-3.2 1.6-3.3 .4-.7 1.7-2.6 1.6-2.1 .9-1.1 2.4-2.6 .7-.6 2.6-2.3 1.2-1 2-1.4 3-1.9 .3-.1 3.3-1.7 3.2-1.3 .2-.1 3.1-1 3.3-.8 3.3-.5 3.3-.3 3.2-.1 3.3,.3 3.3,.5 3.2,.8 3.2,1.1 .1,.1 3.3,1.6 2.5,1.5 .8,.6 3,2.7 .3,.2 2.5,3.1 .7,1.1 1.2,2.1 1.5,3.2 .9,3.3 .5,3.3 .1,3.2-.3,3.2-.6,3.3-1,3.3-1.3,3.2-1,1.8-.8,1.4-2.2,3.3-.2,.4-2.5,2.9-.8,.8-2.5,2.4-.8,.7-3.3,2.5-.1,0-3.2,2-2.3,1.3-.9,.5-3.3,1.3-3.3,1.2-1,.3-2.2,.5-3.3,.6-3.3,.3-3.3,.1-3.3-.2-3.2-.4-3.3-.8M271.6,274.9l-2.2-.4-1-.2-3.3-.8-3.3-1-3.3-1.1-.2-.2-3.1-1.3-3.2-1.7-.4-.2-2.9-1.8-2-1.4-3.9-3.3-.6-.7-2.5-2.6-.8-.9-1.8-2.3-1.5-2.2-.7-1-1.7-3.3-.9-1.9-.5-1.4-1.2-3.2-.8-3.2-.6-3.3-.2-1-.2-2.3-.1-3.2 .1-3.2 .2-3 .1-.3 .5-3.3 .8-3.2 .9-3.2 1-2.9 .2-.4 1.4-3.3 1.7-3.4 1.8-3 1.5-2.3 .6-1 2.4-3.3 .3-.2 2.5-3 .7-.8 3.3-3.3 2.7-2.4 .6-.5 3.2-2.6 .2-.2 3.1-2.1 1.7-1.1 1.6-1 3.3-1.9 .7-.3 2.6-1.3 3.2-1.5 1.3-.5 2-.8 3.3-1.1 3.2-1 1.5-.4 1.8-.4 3.3-.6 3.3-.5 3.3-.4 3.2-.2 3.3,0 3.3,.1 3.2,.2 3.3,.5 3.3,.6 3.2,.7 .1,.1 3.3,1 3.2,1.2 3.3,1.5 3.3,1.8 1.5,1 1.7,1.1 2.9,2.1 .4,.4 3.2,2.8 .1,.2 2.8,3.1 .5,.6 1.9,2.7 1.4,2 .7,1.2 1.6,3.2 .9,2.3 .4,1 1,3.3 .8,3.2 .5,3.2 .3,3.3 .1,3.3-.2,3.2-.4,3.2-.6,3.3-.8,3.3-1,3.2-.1,.2-1.2,3-1.4,3.3-.6,1.2-1.2,2.1-1.9,3.2-.2,.3-2.1,2.9-1.2,1.7-1.3,1.6-2,2.3-.9,1-2.4,2.3-.8,.9-2.4,2.1-1.4,1.1-1.9,1.6-2.3,1.7-1,.7-3.2,2.1-.8,.5-2.5,1.4-3.3,1.7-.2,.1-3.1,1.4-3.3,1.3-1.4,.5-1.8,.7-3.3,1-3.3,.8-3.2,.7-.7,.1-2.6,.4-3.3,.4-3.3,.2-3.3,.1-3.2-.1-3.3-.2-3.3-.4M239.8,281l-.9-.6-3.3-2.1-.7-.5-2.6-2-1.5-1.3-1.8-1.6-1.6-1.7-1.6-1.6-1.4-1.6-1.9-2.4M353.5,255.4l-2.4,2.8-.9,1.1-2.1,2.2-1.1,1.2-2.2,2.1-1.1,1-2.5,2.2-.8,.6-3.3,2.6-3.3,2.4-1.3,.9-1.9,1.3-3.2,2-.1,0-3.3,1.8-2.7,1.4M222.5,193.6l.2-.4 2.2-3.2 .9-1.3 1.5-1.9 1.7-2.3 .9-1 2.4-2.8 3.7-3.7 2.9-2.7 .6-.5 2.7-2.3 1.2-1 4.4-3.3 .9-.6 3.3-2.1 3.2-2 3.3-1.7 0-.1 3.3-1.6 3.3-1.5 .1-.1 3.2-1.3 3.2-1.2 2.2-.8 1.1-.3 3.3-1 3.2-.8 3.3-.8 1.8-.3M319.2,151l1.6,.3 3.2,.8 3.3,.9 3.6,1.2 2.9,1.2 3.3,1.5 1.2,.6 2.1,1.1 3.3,2 3.3,2.2 1.5,1.2 1.7,1.4 2.2,1.8 1.1,1.1M353.5,273.7l-.9,.8-2.4,2-1.4,1.3-1.8,1.4-2.4,1.8M222.5,172.9l2.3-2.4 1-1 2.4-2.3 .8-.7 2.9-2.5 .4-.4 3.3-2.6 .3-.2 4.5-3.3 1.8-1.2 3.1-2.1 .1,0 3.3-2 2.2-1.2M222.5,157.9l.5-.4 2.8-2.3 1.1-1 2.1-1.6 2.2-1.6" fill="none" stroke="#10241c" stroke-width=".55" stroke-opacity=".85"/>
<path d="M222.5,151V281H353.5" fill="none" stroke="#222" stroke-width=".5"/>
<text x="222.5" y="289.4" class="tk" text-anchor="middle">150</text>
<text x="255.2" y="289.4" class="tk" text-anchor="middle">155</text>
<text x="288" y="289.4" class="tk" text-anchor="middle">160</text>
<text x="320.8" y="289.4" class="tk" text-anchor="middle">165</text>
<text x="353.5" y="289.4" class="tk" text-anchor="middle">170</text>
<text x="217.9" y="282.2" class="tk" text-anchor="end">310</text>
<text x="217.9" y="249.8" class="tk" text-anchor="end">315</text>
<text x="217.9" y="217.2" class="tk" text-anchor="end">320</text>
<text x="217.9" y="184.8" class="tk" text-anchor="end">325</text>
<text x="217.9" y="152.2" class="tk" text-anchor="end">330</text>
<path d="M222.5,281v3.4M255.2,281v3.4M288,281v3.4M320.8,281v3.4M353.5,281v3.4M222.5,281h-3.4M222.5,248.5h-3.4M222.5,216h-3.4M222.5,183.5h-3.4M222.5,151h-3.4" stroke="#333" stroke-width=".5"/>
<rect x="223.3" y="151" width="8.4" height="4.6" fill="#f2f2f2" stroke="#333" stroke-width=".4"/>
<text x="227.5" y="154.7" class="lb" text-anchor="middle">200</text>
<rect x="235.2" y="156" width="8.4" height="4.6" fill="#f2f2f2" stroke="#333" stroke-width=".4"/>
<text x="239.4" y="159.7" class="lb" text-anchor="middle">190</text>
<rect x="271.8" y="151" width="8.4" height="4.6" fill="#f2f2f2" stroke="#333" stroke-width=".4"/>
<text x="276" y="154.7" class="lb" text-anchor="middle">180</text>
<rect x="271.8" y="247.7" width="8.4" height="4.6" fill="#f2f2f2" stroke="#333" stroke-width=".4"/>
<text x="276" y="251.3" class="lb" text-anchor="middle">160</text>
<rect x="262.1" y="268.3" width="8.4" height="4.6" fill="#f2f2f2" stroke="#333" stroke-width=".4"/>
<text x="266.3" y="272" class="lb" text-anchor="middle">170</text>
<rect x="228.1" y="268.3" width="8.4" height="4.6" fill="#f2f2f2" stroke="#333" stroke-width=".4"/>
<text x="232.3" y="272" class="lb" text-anchor="middle">180</text>
<rect x="335.5" y="265.1" width="8.4" height="4.6" fill="#f2f2f2" stroke="#333" stroke-width=".4"/>
<text x="339.7" y="268.8" class="lb" text-anchor="middle">180</text>
<rect x="345.8" y="272.7" width="8.4" height="4.6" fill="#f2f2f2" stroke="#333" stroke-width=".4"/>
<text x="350" y="276.4" class="lb" text-anchor="middle">190</text>
<circle cx="222.5" cy="151" r="1.4" fill="#b01010"/>
<circle cx="353.5" cy="151" r="1.4" fill="#b01010"/>
<circle cx="222.5" cy="281" r="1.4" fill="#b01010"/>
<circle cx="353.5" cy="281" r="1.4" fill="#b01010"/>
<circle cx="288" cy="216" r="1.4" fill="#b01010"/>
<text x="286.2" y="217.2" class="lb" text-anchor="end" fill="#333">5</text>
<text x="287.5" y="148.1" font-size="6.7" text-anchor="middle">Tool shaft torque/Nm</text>
<text x="286.9" y="299" font-size="6.66" text-anchor="middle">A:Turning radius/mm</text>
<text transform="translate(203.3,219.8) rotate(-90)" font-size="7.0" text-anchor="middle">C:Working width/mm</text>
</g>
<g>
<rect x="410.5" y="149.5" width="132.2" height="131.5" fill="#0000f5"/>
<path d="M410.5,281l132.2,0 0-131.5-132.2,0 0,128.2z" fill="#0000f7"/>
<path d="M410.5,281l132.2,0 0-131.5-132.2,0 0,48.8 .1,.5 .7,3.3 .5,3.3 .4,3.3 .1,3.3 0,3.2-.1,3.3-.3,3.3-.5,3.3-.7,3.3-.2,.8 0,48.5z" fill="#0000fa"/>
<path d="M410.5,281l132.2,0 0-131.5-132.2,0 0,42.5 .1,.2 1,3.3 .8,3.3 .7,3.3 .5,3.3 .2,1.5 .2,1.8 .2,3.3 0,3.2-.2,3.3-.2,2.4-.1,.9-.5,3.3-.6,3.3-1.8,6.6-.3,.7 0,42z" fill="#0000fd"/>
<path d="M410.5,281l132.2,0 0-131.5-132.2,0 0,37.8 .7,1.7 1.2,3.2 1,3.3 .4,1.6 .5,1.7 .7,3.3 .5,3.3 .4,3.3 .2,3.3 0,3.2-.1,3.3-.3,3.3-.5,3.3-.7,3.3-.7,2.6-.2,.7-1,3.3-1.1,3.3-1,2.4 0,37z" fill="#00f"/>
<path d="M410.5,281l132.2,0 0-131.5-132.2,0 0,33.7 1.1,2.5 1.4,3.3 .8,2.2 .4,1 1.1,3.3 .9,3.3 .7,3.3 .2,1.2 .4,2.1 .4,3.3 .2,3.3 0,3.2-.1,3.3-.4,3.3-.5,3.3-.7,3.3-.8,3.3-1,3.3-.8,2.1-.4,1.2-1.3,3.3-1.5,3.2-.1,.2 0,32.7z" fill="#0001ff"/>
<path d="M410.5,281l132.2,0 0-44.3-.4-1.7-.5-3.3-.3-3.3-.2-3.3 0-3.3 .2-3.3 .4-3.3 .6-3.2 .2-.7 0-61.8-132.2,0 0,30.2 1.4,2.7 1.5,3.3 .4,.9 1,2.4 1.3,3.2 1,3.2 .1,.1 .9,3.3 .8,3.3 .6,3.3 .4,3.3 .2,3.3 .1,3.2-.2,3.3-.3,3.3-.5,3.3-.7,3.3-.9,3.3-.5,1.5-.5,1.8-1.2,3.3-1.4,3.3-.2,.3-1.3,2.9-1.6,3.3-.4,.7 0,28.9z" fill="#0001ff"/>
<path d="M410.5,281l132.2,0 0-36.6-.9-2.8-.8-3.3-.7-3.3-.5-3.3-.4-3.3 0-.2-.2-3.1 0-3.3 .2-2.6 0-.7 .4-3.3 .6-3.2 .8-3.3 1-3.3 .5-1.5 0-54.4-132.2,0 0,27.1 1.4,2.5 1.7,3.3 .2,.3 1.5,3 1.4,3.3 .4,1 .9,2.2 1.2,3.3 .9,3.3 .3,1.3 .5,2 .7,3.3 .4,3.3 .3,3.3 0,3.2-.1,3.3-.4,3.3-.5,3.3-.7,3.3-.2,.5-.7,2.8-1.1,3.3-1.2,3.3-.3,.5-1.1,2.8-1.6,3.2-.6,1.3-1,2-1.8,3.3-.5,.8 0,25.5z" fill="#0002ff"/>
<path d="M410.5,281l132.2,0 0-31.2-.7-1.7-1.2-3.3-1-3.2-.4-1.5-.5-1.8-.7-3.3-.6-3.3-.4-3.3-.2-3.3 0-3.3 .2-3.3 .4-3.3 .6-3.2 .8-3.3 .4-1.2 .6-2.1 1.2-3.3 1.4-3.3 .1-.2 0-49.1-132.2,0 0,24.2 1.3,2.1 1.9,3.3 .1,.2 1.7,3.1 1.6,3.2 0,.1 1.5,3.3 1.4,3.2 .4,1.3 .8,2 1,3.3 .8,3.3 .7,3.3 0,.2 .5,3.1 .2,3.3 .1,3.2-.1,3.3-.4,3.3-.3,1.8-.2,1.5-.7,3.3-1,3.3-1.1,3.3-.3,.7-.9,2.6-1.5,3.3-.9,1.8-.6,1.4-1.8,3.3-.9,1.7-.9,1.6-2,3.3-.4,.7 0,22.3z" fill="#0003ff"/>
<path d="M410.5,281l132.2,0 0-26.5-1.4-3.1-1.3-3.3-.6-1.6-.7-1.7-1-3.2-1-3.3-.6-2.8-.1-.5-.6-3.3-.5-3.3-.2-3.3 0-3.3 .2-3.3 .4-3.3 .7-3.2 .1-.6 .7-2.7 1-3.3 1.2-3.3 .4-.8 1.1-2.5 1.6-3.3 .6-1.1 0-44.9-132.2,0 0,21.5 1,1.5 2.1,3.3 .2,.4 1.8,2.9 1.5,2.8 .3,.5 1.7,3.3 1.3,2.8 .2,.5 1.4,3.2 1.3,3.3 .4,1.4 .6,1.9 .9,3.3 .7,3.3 .5,3.3 .3,3.3 .1,3.2-.1,3.3-.4,3.3-.5,3.3-.8,3.3-.9,3.3-.4,.9-.8,2.4-1.3,3.3-1.2,2.6-.3,.7-1.6,3.2-1.4,2.6-.3,.7-1.9,3.3-1.1,1.7-.9,1.6-2.4,3.6 0,19.4z" fill="#0006ff"/>
<path d="M410.5,281l132.2,0 0-22.6-.2-.4-1.7-3.3-1.4-3.1-.1-.2-1.4-3.3-1.3-3.3-.5-1.5-.6-1.7-1-3.3-.8-3.3-.7-3.3-.2-1.9-.2-1.4-.2-3.3-.1-3.3 .2-3.3 .3-2 .1-1.3 .7-3.2 .8-3.3 1.1-3.3 .6-1.5 .7-1.8 1.4-3.3 1.2-2.3 .5-1 1.8-3.3 1-1.5 0-41.2-132.2,0 0,18.9 .6,.8 2.2,3.3 .5,.8 1.6,2.5 1.7,2.8 .3,.5 1.9,3.3 1.1,2.1 .7,1.2 1.6,3.3 1,2.3 .5,.9 1.3,3.3 1.1,3.3 .4,1.6 .5,1.7 .8,3.3 .5,3.3 .3,3.3 .1,3.2-.1,3.3-.4,3.3-.5,3.3-.8,3.3-.4,1.1-.6,2.2-1.2,3.3-1.3,3.3-.2,.3-1.3,3-1.7,3.2-.3,.5-1.5,2.8-1.8,3-.2,.3-2,3.3-1.1,1.5-1.1,1.8-2.2,3.1 0,16.6z" fill="#000bff"/>
<path d="M410.5,281l132.2,0 0-20.7-1.2-2.3-1.7-3.3-.4-.9-1.2-2.4-1.4-3.3-.7-1.8-.6-1.5-1.2-3.2-1-3.3-.5-2.2-.3-1.1-.7-3.3-.4-3.3-.3-3.3 0-3.3 .2-3.3 .4-3.3 .6-3.2 .5-1.7 .4-1.6 1.1-3.3 1.3-3.3 1.5-3.3 1.7-3.3 .6-1 1.2-2.3 2.1-3.2 0-39.5-132.2,0 0,17.7 1.5,2 1.8,2.8 .4,.5 2.2,3.3 .7,1.3 1.3,2 1.9,3.3 .1,.2 1.7,3.1 1.6,3.2 0,.1 1.6,3.2 1.3,3.3 .4,1.4 .7,1.9 1,3.3 .8,3.3 .5,3.3 .3,3.3 0,.7 .1,2.5-.1,2.2 0,1.1-.3,3.3-.6,3.3-.8,3.3-1,3.3-.6,1.5-.6,1.8-1.4,3.3-1.3,2.7-.2,.6-1.7,3.2-1.4,2.4-.5,.9-1.9,3.3-.9,1.3-1.2,2-2.1,3.1-.1,.2-2.3,3.3-.9,1.1 0,15.3z" fill="#000eff"/>
<path d="M410.5,281l132.2,0 0-19-.5-.7-1.7-3.3-1.1-2.1-.6-1.2-1.6-3.3-1.1-2.4-.4-.9-1.4-3.3-1.1-3.2-.4-1.3-.7-2-.8-3.3-.7-3.3-.5-3.3-.2-3.3-.1-3.3 .2-3.3 .4-3.3 .7-3.2 .8-3.3 .9-2.4 .3-.9 1.3-3.3 1.5-3.3 .2-.3 1.5-3 1.8-3 .1-.3 2.1-3.2 1.1-1.7 0-37.8-132.2,0 0,16.5 2.3,3.2 1,1.5 1.3,1.8 2.2,3.3 2.1,3.3 1,1.8 .9,1.5 2.4,4.4 2.7,5.4 .6,1.7 .7,1.6 1.2,3.3 1,3.3 .4,1.9 .4,1.4 .5,3.3 .4,3.3 .1,3.2-.1,3.3-.4,3.3-.6,3.3-.3,1.3-.5,2-1,3.3-1.2,3.3-.6,1.3-.8,2-1.5,3.3-1,1.7-.8,1.5-1.9,3.3-.6,1-1.4,2.3-1.9,2.9-.2,.4-2.2,3.3-.9,1.2-1.5,2.1-1.8,2.5 0,13.9z" fill="#01f"/>
<path d="M410.5,281l132.2,0 0-17.3-1.4-2.4-1.8-3.3-.1-.1-1.7-3.2-1.6-3.3-1.5-3.3-1.4-3.3-.4-1.1-.8-2.1-1.1-3.3-.9-3.3-.5-2.7-.2-.6-.5-3.3-.3-3.3 0-3.3 .2-3.3 .4-3.3 .4-1.7 .3-1.5 .9-3.3 1.1-3.3 1-2.4 .4-.9 1.5-3.3 1.4-2.6 .4-.7 1.9-3.3 1-1.5 1.1-1.7 2.2-3.2 0-36.3-132.2,0 0,15.4 .8,1 2.4,3.3 .1,.2 2.2,3.1 1.1,1.6 1.2,1.7 2,3.3 .1,.1 2,3.2 1.3,2.4 .5,.9 1.7,3.3 1.1,2.3 .5,.9 1.4,3.3 1.2,3.3 .2,.8 .8,2.5 .8,3.3 .6,3.3 .4,3.3 .1,3.2-.1,3.3-.4,3.3-.5,3.3-.9,3.3-.8,2.5-.2,.8-1.2,3.3-1.5,3.3-.4,.8-1.2,2.5-1.7,3.2-.4,.6-1.5,2.7-1.8,2.8-.3,.5-2.1,3.3-.9,1.2-1.4,2.1-1.9,2.6-.5,.7-2.4,3.3-.4,.4 0,12.7z" fill="#0014ff"/>
<path d="M410.5,281l132.2,0 0-15.6-.5-.8-1.9-3.3-.9-1.6-1-1.7-1.8-3.3-.5-1.1-1.1-2.2-1.6-3.3-.6-1.6-.8-1.7-1.2-3.2-1.1-3.3-.2-.8-.8-2.5-.7-3.3-.5-3.3-.3-3.3 0-3.3 .1-3.3 .5-3.3 .6-3.2 1-3.3 1.1-3.3 1.4-3.3 .9-1.8 .7-1.5 1.8-3.3 .8-1.3 1.1-2 2.2-3.2 0-.1 2.3-3.2 1-1.4 0-34.8-132.2,0 0,14.3 1.7,2.1 1.6,2.3 .8,1 2.4,3.3 .1,.2 2.1,3.1 1.2,1.9 1,1.4 2,3.3 .3,.6 1.6,2.7 1.7,3.2 0,.1 1.7,3.2 1.4,3.3 .2,.7 1,2.6 1.1,3.3 .8,3.3 .4,2.3 .2,1 .4,3.3 .1,3.2-.1,3.3-.3,3.3-.3,1.3-.3,2-.8,3.3-1.1,3.3-1.1,2.7-.2,.6-1.4,3.3-1.7,3.3-1.7,3.2-1.6,2.6-.4,.7-2.1,3.3-2.2,3.3-1.9,2.7-.4,.6-2.4,3.3-.5,.6-1.9,2.7-1.4,1.7 0,11.4z" fill="#0017ff"/>
<path d="M410.5,281l132.2,0 0-14.1-1.5-2.3-1.8-3.1-.1-.2-2-3.3-1.2-2.4-.5-.9-1.8-3.3-1-2.3-.5-1-1.5-3.3-1.3-3.2 0-.2-1.1-3.1-1-3.3-.7-3.3-.5-3.3-.3-3.3-.1-3.3 .2-3.3 .2-1.4 .2-1.9 .7-3.2 .9-3.3 1.2-3.3 .3-.6 1.1-2.7 1.6-3.3 .6-1 1.2-2.3 2.1-3.3 2.1-3.2 1.2-1.7 3.3-4.4 0-33.4-132.2,0 0,13.2 2.6,3.2 .7,1.1 1.7,2.2 2.4,3.3 2.3,3.3 2.2,3.3 1.3,2.1 .8,1.2 1.9,3.3 .6,1.2 1.2,2.1 1.6,3.2 .5,1.2 1,2.1 1.3,3.3 1,3.2 .1,.1 .8,3.3 .7,3.3 .4,3.3 .1,3.2-.1,3.3-.3,3.3-.6,3.3-.9,3.3-.2,.5-.9,2.8-1.3,3.3-1.1,2.4-.4,.9-1.6,3.3-1.3,2.2-.6,1-1.9,3.3-.8,1.1-1.3,2.2-2,2.8-.3,.5-2.3,3.3-.7,.9-3.3,4.4-1,1.3-2.3,2.9 0,10.2z" fill="#001aff"/>
<path d="M410.5,281l132.2,0 0-12.6-.4-.6-2.1-3.2-.8-1.4-1.2-1.9-1.9-3.3-.2-.4-1.7-2.9-1.6-3.2-.1-.1-1.6-3.3-1.5-3.3-.1-.3-1.2-2.9-1.2-3.3-.9-3.2-.1-.1-.8-3.3-.6-3.3-.3-3.3-.1-3.3 .2-3.3 .5-3.3 .7-3.2 .5-1.7 .4-1.6 1.2-3.3 1.5-3.3 .2-.4 1.4-2.9 1.9-3.2 0-.1 2-3.3 1.3-1.8 1-1.4 2.3-3.3 .1,0 2.5-3.3 .7-.9 0-32-132.2,0 0,12.1 .9,1 2.4,3.2 .1,.1 2.5,3.3 .7,1 1.8,2.3 1.5,2.2 .8,1.1 2.2,3.3 .3,.5 1.8,2.8 1.5,2.5 .5,.8 1.9,3.3 .9,1.9 .7,1.3 1.6,3.3 1,2.8 .3,.5 1.1,3.3 .9,3.3 .7,3.3 .3,3.1 .1,.2 .1,3.2-.1,3.3-.1,.8-.2,2.5-.6,3.3-.9,3.3-1.1,3.3-.5,1.1-.8,2.2-1.5,3.3-1,1.7-.7,1.6-1.9,3.2-.7,1.1-1.3,2.2-2,2.9-.2,.4-2.3,3.3-.8,1.1-1.5,2.2-1.8,2.3-.7,1-2.6,3.3-2.6,3.2-.7,.9 0,9z" fill="#001fff"/>
<path d="M410.5,281l132.2,0 0-11.1-1.4-2.1-1.9-3-.2-.2-2-3.3-1.1-1.8-.9-1.5-1.9-3.3-.5-1-1.3-2.3-1.6-3.3-.4-.9-1.2-2.4-1.3-3.2-1.2-3.3-1.1-3.3-.8-3.3-.6-3.3-.3-3.3-.1-3.3 .2-3.3 .4-3.3 .7-3.2 1-3.3 1-2.6 .2-.7 1.5-3.3 1.6-3 .1-.3 1.9-3.3 1.3-1.9 .8-1.4 2.3-3.2 .2-.3 2.2-3 1.1-1.4 1.5-1.9 1.8-2.2 0-30.7-132.2,0 0,11.1 1.7,2 1.6,2.1 1,1.2 2.3,3 .3,.3 2.4,3.3 .6,.8 1.8,2.5 1.5,2.2 .8,1.1 2.1,3.3 .4,.6 1.7,2.7 1.6,2.9 .2,.4 1.8,3.2 1.3,2.9 .2,.4 1.4,3.3 1.2,3.3 .5,2.1 .4,1.2 .7,3.3 .5,3.3 .1,3.2-.1,3.3-.3,3.3-.7,3.3-.6,2.1-.3,1.2-1.1,3.3-1.3,3.3-.6,1-1,2.3-1.7,3.3-.6,.8-1.4,2.4-1.9,3.1-.1,.2-2.2,3.3-1,1.3-1.3,2-2,2.6-.5,.7-2.5,3.3-.3,.4-2.3,2.9-1,1.2-1.6,2-1.7,2.1 0,7.8z" fill="#0026ff"/>
<path d="M410.5,281l132.2,0 0-9.6-2.4-3.6-.9-1.4-1.2-1.8-2.1-3.3-2-3.3-1.3-2.3-.7-1-1.8-3.3-.8-1.7-.9-1.6-1.6-3.3-.8-2-.6-1.2-1.2-3.3-1.1-3.3-.4-1.8-.4-1.5-.7-3.3-.4-3.3-.1-3.3 .2-3.3 .5-3.3 .7-3.2 .2-.5 .8-2.8 1.3-3.3 1.2-2.6 .3-.7 1.7-3.3 1.3-2 .7-1.3 2.1-3.3 .5-.6 1.8-2.6 1.5-1.9 1-1.4 2.3-2.9 .3-.4 2.8-3.3 .2-.3 0-29.3-132.2,0 0,10 2.6,3.1 .7,1 2,2.3 1.3,1.8 1.2,1.5 2.1,2.8 .4,.5 2.4,3.3 .5,.7 1.9,2.6 1.4,2.2 .8,1.1 2,3.3 .5,.8 1.5,2.5 1.7,3.2 .1,.2 1.6,3.1 1.4,3.3 .3,1.1 .9,2.2 1,3.3 .7,3.3 .4,3.3 .2,3.2-.1,3.3-.3,3.3-.6,3.3-1,3.3-1.1,3.3-.1,0-1.3,3.3-1.6,3.3-.4,.6-1.4,2.7-1.9,3-.1,.2-2.1,3.3-1.1,1.6-1.1,1.7-2.2,3-.2,.3-2.5,3.3-.6,.8-1.9,2.5-1.4,1.7-1.2,1.6-2.1,2.5-.6,.7-2.7,3.2 0,6.7z" fill="#002cff"/>
<path d="M410.5,281l132.2,0 0-8.3-3.3-4.8-.1-.1-2.2-3.2-1-1.7-1.1-1.6-2.1-3.3-.1-.3-1.8-3-1.5-2.7-.4-.6-1.8-3.3-1.1-2.4-.5-.9-1.5-3.2-1.3-3.3 0-.3-1.1-3-.9-3.3-.6-3.3-.4-3.3-.1-3.3 .1-3.3 .5-3.3 .7-3.2 1.1-3.3 .7-1.7 .6-1.6 1.5-3.3 1.2-2 .6-1.3 2-3.3 .7-.9 1.5-2.4 2.4-3.2 2.5-3.3 .2-.2 2.5-3.1 .8-.9 2-2.4 1.3-1.5 0-28.1-132.2,0 0,9.1 .7,.8 2.6,3.1 .2,.1 2.7,3.3 .4,.6 2.2,2.7 1.1,1.5 1.4,1.8 1.9,2.6 .6,.7 2.3,3.3 .4,.6 1.9,2.7 2.1,3.3 2,3.3 .6,1.1 1.3,2.1 1.6,3.3 .4,1 1.1,2.3 1.2,3.3 1,3.3 .8,3.3 .5,3.3 .2,3.2 0,3.3-.4,3.3-.7,3.3-.4,1.2-.5,2.1-1.2,3.3-1.5,3.3-.1,.2-1.5,3.1-1.8,3.1 0,.2-2,3.2-1.3,1.9-.9,1.4-2.3,3.3-.1,.1-2.3,3.2-1,1.2-1.5,2.1-1.8,2.2-.8,1.1-2.5,3-.2,.3-2.7,3.2-.4,.5-2.4,2.8-.9,1.1 0,5.5z" fill="#03f"/>
<path d="M410.5,281l132.2,0 0-6.9-2.1-3-1.2-1.7-3.3-4.8-2.2-3.3-1.1-1.8-1-1.5-2-3.3-.3-.5-1.7-2.8-1.6-3-.2-.3-1.7-3.3-1.4-3.2-.1,0-1.4-3.3-1.1-3.3-.7-2.7-.2-.6-.7-3.3-.5-3.3-.1-3.3 .2-3.3 .4-3.3 .8-3.2 .1-.1 1-3.2 1.3-3.3 1-1.9 .6-1.4 1.9-3.3 .8-1.2 1.2-2.1 2.1-2.9 .2-.4 2.4-3.2 .7-.9 1.9-2.4 1.4-1.7 1.3-1.6 2-2.3 .9-1 2.4-2.7 0-26.9-132.2,0 0,8.1 1.6,1.8 1.7,2 1.1,1.2 2.2,2.8 .5,.5 2.7,3.3 .1,.2 2.5,3.1 .8,1.2 1.7,2.1 1.6,2.3 .8,1 2.3,3.3 .2,.4 2,2.9 1.3,2.2 .7,1.1 1.9,3.2 .7,1.5 1,1.8 1.5,3.3 .8,2.1 .5,1.2 1.1,3.3 .8,3.3 .5,3.3 .3,3.2-.1,3.3-.4,3.3-.6,3.3-1,3.3-1.1,2.7-.2,.6-1.4,3.3-1.7,3.1 0,.2-1.9,3.3-1.4,2.1-.7,1.1-2.2,3.3-.4,.5-1.9,2.8-1.4,1.8-1.1,1.5-2.2,2.8-.4,.5-2.6,3.3-.3,.3-2.4,3-.9,1-1.9,2.2-1.4,1.7-1.4,1.6-1.9,2.2 0,4.4z" fill="#0039ff"/>
<path d="M410.5,281l132.2,0 0-5.6-.7-1-2.4-3.3-.2-.3-2.1-3-1.2-1.7-1.1-1.5-4.4-6.6-1.1-1.8-1-1.5-2-3.3-.3-.7-1.5-2.6-1.8-3.3 0-.1-1.6-3.1-1.4-3.3-.3-1.1-.9-2.2-1-3.3-.7-3.3-.4-3.3-.2-3.3 .2-3.3 .4-3.3 .8-3.2 1.1-3.3 .7-1.5 .7-1.8 1.7-3.3 .9-1.5 1-1.8 2.1-3.3 .2-.2 2.1-3.1 1.2-1.5 1.3-1.7 2-2.5 .6-.8 2.7-3.1 .1-.2 2.9-3.3 .3-.3 2.7-3 .6-.6 0-25.7-132.2,0 0,7.1 2.4,2.8 .9,1 2,2.2 1.3,1.7 1.5,1.6 1.8,2.3 .9,1 2.4,3.1 .2,.2 2.6,3.3 .5,.8 1.9,2.5 1.4,2 1,1.3 2.2,3.3 .1,.2 2,3.1 1.3,2.2 .7,1 1.8,3.3 .8,1.9 .7,1.4 1.4,3.3 1.3,3.9 .7,2.7 .6,3.3 .2,3.2-.1,3.3-.3,3.3-.7,3.3-.4,1.3-.6,2-1.3,3.3-1.5,3.1 0,.2-1.8,3.3-1.5,2.4-.4,.9-2.2,3.2-.7,1-1.5,2.3-1.8,2.4-.6,.9-2.6,3.3-.1,.1-2.5,3.2-.8,.9-1.9,2.4-1.4,1.6-1.3,1.7-2,2.2-.8,1-2.5,2.8-.4,.5-2.9,3.3 0,3.3z" fill="#0040ff"/>
<path d="M410.5,281l132.2,0 0-4.3-1.7-2.3-4.8-6.6-.1-.1-2.2-3.1-1.1-1.6-1.2-1.7-2.1-3.2-.1-.1-2.2-3.3-1-1.8-1-1.5-1.9-3.3-.4-.8-1.4-2.5-1.7-3.2-.2-.7-1.3-2.6-1.2-3.3-.8-2.6-.3-.7-.8-3.3-.5-3.3-.1-3.3 .1-3.3 .5-3.3 .8-3.2 .3-.6 .9-2.7 1.4-3.3 1-1.8 .7-1.5 2-3.3 .6-.8 1.6-2.5 1.7-2.2 .7-1.1 2.6-3.2 0-.1 2.7-3.2 .6-.7 2.2-2.6 1.1-1.2 1.8-2.1 1.5-1.5 1.6-1.8 1.7-1.7 0-24.6-132.2,0 0,6.2 .4,.4 2.9,3.3 2.9,3.2 .4,.6 2.4,2.7 .9,1.1 1.9,2.2 1.4,1.8 1.3,1.5 2,2.7 .6,.6 2.5,3.3 .2,.4 2.2,2.9 1.1,1.6 1.2,1.7 2.1,3.2 .1,.1 2,3.2 1.2,2.3 .6,1 1.7,3.3 1.1,2.5 .3,.8 1.2,3.3 .9,3.3 .6,3.3 .3,3 0,1.9-.1,1.6-.3,3.3-.7,3.3-1.1,3.3-1.1,2.9-.2,.4-1.6,3.3-1.6,2.8-.2,.5-2,3.3-1.1,1.5-1.1,1.7-2.2,3-.2,.3-2.4,3.3-.7,.8-1.9,2.5-1.4,1.7-1.3,1.6-2,2.4-.7,.9-2.6,3-.2,.3-2.9,3.2-.2,.3-2.7,3-.6,.7-2.3,2.6-1,1 0,2.3z" fill="#0046ff"/>
<path d="M410.5,281l132.2,0 0-3-.2-.3-2.5-3.3-.6-.8-1.9-2.5-1.4-2-1-1.3-2.3-3.2-2.4-3.3-.9-1.4-1.4-1.9-1.9-3-2.4-3.6-.9-1.6-1.1-1.7-1.8-3.3-.4-.8-1.4-2.4-1.5-3.3-.4-1.1-1-2.2-1.1-3.3-.8-3.3-.4-2.8-.1-.5-.2-3.3 .1-3.3 .2-.8 .3-2.5 .8-3.2 1.2-3.3 1-2 .5-1.3 1.8-3.3 1-1.4 1.1-1.9 2.2-3.1 .1-.2 2.4-3.3 .8-.9 1.8-2.3 1.5-1.7 1.3-1.6 2-2.2 .9-1.1 2.4-2.5 .7-.8 2.6-2.8 .5-.5 2.8-2.9 0-23.4-132.2,0 0,5.2 1.3,1.4 2,2.3 .9,1 2.4,2.7 .5,.5 2.8,3.3 .1,0 2.8,3.3 .4,.6 2.3,2.7 1,1.3 1.7,2 1.6,2.1 1,1.2 2.3,3.1 .1,.2 2.4,3.3 .8,1.2 1.5,2.1 1.8,2.9 .3,.3 1.9,3.3 1.2,2.3 .5,1 1.5,3.3 1.3,3.3 1,3.3 .6,3.3 .3,3.2 0,3.3-.4,3.3-.7,3.3-1.1,3.3-1.4,3.3-1.6,3.2-.1,.1-1.8,3.3-1.5,2.2-.6,1.1-2.3,3.2-.4,.5-2,2.8-1.3,1.6-1.2,1.7-2.1,2.5-.6,.8-2.7,3.2 0,.1-2.8,3.3-.5,.5-2.4,2.8-.9,.9-2,2.3-1.3,1.4-1.7,1.9-1.6,1.8-1.4,1.5-1.9,2.1 0,1.2z" fill="#004dff"/>
<path d="M410.5,281l132.2,0 0-1.8-1.2-1.5-2.1-2.8-.4-.5-2.5-3.3-.4-.5-2.1-2.8-1.2-1.7-1.2-1.5-2.1-3-.3-.3-2.3-3.3-.7-1.1-1.6-2.2-1.7-2.7-.5-.6-2-3.3-.8-1.4-1.2-1.9-1.8-3.2-.3-.8-1.4-2.5-1.4-3.3-.5-1.7-.7-1.6-.9-3.3-.6-3.3-.2-3.3 .1-3.3 .5-3.3 .9-3.2 .9-2.1 .4-1.2 1.6-3.3 1.3-2.2 .6-1.1 2.1-3.3 .6-.8 1.7-2.5 1.6-1.9 1-1.4 2.3-2.7 .4-.5 2.9-3.3 3-3.3 .3-.3 2.7-3 .6-.5 2.6-2.8 .7-.6 2.6-2.7 .7-.7 0-22.3-132.2,0 0,4.3 2.1,2.3 1.2,1.3 1.8,2 1.5,1.7 1.5,1.5 1.8,2.2 1.1,1.1 2.2,2.6 .6,.7 2.7,3.2 .1,.1 2.7,3.3 .5,.6 2.2,2.7 1.1,1.5 1.4,1.8 1.9,2.6 .6,.7 2.3,3.3 .4,.7 1.8,2.5 1.6,2.6 .4,.7 1.8,3.3 1.1,2.2 .5,1.1 1.4,3.3 1,3.3 .4,1.8 .3,1.5 .4,3.2-.1,3.3-.4,3.3-.2,1-.5,2.3-1.2,3.3-1.4,3.3-.2,.4-1.5,2.9-1.8,3-2.4,3.6-1,1.3-1.3,1.9-2,2.5-.5,.8-2.6,3.3-.2,.1-2.5,3.2-.8,.8-2,2.5-1.3,1.4-1.6,1.9-1.7,1.8-1.2,1.5-2.1,2.2-.9,1-2.4,2.6-.6,.7-2.7,2.9-.4,.4-2.9,3.2 0,.1z" fill="#05f"/>
<path d="M410.5,281l132.2,0 0-.6-2.2-2.7-1.1-1.5-1.4-1.8-1.9-2.4-.7-.9-2.5-3.3-.1-.1-2.4-3.1-.9-1.3-1.5-2-1.8-2.5-.6-.8-2.4-3.3-.3-.6-1.9-2.7-1.4-2.2-.8-1.1-2-3.3-.5-.9-1.5-2.3-1.7-3.3-.1-.5-1.4-2.8-1.3-3.3-.7-2.4-.2-.9-.7-3.3-.3-3.3 .1-3.3 .6-3.3 .5-1.8 .4-1.4 1.3-3.3 1.7-3.2 0-.1 2-3.3 1.3-1.8 .9-1.5 2.4-3.1 .1-.2 2.6-3.3 .6-.6 2.2-2.6 1.1-1.2 1.9-2.1 1.4-1.5 1.6-1.8 1.7-1.7 1.5-1.6 1.8-1.8 1.4-1.5 1.9-1.8 1.5-1.5 1.8-1.7 0-21.3-132.2,0 0,3.4 3,3.2 .3,.3 2.7,3 .6,.6 2.4,2.6 .9,1.1 2.1,2.2 1.2,1.5 1.7,1.8 1.6,2 1.2,1.3 2.1,2.5 .7,.8 2.6,3.2 .1,.1 2.7,3.3 .5,.8 2,2.5 1.3,1.9 1.1,1.4 2.2,3.2 .1,0 2.1,3.3 1.2,2.1 .7,1.2 1.7,3.3 .9,2.1 .5,1.2 1.2,3.3 .7,3.3 .4,3.2 0,3.3-.4,3.3-.8,3.3-1.2,3.3-.4,.9-1.1,2.4-1.8,3.3-.4,.6-1.7,2.7-1.6,2.3-.6,1-2.5,3.2-.3,.3-2.3,3-1,1.2-1.7,2.1-1.6,1.8-1.2,1.5-2.1,2.4-.7,.9-2.6,2.8-.4,.5-2.9,3.1-.1,.2-3,3.2-.2,.2-2.9,3.1-.4,.5-2.6,2.8-.7,.7-2.4,2.6-.9,.9z" fill="#0060ff"/>
<path d="M410.5,281l131.7,0-2.6-3.3-.2-.2-2.5-3.1-.8-1.1-1.8-2.2-1.5-2-1-1.3-2.3-2.9-.3-.3-2.5-3.3-.5-.8-2-2.5-1.3-1.9-1.1-1.4-2.2-3.2-.1-.1-2.3-3.3-.9-1.5-1.2-1.8-2-3.2-.1-.3-1.8-3-1.6-3.2 0-.1-1.4-3.3-1.1-3.3-.7-3.3-.1-.6-.2-2.7 .1-3.3 .1-.9 .4-2.4 1-3.2 1.4-3.3 .5-.9 1.3-2.4 2.1-3.2 0-.1 2.3-3.3 1-1.1 1.6-2.2 1.7-1.9 1.1-1.4 2.2-2.4 .7-.8 2.6-2.8 .4-.5 2.9-3 3.3-3.3 .2-.3 3.1-3 .3-.3 3-2.9 .3-.4 3-2.8 0-20.2-132.2,0 0,2.5 .8,.8 2.5,2.7 .6,.6 2.7,2.9 .3,.4 3,3.2 .1,0 3,3.3 .2,.3 2.8,3 .5,.7 2.4,2.6 .9,1.1 1.9,2.2 1.4,1.7 1.4,1.6 1.9,2.4 .8,.9 2.5,3.2 .1,.1 2.5,3.3 .8,1 1.6,2.2 1.7,2.5 .5,.8 2.1,3.3 .7,1.3 1.1,2 1.5,3.3 .7,1.8 .6,1.5 .9,3.3 .4,3.2 0,3.3-.4,3.3-.9,3.3-.6,1.7-.6,1.6-1.6,3.3-1.1,1.8-.9,1.5-2.4,3.6-2.1,3-1.2,1.5-1.4,1.7-2,2.4-.7,.9-2.6,3-.2,.3-2.9,3.3-.2,.2-2.7,3.1-.6,.6-2.4,2.7-.9,.9-2.2,2.4-1.1,1.1-1.9,2.1-1.4,1.4-1.8,1.9-1.5,1.6-1.6,1.7-1.7,1.8-1.5,1.5-1.8,1.9z" fill="#006bff"/>
<path d="M410.5,281l130.7,0-1.8-2.3-.9-1-2.4-3-.2-.3-2.7-3.3-.4-.5-3.3-4.2-1.5-1.8-1.8-2.4-.8-.9-2.5-3.3-2.6-3.3-.7-1.1-1.7-2.2-1.6-2.3-.8-1-2.2-3.3-.3-.5-1.9-2.7-1.5-2.6-.4-.7-1.8-3.3-1.1-2.3-.4-1-1.3-3.3-.8-3.3-.4-3.3 .1-3.3 .6-3.3 1.1-3.2 1.1-2.5 .4-.8 1.9-3.3 2.2-3.3 2.2-2.7 .4-.6 2.7-3.3 .2-.2 2.6-3.1 .7-.6 2.4-2.6 .9-.9 2.2-2.4 6.6-6.6 1.1-1 2.3-2.3 1-.9 2.5-2.4 .8-.7 2.7-2.6 .6-.5 0-19.2-132.2,0 0,1.7 1.6,1.6 1.7,1.8 1.5,1.5 1.8,1.9 1.3,1.4 2,2.1 1.1,1.1 2.2,2.5 .9,.8 2.4,2.8 .6,.5 2.7,3.1 .2,.2 3,3.3 .1,.2 2.7,3.1 .6,.8 2.2,2.5 1.1,1.4 1.6,1.9 1.8,2.2 .8,1.1 2.5,3.2 2.4,3.3 .9,1.4 1.3,1.9 1.9,3.3 .1,.1 1.6,3.2 1.4,3.3 .3,1.1 .7,2.2 .5,3.2 .1,3.3-.5,3.3-.8,2.9-.1,.4-1.4,3.3-1.8,3.3 0,.1-2,3.2-1.3,1.8-1,1.5-2.3,3-.2,.3-2.7,3.2-.4,.5-2.4,2.8-1,1.1-1.9,2.2-1.4,1.5-1.6,1.8-1.7,1.8-1.3,1.5-2,2-1.1,1.3-2.2,2.2-.9,1.1-3.2,3.2-2.5,2.6-.7,.7-2.6,2.7-.6,.6-2.7,2.8-.5,.5-2.8,2.9z" fill="#0075ff"/>
<path d="M411.1,281l129.1,0-.8-1.1-1.9-2.2-1.4-1.8-1.3-1.5-2-2.5-.7-.8-2.6-3.2-.1-.1-2.7-3.2-.5-.7-2.2-2.6-1.1-1.6-1.5-1.7-1.8-2.4-.8-.9-5-6.6-.8-1.2-1.6-2.1-1.8-2.5-.5-.7-2.8-4.4-1.3-2.2-1.7-3.3-.3-.7-1.1-2.6-1-3.3-.4-3.3 0-3.3 .6-3.3 1.3-3.2 .6-1.3 1-2 2.1-3.3 .2-.3 2.2-3 1.1-1.3 1.6-2 1.8-1.9 1.1-1.4 2.2-2.3 .8-1 2.5-2.4 .7-.8 3.3-3.3 2.6-2.5 .7-.8 2.6-2.4 .9-.9 2.4-2.3 1-1 2.3-2.1 1.3-1.2 2-1.8 1.5-1.5 1.8-1.5 0-18.2-132.2,0 0,.8 2.5,2.5 .8,.9 2.4,2.4 .9,1 2.2,2.3 3.2,3.2 1.2,1.4 1.9,1.9 1.4,1.6 1.7,1.7 1.6,1.8 1.4,1.5 1.9,2.1 1.1,1.2 2.2,2.5 .8,.8 2.5,2.9 .4,.4 2.8,3.3 .2,.2 2.5,3.1 .8,.9 1.9,2.3 1.4,2 1.1,1.3 2.2,3.2 .1,.1 2.1,3.3 1.1,1.9 .8,1.4 1.6,3.3 .9,2.8 .2,.5 .7,3.2 .1,3.3-.5,3.3-.5,1.5-.5,1.8-1.5,3.3-1.3,2.1-.7,1.2-2.2,3.3-.4,.5-2.1,2.8-1.2,1.4-1.5,1.9-1.8,2.1-1,1.1-2.3,2.6-.7,.7-2.7,2.9-.3,.4-3,3.2-.1,.1-3.1,3.3-.1,0-3.1,3.3-.2,.2-3,3.1-.3,.2-2.9,3-.4,.4-2.8,2.9-3.8,3.8-2.7,2.8-.6,.6z" fill="#0080ff"/>
<path d="M412.1,281l127.2,0-2.8-3.3-.4-.5-2.4-2.8-.9-1.1-1.9-2.2-1.4-1.7-1.3-1.6-2-2.4-.8-.8-2.5-3.1-.2-.2-2.7-3.3-.4-.5-2.4-2.8-.9-1.3-1.7-2-1.6-2.1-1.1-1.2-2.3-3-.2-.3-2.5-3.2-.6-.9-1.8-2.4-1.5-2.4-.6-.9-2-3.3-.7-1.5-.9-1.8-1.2-3.3-.6-3.3 0-3.3 .7-3.3 1.4-3.2 .6-1 1.3-2.3 2-2.8 .4-.5 2.6-3.3 .3-.3 2.6-3 .7-.7 2.4-2.6 1-.9 2.2-2.4 1.1-.9 2.2-2.3 1.1-1 2.4-2.3 .9-.9 2.5-2.4 .8-.7 2.8-2.6 .5-.5 3.1-2.8 .2-.2 3.3-3 .1-.1 3.2-2.9 .4-.4 2.9-2.5 0-17.2-132.1,0 3.2,3.3 3.3,3.3 3.2,3.3 3.2,3.2 .2,.3 3,3 .3,.4 2.8,2.9 .5,.6 2.6,2.7 .7,.8 2.4,2.5 .9,1 2.2,2.3 1.1,1.3 1.9,2 1.5,1.7 1.4,1.6 1.9,2.1 1,1.2 2.3,2.7 .5,.5 2.6,3.3 .2,.2 2.4,3.1 .9,1.3 1.5,2 1.8,2.9 .3,.4 1.8,3.3 1.2,2.9 .1,.4 .9,3.2 .2,3.3-.5,3.3-.7,1.8-.5,1.5-1.7,3.3-1.1,1.6-1.1,1.7-2.2,2.9-.3,.4-2.7,3.3-.3,.3-2.6,3-.7,.7-2.3,2.5-1,1.1-2.1,2.2-1.2,1.3-3.4,3.4-1.8,1.9-1.5,1.4-1.7,1.9-1.6,1.5-1.7,1.8-1.6,1.5-1.7,1.8-1.6,1.5-13.2,13.2z" fill="#008aff"/>
<path d="M413.1,281l125.1,0-2.1-2.5-.7-.8-2.6-3.1-.2-.2-2.8-3.3-.3-.3-2.6-3-.7-.9-2.1-2.3-1.2-1.5-1.7-1.8-1.6-2-1.2-1.3-2.1-2.6-.7-.7-2.6-3.1-.2-.2-2.8-3.3-.4-.5-2.4-2.8-.9-1.1-1.8-2.1-1.5-2-1.1-1.3-2.2-3-.3-.3-2.3-3.3-.7-1.2-1.4-2.1-1.5-3.3-.4-1.4-.6-1.9-.1-3.3 .7-2.3 .3-1 1.6-3.2 1.4-1.8 1-1.5 2.3-2.7 .5-.6 2.8-3.1 .2-.2 3.1-3.2 .1-.1 3.2-3.1 .2-.2 3.2-3 .2-.3 3.1-2.8 .4-.4 2.9-2.6 .7-.7 2.6-2.4 1-.9 2.3-2 1.3-1.3 2-1.7 1.7-1.6 1.6-1.4 2.1-1.9 1.2-1 2.5-2.3 .8-.6 3-2.7 .3-.2 0-16.2-131.3,0 9.9,9.9 2.4,2.5 .8,.7 2.5,2.6 .8,.7 2.5,2.7 .7,.6 2.6,2.8 .6,.5 2.7,2.9 .5,.4 2.8,3 .3,.3 3.1,3.2 0,.1 3.1,3.3 .2,.2 2.8,3.1 .5,.5 2.5,2.7 .8,1 2.1,2.3 1.2,1.5 1.6,1.8 1.7,2.2 1,1.1 2.3,3.1 .1,.2 2.3,3.3 .9,1.8 .9,1.5 1.2,3.2 .4,3.3-.6,3.3-1.6,3.3-.3,.5-1.8,2.8-1.5,1.8-1,1.5-2.3,2.5-.6,.8-2.7,2.8-.4,.5-2.9,3-.3,.3-3,3.1-.2,.1-3.1,3.2-.2,.1-3.3,3.3-3.2,3.1-.2,.2-3.1,3-.2,.3-3.1,2.9-.3,.4-3,2.9-.4,.4-2.9,2.8-.4,.4-2.9,2.8-.5,.5-2.8,2.7-3.9,3.9-2.7,2.6z" fill="#0095ff"/>
<path d="M414.1,281l123.1,0-1.1-1.3-1.8-2-1.5-1.8-1.3-1.5-2-2.3-.9-1-2.4-2.7-.6-.6-2.7-3.1-.2-.1-2.9-3.3-.2-.3-2.8-3-.5-.7-2.4-2.6-.9-1.1-2.1-2.2-1.3-1.4-1.7-1.9-1.6-1.8-1.4-1.5-1.9-2.1-1.1-1.1-2.2-2.6-.8-.7-2.5-2.9-.5-.4-2.8-3.2-.1-.1-3-3.3-.2-.3-2.7-3-.6-1.1-2-2.2-.8-3.3 2.2-3.3 .6-.3 2.6-2.9 .7-.5 2.9-2.8 .4-.3 3.2-3 .1-.1 3.3-3 .2-.2 3.1-2.7 .6-.6 2.7-2.4 1-.9 2.3-2 1.4-1.3 2-1.6 1.7-1.6 1.6-1.3 2.2-2 1.1-.9 2.7-2.4 .6-.5 3.2-2.8 .1-.1 3.3-2.9 .3-.3 3-2.5 .8-.8 2.5-2.1 1.3-1.2 2-1.6 1.9-1.7 1.4-1.1 0-15.3-130.4,0 4.8,4.8 1.9,1.8 1.4,1.5 1.9,1.8 1.4,1.4 1.9,1.8 1.4,1.5 1.9,1.8 1.4,1.5 1.9,1.8 1.4,1.5 1.9,1.8 1.4,1.5 1.8,1.8 1.5,1.6 1.8,1.7 1.6,1.6 1.6,1.7 3.3,3.3 1.7,1.8 1.5,1.5 1.8,1.9 1.4,1.3 1.9,2.1 1.3,1.2 2,2.2 1.1,1.1 2.2,2.4 1,.9 2.3,2.6 .8,.7 2.5,2.8 .5,.5 2.8,3.2 .1,.1 2.8,3.2 .4,1.4 1.5,1.9-1.5,2.4-.2,.9-3.1,3.3-3.3,3.2-.1,.1-3.2,3-.3,.3-3,2.8-.5,.5-2.8,2.6-.7,.7-2.6,2.3-.9,1-2.4,2.1-1.2,1.1-2.1,2-1.4,1.3-1.9,1.8-1.6,1.5-1.7,1.6-1.8,1.7-1.6,1.4-1.9,1.9-1.4,1.2-2.1,2.1-1.2,1-2.3,2.3-1,.9-2.4,2.3-.9,.8-2.6,2.5-.7,.7-2.7,2.6-.6,.5-2.9,2.8-.4,.4z" fill="#00a0ff"/>
<path d="M415.2,281l121,0-.1-.1-2.8-3.2-.5-.5-2.5-2.8-.8-.9-2.2-2.4-1.1-1.3-1.9-2-1.4-1.6-1.6-1.6-1.7-2-1.3-1.3-2-2.2-1.1-1.1-2.2-2.4-.9-.9-2.5-2.6-.7-.7-2.6-2.7-3.9-3.9-2.7-2.6-.7-.6-2.6-2.5-1-.8-2.3-2.1-1.7-1.2-1.6-1.4-3.1-1.9-.2-.2-3.3-1.5-3.3-.5-3.3,.5-3.3,1.3-.5,.4-2.8,1.4-2.6,1.9-.7,.4-3.3,2.5-.5,.4-2.8,2.1-1.3,1.2-2,1.6-1.9,1.6-1.4,1.2-2.5,2.1-.8,.7-2.9,2.6-.4,.4-3.3,2.9-3.4,3-.3,.3-3,2.7-.6,.6-2.7,2.4-.9,.9-2.4,2.1-1.1,1.1-2.2,2-1.3,1.3-2,1.8-1.6,1.5-1.7,1.6-1.7,1.7-1.6,1.4zM472.9,205.4l.4,.3 3.3,1.9 3.3,.9 3.3,0 3.3-.8 3.3-1.6 1-.7 2.3-1.3 2.8-2 .5-.3 3.3-2.4 .7-.6 2.6-2 1.5-1.3 1.8-1.3 2.3-2 1-.7 3.1-2.5 .3-.3 3.3-2.7 .3-.3 3-2.4 1-.9 2.3-1.9 1.6-1.4 1.7-1.4 2.2-1.9 1.1-.9 2.8-2.4 .5-.3 3.3-2.8 .1-.2 3.2-2.6 .7-.7 2.6-2.1 0-14.3-129.6,0 .7,.7 2.7,2.6 .6,.6 2.8,2.7 .5,.5 2.9,2.8 .4,.4 3,2.8 .3,.4 3,2.9 .3,.3 3.1,3 .2,.3 3.2,3 .1,.2 3.2,3.1 .1,.1 3.3,3.2 .1,0 3.3,3.2 0,.1 3.3,3.1 .1,.2 3.2,3 .2,.3 3.1,2.9 .4,.3 2.9,2.8 .7,.5 2.6,2.5 1.1,.8 2.2,2 1.7,1.3 1.6,1.4z" fill="#00abff"/>
<path d="M416.2,281l118.9,0-2.3-2.6-.7-.7-2.6-2.9-.4-.4-2.9-3.2-.1-.1-3.1-3.3-.1-.1-3-3.1-.3-.4-2.9-2.9-.4-.5-2.8-2.8-.5-.6-2.8-2.7-.6-.6-2.8-2.7-.5-.4-3-2.9-.3-.2-3.3-3-.1-.1-3.2-2.6-.9-.6-2.4-1.9-2.3-1.4-1-.8-3.3-1.7-2.8-.8-.5-.2-3.3-.5-3.3,.3-1.3,.4-2,.5-3.3,1.3-2.5,1.5-.8,.4-3.3,2-1.1,.9-2.2,1.4-2.4,1.8-.9,.7-3.3,2.6-.1,0-3.2,2.7-.8,.6-2.5,2.1-1.4,1.2-1.9,1.6-1.9,1.7-1.5,1.2-2.3,2.1-1,.8-2.7,2.5-.6,.4-3.1,2.8-.2,.2-3.3,3-.1,.1-3.2,2.9-.4,.4-2.9,2.7-.6,.6-2.7,2.5zM474.3,202.1l2.3,1 3.3,.8 3.3,.1 3.3-.6 3.3-1.2 .3-.1 3-1.3 6.6-4 1.7-1.3 1.6-1 3.1-2.3 .2-.1 3.3-2.5 .8-.6 2.6-1.9 1.6-1.4 1.7-1.2 2.5-2.1 .8-.6 3.3-2.7 3.3-2.6 .8-.7 2.5-2 1.5-1.3 1.8-1.4 2.2-1.9 1.1-.8 2.9-2.5 .4-.3 3.3-2.7 0-13.4-128.7,0 3.1,3 .3,.3 3,2.9 .5,.4 2.8,2.7 .6,.6 2.7,2.6 .8,.6 2.5,2.5 .9,.8 2.4,2.4 1.1,.9 2.2,2.2 1.2,1.1 2.1,2.1 1.4,1.2 2,1.9 1.5,1.4 1.8,1.7 1.8,1.6 1.5,1.4 2.1,1.9 1.2,1.1 2.5,2.2 .8,.7 3,2.5 .3,.3 3.3,2.7 .5,.3 2.8,2.2 1.8,1.1 1.5,1.1 3.3,1.8z" fill="#00b7ff"/>
<path d="M417.3,281l116.7,0-1.2-1.4-1.8-1.9-1.5-1.6-1.6-1.7-1.7-1.8-1.4-1.5-1.9-2-1.3-1.3-2-2.1-1.3-1.1-2-2.2-1.3-1.1-2-2.1-1.4-1.2-2-2-1.5-1.3-1.8-1.7-1.9-1.6-1.4-1.3-2.4-2-.9-.7-3.3-2.5-.1-.1-3.2-2.2-2-1-1.3-.8-3.3-1.5-3.3-.9-1-.1-2.3-.3-3.3,.1-.6,.2-2.7,.5-3.3,1.1-3.3,1.6-.1,.1-3.2,1.7-2.4,1.5-.9,.6-3.3,2.3-.6,.4-2.7,1.9-1.8,1.4-1.5,1.2-2.7,2.1-.6,.5-3.3,2.7-.1,.1-3.3,2.6-.7,.7-2.6,2.2-1.2,1.1-2.1,1.7-1.7,1.5-1.6,1.4-2.1,1.9-1.2,1.1-2.5,2.2-.8,.7-2.8,2.6-.5,.4zM474.2,198.8l2.4,.9 3.3,.7 3.3,.1 3.3-.4 3.3-.9 .8-.4 2.5-.9 3.3-1.6 1.3-.8 2-1.1 3.3-2.1 .2-.1 3.1-2 1.7-1.2 1.6-1.2 3-2.1 .4-.3 3.3-2.5 .7-.5 2.6-2 1.6-1.3 1.7-1.2 2.5-2.1 .8-.5 3.3-2.7 .1-.1 3.2-2.5 .9-.8 2.4-1.9 1.7-1.4 1.6-1.2 2.4-2.1 .9-.6 0-12.5-127.8,0 2.2,2.1 1.3,1.2 2,1.9 1.5,1.4 1.8,1.8 1.7,1.5 1.6,1.6 1.9,1.6 1.4,1.5 2.1,1.8 1.2,1.2 2.4,2.1 .9,1 2.6,2.3 .7,.7 2.9,2.6 .5,.4 3.2,2.9 .1,.1 3.3,2.9 .3,.3 3,2.5 .9,.8 2.4,2 1.7,1.3 1.6,1.3 2.7,1.9 .6,.5 3.3,2.3 1,.5 2.3,1.5 3.3,1.5z" fill="#00c3ff"/>
<path d="M418.4,281l114.6,0-.2-.2-3-3.1-.3-.4-2.8-2.9-3.3-3.3-.5-.6-2.8-2.7-.5-.6-2.8-2.6-.5-.6-3-2.7-.3-.4-3.3-2.9-.1-.1-3.3-2.9-.3-.3-3-2.5-1.1-.8-2.2-1.7-3.3-2.4-3.3-2-.9-.5-2.4-1.2-3.3-1.3-2.8-.7-.5-.2-3.3-.4-3.3,.1-2.4,.5-.9,.1-3.3,.9-3.3,1.4-1.6,.8-1.7,.9-3.3,1.9-.8,.5-2.5,1.5-2.5,1.8-.8,.5-3.3,2.4-.5,.4-2.8,2.1-1.5,1.2-1.8,1.4-2.3,1.9-1.1,.8-2.9,2.5-.4,.2-3.3,2.8-.2,.2-3.1,2.6-.8,.7-2.5,2.2-1.2,1.1-2.1,1.8-1.6,1.5-1.7,1.5zM472.7,195.5l.6,.3 3.3,1.1 3.3,.6 3.3,.1 3.3-.3 3.3-.8 2.8-1 .5-.1 3.3-1.4 6.6-3.6 2.3-1.4 1-.7 3.3-2.2 .7-.4 2.7-1.8 2-1.5 1.3-.9 3.2-2.4 .1-.1 3.3-2.4 1-.8 2.3-1.7 1.9-1.6 1.4-1 2.9-2.3 .4-.3 3.3-2.6 .5-.4 2.8-2.2 1.3-1.1 2-1.5 0-11.6-126.9,0 1.3,1.3 3.3,3 2.5,2.3 .8,.8 2.7,2.5 .6,.5 3,2.7 .3,.4 3.3,2.9 0,.1 3.3,3 .4,.2 2.9,2.7 .8,.6 2.6,2.3 1.1,1 2.2,1.9 1.7,1.4 1.6,1.4 2.3,1.9 1,.8 3.1,2.5 .2,.1 4.4,3.2 2.2,1.5 2.8,1.7 .5,.4 3.3,1.8z" fill="#00cfff"/>
<path d="M419.5,281l112.3,0-2.3-2.5-.9-.8-2.4-2.5-4.1-4.1-2.5-2.4-1-.9-2.3-2.2-1.2-1-2.1-2.1-1.5-1.2-1.9-1.7-1.9-1.6-1.4-1.2-2.7-2.1-.6-.5-3.3-2.4-3.3-2.2-2.6-1.5-.7-.4-3.3-1.6-3.3-1.2-.3-.1-3-.7-3.3-.4-3.3,0-3.3,.5-2.1,.6-1.2,.3-3.3,1.2-3.3,1.6-.5,.2-2.8,1.5-3,1.8-.3,.2-3.3,2.1-1.4,1-1.9,1.3-2.8,2-.5,.4-3.3,2.5-.5,.4-2.9,2.1-1.3,1.2-2,1.5-2,1.7-1.3,1-2.7,2.3-.6,.5-3.3,2.8-3.3,2.9-.4,.4-2.9,2.5zM470.6,192.2l2.7,1.2 3.3,.9 3.3,.6 3.3,.1 3.3-.2 3.3-.7 3.3-1 2.2-.9 1.1-.4 3.3-1.5 2.5-1.3 .8-.5 3.3-1.9 1.5-.9 1.8-1.1 3.3-2.2 .1-.1 3.3-2.2 1.3-1 2-1.3 2.6-2 .7-.4 3.3-2.5 .5-.4 2.8-2.1 1.5-1.2 1.8-1.3 2.5-2 .8-.5 3.3-2.6 .2-.2 3.1-2.4 0-10.7-126,0 .4,.4 3.2,2.9 .1,.1 3.3,3 .2,.2 3.1,2.8 .5,.5 2.8,2.5 .9,.7 2.4,2.3 1.3,1 2,1.9 1.7,1.4 1.6,1.5 2.2,1.8 1.2,1 2.7,2.3 .6,.5 3.3,2.6 .2,.2 3.1,2.5 3.3,2.4 2.4,1.7 4.2,2.8 .9,.5 2.4,1.4 3.3,1.6z" fill="#00daff"/>
<path d="M420.7,281l110,0-1.2-1.3-2.1-2-1.2-1.3-2.1-2-1.2-1.2-2.3-2.1-1-1-2.5-2.3-.8-.8-2.9-2.4-.4-.5-3.4-2.8-3.3-2.7-.8-.6-2.5-1.9-2-1.4-1.3-.9-3.3-2.1-.6-.3-2.7-1.5-3.3-1.5-3.3-1.1-3.3-.8-3.3-.4-3.3,0-3.3,.5-3.3,.8-2.2,.7-1.1,.4-3.3,1.4-3.1,1.5-.2,.1-3.3,1.9-2.1,1.3-1.2,.7-3.9,2.6-2.7,1.9-1.9,1.4-1.4,1-3,2.3-.4,.2-3.3,2.6-.5,.4-2.8,2.2-1.3,1.1-2,1.6-1.9,1.7-1.4,1.1-2.5,2.2-.8,.6zM477.9,192.2l2,.4 3.3,.1 3.3-.2 1.5-.3 1.8-.3 3.3-.8 3.3-1.2 2-.9 1.3-.6 3.3-1.6 2-1.1 1.3-.7 3.3-2 1-.6 2.4-1.5 6.6-4.4 .9-.7 2.4-1.6 2.2-1.7 1.1-.7 3.3-2.4 .1-.2 3.2-2.3 1.2-1 2.1-1.5 2.3-1.8 1-.7 3.3-2.5 0-9.9-125.1,0 2.8,2.6 .8,.7 2.5,2.2 1.2,1.1 2.1,1.9 1.6,1.4 1.7,1.5 2.1,1.7 1.2,1.2 2.6,2.1 .7,.8 3.1,2.5 .2,.2 3.4,2.8 .4,.3 2.9,2.4 1.2,.9 2.1,1.7 2.1,1.6 1.2,.9 3.3,2.3 .1,.1 3.2,2.2 1.8,1.1 1.5,.9 3.3,1.8 1.3,.6 2,.9 3.3,1.3 3.3,.8z" fill="#00e4fb"/>
<path d="M421.8,281l107.7,0 0-.1-6.6-6.4-.2-.1-3.1-2.9-.4-.4-2.9-2.6-.8-.7-2.5-2.2-1.4-1-2-1.7-2-1.6-1.3-1-3.1-2.3-.2-.1-3.3-2.2-1.6-1-1.7-1-3.3-1.7-1.4-.6-1.9-.9-3.3-1-3.3-.8-3.3-.3-3.3,0-3.3,.4-3.3,.7-3.3,1-2.3,.9-1,.4-3.3,1.5-2.5,1.4-.8,.4-3.3,1.9-1.5,1-1.8,1.1-3.2,2.2-.1,.1-3.3,2.3-1.2,.9-2.2,1.5-2.2,1.7-1.1,.8-3.1,2.5-.2,.1-3.3,2.7-.6,.5-2.7,2.2-1.3,1.1-2,1.7zM472.9,189l.4,.1 3.3,.9 3.3,.5 3.3,.2 3.3-.2 3.3-.6 3.3-.8 .4-.1 2.9-1 3.3-1.3 2.1-1 1.2-.6 3.3-1.7 1.8-1 1.5-.9 3.4-2 .6-.4 2.7-1.6 2.4-1.7 .9-.5 3.3-2.3 .6-.5 2.7-1.8 2-1.5 1.3-.9 3.2-2.4 .1,0 3.3-2.4 1.1-.9 2.2-1.6 2.1-1.6 1.2-.9 0-9-124.2,0 1.9,1.7 1.8,1.6 1.5,1.3 2.3,2 1,.9 2.7,2.4 .6,.5 3.3,2.7 0,.1 3.3,2.8 .6,.4 2.7,2.4 1.3,.9 2.1,1.8 2,1.5 1.3,1.1 2.9,2.2 .4,.3 3.3,2.4 .9,.6 2.4,1.7 2.6,1.6 .7,.5 3.3,1.9 1.7,.9 1.6,.8 3.3,1.5z" fill="#00ecf6"/>
<path d="M423,281l105.3,0-2.1-2.1-1.3-1.2-2-1.9-1.6-1.4-1.7-1.6-1.9-1.7-1.4-1.2-2.5-2.1-.8-.7-3.2-2.5-.2-.2-3.3-2.5-.9-.6-2.4-1.7-2.5-1.6-.8-.5-3.3-1.9-1.8-.9-1.5-.8-3.3-1.3-3.3-1.1-.6-.1-2.7-.6-3.3-.3-3.3-.1-3.3,.4-3,.6-.3,.1-3.3,.9-3.3,1.2-2.4,1.1-.9,.4-3.3,1.6-2.2,1.3-1.1,.6-3.3,2-1,.7-2.3,1.5-2.6,1.8-.7,.4-3.4,2.4-.5,.4-4.4,3.3-1.7,1.3-2.5,2-.8,.6-6.6,5.4zM469,185.7l1,.4 3.3,1.1 3.3,.8 3.3,.5 3.3,.2 3.3-.2 3.3-.4 3.3-.8 3.3-1 1.6-.6 1.7-.7 3.3-1.4 2.4-1.2 .9-.5 3.3-1.8 1.8-1 1.6-.9 3.3-2 .5-.4 2.8-1.7 2.3-1.6 1-.6 3.3-2.3 .5-.4 2.8-1.9 1.9-1.4 1.4-.9 3.1-2.4 .2-.1 3.3-2.4 1-.7 2.3-1.7 0-8.2-123.2,0 .9,.9 2.8,2.4 .5,.4 3.3,2.9 3.3,2.8 .6,.5 2.7,2.3 1.2,.9 2.1,1.9 1.9,1.4 1.4,1.2 2.7,2.1 .7,.5 3.3,2.6 .3,.2 3,2.2 1.6,1.1 1.7,1.2 3.1,2.1 .2,.1 3.3,2.1 2,1.1 1.3,.7 3.3,1.6z" fill="#00f4f1"/>
<path d="M424.2,281l102.9,0-.9-.9-2.6-2.4-.7-.7-3-2.6-.3-.3-3.3-2.8-.2-.2-3.1-2.6-.9-.7-2.5-1.9-1.8-1.3-1.5-1.1-3.2-2.2-.1,0-3.3-2.1-3.3-1.8-3.3-1.6-2.8-1.1-.5-.2-3.3-1-3.3-.7-3.3-.4-3.3,0-3.3,.3-3.3,.6-3.3,.9-1.3,.5-2,.7-3.3,1.3-2.5,1.3-.8,.4-3.3,1.7-1.9,1.2-1.4,.8-3.3,2.1-.6,.4-2.7,1.7-2.2,1.5-1.2,.9-6.6,4.8-1.1,.9-2.2,1.7-2,1.6-1.3,1zM474.4,185.7l2.2,.5 3.3,.5 3.3,.2 3.3-.2 3.3-.4 2.8-.6 .5-.1 3.3-1 3.3-1.2 2.5-1 .8-.4 3.3-1.5 2.7-1.4 .6-.3 3.4-1.9 1.8-1.1 1.5-.8 3.3-2.1 .5-.4 2.8-1.7 2.3-1.6 1-.6 3.3-2.3 .5-.4 2.8-1.9 1.8-1.4 1.5-1 3.1-2.2 .2-.2 3.3-2.4 0-7.3-122.3,0 3.3,2.9 .5,.4 2.8,2.4 1.1,.9 2.2,1.9 1.8,1.4 1.5,1.3 2.5,1.9 .8,.8 3.3,2.5 0,.1 3.4,2.6 .9,.6 2.4,1.8 2.1,1.5 1.2,.9 6.6,4.4 2.3,1.3 1,.6 3.3,1.8 1.9,.9 1.4,.7 3.3,1.3 3.3,1z" fill="#00f8e8"/>
<path d="M425.5,281l100.4,0-3-2.7-.7-.6-2.6-2.3-1.2-1-2.1-1.8-1.9-1.5-1.4-1.2-2.8-2.1-.6-.4-3.3-2.4-.7-.4-2.6-1.8-2.6-1.5-.7-.5-3.3-1.7-2.3-1.1-1-.5-3.3-1.2-3.3-1-3.1-.6-.2,0-3.3-.4-3.3,0-3.3,.2-.8,.2-2.5,.4-3.3,.8-3.3,1.1-2.3,1-1,.4-3.3,1.5-2.6,1.4-.7,.3-3.3,1.9-1.8,1.1-1.5,.9-3.3,2.1-.3,.2-3.1,2.1-1.7,1.2-1.6,1.1-2.9,2.2-.4,.3-3.3,2.5-.6,.5-2.7,2.1zM469.1,182.4l4.2,1.4 3.3,.7 3.3,.5 3.3,.1 3.3-.1 3.3-.4 3.3-.6 3.3-.9 1.9-.7 1.4-.5 3.3-1.3 3.3-1.5 3.3-1.6 3.1-1.7 .3-.1 3.3-1.9 2-1.3 1.3-.7 3.3-2.1 .7-.5 2.6-1.6 2.3-1.7 1-.6 3.3-2.2 .5-.5 2.8-1.8 1.9-1.4 1.4-1 3.2-2.3 .1-.1 0-6.5-121.3,0 2.3,2 1.6,1.3 1.7,1.5 3.3,2.7 3,2.4 .3,.3 3.3,2.6 .5,.3 2.8,2.3 1.5,1 1.9,1.5 2.5,1.8 .8,.6 3.3,2.3 3.3,2.2 2.4,1.5 .9,.6 3.3,1.8 1.7,.9 1.6,.9 3.3,1.5z" fill="#00f9dc"/>
<path d="M426.8,281l97.8,0-1.7-1.5-2.1-1.8-1.2-1.1-2.7-2.2-.6-.5-3.3-2.6-.2-.2-3.2-2.3-1.3-1-2-1.3-3-1.9-.3-.2-3.3-2-2.2-1.1-1.1-.6-3.3-1.5-3.3-1.2-.1,0-3.2-.9-3.3-.7-3.3-.3-3.3-.1-3.3,.3-3.3,.5-3.3,.8-1.2,.4-2.1,.6-3.3,1.3-3,1.4-.3,.1-3.3,1.6-2.8,1.6-.5,.3-3.3,1.9-1.6,1-5.1,3.3-3.3,2.3-1.4,1-1.9,1.4-2.5,1.9-.8,.5-3.3,2.6zM474.5,182.4l2.1,.5 3.3,.4 3.3,.2 3.3-.1 3.3-.4 3.3-.6 3.3-.9 3.3-1 3.3-1.3 .3-.1 3-1.3 3.3-1.6 .7-.4 2.7-1.3 3.3-1.9 .1-.1 3.2-1.8 2.3-1.5 1-.6 3.3-2.1 .8-.6 2.5-1.5 2.5-1.8 .8-.5 3.3-2.2 .7-.5 2.6-1.8 2-1.5 1.3-.9 0-5.7-120.3,0 1.3,1.2 2.6,2.1 .7,.6 3.3,2.7 3.3,2.6 .9,.7 2.4,1.9 1.8,1.3 1.5,1.2 2.9,2.1 .5,.4 3.3,2.3 .9,.6 2.4,1.7 2.5,1.6 .8,.5 3.3,2 1.5,.8 1.8,1 3.3,1.7 1.4,.6 1.9,.8 3.3,1.3 3.3,.9z" fill="#00facf"/>
<path d="M428.1,281l95.2,0-.4-.4-3.3-2.8-.2-.1-3.1-2.6-1-.7-2.3-1.8-2.1-1.5-1.3-.9-3.3-2.3-.1-.1-3.2-2-3.3-1.8-3.3-1.7-2.3-1-1-.4-3.3-1.2-3.3-.9-3.3-.7-1.5-.1-1.8-.2-3.3-.1-3.3,.3-.2,0-3.1,.4-3.3,.8-3.3,1-2.9,1.1-.4,.1-3.3,1.4-3.3,1.6-.3,.2-3,1.6-2.9,1.6-.4,.3-3.3,2-1.6,1-1.8,1.2-3.1,2.1-.2,.1-6.6,4.8zM468.5,179.1l1.5,.5 3.3,1 3.3,.7 3.3,.4 3.3,.2 3.3-.1 3.3-.3 3.3-.6 3.3-.8 3.2-1 .1,0 3.3-1.2 3.3-1.4 1.4-.7 1.9-.9 3.4-1.6 1.3-.8 2-1 3.3-1.9 .5-.4 2.8-1.6 2.6-1.7 .7-.4 3.3-2.1 1.1-.8 2.2-1.4 3.3-2.2 3.3-2.3 .9-.6 2.4-1.7 0-4.9-119.3,0 .3,.3 3.3,2.7 .4,.3 2.9,2.4 1.2,.9 2.1,1.7 2.2,1.6 1.1,.9 3.2,2.3 .1,.2 3.4,2.4 1.1,.7 2.2,1.6 2.6,1.7 .7,.5 3.3,2.1 1.3,.7 2,1.2 3.3,1.8 .7,.3 2.6,1.3 3.3,1.4z" fill="#00fbc3"/>
<path d="M429.5,281l92.4,0-2.3-2-1.7-1.3-1.6-1.3-2.7-2-.6-.5-3.4-2.4-.5-.4-2.8-1.8-2.4-1.5-.9-.5-3.3-1.9-1.8-.8-1.5-.8-3.3-1.4-3.3-1.1-3.3-.9-3.3-.7-3.3-.3-3.3-.1-3.3,.2-3.3,.5-3.3,.7-1.8,.6-1.5,.4-3.3,1.2-3.3,1.3-.7,.4-2.6,1.2-3.3,1.7-.6,.3-2.7,1.5-3,1.8-.3,.2-3.4,2.1-1.4,1-1.9,1.2-2.9,2.1-.4,.2-3.3,2.4zM473.2,179.1l.1,0 3.3,.7 3.3,.5 3.3,.1 3.3,0 3.3-.4 3.3-.5 1.6-.4 1.7-.4 3.3-1 3.3-1.1 1.8-.8 1.5-.6 3.3-1.5 2.5-1.2 .9-.4 3.3-1.7 2-1.2 1.3-.7 3.3-1.9 1-.7 2.3-1.3 3-2 .3-.1 3.3-2.2 1.4-.9 1.9-1.2 3-2.1 .3-.2 3.3-2.3 0-4.1-118.3,0 2.6,2.2 1.5,1.1 1.8,1.5 2.4,1.8 .9,.7 3.3,2.5 .1,.1 3.2,2.4 1.3,.8 2.1,1.5 6.6,4.4 1.2,.7 2.1,1.3 3.3,1.9 .2,.1 3.1,1.7 3.3,1.5 .3,.1 3,1.3 3.3,1.1z" fill="#00fcb7"/>
<path d="M430.8,281l89.7,0-.9-.8-3.2-2.5-.1-.1-3.3-2.5-1.1-.7-2.3-1.6-2.6-1.7-.7-.4-3.3-2-1.5-.9-1.8-.9-3.3-1.6-1.8-.7-1.5-.7-3.3-1.1-3.3-.9-3.3-.6-.7,0-2.6-.3-3.3-.1-3.3,.2-1.2,.2-2.1,.3-3.3,.6-3.3,.9-3.3,1.2-.7,.3-2.6,1-3.3,1.5-1.5,.7-1.8,1-3.3,1.8-1,.5-2.3,1.4-3.1,1.9-.3,.2-3.3,2.1-1.3,1-2,1.3zM467,175.8l3,1 3.3,.9 3.3,.7 3.3,.4 3.3,.2 3.3-.1 3.3-.3 3.3-.5 3.3-.7 3.3-1 3.3-1.1 3.3-1.3 3.3-1.5 .1,0 3.3-1.5 3.3-1.7 0-.1 3.3-1.7 2.6-1.6 .7-.3 3.3-2 1.5-1 1.8-1 3.3-2.1 .1-.1 3.2-2.1 3.3-2.2 3.3-2.3 0-3.3-117.3,0 1.6,1.3 2.6,2 .7,.6 3.3,2.5 .3,.2 3,2.3 1.5,1 1.8,1.4 2.8,1.8 .6,.4 3.3,2.3 1.1,.6 2.2,1.5 3.1,1.8 .2,.1 3.3,1.9 2.6,1.3 .7,.4 3.3,1.5 3.3,1.3z" fill="#00fdab"/>
<path d="M432.3,281l86.8,0-2.8-2.2-1.6-1.1-1.7-1.3-2.9-2-.5-.3-3.3-2.1-1.4-.9-1.9-1.1-3.3-1.7-.9-.5-2.4-1.1-3.3-1.3-2.5-.8-.8-.3-3.3-.9-3.3-.6-3.3-.3-3.3-.1-3.3,.2-3.3,.4-3.3,.7-3.3,.9-3.3,1-3.3,1.3-2.1,.9-1.2,.6-3.3,1.6-2.1,1.1-1.2,.7-3.3,1.9-1.2,.7-2.2,1.3-3.1,2-.2,.1-3.3,2.2zM471.3,175.8l2,.5 3.3,.7 3.3,.4 3.3,.2 3.3,0 3.3-.3 3.3-.5 3.3-.8 .9-.2 2.4-.6 3.3-1.1 3.3-1.3 .7-.3 2.6-1.1 3.4-1.5 1.2-.7 2.1-1 3.3-1.7 .9-.6 2.4-1.3 3.3-1.9 0-.1 3.3-1.9 2-1.3 1.3-.8 3.3-2.1 3.3-2.2 2.2-1.5 1.1-.7 0-2.6-116.2,0 .5,.5 3.3,2.5 .4,.3 2.9,2.2 1.6,1.1 1.7,1.3 2.8,2 .5,.4 3.4,2.2 3.3,2.2 2.8,1.7 .5,.3 3.3,2 1.9,1 1.4,.8 3.3,1.6 2,.9 1.3,.6 3.3,1.3 3.3,1.1z" fill="#00fe9e"/>
<path d="M433.8,281l83.8,0-1.3-1-3.2-2.3-.1-.1-3.4-2.2-1.5-1-1.8-1.1-3.3-1.9-.4-.3-2.9-1.5-3.3-1.5-.7-.3-2.6-1-3.3-1.1-3.3-.8-2-.3-1.3-.3-3.3-.3-3.3-.1-3.3,.2-3.3,.4-.5,.1-2.8,.5-3.3,.8-3.3,1.1-2.3,.8-1,.4-3.3,1.4-3.1,1.5-.2,.1-3.3,1.8-2.6,1.4-.7,.4-3.4,2-1.4,.9-1.9,1.2zM477.8,175.8l2.1,.3 3.3,.2 3.3-.1 3.3-.3 1-.1 2.3-.3 3.3-.7 3.3-.9 3.3-1 1-.4 2.3-.8 3.3-1.4 2.4-1.1 1-.4 3.3-1.6 2.3-1.3 1-.4 3.3-1.8 1.7-1.1 1.6-.8 3.3-2 .6-.4 2.7-1.6 2.6-1.7 .7-.5 3.3-2.1 1-.7 2.3-1.5 0-1.8-115.2,0 2.8,2.2 1.6,1.1 1.7,1.3 2.8,2 .5,.4 3.3,2.3 .9,.6 5,3.2 .8,.5 3.3,2.1 1.4,.7 1.9,1.2 3.3,1.7 .9,.4 2.4,1.2 3.3,1.5 1.8,.6 1.5,.6 3.3,1.1 3.3,.8 3.3,.7z" fill="#00ff92"/>
<path d="M435.3,281l80.8,0-3.1-2.2-3.4-2.2-3.3-2-.2-.2-3.1-1.7-3-1.6-.3-.1-3.3-1.5-3.3-1.3-1.2-.4-2.1-.6-3.3-.9-3.3-.6-3.3-.3-3.3-.1-3.3,.2-3.3,.3-3.3,.6-3.3,.9-1.8,.5-1.5,.5-3.3,1.2-3.3,1.4-.5,.2-2.8,1.3-3.3,1.7-.6,.3-2.7,1.5-3,1.8-.4,.2-3.3,2zM468.8,172.5l1.2,.4 3.3,.9 3.3,.6 3.3,.4 3.3,.2 3.3-.1 3.3-.2 3.3-.5 3.3-.6 3.3-.9 .7-.2 2.6-.8 3.3-1.2 3.3-1.3 3.4-1.4 3.3-1.6 .4-.3 2.9-1.4 3.3-1.8 .1-.1 3.2-1.7 2.5-1.5 .8-.5 3.3-2 1.3-.8 2-1.2 3.2-2.1 .1-.1 3.3-2.1 0-1.1-114.1,0 1.7,1.3 2.8,2 .5,.4 3.3,2.4 .8,.5 2.5,1.7 2.4,1.6 1,.6 3.3,2.1 .9,.5 2.4,1.5 6.6,3.6 6.6,3 3.3,1.2z" fill="#00ff86"/>
<path d="M436.9,281l77.5,0-1.4-1-3.4-2.2-.1-.1-3.2-1.9-2.4-1.4-.9-.5-3.3-1.6-2.6-1.2-.7-.3-3.3-1.2-3.3-1.1-2.8-.7-.5-.1-3.3-.6-3.3-.3-3.3-.1-3.3,.1-3.3,.4-3.3,.6-.2,0-3.1,.8-3.3,1-3.3,1.2-.9,.3-2.4,1-3.3,1.5-1.6,.8-1.7,.9-3.3,1.7-1.2,.7-2.2,1.2zM473.4,172.5l3.2,.6 3.3,.4 3.3,.2 3.3,0 3.3-.2 3.3-.5 2.5-.5 .8-.1 3.3-.8 3.3-1 3.3-1.2 .5-.2 2.8-1 3.4-1.5 1.6-.8 1.7-.7 3.3-1.7 1.6-.9 1.7-.8 3.3-1.8 1-.6 2.3-1.3 6.6-4 1.9-1.3 1.4-.8 3.3-2.2 0-.3-113,0 .6,.5 3.3,2.3 .7,.5 2.6,1.9 2.2,1.4 1.1,.8 3.4,2.2 .5,.3 2.8,1.7 2.6,1.5 .7,.4 3.3,1.9 2.1,1 1.2,.7 3.3,1.5 2.7,1.1 .6,.3 3.3,1.2 3.3,1 3.3,.8z" fill="#00ff7a"/>
<path d="M438.6,281l74.2,0-3.2-2-2.1-1.3-1.2-.7-3.3-1.8-1.5-.8-1.8-.9-3.3-1.4-2.6-1-.7-.2-3.3-1-3.3-.8-3.3-.6-3.3-.3-3.3-.1-3.3,.1-3.3,.3-3.3,.6-3.3,.8-3.3,.9-.9,.3-2.4,.9-3.3,1.3-2.6,1.1-.7,.4-3.3,1.6-2.5,1.3-.8,.4-3.4,1.9zM465.9,169.2l.8,.3 3.3,1 3.3,.8 3.3,.6 3.3,.4 3.3,.2 3.3,0 3.3-.3 3.3-.4 3.3-.6 3.3-.8 3.3-.9 .7-.3 2.6-.8 3.3-1.3 2.8-1.2 .6-.2 3.3-1.5 3.1-1.6 .2,0 3.3-1.7 2.7-1.5 .6-.3 3.3-1.9 1.9-1.1 1.4-.8 3.3-2 .7-.5 2.6-1.6 2.6-1.7-111.1,0 2.7,2 1.9,1.3 1.4,1 3.3,2.2 .2,.1 3.2,2 2,1.3 1.3,.7 3.3,1.9 3.3,1.8 3.3,1.7 1,.4 2.3,1.1 3.3,1.3z" fill="#00ff6d"/>
<path d="M440.3,281l70.7,0-1.4-.9-3.3-1.9-.9-.5-2.4-1.3-3.3-1.6-.9-.4-2.4-1-3.3-1.2-3.3-1-.2-.1-3.1-.7-3.3-.6-3.3-.3-3.3-.1-3.3,.1-3.3,.3-3.3,.6-3.3,.7-.1,0-3.2,.9-3.3,1.2-3.2,1.2-.1,.1-3.3,1.4-3.3,1.6-.5,.2-2.8,1.5zM469.6,169.2l.4,.1 3.3,.8 3.3,.6 3.3,.4 3.3,.2 3.3,0 3.3-.2 3.3-.4 3.3-.6 3.3-.8 .3-.1 3-.8 3.3-1.1 3.3-1.2 .4-.2 3-1.2 3.3-1.5 1.2-.6 2.1-.9 3.3-1.7 6.6-3.6 .5-.3 2.8-1.6 2.7-1.7 .6-.3 3.3-2.1 1.4-.9-108.8,0 1.6,1.2 3.2,2.1 .1,.1 3.3,2.2 1.7,1 1.7,1.1 3.3,1.9 .3,.3 6,3.2 .3,.2 3.3,1.6 3.3,1.5 .1,0 3.2,1.3 3.3,1.2z" fill="#00ff61"/>
<path d="M442.2,281l67,0-2.9-1.7-3.1-1.6-.2-.1-3.3-1.6-3.3-1.4-.6-.2-2.7-1-3.3-1-3.3-.7-3.2-.6-.1,0-3.3-.3-3.3-.1-3.3,.1-3.3,.3-.3,0-3,.5-3.3,.7-3.3,.9-3.3,1.1-.2,.1-3.1,1.2-3.3,1.4-1.5,.7-1.8,.9-3.3,1.6zM474.7,169.2l1.9,.4 3.3,.4 3.3,.2 3.3-.1 3.3-.2 3.3-.4 1.8-.3 1.5-.2 3.3-.8 3.3-.9 3.3-1 .9-.4 2.4-.8 3.4-1.3 2.4-1.2 .9-.3 3.3-1.5 2.7-1.4 .6-.3 3.3-1.7 2.3-1.3 1-.6 3.3-1.8 1.4-.9 1.9-1.1 3.3-2 .3-.2-106.5,0 .4,.3 3.3,2.3 1.2,.7 2.1,1.4 3.1,1.9 .3,.1 3.3,2 2.1,1.2 1.2,.7 3.3,1.7 1.8,.8 1.5,.8 3.3,1.4 2.8,1.1 .5,.2 3.3,1.2 3.3,.9 3.3,.8z" fill="#0f5"/>
<path d="M444.2,281l63,0-.9-.5-3.3-1.7-2.2-1.1-1.1-.5-3.3-1.4-3.3-1.1-.8-.3-2.5-.7-3.3-.8-3.3-.5-3.3-.4-3.3-.1-3.3,.1-3.3,.3-3.3,.5-3.3,.7-3.3,.9-3.3,1.1-3.3,1.2-2.4,1-.9,.4-3.3,1.5zM466,165.9l.7,.3 3.3,.9 3.3,.8 3.3,.6 3.3,.3 3.3,.2 3.3,0 3.3-.2 3.3-.3 3.3-.6 3.3-.7 3.3-.9 1.1-.4 2.2-.6 3.3-1.2 3.4-1.3 .3-.2 3-1.2 3.3-1.5 .9-.5 2.4-1.2 3.3-1.7 .8-.4 2.5-1.4 3.3-1.8 .1-.1 3.2-1.8 2.4-1.5-104.1,0 2.5,1.7 2.5,1.6 .8,.5 3.4,2 1.2,.8 2.1,1.2 3.3,1.8 .5,.3 2.8,1.4 3.3,1.6 .7,.2 2.6,1.2 3.3,1.3z" fill="#00ff49"/>
<path d="M446.2,281l58.9,0-2.1-1.1-3.3-1.5-1.6-.7-1.7-.7-3.3-1.1-3.3-1-2.2-.5-4.4-.8-3.3-.3-3.3-.2-3.3,.1-3.3,.3-3.3,.5-1.9,.4-1.4,.3-3.3,.9-3.3,1-3,1.1-.3,.1-3.3,1.4-3.3,1.5zM469.7,165.9l.3,.1 3.3,.8 3.3,.6 3.3,.3 3.3,.2 3.3,0 3.3-.1 3.3-.4 3.3-.5 3.3-.8 .8-.2 2.5-.6 3.3-1 3.3-1.2 1.3-.5 2.1-.7 3.3-1.4 2.4-1.1 .9-.4 3.3-1.6 2.5-1.3 .8-.4 3.3-1.8 2-1.1 1.3-.7 3.3-1.9 1.1-.7-101.6,0 1.3,.9 3.3,2.1 .6,.3 2.8,1.7 2.8,1.6 .5,.3 3.3,1.8 2.4,1.2 .9,.4 3.3,1.6 3,1.2 .3,.2 3.3,1.2 3.3,1.1z" fill="#00ff3c"/>
<path d="M448.5,281l54.4,0-3.2-1.5-3.3-1.3-1.4-.5-1.9-.6-3.3-1-3.3-.7-3.3-.6-3.3-.3-2-.1-3.4,0-1.2,.1-3.3,.2-3.3,.5-3.3,.7-3.3,.8-3.2,1-.1,0-3.3,1.2-3.3,1.3zM474.7,165.9l1.9,.4 3.3,.4 3.3,.2 3.3,0 3.3-.2 3.3-.4 2.4-.4 .9-.1 3.3-.7 3.3-.8 3.3-1 1.9-.7 1.4-.4 3.4-1.3 3.3-1.3 .4-.2 2.9-1.3 3.3-1.6 .9-.4 2.4-1.2 3.3-1.8 .6-.3 2.7-1.5 3.2-1.8-99.1,0 3.3,2.1 2.1,1.2 1.3,.8 3.3,1.9 1.2,.6 2.1,1.1 3.3,1.7 3.3,1.5 3.3,1.4 2.4,.8 .9,.4 3.3,1.1 3.3,.9 3.3,.7z" fill="#00ff30"/>
<path d="M450.9,281l49.5,0-.7-.3-3.3-1.4-3.3-1.1-1.8-.5-1.5-.4-3.3-.8-3.3-.5-3.3-.3-3.3-.2-3.3,.1-3.3,.3-3.3,.4-3.3,.7-2.8,.7-.5,.1-3.3,1-3.3,1.2zM465.5,162.6l1.2,.5 3.3,.9 3.3,.7 3.3,.5 3.3,.4 3.3,.2 3.3,0 3.3-.2 3.3-.3 3.3-.5 3.3-.7 3.3-.8 2.3-.7 1-.3 3.3-1 3.4-1.3 1.6-.6 1.7-.7 3.3-1.4 2.4-1.2 .9-.4 3.3-1.6 2.4-1.3 .9-.4 3.3-1.8 1.9-1.1-96.5,0 2,1.3 3.4,1.9 .1,.1 3.2,1.8 2.8,1.5 .5,.2 3.3,1.6 3.2,1.5 .1,0 3.3,1.4 3.3,1.2z" fill="#00ff25"/>
<path d="M453.6,281l44.1,0-1.3-.5-3.3-1.1-3.3-1-3.3-.7-.1,0-3.2-.5-3.3-.4-3.3-.1-3.3,.1-3.3,.2-3.3,.5-3.3,.6-3.3,.8-3.3,1zM469,162.6l1,.3 3.3,.8 3.3,.5 3.3,.4 3.3,.2 3.3,0 3.3-.2 3.3-.3 3.3-.5 3.3-.6 2-.6 1.3-.3 3.3-.9 6-2 .7-.3 3.3-1.3 3.3-1.4 .6-.3 2.7-1.2 3.3-1.6 .9-.5 2.4-1.2 3.3-1.8 .5-.3-93.8,0 .7,.4 3.4,2 1.6,.9 1.7,.9 3.3,1.7 1.4,.7 1.9,.9 3.3,1.5 2.2,.9 4.4,1.6 3.3,1.1z" fill="#00ff1a"/>
<path d="M456.7,281l37.9,0-1.5-.5-3.3-.9-3.3-.8-3.3-.5-3.3-.3-3.3-.1-3.3,0-3.3,.3-3.3,.4-3.3,.6-3.3,.8-3.3,1zM473.4,162.6l3.2,.6 3.3,.4 3.3,.2 3.3,0 3.3-.2 3.3-.3 3.3-.5 .9-.2 2.4-.4 3.3-.8 3.3-.9 3.3-1.1 .2,0 3.2-1.1 3.3-1.3 2-.9 1.3-.5 3.3-1.5 2.6-1.3 .7-.3 3.3-1.7 2.5-1.3-91.1,0 2.7,1.5 3.2,1.8 .1,0 3.3,1.7 3.2,1.6 .1,0 3.3,1.5 3.3,1.3 1.4,.5 1.9,.7 3.3,1 3.3,.9 3.3,.6z" fill="#00ff0a"/>
<path d="M465.5,281l20.4,0-2.7-.4-3.3-.4-3.3-.1-3.3,0-3.3,.3-3.3,.4zM467.5,159.4l2.5,.6 3.3,.7 3.3,.5 3.3,.4 3.3,.2 3.3,0 3.3-.1 3.3-.3 3.3-.5 3.3-.6 3.3-.7 .8-.2 2.5-.7 3.3-1 3.4-1.2 3.3-1.2 3.3-1.4 2.5-1.1 .8-.3 3.3-1.5 2.9-1.5-85.3,0 3.1,1.7 3.3,1.6 3.3,1.5 3.3,1.4 .9,.4 2.4,.9 3.3,1.2 3.3,1z" fill="#0cff00"/>
<path d="M476.9,159.4l3,.3 3.3,.2 3.3,0 3.3-.1 3.3-.3 1.2-.1 2.1-.3 3.3-.6 3.3-.7 3.3-.8 2.9-.9 .4-.1 3.4-1.1 3.3-1.2 2.1-.9 1.2-.5 3.3-1.4 3.1-1.4-79.1,0 3.3,1.6 3.3,1.5 .4,.2 2.9,1.2 3.3,1.3 2.5,.8 .8,.3 6.6,1.8 3.3,.6 3.3,.5z" fill="#23ff00"/>
<path d="M468.9,156.1l1.1,.3 3.3,.6 3.3,.5 3.3,.4 3.3,.2 3.3,0 3.3-.1 3.3-.3 3.3-.4 3.3-.5 3.3-.7 3.3-.8 3.3-1 3.4-1.1 3.3-1.1 3.3-1.3 3.1-1.3-72.5,0 3.3,1.5 3.3,1.3 1.3,.5 2,.7 3.3,1.1 3.3,1z" fill="#3bff00"/>
<path d="M479.8,156.1l.1,0 3.3,.2 3.3,0 3.3-.1 2-.1 1.3-.1 3.3-.4 3.3-.5 3.3-.7 3.3-.8 3-.8 .3-.1 3.4-1 3.3-1.2 2.6-1-65,0 2.9,1.2 6.6,2.2 3.3,.9 3.3,.8 3.3,.7 3.3,.4z" fill="#53ff00"/>
<path d="M469.5,152.8l.5,.1 3.3,.7 6.6,.8 3.3,.2 3.3,0 3.3-.1 3.3-.2 3.3-.4 3.3-.5 3.2-.6 .1,0 3.3-.8 3.3-.9 3.4-1 1.7-.6-56.6,0 2,.7 3.3,1 3.3,.9z" fill="#6aff00"/>
<path d="M481.3,152.8l1.9,.1 3.3,.1 3.3-.1 1.2-.1 2.1-.2 3.3-.3 3.3-.5 3.3-.6 6.6-1.6 .3-.1-46.9,0 .4,.1 3.3,.9 3.3,.8 3.3,.6 3.3,.5 3.3,.3z" fill="#82ff00"/>
<path d="M469.3,149.5l.7,.2 3.3,.6 3.3,.5 3.3,.3 3.3,.2 3.3,.1 3.3-.1 3.3-.2 3.3-.4 3.3-.5 3.3-.6 .6-.1-33.6,0z" fill="#9f0"/>
<path d="M480,149.5l3.2,.2 3.3,.1 3.3-.1 3-.2-9.6,0z" fill="#b1ff00"/>
<path d="M410.5,212l0,3.2M542.7,254.5l-1.4-3.1-1.3-3.3-.6-1.6-.7-1.7-1-3.2-1-3.3-.6-2.8-.1-.5-.6-3.3-.5-3.3-.2-3.3 0-3.3 .2-3.3 .4-3.3 .7-3.2 .1-.6 .7-2.7 1-3.3 1.2-3.3 .4-.8 1.1-2.5 1.6-3.3 .6-1.1M410.5,171l1,1.5 2.1,3.3 .2,.4 1.8,2.9 1.5,2.8 .3,.5 1.7,3.3 1.3,2.8 .2,.5 1.4,3.2 1.3,3.3 .4,1.4 .6,1.9 .9,3.3 .7,3.3 .5,3.3 .3,3.3 .1,3.2-.1,3.3-.4,3.3-.5,3.3-.8,3.3-.9,3.3-.4,.9-.8,2.4-1.3,3.3-1.2,2.6-.3,.7-1.6,3.2-1.4,2.6-.3,.7-1.9,3.3-1.1,1.7-.9,1.6-2.4,3.6M542.7,279.2l-1.2-1.5-2.1-2.8-.4-.5-2.5-3.3-.4-.5-2.1-2.8-1.2-1.7-1.2-1.5-2.1-3-.3-.3-2.3-3.3-.7-1.1-1.6-2.2-1.7-2.7-.5-.6-2-3.3-.8-1.4-1.2-1.9-1.8-3.2-.3-.8-1.4-2.5-1.4-3.3-.5-1.7-.7-1.6-.9-3.3-.6-3.3-.2-3.3 .1-3.3 .5-3.3 .9-3.2 .9-2.1 .4-1.2 1.6-3.3 1.3-2.2 .6-1.1 2.1-3.3 .6-.8 1.7-2.5 1.6-1.9 1-1.4 2.3-2.7 .4-.5 2.9-3.3 3-3.3 .3-.3 2.7-3 .6-.5 2.6-2.8 .7-.6 2.6-2.7 .7-.7M410.5,153.8l2.1,2.3 1.2,1.3 1.8,2 1.5,1.7 1.5,1.5 1.8,2.2 1.1,1.1 2.2,2.6 .6,.7 2.7,3.2 .1,.1 2.7,3.3 .5,.6 2.2,2.7 1.1,1.5 1.4,1.8 1.9,2.6 .6,.7 2.3,3.3 .4,.7 1.8,2.5 1.6,2.6 .4,.7 1.8,3.3 1.1,2.2 .5,1.1 1.4,3.3 1,3.3 .4,1.8 .3,1.5 .4,3.2-.1,3.3-.4,3.3-.2,1-.5,2.3-1.2,3.3-1.4,3.3-.2,.4-1.5,2.9-1.8,3-2.4,3.6-1,1.3-1.3,1.9-2,2.5-.5,.8-2.6,3.3-.2,.1-2.5,3.2-.8,.8-2,2.5-1.3,1.4-1.6,1.9-1.7,1.8-1.2,1.5-2.1,2.2-.9,1-2.4,2.6-.6,.7-2.7,2.9-.4,.4-2.9,3.2M527.1,281l-.9-.9-2.6-2.4-.7-.7-3-2.6-.3-.3-3.3-2.8-.2-.2-3.1-2.6-.9-.7-2.5-1.9-1.8-1.3-1.5-1.1-3.2-2.2-.1,0-3.3-2.1-3.3-1.8-3.3-1.6-2.8-1.1-.5-.2-3.3-1-3.3-.7-3.3-.4-3.3,0-3.3,.3-3.3,.6-3.3,.9-1.3,.5-2,.7-3.3,1.3-2.5,1.3-.8,.4-3.3,1.7-1.9,1.2-1.4,.8-3.3,2.1-.6,.4-2.7,1.7-2.2,1.5-1.2,.9-6.6,4.8-1.1,.9-2.2,1.7-2,1.6-1.3,1-2.8,2.3M420.4,149.5l3.3,2.9 .5,.4 2.8,2.4 1.1,.9 2.2,1.9 1.8,1.4 1.5,1.3 2.5,1.9 .8,.8 3.3,2.5 0,.1 3.4,2.6 .9,.6 2.4,1.8 2.1,1.5 1.2,.9 6.6,4.4 2.3,1.3 1,.6 3.3,1.8 1.9,.9 1.4,.7 3.3,1.3 3.3,1 1.1,.3 2.2,.5 3.3,.5 3.3,.2 3.3-.2 3.3-.4 2.8-.6 .5-.1 3.3-1 3.3-1.2 2.5-1 .8-.4 3.3-1.5 2.7-1.4 .6-.3 3.4-1.9 1.8-1.1 1.5-.8 3.3-2.1 .5-.4 2.8-1.7 2.3-1.6 1-.6 3.3-2.3 .5-.4 2.8-1.9 1.8-1.4 1.5-1 3.1-2.2 .2-.2 3.3-2.4M500.4,281l-.7-.3-3.3-1.4-3.3-1.1-1.8-.5-1.5-.4-3.3-.8-3.3-.5-3.3-.3-3.3-.2-3.3,.1-3.3,.3-3.3,.4-3.3,.7-2.8,.7-.5,.1-3.3,1-3.3,1.2-2.6,1M438.2,149.5l2,1.3 3.4,1.9 .1,.1 3.2,1.8 2.8,1.5 .5,.2 3.3,1.6 3.2,1.5 .1,0 3.3,1.4 3.3,1.2 2.1,.6 1.2,.5 3.3,.9 3.3,.7 3.3,.5 3.3,.4 3.3,.2 3.3,0 3.3-.2 3.3-.3 3.3-.5 3.3-.7 3.3-.8 2.3-.7 1-.3 3.3-1 3.4-1.3 1.6-.6 1.7-.7 3.3-1.4 2.4-1.2 .9-.4 3.3-1.6 2.4-1.3 .9-.4 3.3-1.8 1.9-1.1M469.3,149.5l.7,.2 3.3,.6 3.3,.5 3.3,.3 3.3,.2 3.3,.1 3.3-.1 3.3-.2 3.3-.4 3.3-.5 3.3-.6 .6-.1" fill="none" stroke="#10241c" stroke-width=".55" stroke-opacity=".85"/>
<path d="M410.5,149.5V281H542.7" fill="none" stroke="#222" stroke-width=".5"/>
<text x="410.5" y="290.6" class="tk" text-anchor="middle">42.5</text>
<text x="436.9" y="290.6" class="tk" text-anchor="middle">45.5</text>
<text x="463.4" y="290.6" class="tk" text-anchor="middle">48.5</text>
<text x="489.8" y="290.6" class="tk" text-anchor="middle">51.5</text>
<text x="516.3" y="290.6" class="tk" text-anchor="middle">54.5</text>
<text x="542.7" y="290.6" class="tk" text-anchor="middle">57.5</text>
<text x="405.9" y="282.2" class="tk" text-anchor="end">310</text>
<text x="405.9" y="249.4" class="tk" text-anchor="end">315</text>
<text x="405.9" y="216.5" class="tk" text-anchor="end">320</text>
<text x="405.9" y="183.6" class="tk" text-anchor="end">325</text>
<text x="405.9" y="150.8" class="tk" text-anchor="end">330</text>
<path d="M410.5,281v3.4M436.9,281v3.4M463.4,281v3.4M489.8,281v3.4M516.3,281v3.4M542.7,281v3.4M410.5,281h-3.4M410.5,248.1h-3.4M410.5,215.2h-3.4M410.5,182.4h-3.4M410.5,149.5h-3.4" stroke="#333" stroke-width=".5"/>
<rect x="478.8" y="162.5" width="8.4" height="4.6" fill="#f2f2f2" stroke="#333" stroke-width=".4"/>
<text x="483" y="166.2" class="lb" text-anchor="middle">170</text>
<rect x="475.6" y="185.2" width="8.4" height="4.6" fill="#f2f2f2" stroke="#333" stroke-width=".4"/>
<text x="479.8" y="188.8" class="lb" text-anchor="middle">160</text>
<rect x="423.3" y="211.7" width="8.4" height="4.6" fill="#f2f2f2" stroke="#333" stroke-width=".4"/>
<text x="427.5" y="215.3" class="lb" text-anchor="middle">140</text>
<rect x="443.8" y="211.7" width="8.4" height="4.6" fill="#f2f2f2" stroke="#333" stroke-width=".4"/>
<text x="448" y="215.3" class="lb" text-anchor="middle">150</text>
<rect x="502.6" y="218.7" width="8.4" height="4.6" fill="#f2f2f2" stroke="#333" stroke-width=".4"/>
<text x="506.8" y="222.3" class="lb" text-anchor="middle">150</text>
<rect x="526.3" y="218.7" width="8.4" height="4.6" fill="#f2f2f2" stroke="#333" stroke-width=".4"/>
<text x="530.5" y="222.3" class="lb" text-anchor="middle">140</text>
<rect x="473.4" y="248.3" width="8.4" height="4.6" fill="#f2f2f2" stroke="#333" stroke-width=".4"/>
<text x="477.6" y="251.9" class="lb" text-anchor="middle">160</text>
<rect x="473.4" y="269.4" width="8.4" height="4.6" fill="#f2f2f2" stroke="#333" stroke-width=".4"/>
<text x="477.6" y="273.1" class="lb" text-anchor="middle">170</text>
<circle cx="410.5" cy="149.5" r="1.4" fill="#b01010"/>
<circle cx="542.7" cy="149.5" r="1.4" fill="#b01010"/>
<circle cx="410.5" cy="281" r="1.4" fill="#b01010"/>
<circle cx="542.7" cy="281" r="1.4" fill="#b01010"/>
<circle cx="476.6" cy="215.2" r="1.4" fill="#b01010"/>
<text x="474.8" y="216.4" class="lb" text-anchor="end" fill="#333">5</text>
<text x="473.3" y="145.9" font-size="6.75" text-anchor="middle">Tool shaft torque/Nm</text>
<text x="477.5" y="299.5" font-size="6.67" text-anchor="middle">A:Shovel blade inclination/°</text>
<text transform="translate(394.2,215) rotate(-90)" font-size="6.7" text-anchor="middle">C:Working width/mm</text>
</g>
</svg>
</body></html>
